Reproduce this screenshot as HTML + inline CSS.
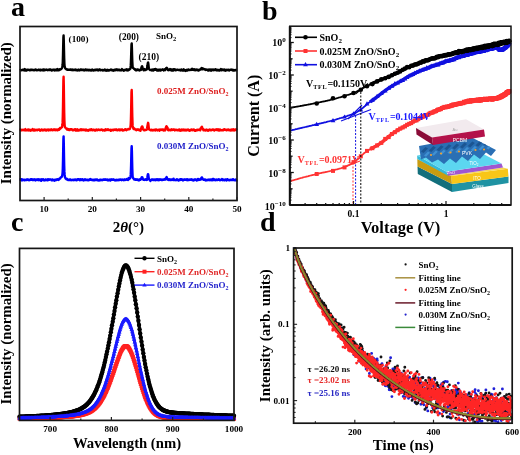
<!DOCTYPE html>
<html><head><meta charset="utf-8"><style>
html,body{margin:0;padding:0;background:#fff;}
svg{display:block;}
svg text{font-family:"Liberation Serif",serif;font-weight:bold;}
</style></head><body>
<svg width="520" height="455" viewBox="0 0 520 455">
<rect width="520" height="455" fill="#fff"/>
<text x="11" y="15.5" font-size="28" text-anchor="start" fill="#000" >a</text>
<path d="M20 70.2 L20.2 70.3 L20.4 70 L20.6 70 L20.8 70 L21 70.1 L21.2 70.1 L21.4 70.1 L21.5 70.2 L21.7 70.1 L21.9 70.2 L22.1 70 L22.3 69.9 L22.5 69.7 L22.7 70 L22.9 70 L23.1 70.1 L23.3 69.8 L23.5 69.8 L23.7 69.8 L23.9 69.9 L24.1 70.2 L24.2 70.4 L24.4 69.9 L24.6 69.3 L24.8 69.1 L25 69.5 L25.2 69.9 L25.4 70 L25.6 70.5 L25.8 70.2 L26 70.1 L26.2 70.1 L26.4 70.4 L26.6 70.6 L26.8 70.1 L26.9 69.7 L27.1 69.6 L27.3 69.7 L27.5 69.8 L27.7 69.7 L27.9 69.6 L28.1 69.7 L28.3 69.8 L28.5 69.8 L28.7 70 L28.9 69.9 L29.1 70 L29.3 70.2 L29.5 70.3 L29.6 70.1 L29.8 70 L30 69.9 L30.2 70.2 L30.4 69.9 L30.6 70.1 L30.8 70 L31 69.9 L31.2 69.7 L31.4 69.7 L31.6 70 L31.8 69.9 L32 69.7 L32.2 69.6 L32.3 69.7 L32.5 70 L32.7 70.1 L32.9 69.9 L33.1 69.9 L33.3 70 L33.5 70.2 L33.7 70 L33.9 69.9 L34.1 70 L34.3 70.3 L34.5 70.1 L34.7 69.8 L34.9 69.6 L35 69.6 L35.2 70 L35.4 70.1 L35.6 69.9 L35.8 69.5 L36 69.6 L36.2 70.1 L36.4 70.2 L36.6 70 L36.8 70 L37 70.2 L37.2 70.3 L37.4 70.3 L37.6 70.2 L37.7 70 L37.9 70.1 L38.1 69.7 L38.3 69.7 L38.5 69.6 L38.7 69.7 L38.9 69.8 L39.1 69.7 L39.3 70.1 L39.5 70 L39.7 70.2 L39.9 70.3 L40.1 70.4 L40.3 70.1 L40.4 69.6 L40.6 69.9 L40.8 70 L41 70.2 L41.2 69.9 L41.4 69.9 L41.6 70.1 L41.8 70.1 L42 70.2 L42.2 69.9 L42.4 69.9 L42.6 69.8 L42.8 70 L43 70.2 L43.1 70.1 L43.3 69.5 L43.5 69.4 L43.7 70.1 L43.9 70.4 L44.1 70 L44.3 69.7 L44.5 69.7 L44.7 69.8 L44.9 69.7 L45.1 69.9 L45.3 69.9 L45.5 70.1 L45.7 69.9 L45.8 69.8 L46 69.7 L46.2 69.6 L46.4 69.8 L46.6 69.6 L46.8 69.6 L47 69.8 L47.2 70 L47.4 70.2 L47.6 70.1 L47.8 70 L48 70 L48.2 69.9 L48.4 70.1 L48.5 69.9 L48.7 70 L48.9 69.8 L49.1 69.8 L49.3 69.5 L49.5 69.5 L49.7 70 L49.9 70 L50.1 70.1 L50.3 69.4 L50.5 69.6 L50.7 69.7 L50.9 70.1 L51.1 70 L51.2 69.8 L51.4 70 L51.6 70.3 L51.8 70.6 L52 70.5 L52.2 70.3 L52.4 69.9 L52.6 69.8 L52.8 69.9 L53 70 L53.2 70 L53.4 69.7 L53.6 69.8 L53.8 69.7 L53.9 69.8 L54.1 69.7 L54.3 70.1 L54.5 70.4 L54.7 70.3 L54.9 69.9 L55.1 70.3 L55.3 70.4 L55.5 70.4 L55.7 69.7 L55.9 69.6 L56.1 69.5 L56.3 69.7 L56.5 69.6 L56.6 70.1 L56.8 70.2 L57 69.8 L57.2 69.6 L57.4 69.1 L57.6 69.8 L57.8 69.8 L58 70.2 L58.2 69.8 L58.4 70 L58.6 70.3 L58.8 70.3 L59 70 L59.2 69.5 L59.3 69.7 L59.5 69.3 L59.7 69.8 L59.9 69.5 L60.1 69.7 L60.3 69.4 L60.5 69.4 L60.7 69.3 L60.9 69 L61.1 69 L61.3 68.7 L61.5 68.6 L61.7 68.4 L61.9 68.2 L62 67.9 L62.2 67.4 L62.4 66.7 L62.6 65 L62.8 61.5 L63 54.9 L63.2 45.8 L63.4 37.4 L63.6 35.5 L63.8 41.1 L64 50.5 L64.2 58.4 L64.4 63.5 L64.6 66 L64.8 66.8 L64.9 67.4 L65.1 68 L65.3 68.4 L65.5 68.7 L65.7 68.7 L65.9 68.9 L66.1 68.9 L66.3 69.1 L66.5 69.5 L66.7 69.2 L66.9 69.6 L67.1 69.5 L67.3 69.6 L67.5 69.4 L67.6 69.5 L67.8 69.8 L68 69.7 L68.2 69.8 L68.4 69.8 L68.6 69.7 L68.8 69.8 L69 69.7 L69.2 69.7 L69.4 69.6 L69.6 69.8 L69.8 69.9 L70 69.8 L70.2 69.8 L70.3 69.5 L70.5 69.5 L70.7 69.4 L70.9 69.5 L71.1 69.7 L71.3 69.7 L71.5 70.1 L71.7 69.9 L71.9 69.8 L72.1 69.7 L72.3 69.4 L72.5 70.1 L72.7 69.9 L72.9 70.2 L73 69.8 L73.2 70 L73.4 69.8 L73.6 69.7 L73.8 69.9 L74 70.1 L74.2 70 L74.4 69.9 L74.6 69.8 L74.8 70 L75 69.9 L75.2 70 L75.4 69.6 L75.6 69.5 L75.7 69.5 L75.9 69.9 L76.1 70 L76.3 70.3 L76.5 70.2 L76.7 70.2 L76.9 69.9 L77.1 70 L77.3 70.3 L77.5 70.4 L77.7 70.1 L77.9 69.8 L78.1 69.7 L78.3 69.7 L78.4 69.8 L78.6 69.8 L78.8 70.2 L79 70.2 L79.2 70.3 L79.4 70.2 L79.6 70.2 L79.8 70.4 L80 70.1 L80.2 70 L80.4 69.6 L80.6 69.7 L80.8 69.6 L81 69.7 L81.1 69.4 L81.3 69.9 L81.5 69.9 L81.7 70.1 L81.9 69.7 L82.1 69.6 L82.3 69.7 L82.5 69.7 L82.7 69.6 L82.9 69.6 L83.1 69.7 L83.3 70 L83.5 70.3 L83.7 70.4 L83.8 70.3 L84 69.8 L84.2 69.9 L84.4 69.9 L84.6 70.2 L84.8 70.4 L85 70 L85.2 69.9 L85.4 69.4 L85.6 69.9 L85.8 69.7 L86 69.8 L86.2 69.7 L86.4 70 L86.5 70.2 L86.7 70 L86.9 69.8 L87.1 69.9 L87.3 70 L87.5 69.8 L87.7 69.8 L87.9 69.9 L88.1 70.4 L88.3 70.2 L88.5 70.2 L88.7 69.9 L88.9 70.1 L89.1 69.8 L89.2 70.1 L89.4 70.2 L89.6 70.2 L89.8 70 L90 69.9 L90.2 70.2 L90.4 70.3 L90.6 70.1 L90.8 70 L91 70 L91.2 70.6 L91.4 70.2 L91.6 70 L91.8 69.8 L91.9 69.9 L92.1 69.8 L92.3 69.6 L92.5 70.1 L92.7 70.2 L92.9 70.2 L93.1 70 L93.3 70.4 L93.5 70.3 L93.7 70.5 L93.9 70 L94.1 70 L94.3 69.8 L94.5 70.1 L94.6 70.3 L94.8 70.2 L95 70.1 L95.2 70.1 L95.4 70.2 L95.6 70.1 L95.8 69.9 L96 69.6 L96.2 69.7 L96.4 69.8 L96.6 69.9 L96.8 70 L97 69.7 L97.2 69.8 L97.3 69.6 L97.5 70.2 L97.7 70 L97.9 70.2 L98.1 70 L98.3 70.3 L98.5 70.5 L98.7 70.1 L98.9 69.6 L99.1 69.5 L99.3 69.5 L99.5 69.9 L99.7 69.5 L99.9 69.9 L100 70.1 L100.2 70.2 L100.4 70.2 L100.6 70 L100.8 70.2 L101 70 L101.2 69.9 L101.4 70.1 L101.6 70.1 L101.8 70.1 L102 70.2 L102.2 70 L102.4 70.1 L102.6 70 L102.7 70.4 L102.9 70.2 L103.1 70.5 L103.3 70.3 L103.5 70.3 L103.7 69.9 L103.9 69.9 L104.1 70 L104.3 69.9 L104.5 69.6 L104.7 69.5 L104.9 69.6 L105.1 70 L105.3 70.3 L105.4 70.6 L105.6 70.5 L105.8 70.1 L106 70 L106.2 70.1 L106.4 70.6 L106.6 70.7 L106.8 70.5 L107 70.1 L107.2 69.9 L107.4 69.8 L107.6 69.7 L107.8 69.8 L108 70.3 L108.2 70.4 L108.3 70.6 L108.5 70.6 L108.7 70.6 L108.9 70.6 L109.1 70.4 L109.3 70.3 L109.5 70.1 L109.7 70 L109.9 70 L110.1 69.9 L110.3 69.9 L110.5 70.1 L110.7 69.9 L110.9 69.9 L111 69.5 L111.2 69.8 L111.4 69.9 L111.6 70.2 L111.8 70.2 L112 70.2 L112.2 70 L112.4 69.9 L112.6 69.9 L112.8 70.2 L113 70.3 L113.2 70.7 L113.4 70.5 L113.6 70.6 L113.7 70.4 L113.9 70.4 L114.1 70 L114.3 69.6 L114.5 69.6 L114.7 70 L114.9 70.3 L115.1 70.3 L115.3 70 L115.5 70 L115.7 69.6 L115.9 69.7 L116.1 69.6 L116.3 69.8 L116.4 70.1 L116.6 69.9 L116.8 69.9 L117 69.3 L117.2 69.8 L117.4 69.8 L117.6 70.1 L117.8 70 L118 70.3 L118.2 69.9 L118.4 69.7 L118.6 69.9 L118.8 69.9 L119 69.9 L119.1 69.6 L119.3 69.9 L119.5 70.1 L119.7 70.3 L119.9 70 L120.1 70.1 L120.3 70 L120.5 70 L120.7 70.1 L120.9 70.4 L121.1 70.5 L121.3 70.3 L121.5 70.1 L121.7 70 L121.8 69.6 L122 69.1 L122.2 69.2 L122.4 69.5 L122.6 69.9 L122.8 70 L123 69.9 L123.2 69.9 L123.4 70.2 L123.6 70.6 L123.8 70.7 L124 70.3 L124.2 70.3 L124.4 69.9 L124.5 70.1 L124.7 69.9 L124.9 70.2 L125.1 70.2 L125.3 70 L125.5 69.8 L125.7 69.9 L125.9 69.9 L126.1 69.8 L126.3 69.4 L126.5 69.3 L126.7 69.6 L126.9 70 L127.1 70.4 L127.2 70.2 L127.4 70 L127.6 69.8 L127.8 69.6 L128 69.8 L128.2 69.9 L128.4 70.2 L128.6 69.8 L128.8 69.6 L129 69.3 L129.2 69.7 L129.4 69.6 L129.6 69.2 L129.8 68.7 L129.9 68.8 L130.1 69 L130.3 68.7 L130.5 67.7 L130.7 65.9 L130.9 62.6 L131.1 57.4 L131.3 50.6 L131.5 44.6 L131.7 43.4 L131.9 47.8 L132.1 55.2 L132.3 61.2 L132.5 64.9 L132.6 66.8 L132.8 67.6 L133 67.8 L133.2 67.8 L133.4 68.2 L133.6 68.3 L133.8 68.6 L134 68.6 L134.2 69 L134.4 68.9 L134.6 68.9 L134.8 69.1 L135 69.7 L135.2 69.9 L135.3 69.7 L135.5 69.4 L135.7 69.4 L135.9 70.1 L136.1 70.4 L136.3 70.3 L136.5 70.3 L136.7 70.2 L136.9 70.1 L137.1 69.5 L137.3 69.5 L137.5 69.9 L137.7 69.9 L137.9 70 L138 69.4 L138.2 69.7 L138.4 69.8 L138.6 70.1 L138.8 70.2 L139 70.1 L139.2 70.3 L139.4 70.5 L139.6 70.5 L139.8 70.3 L140 69.9 L140.2 69.6 L140.4 69.7 L140.6 69.7 L140.7 70.1 L140.9 70.1 L141.1 69.6 L141.3 68.4 L141.5 67.7 L141.7 66.8 L141.9 66.4 L142.1 66.3 L142.3 66.8 L142.5 67.4 L142.7 67.9 L142.9 68.8 L143.1 69.4 L143.3 69.9 L143.4 70 L143.6 70.1 L143.8 70.3 L144 70 L144.2 69.8 L144.4 69.3 L144.6 69.1 L144.8 69.3 L145 69.8 L145.2 70.1 L145.4 70.1 L145.6 69.7 L145.8 69.6 L146 69.6 L146.1 69.7 L146.3 69.5 L146.5 69.4 L146.7 69.5 L146.9 68.9 L147.1 68.2 L147.3 66.4 L147.5 65.3 L147.7 63.8 L147.9 62.8 L148.1 62.5 L148.3 63.6 L148.5 65.3 L148.7 67.1 L148.8 68.1 L149 68.7 L149.2 69.1 L149.4 69.4 L149.6 69.7 L149.8 69.8 L150 69.9 L150.2 70.1 L150.4 70.1 L150.6 69.9 L150.8 70.1 L151 69.8 L151.2 70 L151.4 69.7 L151.6 70.2 L151.7 70.1 L151.9 70.6 L152.1 70.1 L152.3 70 L152.5 69.9 L152.7 69.6 L152.9 69.4 L153.1 69.5 L153.3 70.1 L153.5 70.4 L153.7 70.2 L153.9 70.2 L154.1 69.9 L154.3 69.7 L154.4 69.3 L154.6 69.3 L154.8 69.5 L155 69.7 L155.2 69.1 L155.4 68.9 L155.6 68.9 L155.8 69.6 L156 69.8 L156.2 69.8 L156.4 69.3 L156.6 69.8 L156.8 69.7 L157 70.5 L157.1 70.4 L157.3 70.6 L157.5 70.2 L157.7 70 L157.9 69.7 L158.1 69.9 L158.3 69.8 L158.5 70.1 L158.7 70.3 L158.9 70.6 L159.1 70.4 L159.3 70.4 L159.5 70 L159.7 69.9 L159.8 69.6 L160 69.5 L160.2 69.9 L160.4 70.2 L160.6 70.6 L160.8 70.4 L161 70.3 L161.2 69.9 L161.4 69.7 L161.6 69.8 L161.8 69.9 L162 69.9 L162.2 69.9 L162.4 69.6 L162.5 69.8 L162.7 69.5 L162.9 69.7 L163.1 69.6 L163.3 69.9 L163.5 70.1 L163.7 70.5 L163.9 70.3 L164.1 70 L164.3 69.7 L164.5 69.4 L164.7 69.7 L164.9 70 L165.1 70.2 L165.2 69.8 L165.4 69.3 L165.6 69 L165.8 68.6 L166 68.3 L166.2 68.1 L166.4 68 L166.6 67.8 L166.8 67.9 L167 68.1 L167.2 68.3 L167.4 68.7 L167.6 69.2 L167.8 69.9 L167.9 69.8 L168.1 69.6 L168.3 69.5 L168.5 69.9 L168.7 70.2 L168.9 69.7 L169.1 69.6 L169.3 69.4 L169.5 69.6 L169.7 69.2 L169.9 69.5 L170.1 69.1 L170.3 69.5 L170.5 69.8 L170.6 70.2 L170.8 70.3 L171 70 L171.2 69.8 L171.4 69.4 L171.6 69.7 L171.8 69.9 L172 70.5 L172.2 70 L172.4 70 L172.6 69.7 L172.8 70.2 L173 70.6 L173.2 70.4 L173.3 70 L173.5 69.3 L173.7 69.7 L173.9 69.9 L174.1 70.1 L174.3 69.8 L174.5 69.4 L174.7 69.2 L174.9 69.4 L175.1 69.9 L175.3 70.2 L175.5 69.9 L175.7 69.9 L175.9 70.2 L176 70.2 L176.2 70.1 L176.4 69.7 L176.6 70 L176.8 70 L177 70 L177.2 69.8 L177.4 69.8 L177.6 69.7 L177.8 69.8 L178 69.8 L178.2 70 L178.4 70 L178.6 69.9 L178.7 70 L178.9 70.1 L179.1 70.1 L179.3 70 L179.5 70.1 L179.7 70.2 L179.9 70.1 L180.1 69.8 L180.3 69.9 L180.5 70.1 L180.7 70.4 L180.9 70 L181.1 69.8 L181.3 69.6 L181.4 69.8 L181.6 69.8 L181.8 69.7 L182 70 L182.2 70 L182.4 70.4 L182.6 70.2 L182.8 70.5 L183 70.6 L183.2 70.2 L183.4 69.9 L183.6 69.3 L183.8 69.5 L184 69.6 L184.1 70.2 L184.3 70.5 L184.5 70.3 L184.7 70.2 L184.9 70 L185.1 70.3 L185.3 70.5 L185.5 70.4 L185.7 70.9 L185.9 70.6 L186.1 70.6 L186.3 70 L186.5 70.2 L186.7 70.3 L186.8 70.1 L187 70.2 L187.2 70.1 L187.4 70.5 L187.6 70.5 L187.8 70.3 L188 69.8 L188.2 69.4 L188.4 69.7 L188.6 69.9 L188.8 70.1 L189 69.9 L189.2 69.9 L189.4 70.1 L189.5 70 L189.7 69.8 L189.9 69.6 L190.1 69.7 L190.3 69.6 L190.5 69.8 L190.7 69.9 L190.9 70 L191.1 69.4 L191.3 69.5 L191.5 69.3 L191.7 69.4 L191.9 68.9 L192.1 68.8 L192.2 69.4 L192.4 69.6 L192.6 69.8 L192.8 69.2 L193 69.4 L193.2 69.3 L193.4 69.5 L193.6 69.6 L193.8 69.6 L194 70 L194.2 70.2 L194.4 70 L194.6 69.8 L194.8 69.3 L195 69.7 L195.1 69.9 L195.3 69.9 L195.5 70.2 L195.7 70 L195.9 70 L196.1 69.7 L196.3 69.9 L196.5 69.9 L196.7 69.9 L196.9 69.5 L197.1 70 L197.3 70 L197.5 70.2 L197.7 70.1 L197.8 69.9 L198 69.9 L198.2 70 L198.4 70.2 L198.6 70.6 L198.8 70.2 L199 70.1 L199.2 69.8 L199.4 69.8 L199.6 69.9 L199.8 69.7 L200 69.5 L200.2 69.3 L200.4 69.3 L200.5 69.4 L200.7 69.6 L200.9 69 L201.1 68.8 L201.3 68.3 L201.5 68.2 L201.7 67.9 L201.9 68.1 L202.1 68.5 L202.3 68.8 L202.5 69 L202.7 69.3 L202.9 69.3 L203.1 68.9 L203.2 68.6 L203.4 68.7 L203.6 68.9 L203.8 69.1 L204 69.2 L204.2 69.3 L204.4 69.5 L204.6 69.2 L204.8 69.5 L205 69.2 L205.2 69.3 L205.4 69.4 L205.6 69.5 L205.8 69.9 L205.9 69.6 L206.1 69.8 L206.3 69.5 L206.5 69.7 L206.7 69.7 L206.9 69.7 L207.1 69.8 L207.3 69.7 L207.5 69.7 L207.7 69.7 L207.9 70.2 L208.1 70.5 L208.3 70.4 L208.5 70.6 L208.6 70.2 L208.8 70 L209 69.4 L209.2 69.8 L209.4 70 L209.6 70.4 L209.8 70.4 L210 70.3 L210.2 70 L210.4 69.6 L210.6 70.1 L210.8 70.4 L211 70.7 L211.2 70.2 L211.3 70 L211.5 69.8 L211.7 69.8 L211.9 69.4 L212.1 69.5 L212.3 69.5 L212.5 70 L212.7 70 L212.9 70.2 L213.1 70.2 L213.3 70.3 L213.5 69.7 L213.7 69.5 L213.9 69.6 L214 69.9 L214.2 70 L214.4 69.8 L214.6 69.9 L214.8 70.1 L215 69.7 L215.2 69.5 L215.4 69.1 L215.6 69.1 L215.8 69.4 L216 69.6 L216.2 70 L216.4 69.8 L216.6 70.3 L216.7 70.3 L216.9 70.4 L217.1 70 L217.3 70 L217.5 69.9 L217.7 69.8 L217.9 70.1 L218.1 70.3 L218.3 70.5 L218.5 70.2 L218.7 69.9 L218.9 70.1 L219.1 70.2 L219.3 70.4 L219.4 70.2 L219.6 70.5 L219.8 70.1 L220 69.9 L220.2 69.6 L220.4 69.8 L220.6 69.4 L220.8 69.5 L221 69 L221.2 69.5 L221.4 69.6 L221.6 70.3 L221.8 70 L222 70.1 L222.1 69.8 L222.3 69.8 L222.5 69.4 L222.7 69.4 L222.9 69.7 L223.1 70 L223.3 69.8 L223.5 69.7 L223.7 69.7 L223.9 70.1 L224.1 70.3 L224.3 69.9 L224.5 70 L224.7 69.6 L224.8 69.9 L225 70 L225.2 70.6 L225.4 70.7 L225.6 70.6 L225.8 70.1 L226 70 L226.2 70 L226.4 70.1 L226.6 70.2 L226.8 69.7 L227 69.7 L227.2 69.9 L227.4 70 L227.5 69.9 L227.7 70.1 L227.9 70.2 L228.1 70.3 L228.3 69.8 L228.5 69.6 L228.7 69.6 L228.9 70.1 L229.1 70.1 L229.3 70.5 L229.5 70 L229.7 70.1 L229.9 69.9 L230.1 70 L230.2 70 L230.4 69.8 L230.6 69.9 L230.8 69.7 L231 69.7 L231.2 69.6 L231.4 69.9 L231.6 70 L231.8 70 L232 70 L232.2 69.8 L232.4 70.1 L232.6 70.1 L232.8 70.4 L232.9 70.1 L233.1 70.3 L233.3 69.9 L233.5 70 L233.7 69.9 L233.9 70.4 L234.1 70.6 L234.3 70.5 L234.5 70.3 L234.7 70.1 L234.9 70.1 L235.1 69.9 L235.3 70 L235.5 70.3 L235.6 70.1 L235.8 70.1 L236 70.1 L236.2 70.2 L236.4 70.2 L236.6 69.9 L236.8 70 L237 70" fill="none" stroke="#000" stroke-width="2.4" stroke-linejoin="round"/>
<path d="M20 129.9 L20.2 129.9 L20.4 129.4 L20.6 129.8 L20.8 130.1 L21 130.5 L21.2 130.3 L21.4 130.1 L21.5 130.1 L21.7 130.1 L21.9 130 L22.1 130.1 L22.3 129.7 L22.5 129.9 L22.7 129.9 L22.9 130.2 L23.1 130 L23.3 130 L23.5 129.7 L23.7 130 L23.9 130 L24.1 130.2 L24.2 130.2 L24.4 129.9 L24.6 130 L24.8 130.3 L25 130.2 L25.2 129.8 L25.4 129.1 L25.6 129.6 L25.8 129.9 L26 130.4 L26.2 130.3 L26.4 130.4 L26.6 130.2 L26.8 130.1 L26.9 130.2 L27.1 129.9 L27.3 129.9 L27.5 129.8 L27.7 130.3 L27.9 130.2 L28.1 130 L28.3 129.6 L28.5 129.9 L28.7 130 L28.9 130.4 L29.1 129.8 L29.3 130.1 L29.5 130 L29.6 130.1 L29.8 130 L30 130 L30.2 130.3 L30.4 130.4 L30.6 130.6 L30.8 130.7 L31 130.4 L31.2 129.8 L31.4 129.9 L31.6 129.9 L31.8 130 L32 129.9 L32.2 130.1 L32.3 129.9 L32.5 129.6 L32.7 129.1 L32.9 129.5 L33.1 129.8 L33.3 130.5 L33.5 130.3 L33.7 130.1 L33.9 129.9 L34.1 129.9 L34.3 129.8 L34.5 129.6 L34.7 129.9 L34.9 130.2 L35 130.5 L35.2 130.1 L35.4 129.9 L35.6 130 L35.8 130 L36 130 L36.2 129.8 L36.4 129.7 L36.6 129.8 L36.8 130.1 L37 130.1 L37.2 130.3 L37.4 130 L37.6 130.2 L37.7 129.7 L37.9 129.8 L38.1 129.8 L38.3 129.9 L38.5 129.8 L38.7 129.7 L38.9 129.6 L39.1 129.4 L39.3 129.5 L39.5 129.7 L39.7 130.2 L39.9 130.3 L40.1 130.7 L40.3 130.6 L40.4 130.4 L40.6 130.3 L40.8 130.1 L41 130.3 L41.2 129.8 L41.4 130.1 L41.6 129.5 L41.8 129.9 L42 129.8 L42.2 129.9 L42.4 130.1 L42.6 130.3 L42.8 130.4 L43 130 L43.1 129.8 L43.3 129.8 L43.5 130.1 L43.7 130.2 L43.9 130.1 L44.1 129.9 L44.3 129.7 L44.5 129.5 L44.7 129.5 L44.9 129.6 L45.1 130 L45.3 130.3 L45.5 130.2 L45.7 130.2 L45.8 129.8 L46 130.4 L46.2 130.3 L46.4 130.4 L46.6 129.9 L46.8 129.7 L47 129.7 L47.2 129.8 L47.4 130 L47.6 129.7 L47.8 129.9 L48 129.6 L48.2 130.2 L48.4 130.1 L48.5 130.4 L48.7 129.9 L48.9 130 L49.1 129.6 L49.3 129.8 L49.5 129.7 L49.7 129.8 L49.9 130 L50.1 130.1 L50.3 130.3 L50.5 130.2 L50.7 129.8 L50.9 129.5 L51.1 129.5 L51.2 129.4 L51.4 129.7 L51.6 129.6 L51.8 130 L52 130 L52.2 130.2 L52.4 130.3 L52.6 129.9 L52.8 129.8 L53 129.9 L53.2 129.9 L53.4 130 L53.6 130 L53.8 129.8 L53.9 129.7 L54.1 129.3 L54.3 129.9 L54.5 130 L54.7 130.1 L54.9 129.7 L55.1 129.5 L55.3 129.7 L55.5 130.1 L55.7 130.2 L55.9 130.2 L56.1 130 L56.3 129.5 L56.5 129.6 L56.6 129.7 L56.8 130 L57 129.8 L57.2 129.7 L57.4 130.1 L57.6 130.3 L57.8 129.9 L58 129.8 L58.2 129.4 L58.4 129.7 L58.6 129.3 L58.8 129.7 L59 129.4 L59.2 129.7 L59.3 129.5 L59.5 129.2 L59.7 128.4 L59.9 128.1 L60.1 128.5 L60.3 128.7 L60.5 128.6 L60.7 128.1 L60.9 128 L61.1 127.9 L61.3 127.9 L61.5 127.4 L61.7 127.3 L61.9 127.2 L62 126.6 L62.2 126.1 L62.4 124.8 L62.6 122.4 L62.8 116.4 L63 106.5 L63.2 92.7 L63.4 80.3 L63.6 76.7 L63.8 85.6 L64 100 L64.2 112.5 L64.4 120.3 L64.6 124.6 L64.8 126.6 L64.9 127.1 L65.1 127.5 L65.3 127.4 L65.5 127.9 L65.7 127.9 L65.9 128.3 L66.1 128.2 L66.3 128.6 L66.5 128.9 L66.7 129.4 L66.9 129.5 L67.1 129.4 L67.3 129.2 L67.5 128.8 L67.6 128.9 L67.8 129.3 L68 129.7 L68.2 129.9 L68.4 129.5 L68.6 129.5 L68.8 129.3 L69 129.3 L69.2 129.7 L69.4 130 L69.6 130.1 L69.8 129.7 L70 129.5 L70.2 129.4 L70.3 129.6 L70.5 129.4 L70.7 129.6 L70.9 129.4 L71.1 129.5 L71.3 129.3 L71.5 129.3 L71.7 129.2 L71.9 129.3 L72.1 129.5 L72.3 129.7 L72.5 130.1 L72.7 130.3 L72.9 130.3 L73 130.1 L73.2 129.9 L73.4 130.2 L73.6 130.2 L73.8 130 L74 129.9 L74.2 130 L74.4 129.7 L74.6 129.5 L74.8 129.2 L75 129.4 L75.2 129.3 L75.4 129.2 L75.6 129.7 L75.7 129.9 L75.9 130.6 L76.1 130.4 L76.3 130.6 L76.5 130.1 L76.7 130.2 L76.9 129.8 L77.1 129.4 L77.3 129.3 L77.5 129.6 L77.7 130.2 L77.9 130.5 L78.1 130.5 L78.3 130 L78.4 130.2 L78.6 130.3 L78.8 130.4 L79 130.1 L79.2 129.7 L79.4 130 L79.6 130.1 L79.8 130.3 L80 130.1 L80.2 130.1 L80.4 130 L80.6 129.7 L80.8 129.4 L81 129.2 L81.1 129.5 L81.3 130.1 L81.5 130.2 L81.7 130.1 L81.9 129.8 L82.1 129.9 L82.3 129.9 L82.5 129.6 L82.7 130 L82.9 129.9 L83.1 130.1 L83.3 130 L83.5 130 L83.7 129.7 L83.8 129.5 L84 129.7 L84.2 130 L84.4 130.1 L84.6 129.8 L84.8 129.9 L85 129.9 L85.2 130.1 L85.4 130.5 L85.6 130.3 L85.8 130.1 L86 129.5 L86.2 129.7 L86.4 129.9 L86.5 130.4 L86.7 130.2 L86.9 130.5 L87.1 130.6 L87.3 130.4 L87.5 130.2 L87.7 130.2 L87.9 130 L88.1 130.2 L88.3 130.2 L88.5 130.7 L88.7 130.3 L88.9 130.2 L89.1 129.8 L89.2 129.8 L89.4 129.7 L89.6 129.9 L89.8 129.8 L90 130 L90.2 130.2 L90.4 130 L90.6 130.1 L90.8 129.6 L91 129.4 L91.2 129.2 L91.4 129.6 L91.6 130 L91.8 129.8 L91.9 129.8 L92.1 129.7 L92.3 130.2 L92.5 130.2 L92.7 130.3 L92.9 129.9 L93.1 129.9 L93.3 129.7 L93.5 130 L93.7 129.9 L93.9 129.8 L94.1 129.8 L94.3 130.3 L94.5 130.5 L94.6 130.4 L94.8 130 L95 130.2 L95.2 130.2 L95.4 130.6 L95.6 130.5 L95.8 130.2 L96 129.8 L96.2 129.5 L96.4 129.5 L96.6 129.8 L96.8 130.1 L97 130.1 L97.2 130.2 L97.3 130.1 L97.5 130.2 L97.7 129.9 L97.9 129.9 L98.1 129.9 L98.3 129.5 L98.5 129.5 L98.7 129.7 L98.9 129.6 L99.1 129.7 L99.3 129.7 L99.5 130.1 L99.7 130 L99.9 129.9 L100 129.8 L100.2 129.7 L100.4 130 L100.6 129.9 L100.8 130 L101 129.8 L101.2 129.9 L101.4 129.8 L101.6 129.5 L101.8 129.5 L102 129.6 L102.2 129.9 L102.4 129.9 L102.6 130.4 L102.7 130.3 L102.9 130.5 L103.1 129.9 L103.3 129.9 L103.5 130.1 L103.7 130.1 L103.9 130.4 L104.1 130.4 L104.3 130.2 L104.5 130.2 L104.7 129.9 L104.9 130.6 L105.1 130.3 L105.3 130.2 L105.4 129.4 L105.6 129.2 L105.8 129.3 L106 129.5 L106.2 129.5 L106.4 129.5 L106.6 129.6 L106.8 130.1 L107 129.9 L107.2 129.8 L107.4 129.4 L107.6 129.4 L107.8 129.3 L108 129.3 L108.2 129.7 L108.3 129.9 L108.5 130 L108.7 130 L108.9 130 L109.1 130.1 L109.3 130.1 L109.5 129.9 L109.7 130 L109.9 130 L110.1 130.1 L110.3 129.8 L110.5 130 L110.7 130.1 L110.9 130.8 L111 130.4 L111.2 130.6 L111.4 129.9 L111.6 130.1 L111.8 130.1 L112 130 L112.2 130 L112.4 129.8 L112.6 130 L112.8 130.1 L113 130.3 L113.2 130.4 L113.4 130.4 L113.6 130.1 L113.7 129.8 L113.9 129.6 L114.1 129.5 L114.3 129.9 L114.5 129.9 L114.7 129.8 L114.9 129.8 L115.1 129.7 L115.3 129.8 L115.5 129.6 L115.7 129.9 L115.9 129.6 L116.1 129.4 L116.3 129.4 L116.4 129.7 L116.6 129.8 L116.8 129.6 L117 130 L117.2 130 L117.4 130.3 L117.6 130.2 L117.8 130.2 L118 130.1 L118.2 129.9 L118.4 129.9 L118.6 129.6 L118.8 129.8 L119 129.8 L119.1 129.9 L119.3 129.6 L119.5 130 L119.7 130.2 L119.9 130.4 L120.1 129.9 L120.3 129.5 L120.5 129.6 L120.7 129.8 L120.9 129.8 L121.1 130 L121.3 130 L121.5 130.1 L121.7 129.8 L121.8 129.6 L122 129.8 L122.2 129.9 L122.4 129.6 L122.6 129.9 L122.8 129.9 L123 130.5 L123.2 130.4 L123.4 130.3 L123.6 130.2 L123.8 130.1 L124 130.2 L124.2 130.1 L124.4 129.9 L124.5 129.7 L124.7 129.6 L124.9 129.6 L125.1 129.2 L125.3 129.4 L125.5 129.3 L125.7 129.6 L125.9 129.5 L126.1 129.8 L126.3 130.2 L126.5 130.2 L126.7 129.9 L126.9 129.5 L127.1 129.4 L127.2 129.7 L127.4 129.5 L127.6 129.5 L127.8 129.2 L128 129.2 L128.2 129 L128.4 128.9 L128.6 128.9 L128.8 129.4 L129 129.4 L129.2 129.2 L129.4 128.9 L129.6 128.9 L129.8 129 L129.9 128.7 L130.1 128.1 L130.3 127.4 L130.5 126.6 L130.7 124.6 L130.9 120.3 L131.1 112.3 L131.3 101.8 L131.5 92.1 L131.7 90 L131.9 96.6 L132.1 107.5 L132.3 116.7 L132.5 122.5 L132.6 125.4 L132.8 126.7 L133 127.1 L133.2 127.8 L133.4 128.6 L133.6 129 L133.8 129.1 L134 128.7 L134.2 128.7 L134.4 128.6 L134.6 129.3 L134.8 129.4 L135 129.4 L135.2 129.5 L135.3 129.4 L135.5 129.7 L135.7 129.5 L135.9 129.9 L136.1 129.8 L136.3 130.2 L136.5 130.1 L136.7 130 L136.9 129.5 L137.1 129.6 L137.3 129.4 L137.5 129.7 L137.7 129.9 L137.9 129.9 L138 129.4 L138.2 129.5 L138.4 129.9 L138.6 129.8 L138.8 129.7 L139 129.7 L139.2 130 L139.4 130.1 L139.6 129.7 L139.8 130 L140 129.9 L140.2 130.6 L140.4 130.8 L140.6 130.6 L140.7 129.9 L140.9 129.2 L141.1 128.7 L141.3 128.2 L141.5 127.2 L141.7 126.9 L141.9 126.5 L142.1 126.5 L142.3 126.4 L142.5 126.9 L142.7 127.9 L142.9 128.6 L143.1 129.1 L143.3 129.5 L143.4 129.6 L143.6 130 L143.8 130.2 L144 130.2 L144.2 130 L144.4 129.8 L144.6 130 L144.8 130.2 L145 130.2 L145.2 130 L145.4 130 L145.6 130.1 L145.8 130 L146 129.9 L146.1 129.7 L146.3 129.7 L146.5 129.8 L146.7 129.6 L146.9 129.3 L147.1 128.4 L147.3 127 L147.5 125.8 L147.7 124.6 L147.9 123.5 L148.1 122.8 L148.3 123.6 L148.5 125.4 L148.7 127.1 L148.8 128.4 L149 128.8 L149.2 129.4 L149.4 129.6 L149.6 129.7 L149.8 129.6 L150 129.6 L150.2 130.2 L150.4 130.2 L150.6 130.1 L150.8 130.2 L151 130.3 L151.2 130 L151.4 129.7 L151.6 129.7 L151.7 130.1 L151.9 130.2 L152.1 130.1 L152.3 130.3 L152.5 130.2 L152.7 130.4 L152.9 130.1 L153.1 130.3 L153.3 130.3 L153.5 130.3 L153.7 130.1 L153.9 129.8 L154.1 129.7 L154.3 129.7 L154.4 129.9 L154.6 129.9 L154.8 129.9 L155 130.1 L155.2 130.4 L155.4 130.1 L155.6 129.9 L155.8 129.5 L156 129.4 L156.2 129.5 L156.4 129.5 L156.6 129.9 L156.8 129.7 L157 130 L157.1 130.3 L157.3 130.5 L157.5 130.4 L157.7 130.1 L157.9 130.1 L158.1 129.9 L158.3 129.9 L158.5 129.7 L158.7 129.9 L158.9 130.1 L159.1 130.3 L159.3 130.4 L159.5 130.8 L159.7 130.3 L159.8 130.1 L160 129.5 L160.2 129.8 L160.4 129.6 L160.6 129.7 L160.8 129.7 L161 129.8 L161.2 129.8 L161.4 129.7 L161.6 129.4 L161.8 129.7 L162 129.7 L162.2 130 L162.4 129.8 L162.5 129.8 L162.7 129.5 L162.9 129.6 L163.1 129.4 L163.3 129.8 L163.5 129.7 L163.7 130.2 L163.9 130.5 L164.1 130.5 L164.3 130.1 L164.5 129.8 L164.7 129.9 L164.9 130.4 L165.1 130.4 L165.2 129.9 L165.4 129.4 L165.6 128.8 L165.8 128.2 L166 127.2 L166.2 126.7 L166.4 126.3 L166.6 126.3 L166.8 126.6 L167 127.2 L167.2 127.3 L167.4 127.5 L167.6 128.1 L167.8 129 L167.9 130 L168.1 130.2 L168.3 130.3 L168.5 130.1 L168.7 130.3 L168.9 130.3 L169.1 130.2 L169.3 129.8 L169.5 129.7 L169.7 129.8 L169.9 129.8 L170.1 130.1 L170.3 130 L170.5 130.4 L170.6 130.4 L170.8 130.4 L171 129.9 L171.2 129.5 L171.4 129.3 L171.6 129.9 L171.8 129.8 L172 129.8 L172.2 129.6 L172.4 130 L172.6 129.9 L172.8 129.7 L173 129.6 L173.2 129.5 L173.3 129.8 L173.5 129.6 L173.7 129.7 L173.9 129.5 L174.1 129.4 L174.3 129.8 L174.5 129.9 L174.7 130.4 L174.9 130.3 L175.1 130.3 L175.3 129.9 L175.5 129.9 L175.7 130.1 L175.9 129.8 L176 130 L176.2 129.7 L176.4 130 L176.6 130 L176.8 130.2 L177 130.3 L177.2 130.1 L177.4 130 L177.6 130 L177.8 130 L178 130 L178.2 130.2 L178.4 130.2 L178.6 130.2 L178.7 129.8 L178.9 129.8 L179.1 129.4 L179.3 129.8 L179.5 129.6 L179.7 130.2 L179.9 130.6 L180.1 130.7 L180.3 130.7 L180.5 130.2 L180.7 130.2 L180.9 129.8 L181.1 129.8 L181.3 130.2 L181.4 130.4 L181.6 130 L181.8 129.6 L182 129.5 L182.2 130 L182.4 130.3 L182.6 130.4 L182.8 130.3 L183 130.2 L183.2 130.2 L183.4 129.9 L183.6 129.6 L183.8 129.7 L184 129.8 L184.1 130.3 L184.3 130 L184.5 129.8 L184.7 129.8 L184.9 130.1 L185.1 130.5 L185.3 130.2 L185.5 130.1 L185.7 129.8 L185.9 130 L186.1 129.8 L186.3 130.1 L186.5 130.2 L186.7 130.4 L186.8 130 L187 130 L187.2 129.9 L187.4 130.1 L187.6 129.7 L187.8 129.6 L188 129.9 L188.2 130 L188.4 129.7 L188.6 129.7 L188.8 129.8 L189 130.5 L189.2 130.2 L189.4 130.7 L189.5 130.5 L189.7 130.8 L189.9 130.7 L190.1 130.4 L190.3 130.5 L190.5 130.1 L190.7 130.1 L190.9 129.7 L191.1 129.5 L191.3 129.5 L191.5 129.5 L191.7 129.9 L191.9 130.2 L192.1 130.3 L192.2 130.2 L192.4 130 L192.6 129.7 L192.8 129.8 L193 129.7 L193.2 130 L193.4 129.8 L193.6 129.4 L193.8 129.4 L194 129.6 L194.2 130.3 L194.4 130.5 L194.6 130.7 L194.8 130.5 L195 130.5 L195.1 130.2 L195.3 130.3 L195.5 130.2 L195.7 130.8 L195.9 130.7 L196.1 130.3 L196.3 130.1 L196.5 129.9 L196.7 130.1 L196.9 129.8 L197.1 129.8 L197.3 130 L197.5 130.2 L197.7 130.2 L197.8 130 L198 129.8 L198.2 130 L198.4 130 L198.6 129.9 L198.8 129.7 L199 129.7 L199.2 129.8 L199.4 129.8 L199.6 129.8 L199.8 129.8 L200 130.4 L200.2 130.4 L200.4 129.6 L200.5 128.8 L200.7 128.3 L200.9 128.4 L201.1 128.3 L201.3 128.1 L201.5 127.2 L201.7 126.8 L201.9 126.7 L202.1 127.4 L202.3 127.9 L202.5 128.2 L202.7 128.8 L202.9 128.7 L203.1 129.2 L203.2 129.4 L203.4 130.3 L203.6 130.2 L203.8 129.9 L204 129.7 L204.2 129.7 L204.4 130.3 L204.6 130 L204.8 130 L205 129.9 L205.2 130.1 L205.4 130.4 L205.6 129.9 L205.8 130.2 L205.9 129.9 L206.1 130.3 L206.3 129.9 L206.5 129.7 L206.7 129.5 L206.9 129.7 L207.1 130.3 L207.3 130.4 L207.5 130.5 L207.7 130.3 L207.9 130.8 L208.1 130.5 L208.3 130.6 L208.5 130.1 L208.6 130.2 L208.8 129.9 L209 130.2 L209.2 129.9 L209.4 129.7 L209.6 129.5 L209.8 129.5 L210 129.9 L210.2 130.1 L210.4 130.2 L210.6 130.2 L210.8 129.9 L211 130 L211.2 129.9 L211.3 130.3 L211.5 130.3 L211.7 130.2 L211.9 129.7 L212.1 129.9 L212.3 129.7 L212.5 129.8 L212.7 129.5 L212.9 129.4 L213.1 129.4 L213.3 129.6 L213.5 130.1 L213.7 130.1 L213.9 130 L214 130.1 L214.2 130.6 L214.4 130.3 L214.6 130.2 L214.8 129.8 L215 129.9 L215.2 130 L215.4 130 L215.6 129.9 L215.8 129.6 L216 129.5 L216.2 129.3 L216.4 129.4 L216.6 129.5 L216.7 129.8 L216.9 130.1 L217.1 130.1 L217.3 130 L217.5 130 L217.7 130.2 L217.9 129.8 L218.1 129.3 L218.3 129.4 L218.5 129.9 L218.7 130.4 L218.9 130 L219.1 130.1 L219.3 130.3 L219.4 130.5 L219.6 130.2 L219.8 129.6 L220 129.7 L220.2 129.5 L220.4 130 L220.6 129.9 L220.8 130.3 L221 130.4 L221.2 130.2 L221.4 130.3 L221.6 130.2 L221.8 130.3 L222 130.1 L222.1 130.2 L222.3 130.2 L222.5 130.3 L222.7 130 L222.9 129.9 L223.1 130.4 L223.3 130.4 L223.5 130.4 L223.7 129.8 L223.9 129.5 L224.1 129.2 L224.3 129.5 L224.5 129.7 L224.7 129.8 L224.8 129.5 L225 129.5 L225.2 129.6 L225.4 129.6 L225.6 129.7 L225.8 129.8 L226 130.1 L226.2 130.1 L226.4 130 L226.6 130.3 L226.8 129.9 L227 130.1 L227.2 130 L227.4 130.1 L227.5 130.1 L227.7 129.8 L227.9 129.5 L228.1 129.4 L228.3 129.5 L228.5 129.9 L228.7 130 L228.9 130.2 L229.1 130.2 L229.3 130.2 L229.5 130.1 L229.7 130 L229.9 129.8 L230.1 130.2 L230.2 129.9 L230.4 130 L230.6 129.8 L230.8 130.2 L231 130.5 L231.2 130.4 L231.4 130.1 L231.6 129.8 L231.8 129.4 L232 129.8 L232.2 130.2 L232.4 130.3 L232.6 130.3 L232.8 129.9 L232.9 129.7 L233.1 129.6 L233.3 129.3 L233.5 129.5 L233.7 129.6 L233.9 130 L234.1 130.4 L234.3 130.3 L234.5 130.2 L234.7 130 L234.9 130.2 L235.1 129.6 L235.3 129.4 L235.5 129.5 L235.6 129.8 L235.8 130 L236 130 L236.2 129.8 L236.4 129.7 L236.6 129.6 L236.8 130 L237 130" fill="none" stroke="#f00" stroke-width="2.4" stroke-linejoin="round"/>
<path d="M20 179.7 L20.2 179.8 L20.4 179.3 L20.6 179.7 L20.8 179.6 L21 179.3 L21.2 179.3 L21.4 179.2 L21.5 180.2 L21.7 180.3 L21.9 180.4 L22.1 179.7 L22.3 179.6 L22.5 179.4 L22.7 179.4 L22.9 179.6 L23.1 179.8 L23.3 180 L23.5 179.9 L23.7 179.9 L23.9 180 L24.1 180.2 L24.2 180.1 L24.4 179.8 L24.6 179.8 L24.8 180.2 L25 180.2 L25.2 180.1 L25.4 179.9 L25.6 179.8 L25.8 179.8 L26 179.7 L26.2 180 L26.4 180.1 L26.6 180 L26.8 179.4 L26.9 179.6 L27.1 179.3 L27.3 179.5 L27.5 179.4 L27.7 179.7 L27.9 179.9 L28.1 179.6 L28.3 179.5 L28.5 179.6 L28.7 180 L28.9 180.2 L29.1 180.2 L29.3 180.2 L29.5 180 L29.6 179.8 L29.8 179.7 L30 179.8 L30.2 180 L30.4 179.7 L30.6 179.7 L30.8 179.2 L31 179.5 L31.2 179.6 L31.4 179.7 L31.6 179.6 L31.8 179.3 L32 179.8 L32.2 179.4 L32.3 179.4 L32.5 179.4 L32.7 180 L32.9 179.7 L33.1 179.5 L33.3 179.4 L33.5 179.6 L33.7 180 L33.9 179.8 L34.1 179.9 L34.3 179.4 L34.5 179.9 L34.7 179.9 L34.9 180 L35 179.4 L35.2 179.7 L35.4 179.9 L35.6 180.4 L35.8 180.3 L36 180.2 L36.2 179.9 L36.4 179.6 L36.6 179.4 L36.8 179.7 L37 179.6 L37.2 179.7 L37.4 179.4 L37.6 179.7 L37.7 179.9 L37.9 179.7 L38.1 179.3 L38.3 179.2 L38.5 179.7 L38.7 180.1 L38.9 180.2 L39.1 179.9 L39.3 179.8 L39.5 179.7 L39.7 179.9 L39.9 179.7 L40.1 179.8 L40.3 179.6 L40.4 179.9 L40.6 179.9 L40.8 180.4 L41 180.6 L41.2 180.8 L41.4 180 L41.6 179.6 L41.8 179.2 L42 179.7 L42.2 179.4 L42.4 179.7 L42.6 179.8 L42.8 180 L43 179.6 L43.1 179.2 L43.3 179.5 L43.5 179.8 L43.7 180.3 L43.9 180.2 L44.1 180.3 L44.3 179.9 L44.5 180.3 L44.7 180.3 L44.9 180.5 L45.1 180 L45.3 179.8 L45.5 179.4 L45.7 179.9 L45.8 180 L46 180.1 L46.2 179.8 L46.4 179.7 L46.6 179.7 L46.8 179.6 L47 179.6 L47.2 180.1 L47.4 180.3 L47.6 180.1 L47.8 179.4 L48 179.2 L48.2 179.4 L48.4 179.8 L48.5 180 L48.7 180 L48.9 179.9 L49.1 179.9 L49.3 179.5 L49.5 179.4 L49.7 179.4 L49.9 179.6 L50.1 179.6 L50.3 179.4 L50.5 179.5 L50.7 179.7 L50.9 179.8 L51.1 179.8 L51.2 179.8 L51.4 180 L51.6 180.3 L51.8 179.8 L52 179.8 L52.2 179.4 L52.4 179.8 L52.6 179.8 L52.8 180.1 L53 180.3 L53.2 180.2 L53.4 180.3 L53.6 180 L53.8 179.9 L53.9 179.8 L54.1 179.7 L54.3 180.2 L54.5 180.2 L54.7 180.7 L54.9 180.3 L55.1 180 L55.3 179.7 L55.5 179.8 L55.7 179.8 L55.9 179.8 L56.1 179.6 L56.3 180 L56.5 179.8 L56.6 180 L56.8 179.6 L57 179.5 L57.2 179.2 L57.4 179.1 L57.6 179.3 L57.8 179.6 L58 179.8 L58.2 179.9 L58.4 180 L58.6 179.9 L58.8 179.8 L59 179.4 L59.2 178.9 L59.3 178.9 L59.5 178.4 L59.7 178.7 L59.9 178.3 L60.1 178.6 L60.3 178.2 L60.5 177.8 L60.7 177.5 L60.9 177.2 L61.1 177.2 L61.3 177.1 L61.5 177 L61.7 176.9 L61.9 176.6 L62 176.3 L62.2 175.4 L62.4 174.6 L62.6 172.5 L62.8 168.8 L63 161.1 L63.2 149.7 L63.4 139.2 L63.6 136.4 L63.8 143.8 L64 155.5 L64.2 165.4 L64.4 171.4 L64.6 174.2 L64.8 175.8 L64.9 177 L65.1 177.4 L65.3 177.9 L65.5 178.3 L65.7 178.6 L65.9 178.5 L66.1 178.5 L66.3 178.7 L66.5 179.3 L66.7 179.4 L66.9 179.4 L67.1 179 L67.3 179 L67.5 179.7 L67.6 179.8 L67.8 179.9 L68 179.6 L68.2 179.6 L68.4 180 L68.6 179.9 L68.8 180 L69 179.7 L69.2 179.9 L69.4 179.5 L69.6 179.8 L69.8 179.7 L70 180 L70.2 179.5 L70.3 179.4 L70.5 179.5 L70.7 179.8 L70.9 180.1 L71.1 180.2 L71.3 180.2 L71.5 180.1 L71.7 180 L71.9 180 L72.1 180 L72.3 179.9 L72.5 180.1 L72.7 180.1 L72.9 179.9 L73 179.8 L73.2 180.1 L73.4 180.2 L73.6 180 L73.8 179.7 L74 179.9 L74.2 179.6 L74.4 179.7 L74.6 179.7 L74.8 179.9 L75 180.1 L75.2 180 L75.4 180 L75.6 179.8 L75.7 179.4 L75.9 179.4 L76.1 179.7 L76.3 179.8 L76.5 180.3 L76.7 179.9 L76.9 180.3 L77.1 179.9 L77.3 179.5 L77.5 179.3 L77.7 179.3 L77.9 179.5 L78.1 179.3 L78.3 179.4 L78.4 179.5 L78.6 179.4 L78.8 179.2 L79 179.5 L79.2 179.7 L79.4 180 L79.6 180.1 L79.8 180.2 L80 179.9 L80.2 179.3 L80.4 179.3 L80.6 179.7 L80.8 180 L81 180.1 L81.1 179.8 L81.3 179.9 L81.5 179.7 L81.7 179.7 L81.9 179.4 L82.1 179.2 L82.3 179.2 L82.5 179.2 L82.7 179.3 L82.9 179.5 L83.1 179.7 L83.3 180.4 L83.5 180.5 L83.7 180.4 L83.8 180 L84 179.9 L84.2 179.9 L84.4 179.9 L84.6 179.7 L84.8 179.3 L85 179.2 L85.2 179.3 L85.4 180.1 L85.6 179.8 L85.8 179.7 L86 179.7 L86.2 179.7 L86.4 179.9 L86.5 179.9 L86.7 180.1 L86.9 180.1 L87.1 179.8 L87.3 179.9 L87.5 179.8 L87.7 179.9 L87.9 179.9 L88.1 180.4 L88.3 180.3 L88.5 180 L88.7 179.7 L88.9 179.7 L89.1 179.9 L89.2 179.8 L89.4 180.1 L89.6 179.9 L89.8 179.9 L90 179.2 L90.2 179.1 L90.4 179.4 L90.6 179.8 L90.8 179.8 L91 179.3 L91.2 179.5 L91.4 179.7 L91.6 179.7 L91.8 179.7 L91.9 179.7 L92.1 180.1 L92.3 179.9 L92.5 180.1 L92.7 180.1 L92.9 180.2 L93.1 179.7 L93.3 179.6 L93.5 179.8 L93.7 179.9 L93.9 180.1 L94.1 180 L94.3 180.3 L94.5 180.3 L94.6 180.2 L94.8 179.6 L95 179.5 L95.2 179.6 L95.4 180 L95.6 180.1 L95.8 179.8 L96 179.7 L96.2 179.5 L96.4 179.8 L96.6 179.9 L96.8 180 L97 179.5 L97.2 179.4 L97.3 179.8 L97.5 180.1 L97.7 180 L97.9 180 L98.1 180.2 L98.3 180.5 L98.5 180.4 L98.7 180.3 L98.9 180.2 L99.1 180.2 L99.3 179.9 L99.5 180.1 L99.7 180 L99.9 180.5 L100 179.8 L100.2 179.9 L100.4 179.7 L100.6 180 L100.8 180 L101 179.9 L101.2 180.1 L101.4 179.9 L101.6 179.8 L101.8 179.9 L102 180.2 L102.2 180.2 L102.4 180.1 L102.6 179.9 L102.7 180 L102.9 179.8 L103.1 179.5 L103.3 179.4 L103.5 179.4 L103.7 179.5 L103.9 179.5 L104.1 179.8 L104.3 179.7 L104.5 179.8 L104.7 179.4 L104.9 179.7 L105.1 179.3 L105.3 179.4 L105.4 179.4 L105.6 179.6 L105.8 179.7 L106 179.5 L106.2 179.6 L106.4 179.8 L106.6 179.9 L106.8 180 L107 179.8 L107.2 179.8 L107.4 179.5 L107.6 179.8 L107.8 180.1 L108 180.4 L108.2 180.2 L108.3 180 L108.5 179.9 L108.7 179.8 L108.9 180 L109.1 180 L109.3 179.9 L109.5 179.8 L109.7 179.6 L109.9 180.1 L110.1 180.6 L110.3 180.6 L110.5 180.2 L110.7 179.4 L110.9 179.4 L111 179.4 L111.2 179.6 L111.4 179.7 L111.6 179.4 L111.8 179.6 L112 179.5 L112.2 179.5 L112.4 179.7 L112.6 179.9 L112.8 179.9 L113 179.5 L113.2 179.4 L113.4 179.6 L113.6 179.7 L113.7 179.5 L113.9 179.5 L114.1 179.7 L114.3 179.9 L114.5 180 L114.7 180.3 L114.9 180.4 L115.1 180.5 L115.3 180.4 L115.5 180.3 L115.7 180.3 L115.9 179.9 L116.1 179.8 L116.3 179.7 L116.4 180.2 L116.6 180.1 L116.8 180.2 L117 179.9 L117.2 180.2 L117.4 180.2 L117.6 180.1 L117.8 179.8 L118 179.7 L118.2 179.8 L118.4 179.7 L118.6 179.8 L118.8 180.2 L119 180.1 L119.1 180.1 L119.3 179.7 L119.5 179.9 L119.7 179.6 L119.9 179.5 L120.1 179.4 L120.3 179.7 L120.5 179.8 L120.7 179.8 L120.9 179.5 L121.1 179.6 L121.3 180 L121.5 180.2 L121.7 180.1 L121.8 179.9 L122 179.7 L122.2 179.6 L122.4 179.5 L122.6 179.7 L122.8 179.7 L123 179.6 L123.2 179.7 L123.4 180 L123.6 180.2 L123.8 180.1 L124 179.8 L124.2 180 L124.4 179.6 L124.5 179.9 L124.7 179.6 L124.9 180.1 L125.1 179.8 L125.3 179.8 L125.5 179.6 L125.7 179.7 L125.9 179.6 L126.1 179.6 L126.3 179.3 L126.5 179.1 L126.7 179.4 L126.9 179.6 L127.1 179.9 L127.2 179.9 L127.4 179.6 L127.6 179.5 L127.8 179.6 L128 179.9 L128.2 179.5 L128.4 178.5 L128.6 178.1 L128.8 178.6 L129 179 L129.2 179.1 L129.4 178.9 L129.6 178.6 L129.8 178.5 L129.9 178.3 L130.1 178.1 L130.3 177.7 L130.5 176.5 L130.7 174.9 L130.9 171.4 L131.1 165.4 L131.3 156.9 L131.5 148.8 L131.7 146.2 L131.9 151.2 L132.1 160.5 L132.3 168.9 L132.5 173.9 L132.6 176.1 L132.8 176.9 L133 177.6 L133.2 178 L133.4 178.6 L133.6 178.6 L133.8 179.1 L134 179.2 L134.2 179.5 L134.4 179.6 L134.6 179.4 L134.8 179.3 L135 179.2 L135.2 179.5 L135.3 179.7 L135.5 179.7 L135.7 179.6 L135.9 179.2 L136.1 179.2 L136.3 179.5 L136.5 179.5 L136.7 179.8 L136.9 179.7 L137.1 179.9 L137.3 179.4 L137.5 179.4 L137.7 179.6 L137.9 179.5 L138 179.7 L138.2 179.9 L138.4 180.3 L138.6 180.2 L138.8 180.3 L139 180.5 L139.2 180.2 L139.4 179.8 L139.6 179.5 L139.8 179.7 L140 179.2 L140.2 179.4 L140.4 179.3 L140.6 179.7 L140.7 179.3 L140.9 179.3 L141.1 178.8 L141.3 178.2 L141.5 177.5 L141.7 177.3 L141.9 177.1 L142.1 177.2 L142.3 177.3 L142.5 177.8 L142.7 178.5 L142.9 178.8 L143.1 179.5 L143.3 179.4 L143.4 179.8 L143.6 179.5 L143.8 179.4 L144 179.6 L144.2 179.8 L144.4 180 L144.6 179.7 L144.8 179.8 L145 179.5 L145.2 179.4 L145.4 179.3 L145.6 179.4 L145.8 179.5 L146 179.5 L146.1 179.6 L146.3 179.7 L146.5 179.9 L146.7 180 L146.9 179.9 L147.1 179.1 L147.3 177.9 L147.5 176.4 L147.7 175.3 L147.9 174.2 L148.1 174.2 L148.3 174.9 L148.5 176.5 L148.7 177.9 L148.8 178.6 L149 179.1 L149.2 179.2 L149.4 179.7 L149.6 179.7 L149.8 180.1 L150 180.4 L150.2 180.6 L150.4 180.9 L150.6 180.4 L150.8 180.2 L151 180 L151.2 180.3 L151.4 180.2 L151.6 180 L151.7 179.4 L151.9 179.5 L152.1 179.7 L152.3 179.9 L152.5 179.8 L152.7 179.4 L152.9 179.5 L153.1 179.7 L153.3 180.1 L153.5 180.1 L153.7 179.7 L153.9 179.9 L154.1 179.9 L154.3 180.1 L154.4 179.9 L154.6 179.5 L154.8 179.5 L155 179.4 L155.2 179.8 L155.4 180.1 L155.6 180.2 L155.8 179.8 L156 179.5 L156.2 179.4 L156.4 179.8 L156.6 179.6 L156.8 179.3 L157 179.4 L157.1 179.7 L157.3 180 L157.5 179.5 L157.7 179.8 L157.9 179.3 L158.1 179.5 L158.3 179.6 L158.5 180.1 L158.7 180.2 L158.9 179.6 L159.1 179.9 L159.3 179.6 L159.5 179.9 L159.7 179.6 L159.8 179.7 L160 179.8 L160.2 179.5 L160.4 179.6 L160.6 179.4 L160.8 179.6 L161 179.8 L161.2 180 L161.4 180 L161.6 179.8 L161.8 179.5 L162 179.5 L162.2 179.8 L162.4 179.8 L162.5 180 L162.7 179.8 L162.9 179.7 L163.1 179.8 L163.3 179.6 L163.5 179.8 L163.7 179.9 L163.9 179.9 L164.1 179.9 L164.3 179.3 L164.5 179.4 L164.7 179.1 L164.9 179.3 L165.1 179.2 L165.2 179.4 L165.4 179.6 L165.6 179.5 L165.8 179.2 L166 178.5 L166.2 178 L166.4 177.5 L166.6 177.1 L166.8 177.2 L167 178 L167.2 178.8 L167.4 179.1 L167.6 179.4 L167.8 179.5 L167.9 179.7 L168.1 179.3 L168.3 179.2 L168.5 179.3 L168.7 179.9 L168.9 180.1 L169.1 179.9 L169.3 179.5 L169.5 179.5 L169.7 179.3 L169.9 179.5 L170.1 179.6 L170.3 180 L170.5 180.1 L170.6 179.7 L170.8 179.4 L171 179.5 L171.2 179.9 L171.4 180 L171.6 179.8 L171.8 179.6 L172 179.9 L172.2 179.9 L172.4 179.8 L172.6 179.8 L172.8 179.8 L173 179.9 L173.2 179.5 L173.3 178.9 L173.5 178.8 L173.7 178.8 L173.9 179.4 L174.1 179.7 L174.3 180 L174.5 179.9 L174.7 179.8 L174.9 180 L175.1 179.9 L175.3 180 L175.5 180 L175.7 180.1 L175.9 180.2 L176 180 L176.2 180.1 L176.4 179.7 L176.6 179.7 L176.8 179.3 L177 179.5 L177.2 179.5 L177.4 179.7 L177.6 179.4 L177.8 179.8 L178 180.1 L178.2 180.4 L178.4 180.5 L178.6 180.2 L178.7 180.6 L178.9 180.3 L179.1 179.9 L179.3 179.8 L179.5 179.8 L179.7 179.9 L179.9 179.5 L180.1 179.2 L180.3 179.3 L180.5 179.3 L180.7 179.8 L180.9 180 L181.1 179.9 L181.3 179.3 L181.4 179.1 L181.6 179.1 L181.8 179.3 L182 179.4 L182.2 179.6 L182.4 179.5 L182.6 179.6 L182.8 180 L183 180.4 L183.2 180.3 L183.4 180.2 L183.6 179.8 L183.8 179.9 L184 179.6 L184.1 179.8 L184.3 179.5 L184.5 179.5 L184.7 179.4 L184.9 179.7 L185.1 179.6 L185.3 179.5 L185.5 179.5 L185.7 179.8 L185.9 179.7 L186.1 179.7 L186.3 179.6 L186.5 180 L186.7 180.1 L186.8 179.9 L187 179.3 L187.2 179.2 L187.4 179.6 L187.6 180.1 L187.8 180.2 L188 179.9 L188.2 179.6 L188.4 179.6 L188.6 179.7 L188.8 180.1 L189 179.7 L189.2 179.7 L189.4 179.5 L189.5 179.9 L189.7 179.7 L189.9 179.7 L190.1 179.5 L190.3 179.8 L190.5 179.9 L190.7 179.9 L190.9 179.5 L191.1 179.3 L191.3 179.7 L191.5 179.5 L191.7 179.6 L191.9 179.4 L192.1 180 L192.2 180.1 L192.4 180.1 L192.6 180.1 L192.8 180.3 L193 180.1 L193.2 180.3 L193.4 180.1 L193.6 180.4 L193.8 179.9 L194 180.1 L194.2 179.5 L194.4 179.5 L194.6 179.4 L194.8 179.5 L195 179.8 L195.1 179.5 L195.3 180 L195.5 179.9 L195.7 179.9 L195.9 179.6 L196.1 179.8 L196.3 179.9 L196.5 179.9 L196.7 180.2 L196.9 180.5 L197.1 180.4 L197.3 179.9 L197.5 179.8 L197.7 179.6 L197.8 179.1 L198 178.9 L198.2 178.9 L198.4 179.8 L198.6 180 L198.8 180 L199 179.5 L199.2 179.5 L199.4 179.5 L199.6 179.6 L199.8 179.5 L200 179.6 L200.2 179.7 L200.4 179.6 L200.5 179.6 L200.7 179.6 L200.9 178.9 L201.1 178.7 L201.3 178 L201.5 178.3 L201.7 177.5 L201.9 177.5 L202.1 177.5 L202.3 178 L202.5 178.4 L202.7 178.9 L202.9 179.1 L203.1 179.2 L203.2 179.4 L203.4 179.9 L203.6 179.9 L203.8 179.8 L204 179.7 L204.2 179.5 L204.4 179.4 L204.6 179.7 L204.8 179.8 L205 180.1 L205.2 179.6 L205.4 180 L205.6 180.3 L205.8 180.4 L205.9 180.2 L206.1 179.8 L206.3 180.1 L206.5 180.2 L206.7 180.2 L206.9 180.1 L207.1 180 L207.3 180.2 L207.5 180 L207.7 179.9 L207.9 179.7 L208.1 179.7 L208.3 179.8 L208.5 179.8 L208.6 180 L208.8 180 L209 180.1 L209.2 179.6 L209.4 179.7 L209.6 180 L209.8 180.2 L210 180.2 L210.2 179.8 L210.4 179.7 L210.6 179.4 L210.8 179.7 L211 179.8 L211.2 179.6 L211.3 180.1 L211.5 179.9 L211.7 180.3 L211.9 179.9 L212.1 180.2 L212.3 180.2 L212.5 179.5 L212.7 179.1 L212.9 179.2 L213.1 179.6 L213.3 179.6 L213.5 179 L213.7 179.4 L213.9 179.7 L214 180 L214.2 179.7 L214.4 179.6 L214.6 179.6 L214.8 179.5 L215 179.6 L215.2 179.9 L215.4 180.2 L215.6 180.2 L215.8 180 L216 179.8 L216.2 179.7 L216.4 179.5 L216.6 179.7 L216.7 179.7 L216.9 180 L217.1 179.9 L217.3 179.7 L217.5 179.8 L217.7 179.8 L217.9 180 L218.1 179.9 L218.3 179.7 L218.5 179.3 L218.7 179.2 L218.9 179.2 L219.1 179.7 L219.3 179.8 L219.4 179.9 L219.6 179.8 L219.8 180 L220 180.3 L220.2 180.3 L220.4 180.2 L220.6 179.9 L220.8 179.8 L221 179.8 L221.2 179.9 L221.4 179.9 L221.6 179.6 L221.8 179.4 L222 179 L222.1 179.1 L222.3 179.7 L222.5 180.2 L222.7 180.1 L222.9 179.6 L223.1 179.5 L223.3 179.8 L223.5 179.8 L223.7 179.8 L223.9 179.8 L224.1 180.3 L224.3 180.1 L224.5 180.3 L224.7 180.1 L224.8 179.9 L225 179.6 L225.2 179.5 L225.4 179.8 L225.6 179.7 L225.8 179.5 L226 179.5 L226.2 179.9 L226.4 180.4 L226.6 180.5 L226.8 180 L227 179.6 L227.2 179.3 L227.4 179.6 L227.5 179.3 L227.7 179.4 L227.9 179.5 L228.1 179.7 L228.3 179.7 L228.5 179.9 L228.7 180.1 L228.9 180.2 L229.1 180.2 L229.3 180.3 L229.5 180.1 L229.7 179.9 L229.9 180 L230.1 179.9 L230.2 179.8 L230.4 179.7 L230.6 179.7 L230.8 179.9 L231 179.9 L231.2 180.1 L231.4 180 L231.6 180 L231.8 180.1 L232 179.8 L232.2 179.4 L232.4 179.5 L232.6 179.9 L232.8 179.7 L232.9 179.2 L233.1 179.2 L233.3 179.4 L233.5 179.7 L233.7 179.7 L233.9 180 L234.1 179.7 L234.3 179.8 L234.5 180.1 L234.7 180.1 L234.9 180.3 L235.1 180.1 L235.3 180.3 L235.5 180.1 L235.6 179.7 L235.8 179.4 L236 179.6 L236.2 180 L236.4 180.4 L236.6 180.4 L236.8 180.4 L237 180.1" fill="none" stroke="#00f" stroke-width="2.4" stroke-linejoin="round"/>
<rect x="20" y="26.5" width="217" height="174.0" fill="none" stroke="#151515" stroke-width="1.7"/>
<line x1="44.1" y1="200.5" x2="44.1" y2="197.0" stroke="#222" stroke-width="1.2"/>
<text x="44.1" y="211.7" font-size="9.2" text-anchor="middle" fill="#000" >10</text>
<line x1="92.3" y1="200.5" x2="92.3" y2="197.0" stroke="#222" stroke-width="1.2"/>
<text x="92.3" y="211.7" font-size="9.2" text-anchor="middle" fill="#000" >20</text>
<line x1="140.6" y1="200.5" x2="140.6" y2="197.0" stroke="#222" stroke-width="1.2"/>
<text x="140.6" y="211.7" font-size="9.2" text-anchor="middle" fill="#000" >30</text>
<line x1="188.8" y1="200.5" x2="188.8" y2="197.0" stroke="#222" stroke-width="1.2"/>
<text x="188.8" y="211.7" font-size="9.2" text-anchor="middle" fill="#000" >40</text>
<line x1="237" y1="200.5" x2="237" y2="197.0" stroke="#222" stroke-width="1.2"/>
<text x="237" y="211.7" font-size="9.2" text-anchor="middle" fill="#000" >50</text>
<line x1="68.2" y1="200.5" x2="68.2" y2="198.5" stroke="#222" stroke-width="1.2"/>
<line x1="116.4" y1="200.5" x2="116.4" y2="198.5" stroke="#222" stroke-width="1.2"/>
<line x1="164.7" y1="200.5" x2="164.7" y2="198.5" stroke="#222" stroke-width="1.2"/>
<line x1="212.9" y1="200.5" x2="212.9" y2="198.5" stroke="#222" stroke-width="1.2"/>
<text x="68.6" y="41.8" font-size="9.2" text-anchor="start" fill="#000" >(100)</text>
<text x="118.8" y="40.2" font-size="9.3" text-anchor="start" fill="#000" >(200)</text>
<text x="138.6" y="60.2" font-size="9.5" text-anchor="start" fill="#000" >(210)</text>
<text x="156" y="39" font-size="9" text-anchor="start" fill="#000" >SnO<tspan font-size="6.5" dy="2">2</tspan></text>
<text x="157" y="93.5" font-size="9" text-anchor="start" fill="#dd1e1e" >0.025M ZnO/SnO<tspan font-size="6" dy="2">2</tspan></text>
<text x="157" y="149" font-size="9" text-anchor="start" fill="#1c1cc8" >0.030M ZnO/SnO<tspan font-size="6" dy="2">2</tspan></text>
<text x="128.3" y="231.8" font-size="15" text-anchor="middle" fill="#000" >2<tspan font-style="italic">θ</tspan>(°)</text>
<text x="11" y="113.2" font-size="15" text-anchor="middle" fill="#000" textLength="142" lengthAdjust="spacingAndGlyphs" transform="rotate(-90 11.0 113.2)">Intensity (normalized)</text>
<text x="262" y="19.5" font-size="28" text-anchor="start" fill="#000" >b</text>
<path d="M290 181.2 L290.7 181 L291.5 180.8 L292.2 180.5 L292.9 180.3 L293.7 180.1 L294.4 179.9 L295.2 179.7 L295.9 179.5 L296.6 179.3 L297.4 179.1 L298.1 178.8 L298.8 178.6 L299.6 178.4 L300.3 178.2 L301 178 L301.8 177.8 L302.5 177.6 L303.2 177.4 L304 177.2 L304.7 177 L305.5 176.8 L306.2 176.6 L306.9 176.5 L307.7 176.3 L308.4 176.1 L309.1 175.9 L309.9 175.7 L310.6 175.5 L311.3 175.3 L312.1 175.1 L312.8 175 L313.5 174.8 L314.3 174.6 L315 174.4 L315.8 174.2 L316.5 174.1 L317.2 173.9 L318 173.7 L318.7 173.5 L319.4 173.4 L320.2 173.2 L320.9 173.1 L321.6 172.9 L322.4 172.7 L323.1 172.6 L323.8 172.4 L324.6 172.3 L325.3 172.1 L326.1 172 L326.8 171.8 L327.5 171.7 L328.3 171.5 L329 171.3 L329.7 171.2 L330.5 171 L331.2 170.8 L331.9 170.7 L332.7 170.5 L333.4 170.3 L334.1 170.1 L334.9 169.9 L335.6 169.7 L336.4 169.5 L337.1 169.3 L337.8 169.1 L338.6 168.9 L339.3 168.7 L340 168.5 L340.8 168.3 L341.5 168 L342.2 167.8 L343 167.6 L343.7 167.3 L344.4 167 L345.2 166.7 L345.9 166.4 L346.7 166.1 L347.4 165.7 L348.1 165.4 L348.9 165 L349.6 164.6 L350.3 164.2 L351.1 163.8 L351.8 163.3 L352.5 162.9 L353.3 162.4 L354 161.9 L354.7 161.4 L355.5 160.9 L356.2 160.4 L357 159.8 L357.7 159.2 L358.4 158.7 L359.2 158 L359.9 157.3 L360.6 156.6 L361.4 155.8 L362.1 155.1 L362.8 154.4 L363.6 153.7 L364.3 153 L365.1 152.5 L365.8 151.9 L366.5 151.4 L367.3 150.9 L368 150.5 L368.7 150 L369.5 149.6 L370.2 149.2 L370.9 148.8 L371.7 148.4 L372.4 148 L373.1 147.6 L373.9 147.2 L374.6 146.8 L375.4 146.4 L376.1 146 L376.8 145.6 L377.6 145.2 L378.3 144.7 L379 144.2 L379.8 143.8 L380.5 143.3 L381.2 142.7 L382 142.2 L382.7 141.6 L383.4 141 L384.2 140.4 L384.9 139.7 L385.7 139.1 L386.4 138.5 L387.1 137.9 L387.9 137.2 L388.6 136.6 L389.3 136 L390.1 135.4 L390.8 134.8 L391.5 134.2 L392.3 133.7 L393 133.2 L393.7 132.7 L394.5 132.2 L395.2 131.7 L396 131.3 L396.7 130.8 L397.4 130.4 L398.2 129.9 L398.9 129.5 L399.6 129 L400.4 128.6 L401.1 128.2 L401.8 127.8 L402.6 127.4 L403.3 127 L404 126.6 L404.8 126.2 L405.5 125.8 L406.3 125.4 L407 125 L407.7 124.6 L408.5 124.2 L409.2 123.8 L409.9 123.5 L410.7 123.1 L411.4 122.7 L412.1 122.4 L412.9 122 L413.6 121.6 L414.3 121.3 L415.1 120.9 L415.8 120.6 L416.6 120.2 L417.3 119.8 L418 119.5 L418.8 119.1 L419.5 118.7 L420.2 118.4 L421 118 L421.7 117.6 L422.4 117.2 L423.2 116.9 L423.9 116.5 L424.6 116.1 L425.4 115.7 L426.1 115.3 L426.9 115 L427.6 114.6 L428.3 114.2 L429.1 113.9 L429.8 113.5 L430.5 113.2 L431.3 112.8 L432 112.5 L432.7 112.2 L433.5 111.8 L434.2 111.5 L434.9 111.2 L435.7 110.9 L436.4 110.6 L437.2 110.3 L437.9 109.9 L438.6 109.6 L439.4 109.3 L440.1 109 L440.8 108.8 L441.6 108.5 L442.3 108.2 L443 108 L443.8 107.7 L444.5 107.5 L445.3 107.2 L446 107 L446.7 106.8 L447.5 106.6 L448.2 106.4 L448.9 106.2 L449.7 106 L450.4 105.8 L451.1 105.6 L451.9 105.4 L452.6 105.2 L453.3 105 L454.1 104.9 L454.8 104.7 L455.6 104.5 L456.3 104.3 L457 104.1 L457.8 104 L458.5 103.8 L459.2 103.6 L460 103.4 L460.7 103.2 L461.4 103 L462.2 102.8 L462.9 102.6 L463.6 102.4 L464.4 102.2 L465.1 102 L465.9 101.8 L466.6 101.7 L467.3 101.5 L468.1 101.3 L468.8 101.2 L469.5 101 L470.3 100.9 L471 100.8 L471.7 100.7 L472.5 100.6 L473.2 100.5 L473.9 100.4 L474.7 100.4 L475.4 100.3 L476.2 100.2 L476.9 100.1 L477.6 100.1 L478.4 100 L479.1 99.9 L479.8 99.9 L480.6 99.8 L481.3 99.8 L482 99.7 L482.8 99.6 L483.5 99.5 L484.2 99.5 L485 99.4 L485.7 99.3 L486.5 99.3 L487.2 99.2 L487.9 99.2 L488.7 99.1 L489.4 99.1 L490.1 99 L490.9 98.9 L491.6 98.9 L492.3 98.8 L493.1 98.7 L493.8 98.7 L494.5 98.6 L495.3 98.5 L496 98.4 L496.8 98.2 L497.5 98.1 L498.2 97.9 L499 97.6 L499.7 97.3 L500.4 97 L501.2 96.6 L501.9 96.2 L502.6 95.7 L503.4 95.3 L504.1 94.8 L504.8 94.4 L505.6 93.9 L506.3 93.4 L507.1 92.9 L507.8 92.3 L508.5 91.7 L509.3 91.1 L510 90.5" fill="none" stroke="#f33" stroke-width="1.8" stroke-linejoin="round"/>
<rect x="314.7" y="172" width="4" height="4" fill="#f33"/>
<rect x="331" y="168.9" width="4" height="4" fill="#f33"/>
<rect x="342.5" y="165.4" width="4" height="4" fill="#f33"/>
<rect x="351.5" y="160.1" width="4" height="4" fill="#f33"/>
<rect x="358.8" y="154.3" width="4" height="4" fill="#f33"/>
<rect x="365" y="148.9" width="4" height="4" fill="#f33"/>
<rect x="370.4" y="146.2" width="4" height="4" fill="#f33"/>
<rect x="375.1" y="143.4" width="4" height="4" fill="#f33"/>
<rect x="379.3" y="140.9" width="4" height="4" fill="#f33"/>
<rect x="383.2" y="136.9" width="4" height="4" fill="#f33"/>
<rect x="386.7" y="135.1" width="4" height="4" fill="#f33"/>
<rect x="389.9" y="132" width="4" height="4" fill="#f33"/>
<rect x="392.9" y="130.2" width="4" height="4" fill="#f33"/>
<rect x="395.6" y="128.2" width="4" height="4" fill="#f33"/>
<rect x="398.2" y="126.6" width="4" height="4" fill="#f33"/>
<rect x="400.7" y="125.5" width="4" height="4" fill="#f33"/>
<rect x="403" y="124.4" width="4" height="4" fill="#f33"/>
<rect x="405.1" y="122.8" width="4" height="4" fill="#f33"/>
<rect x="407.2" y="121.8" width="4" height="4" fill="#f33"/>
<rect x="409.2" y="121.1" width="4" height="4" fill="#f33"/>
<rect x="411" y="119.6" width="4" height="4" fill="#f33"/>
<rect x="412.8" y="118.5" width="4" height="4" fill="#f33"/>
<rect x="414.5" y="118.4" width="4" height="4" fill="#f33"/>
<rect x="416.2" y="117.2" width="4" height="4" fill="#f33"/>
<rect x="417.7" y="116" width="4" height="4" fill="#f33"/>
<rect x="419.2" y="115.6" width="4" height="4" fill="#f33"/>
<rect x="420.7" y="114.9" width="4" height="4" fill="#f33"/>
<rect x="422.1" y="114" width="4" height="4" fill="#f33"/>
<rect x="423.5" y="113.1" width="4" height="4" fill="#f33"/>
<rect x="424.8" y="113" width="4" height="4" fill="#f33"/>
<rect x="426.1" y="112.7" width="4" height="4" fill="#f33"/>
<rect x="427.3" y="111.7" width="4" height="4" fill="#f33"/>
<rect x="428.5" y="110.9" width="4" height="4" fill="#f33"/>
<rect x="429.7" y="110.8" width="4" height="4" fill="#f33"/>
<rect x="430.8" y="110.4" width="4" height="4" fill="#f33"/>
<rect x="431.9" y="109.6" width="4" height="4" fill="#f33"/>
<rect x="433" y="109.4" width="4" height="4" fill="#f33"/>
<rect x="434" y="109.1" width="4" height="4" fill="#f33"/>
<rect x="435" y="108.2" width="4" height="4" fill="#f33"/>
<rect x="436" y="107.6" width="4" height="4" fill="#f33"/>
<rect x="437" y="107.6" width="4" height="4" fill="#f33"/>
<rect x="437.9" y="107.2" width="4" height="4" fill="#f33"/>
<rect x="438.9" y="107.1" width="4" height="4" fill="#f33"/>
<rect x="439.8" y="106" width="4" height="4" fill="#f33"/>
<rect x="440.7" y="105.9" width="4" height="4" fill="#f33"/>
<rect x="441.5" y="105.5" width="4" height="4" fill="#f33"/>
<rect x="442.4" y="104.9" width="4" height="4" fill="#f33"/>
<rect x="443.2" y="105.3" width="4" height="4" fill="#f33"/>
<rect x="444" y="105.2" width="4" height="4" fill="#f33"/>
<rect x="444.8" y="104.5" width="4" height="4" fill="#f33"/>
<rect x="445.6" y="105" width="4" height="4" fill="#f33"/>
<rect x="446.3" y="104.6" width="4" height="4" fill="#f33"/>
<rect x="447.1" y="104.3" width="4" height="4" fill="#f33"/>
<rect x="447.8" y="104.1" width="4" height="4" fill="#f33"/>
<rect x="448.6" y="104.1" width="4" height="4" fill="#f33"/>
<rect x="449.3" y="103.1" width="4" height="4" fill="#f33"/>
<rect x="450" y="103.6" width="4" height="4" fill="#f33"/>
<rect x="450.6" y="103.4" width="4" height="4" fill="#f33"/>
<rect x="451.3" y="102.4" width="4" height="4" fill="#f33"/>
<rect x="452" y="103" width="4" height="4" fill="#f33"/>
<rect x="452.6" y="102.6" width="4" height="4" fill="#f33"/>
<rect x="453.3" y="102.8" width="4" height="4" fill="#f33"/>
<rect x="453.9" y="102.3" width="4" height="4" fill="#f33"/>
<rect x="454.5" y="102.3" width="4" height="4" fill="#f33"/>
<rect x="455.2" y="102.2" width="4" height="4" fill="#f33"/>
<rect x="455.8" y="101.7" width="4" height="4" fill="#f33"/>
<rect x="456.4" y="102" width="4" height="4" fill="#f33"/>
<rect x="456.9" y="101.6" width="4" height="4" fill="#f33"/>
<rect x="457.5" y="101.7" width="4" height="4" fill="#f33"/>
<rect x="458.1" y="101.2" width="4" height="4" fill="#f33"/>
<rect x="458.6" y="101.6" width="4" height="4" fill="#f33"/>
<rect x="459.2" y="101.3" width="4" height="4" fill="#f33"/>
<rect x="459.7" y="100.8" width="4" height="4" fill="#f33"/>
<rect x="460.3" y="101" width="4" height="4" fill="#f33"/>
<rect x="460.8" y="101.1" width="4" height="4" fill="#f33"/>
<rect x="461.3" y="101.1" width="4" height="4" fill="#f33"/>
<rect x="461.9" y="99.8" width="4" height="4" fill="#f33"/>
<rect x="462.4" y="100.5" width="4" height="4" fill="#f33"/>
<rect x="462.9" y="100.2" width="4" height="4" fill="#f33"/>
<rect x="463.4" y="99.9" width="4" height="4" fill="#f33"/>
<rect x="463.9" y="99.5" width="4" height="4" fill="#f33"/>
<rect x="464.4" y="100.1" width="4" height="4" fill="#f33"/>
<rect x="464.8" y="99.2" width="4" height="4" fill="#f33"/>
<rect x="465.3" y="99.7" width="4" height="4" fill="#f33"/>
<rect x="465.8" y="99.8" width="4" height="4" fill="#f33"/>
<rect x="466.3" y="98.7" width="4" height="4" fill="#f33"/>
<rect x="466.7" y="99.1" width="4" height="4" fill="#f33"/>
<rect x="467.2" y="98.6" width="4" height="4" fill="#f33"/>
<rect x="467.6" y="99.1" width="4" height="4" fill="#f33"/>
<rect x="468.1" y="99.5" width="4" height="4" fill="#f33"/>
<rect x="468.5" y="99.6" width="4" height="4" fill="#f33"/>
<rect x="468.9" y="98.2" width="4" height="4" fill="#f33"/>
<rect x="469.4" y="98.5" width="4" height="4" fill="#f33"/>
<rect x="469.8" y="98.9" width="4" height="4" fill="#f33"/>
<rect x="470.2" y="99.2" width="4" height="4" fill="#f33"/>
<rect x="470.6" y="98.7" width="4" height="4" fill="#f33"/>
<rect x="471" y="98.3" width="4" height="4" fill="#f33"/>
<rect x="471.4" y="98.6" width="4" height="4" fill="#f33"/>
<rect x="471.8" y="98.4" width="4" height="4" fill="#f33"/>
<rect x="472.2" y="98.3" width="4" height="4" fill="#f33"/>
<rect x="472.6" y="98.1" width="4" height="4" fill="#f33"/>
<rect x="473" y="98.5" width="4" height="4" fill="#f33"/>
<rect x="473.4" y="98.4" width="4" height="4" fill="#f33"/>
<rect x="473.8" y="98.2" width="4" height="4" fill="#f33"/>
<rect x="474.2" y="98.1" width="4" height="4" fill="#f33"/>
<rect x="474.6" y="97.7" width="4" height="4" fill="#f33"/>
<rect x="474.9" y="98" width="4" height="4" fill="#f33"/>
<rect x="475.3" y="98.5" width="4" height="4" fill="#f33"/>
<rect x="475.7" y="98" width="4" height="4" fill="#f33"/>
<rect x="476" y="97.5" width="4" height="4" fill="#f33"/>
<rect x="476.4" y="98.5" width="4" height="4" fill="#f33"/>
<rect x="476.8" y="98.2" width="4" height="4" fill="#f33"/>
<rect x="477.1" y="98.7" width="4" height="4" fill="#f33"/>
<rect x="477.5" y="97.9" width="4" height="4" fill="#f33"/>
<rect x="477.8" y="97.7" width="4" height="4" fill="#f33"/>
<rect x="478.2" y="97.3" width="4" height="4" fill="#f33"/>
<rect x="478.5" y="98.3" width="4" height="4" fill="#f33"/>
<rect x="478.8" y="98.7" width="4" height="4" fill="#f33"/>
<rect x="479.2" y="97.5" width="4" height="4" fill="#f33"/>
<rect x="479.5" y="97.5" width="4" height="4" fill="#f33"/>
<rect x="479.8" y="97.9" width="4" height="4" fill="#f33"/>
<rect x="480.2" y="97.4" width="4" height="4" fill="#f33"/>
<rect x="480.5" y="97.6" width="4" height="4" fill="#f33"/>
<rect x="480.8" y="97.5" width="4" height="4" fill="#f33"/>
<rect x="481.1" y="97.7" width="4" height="4" fill="#f33"/>
<rect x="481.4" y="97.9" width="4" height="4" fill="#f33"/>
<rect x="481.8" y="97.5" width="4" height="4" fill="#f33"/>
<rect x="482.1" y="97.8" width="4" height="4" fill="#f33"/>
<rect x="482.4" y="97.3" width="4" height="4" fill="#f33"/>
<rect x="482.7" y="97.5" width="4" height="4" fill="#f33"/>
<rect x="483" y="96.7" width="4" height="4" fill="#f33"/>
<rect x="483.3" y="96.9" width="4" height="4" fill="#f33"/>
<rect x="483.6" y="97.6" width="4" height="4" fill="#f33"/>
<rect x="483.9" y="97.1" width="4" height="4" fill="#f33"/>
<rect x="484.2" y="97.5" width="4" height="4" fill="#f33"/>
<rect x="484.5" y="97.5" width="4" height="4" fill="#f33"/>
<rect x="484.8" y="97.7" width="4" height="4" fill="#f33"/>
<rect x="485.1" y="97.5" width="4" height="4" fill="#f33"/>
<rect x="485.4" y="97.6" width="4" height="4" fill="#f33"/>
<rect x="485.6" y="97.2" width="4" height="4" fill="#f33"/>
<rect x="485.9" y="96.9" width="4" height="4" fill="#f33"/>
<rect x="486.2" y="96.9" width="4" height="4" fill="#f33"/>
<rect x="486.5" y="97" width="4" height="4" fill="#f33"/>
<rect x="486.8" y="96.7" width="4" height="4" fill="#f33"/>
<rect x="487" y="96.9" width="4" height="4" fill="#f33"/>
<rect x="487.3" y="97" width="4" height="4" fill="#f33"/>
<rect x="487.6" y="97.1" width="4" height="4" fill="#f33"/>
<rect x="487.9" y="96.9" width="4" height="4" fill="#f33"/>
<rect x="488.1" y="96.3" width="4" height="4" fill="#f33"/>
<rect x="488.4" y="97" width="4" height="4" fill="#f33"/>
<rect x="488.7" y="97" width="4" height="4" fill="#f33"/>
<rect x="488.9" y="97.3" width="4" height="4" fill="#f33"/>
<rect x="489.2" y="97.1" width="4" height="4" fill="#f33"/>
<rect x="489.5" y="96.7" width="4" height="4" fill="#f33"/>
<rect x="489.7" y="96.6" width="4" height="4" fill="#f33"/>
<rect x="490" y="97.5" width="4" height="4" fill="#f33"/>
<rect x="490.2" y="97.1" width="4" height="4" fill="#f33"/>
<rect x="490.5" y="97.4" width="4" height="4" fill="#f33"/>
<rect x="490.7" y="97.5" width="4" height="4" fill="#f33"/>
<rect x="491" y="96.5" width="4" height="4" fill="#f33"/>
<rect x="491.2" y="96.9" width="4" height="4" fill="#f33"/>
<rect x="491.5" y="96.9" width="4" height="4" fill="#f33"/>
<rect x="491.7" y="96.9" width="4" height="4" fill="#f33"/>
<rect x="492" y="96.8" width="4" height="4" fill="#f33"/>
<rect x="492.2" y="96.7" width="4" height="4" fill="#f33"/>
<rect x="492.4" y="96.6" width="4" height="4" fill="#f33"/>
<rect x="492.7" y="96" width="4" height="4" fill="#f33"/>
<rect x="492.9" y="96.5" width="4" height="4" fill="#f33"/>
<rect x="493.2" y="96.2" width="4" height="4" fill="#f33"/>
<rect x="493.4" y="96.5" width="4" height="4" fill="#f33"/>
<rect x="493.6" y="96.3" width="4" height="4" fill="#f33"/>
<rect x="493.9" y="96.6" width="4" height="4" fill="#f33"/>
<rect x="494.1" y="96.6" width="4" height="4" fill="#f33"/>
<rect x="494.3" y="96.4" width="4" height="4" fill="#f33"/>
<rect x="494.6" y="96.4" width="4" height="4" fill="#f33"/>
<rect x="494.8" y="96.3" width="4" height="4" fill="#f33"/>
<rect x="495" y="96" width="4" height="4" fill="#f33"/>
<rect x="495.2" y="96.1" width="4" height="4" fill="#f33"/>
<rect x="495.5" y="95.9" width="4" height="4" fill="#f33"/>
<rect x="495.7" y="96.2" width="4" height="4" fill="#f33"/>
<rect x="495.9" y="96" width="4" height="4" fill="#f33"/>
<rect x="496.1" y="96.1" width="4" height="4" fill="#f33"/>
<rect x="496.3" y="95.4" width="4" height="4" fill="#f33"/>
<rect x="496.6" y="96.1" width="4" height="4" fill="#f33"/>
<rect x="496.8" y="95.4" width="4" height="4" fill="#f33"/>
<rect x="497" y="95.4" width="4" height="4" fill="#f33"/>
<rect x="497.2" y="95.5" width="4" height="4" fill="#f33"/>
<rect x="497.4" y="95.3" width="4" height="4" fill="#f33"/>
<rect x="497.6" y="95.5" width="4" height="4" fill="#f33"/>
<rect x="497.8" y="95.1" width="4" height="4" fill="#f33"/>
<rect x="498.1" y="94.8" width="4" height="4" fill="#f33"/>
<rect x="498.3" y="94.8" width="4" height="4" fill="#f33"/>
<rect x="498.5" y="95.4" width="4" height="4" fill="#f33"/>
<rect x="498.7" y="94.9" width="4" height="4" fill="#f33"/>
<rect x="498.9" y="94.3" width="4" height="4" fill="#f33"/>
<rect x="499.1" y="94.6" width="4" height="4" fill="#f33"/>
<rect x="499.3" y="94" width="4" height="4" fill="#f33"/>
<rect x="499.5" y="95" width="4" height="4" fill="#f33"/>
<rect x="499.7" y="93.8" width="4" height="4" fill="#f33"/>
<rect x="499.9" y="94.3" width="4" height="4" fill="#f33"/>
<rect x="500.1" y="94.3" width="4" height="4" fill="#f33"/>
<rect x="500.3" y="93.4" width="4" height="4" fill="#f33"/>
<rect x="500.5" y="93.9" width="4" height="4" fill="#f33"/>
<rect x="500.7" y="94.1" width="4" height="4" fill="#f33"/>
<rect x="500.9" y="93.8" width="4" height="4" fill="#f33"/>
<rect x="501.1" y="93.6" width="4" height="4" fill="#f33"/>
<rect x="501.3" y="93.7" width="4" height="4" fill="#f33"/>
<rect x="501.5" y="93.3" width="4" height="4" fill="#f33"/>
<rect x="501.7" y="93.2" width="4" height="4" fill="#f33"/>
<rect x="501.8" y="93" width="4" height="4" fill="#f33"/>
<rect x="502" y="93.1" width="4" height="4" fill="#f33"/>
<rect x="502.2" y="92.4" width="4" height="4" fill="#f33"/>
<rect x="502.4" y="92.9" width="4" height="4" fill="#f33"/>
<rect x="502.6" y="92.4" width="4" height="4" fill="#f33"/>
<rect x="502.8" y="92.1" width="4" height="4" fill="#f33"/>
<rect x="503" y="92.4" width="4" height="4" fill="#f33"/>
<rect x="503.2" y="92.8" width="4" height="4" fill="#f33"/>
<rect x="503.3" y="92.4" width="4" height="4" fill="#f33"/>
<rect x="503.5" y="91.8" width="4" height="4" fill="#f33"/>
<rect x="503.7" y="92.1" width="4" height="4" fill="#f33"/>
<rect x="503.9" y="91.6" width="4" height="4" fill="#f33"/>
<rect x="504.1" y="91.6" width="4" height="4" fill="#f33"/>
<rect x="504.2" y="91.5" width="4" height="4" fill="#f33"/>
<rect x="504.4" y="90.6" width="4" height="4" fill="#f33"/>
<rect x="504.6" y="91.3" width="4" height="4" fill="#f33"/>
<rect x="504.8" y="90.7" width="4" height="4" fill="#f33"/>
<rect x="505" y="90.7" width="4" height="4" fill="#f33"/>
<rect x="505.1" y="90.3" width="4" height="4" fill="#f33"/>
<rect x="505.3" y="90.2" width="4" height="4" fill="#f33"/>
<rect x="505.5" y="90.2" width="4" height="4" fill="#f33"/>
<rect x="505.7" y="90.7" width="4" height="4" fill="#f33"/>
<rect x="505.8" y="90.9" width="4" height="4" fill="#f33"/>
<rect x="506" y="90.2" width="4" height="4" fill="#f33"/>
<rect x="506.2" y="90.4" width="4" height="4" fill="#f33"/>
<rect x="506.3" y="89.8" width="4" height="4" fill="#f33"/>
<rect x="506.5" y="89.1" width="4" height="4" fill="#f33"/>
<rect x="506.7" y="89.7" width="4" height="4" fill="#f33"/>
<rect x="506.8" y="89.6" width="4" height="4" fill="#f33"/>
<rect x="507" y="89.2" width="4" height="4" fill="#f33"/>
<rect x="507.2" y="89.3" width="4" height="4" fill="#f33"/>
<rect x="507.3" y="89.3" width="4" height="4" fill="#f33"/>
<path d="M370 149.3 L370.7 148.9 L371.4 148.5 L372.1 148.1 L372.8 147.8 L373.5 147.4 L374.2 147 L374.9 146.6 L375.6 146.3 L376.3 145.9 L377 145.5 L377.7 145 L378.4 144.6 L379.1 144.2 L379.8 143.7 L380.6 143.2 L381.3 142.7 L382 142.2 L382.7 141.6 L383.4 141 L384.1 140.5 L384.8 139.9 L385.5 139.3 L386.2 138.7 L386.9 138.1 L387.6 137.5 L388.3 136.9 L389 136.3 L389.7 135.7 L390.4 135.1 L391.1 134.6 L391.8 134 L392.5 133.5 L393.2 133.1 L393.9 132.6 L394.6 132.1 L395.3 131.7 L396 131.2 L396.7 130.8 L397.4 130.4 L398.1 129.9 L398.8 129.5 L399.5 129.1 L400.3 128.7 L401 128.3 L401.7 127.9 L402.4 127.5 L403.1 127.1 L403.8 126.7 L404.5 126.3 L405.2 125.9 L405.9 125.6 L406.6 125.2 L407.3 124.8 L408 124.4 L408.7 124.1 L409.4 123.7 L410.1 123.4 L410.8 123 L411.5 122.7 L412.2 122.3 L412.9 122 L413.6 121.6 L414.3 121.3 L415 121 L415.7 120.6 L416.4 120.3 L417.1 119.9 L417.8 119.6 L418.5 119.2 L419.2 118.9 L419.9 118.5 L420.7 118.2 L421.4 117.8 L422.1 117.4 L422.8 117.1 L423.5 116.7 L424.2 116.3 L424.9 116 L425.6 115.6 L426.3 115.3 L427 114.9 L427.7 114.5 L428.4 114.2 L429.1 113.9 L429.8 113.5 L430.5 113.2 L431.2 112.9 L431.9 112.5 L432.6 112.2 L433.3 111.9 L434 111.6 L434.7 111.3 L435.4 111 L436.1 110.7 L436.8 110.4 L437.5 110.1 L438.2 109.8 L438.9 109.5 L439.6 109.2 L440.4 109 L441.1 108.7 L441.8 108.4 L442.5 108.2 L443.2 107.9 L443.9 107.7 L444.6 107.4 L445.3 107.2 L446 107 L446.7 106.8 L447.4 106.6 L448.1 106.4 L448.8 106.2 L449.5 106 L450.2 105.8 L450.9 105.6 L451.6 105.5 L452.3 105.3 L453 105.1 L453.7 104.9 L454.4 104.8 L455.1 104.6 L455.8 104.4 L456.5 104.3 L457.2 104.1 L457.9 103.9 L458.6 103.7 L459.3 103.6 L460.1 103.4 L460.8 103.2 L461.5 103 L462.2 102.8 L462.9 102.6 L463.6 102.4 L464.3 102.2 L465 102.1 L465.7 101.9 L466.4 101.7 L467.1 101.5 L467.8 101.4 L468.5 101.2 L469.2 101.1 L469.9 101 L470.6 100.9 L471.3 100.8 L472 100.7 L472.7 100.6 L473.4 100.5 L474.1 100.4 L474.8 100.3 L475.5 100.3 L476.2 100.2 L476.9 100.1 L477.6 100.1 L478.3 100 L479 99.9 L479.7 99.9 L480.5 99.8 L481.2 99.8 L481.9 99.7 L482.6 99.6 L483.3 99.6 L484 99.5 L484.7 99.4 L485.4 99.4 L486.1 99.3 L486.8 99.3 L487.5 99.2 L488.2 99.1 L488.9 99.1 L489.6 99 L490.3 99 L491 98.9 L491.7 98.9 L492.4 98.8 L493.1 98.7 L493.8 98.7 L494.5 98.6 L495.2 98.5 L495.9 98.4 L496.6 98.3 L497.3 98.1 L498 98 L498.7 97.7 L499.4 97.4 L500.2 97.1 L500.9 96.8 L501.6 96.4 L502.3 96 L503 95.5 L503.7 95.1 L504.4 94.7 L505.1 94.3 L505.8 93.8 L506.5 93.3 L507.2 92.8 L507.9 92.3 L508.6 91.7 L509.3 91.1 L510 90.5" fill="none" stroke="#f33" stroke-width="3.4" stroke-linejoin="round"/>
<path d="M290 130.6 L290.7 130.4 L291.5 130.3 L292.2 130.1 L292.9 129.9 L293.7 129.8 L294.4 129.6 L295.2 129.4 L295.9 129.2 L296.6 129.1 L297.4 128.9 L298.1 128.7 L298.8 128.5 L299.6 128.4 L300.3 128.2 L301 128 L301.8 127.9 L302.5 127.7 L303.2 127.5 L304 127.3 L304.7 127.2 L305.5 127 L306.2 126.8 L306.9 126.6 L307.7 126.5 L308.4 126.3 L309.1 126.1 L309.9 125.9 L310.6 125.8 L311.3 125.6 L312.1 125.4 L312.8 125.2 L313.5 125.1 L314.3 124.9 L315 124.7 L315.8 124.5 L316.5 124.4 L317.2 124.2 L318 124 L318.7 123.8 L319.4 123.6 L320.2 123.5 L320.9 123.3 L321.6 123.1 L322.4 123 L323.1 122.8 L323.8 122.6 L324.6 122.4 L325.3 122.3 L326.1 122.1 L326.8 121.9 L327.5 121.7 L328.3 121.5 L329 121.3 L329.7 121.2 L330.5 121 L331.2 120.8 L331.9 120.6 L332.7 120.4 L333.4 120.2 L334.1 120 L334.9 119.8 L335.6 119.6 L336.4 119.3 L337.1 119.1 L337.8 118.9 L338.6 118.7 L339.3 118.5 L340 118.2 L340.8 118 L341.5 117.8 L342.2 117.5 L343 117.3 L343.7 117.1 L344.4 116.8 L345.2 116.6 L345.9 116.3 L346.7 116.1 L347.4 115.9 L348.1 115.6 L348.9 115.4 L349.6 115.1 L350.3 114.9 L351.1 114.6 L351.8 114.3 L352.5 114.1 L353.3 113.8 L354 113.4 L354.7 113.1 L355.5 112.8 L356.2 112.4 L357 112 L357.7 111.5 L358.4 111 L359.2 110.5 L359.9 110 L360.6 109.5 L361.4 109 L362.1 108.4 L362.8 107.9 L363.6 107.2 L364.3 106.6 L365.1 106 L365.8 105.3 L366.5 104.6 L367.3 104 L368 103.4 L368.7 102.8 L369.5 102.3 L370.2 101.8 L370.9 101.3 L371.7 100.8 L372.4 100.3 L373.1 99.8 L373.9 99.3 L374.6 98.8 L375.4 98.2 L376.1 97.6 L376.8 97.1 L377.6 96.5 L378.3 95.9 L379 95.3 L379.8 94.8 L380.5 94.2 L381.2 93.6 L382 93 L382.7 92.4 L383.4 91.9 L384.2 91.3 L384.9 90.8 L385.7 90.2 L386.4 89.7 L387.1 89.2 L387.9 88.7 L388.6 88.2 L389.3 87.7 L390.1 87.2 L390.8 86.7 L391.5 86.3 L392.3 85.8 L393 85.4 L393.7 85 L394.5 84.6 L395.2 84.1 L396 83.7 L396.7 83.3 L397.4 82.9 L398.2 82.5 L398.9 82.1 L399.6 81.7 L400.4 81.3 L401.1 80.8 L401.8 80.4 L402.6 79.9 L403.3 79.5 L404 79 L404.8 78.6 L405.5 78.1 L406.3 77.6 L407 77.2 L407.7 76.8 L408.5 76.3 L409.2 75.9 L409.9 75.5 L410.7 75.2 L411.4 74.8 L412.1 74.4 L412.9 74.1 L413.6 73.7 L414.3 73.4 L415.1 73.1 L415.8 72.8 L416.6 72.4 L417.3 72.1 L418 71.8 L418.8 71.5 L419.5 71.2 L420.2 70.9 L421 70.6 L421.7 70.3 L422.4 70 L423.2 69.7 L423.9 69.4 L424.6 69.1 L425.4 68.8 L426.1 68.6 L426.9 68.3 L427.6 68 L428.3 67.7 L429.1 67.4 L429.8 67.2 L430.5 66.9 L431.3 66.6 L432 66.3 L432.7 66.1 L433.5 65.8 L434.2 65.5 L434.9 65.3 L435.7 65 L436.4 64.8 L437.2 64.5 L437.9 64.2 L438.6 64 L439.4 63.7 L440.1 63.5 L440.8 63.2 L441.6 63 L442.3 62.7 L443 62.5 L443.8 62.2 L444.5 62 L445.3 61.7 L446 61.5 L446.7 61.2 L447.5 61 L448.2 60.7 L448.9 60.5 L449.7 60.2 L450.4 60 L451.1 59.7 L451.9 59.5 L452.6 59.3 L453.3 59 L454.1 58.8 L454.8 58.6 L455.6 58.3 L456.3 58.1 L457 57.9 L457.8 57.6 L458.5 57.4 L459.2 57.2 L460 56.9 L460.7 56.7 L461.4 56.5 L462.2 56.3 L462.9 56 L463.6 55.8 L464.4 55.6 L465.1 55.4 L465.9 55.2 L466.6 55 L467.3 54.8 L468.1 54.5 L468.8 54.3 L469.5 54.1 L470.3 53.9 L471 53.7 L471.7 53.5 L472.5 53.3 L473.2 53.1 L473.9 52.9 L474.7 52.7 L475.4 52.5 L476.2 52.4 L476.9 52.2 L477.6 52 L478.4 51.8 L479.1 51.6 L479.8 51.4 L480.6 51.2 L481.3 51.1 L482 50.9 L482.8 50.7 L483.5 50.5 L484.2 50.3 L485 50.2 L485.7 50 L486.5 49.8 L487.2 49.6 L487.9 49.5 L488.7 49.3 L489.4 49.1 L490.1 49 L490.9 48.8 L491.6 48.6 L492.3 48.4 L493.1 48.2 L493.8 48 L494.5 47.8 L495.3 47.7 L496 47.6 L496.8 47.5 L497.5 47.6 L498.2 48.1 L499 48.7 L499.7 49.4 L500.4 49.9 L501.2 50 L501.9 49.8 L502.6 49.4 L503.4 48.9 L504.1 48.2 L504.8 47.6 L505.6 47 L506.3 46.3 L507.1 45.6 L507.8 44.8 L508.5 43.9 L509.3 43 L510 42" fill="none" stroke="#1010e0" stroke-width="1.8" stroke-linejoin="round"/>
<path d="M316.7 121.7L319.1 125.9L314.3 125.9Z" fill="#1010e0"/>
<path d="M333 118.1L335.4 122.3L330.6 122.3Z" fill="#1010e0"/>
<path d="M344.5 114.4L346.9 118.6L342.1 118.6Z" fill="#1010e0"/>
<path d="M353.5 111.3L355.9 115.5L351.1 115.5Z" fill="#1010e0"/>
<path d="M360.8 107.3L363.2 111.5L358.4 111.5Z" fill="#1010e0"/>
<path d="M367 101.2L369.4 105.4L364.6 105.4Z" fill="#1010e0"/>
<path d="M372.4 97.5L374.8 101.7L370 101.7Z" fill="#1010e0"/>
<path d="M377.1 93.8L379.5 98L374.7 98Z" fill="#1010e0"/>
<path d="M381.3 90.9L383.7 95.1L378.9 95.1Z" fill="#1010e0"/>
<path d="M385.2 88.3L387.6 92.5L382.8 92.5Z" fill="#1010e0"/>
<path d="M388.7 85.5L391.1 89.7L386.3 89.7Z" fill="#1010e0"/>
<path d="M391.9 83.6L394.3 87.8L389.5 87.8Z" fill="#1010e0"/>
<path d="M394.9 81.1L397.3 85.3L392.5 85.3Z" fill="#1010e0"/>
<path d="M397.6 80.3L400 84.5L395.2 84.5Z" fill="#1010e0"/>
<path d="M400.2 78.5L402.6 82.7L397.8 82.7Z" fill="#1010e0"/>
<path d="M402.7 77.9L405.1 82.1L400.3 82.1Z" fill="#1010e0"/>
<path d="M405 76.2L407.4 80.4L402.6 80.4Z" fill="#1010e0"/>
<path d="M407.1 74.8L409.5 79L404.7 79Z" fill="#1010e0"/>
<path d="M409.2 73.3L411.6 77.5L406.8 77.5Z" fill="#1010e0"/>
<path d="M411.2 72.5L413.6 76.7L408.8 76.7Z" fill="#1010e0"/>
<path d="M413 71.7L415.4 75.9L410.6 75.9Z" fill="#1010e0"/>
<path d="M414.8 70.5L417.2 74.7L412.4 74.7Z" fill="#1010e0"/>
<path d="M416.5 69.7L418.9 73.9L414.1 73.9Z" fill="#1010e0"/>
<path d="M418.2 69.1L420.6 73.3L415.8 73.3Z" fill="#1010e0"/>
<path d="M419.7 68.3L422.1 72.5L417.3 72.5Z" fill="#1010e0"/>
<path d="M421.2 67.7L423.6 71.9L418.8 71.9Z" fill="#1010e0"/>
<path d="M422.7 67.2L425.1 71.4L420.3 71.4Z" fill="#1010e0"/>
<path d="M424.1 66.5L426.5 70.7L421.7 70.7Z" fill="#1010e0"/>
<path d="M425.5 66.5L427.9 70.7L423.1 70.7Z" fill="#1010e0"/>
<path d="M426.8 65.1L429.2 69.3L424.4 69.3Z" fill="#1010e0"/>
<path d="M428.1 65.5L430.5 69.7L425.7 69.7Z" fill="#1010e0"/>
<path d="M429.3 64.5L431.7 68.7L426.9 68.7Z" fill="#1010e0"/>
<path d="M430.5 64.1L432.9 68.3L428.1 68.3Z" fill="#1010e0"/>
<path d="M431.7 63.4L434.1 67.6L429.3 67.6Z" fill="#1010e0"/>
<path d="M432.8 63.4L435.2 67.6L430.4 67.6Z" fill="#1010e0"/>
<path d="M433.9 63L436.3 67.2L431.5 67.2Z" fill="#1010e0"/>
<path d="M435 62.7L437.4 66.9L432.6 66.9Z" fill="#1010e0"/>
<path d="M436 62.1L438.4 66.3L433.6 66.3Z" fill="#1010e0"/>
<path d="M437 62L439.4 66.2L434.6 66.2Z" fill="#1010e0"/>
<path d="M438 62.2L440.4 66.4L435.6 66.4Z" fill="#1010e0"/>
<path d="M439 61.4L441.4 65.6L436.6 65.6Z" fill="#1010e0"/>
<path d="M439.9 60.7L442.3 64.9L437.5 64.9Z" fill="#1010e0"/>
<path d="M440.9 60.9L443.3 65.1L438.5 65.1Z" fill="#1010e0"/>
<path d="M441.8 60.2L444.2 64.4L439.4 64.4Z" fill="#1010e0"/>
<path d="M442.7 60.2L445.1 64.4L440.3 64.4Z" fill="#1010e0"/>
<path d="M443.5 59.9L445.9 64.1L441.1 64.1Z" fill="#1010e0"/>
<path d="M444.4 59.3L446.8 63.5L442 63.5Z" fill="#1010e0"/>
<path d="M445.2 58.5L447.6 62.7L442.8 62.7Z" fill="#1010e0"/>
<path d="M446 58.7L448.4 62.9L443.6 62.9Z" fill="#1010e0"/>
<path d="M446.8 58.8L449.2 63L444.4 63Z" fill="#1010e0"/>
<path d="M447.6 58.2L450 62.4L445.2 62.4Z" fill="#1010e0"/>
<path d="M448.3 58.2L450.7 62.4L445.9 62.4Z" fill="#1010e0"/>
<path d="M449.1 58.2L451.5 62.4L446.7 62.4Z" fill="#1010e0"/>
<path d="M449.8 57.4L452.2 61.6L447.4 61.6Z" fill="#1010e0"/>
<path d="M450.6 57.8L453 62L448.2 62Z" fill="#1010e0"/>
<path d="M451.3 57.7L453.7 61.9L448.9 61.9Z" fill="#1010e0"/>
<path d="M452 57.3L454.4 61.5L449.6 61.5Z" fill="#1010e0"/>
<path d="M452.6 57.1L455 61.3L450.2 61.3Z" fill="#1010e0"/>
<path d="M453.3 56.8L455.7 61L450.9 61Z" fill="#1010e0"/>
<path d="M454 57L456.4 61.2L451.6 61.2Z" fill="#1010e0"/>
<path d="M454.6 56.1L457 60.3L452.2 60.3Z" fill="#1010e0"/>
<path d="M455.3 55.8L457.7 60L452.9 60Z" fill="#1010e0"/>
<path d="M455.9 55.8L458.3 60L453.5 60Z" fill="#1010e0"/>
<path d="M456.5 55.1L458.9 59.3L454.1 59.3Z" fill="#1010e0"/>
<path d="M457.2 54.7L459.6 58.9L454.8 58.9Z" fill="#1010e0"/>
<path d="M457.8 54.7L460.2 58.9L455.4 58.9Z" fill="#1010e0"/>
<path d="M458.4 55L460.8 59.2L456 59.2Z" fill="#1010e0"/>
<path d="M458.9 54.8L461.3 59L456.5 59Z" fill="#1010e0"/>
<path d="M459.5 53.9L461.9 58.1L457.1 58.1Z" fill="#1010e0"/>
<path d="M460.1 53.6L462.5 57.8L457.7 57.8Z" fill="#1010e0"/>
<path d="M460.6 54L463 58.2L458.2 58.2Z" fill="#1010e0"/>
<path d="M461.2 53.9L463.6 58.1L458.8 58.1Z" fill="#1010e0"/>
<path d="M461.7 53.8L464.1 58L459.3 58Z" fill="#1010e0"/>
<path d="M462.3 53.9L464.7 58.1L459.9 58.1Z" fill="#1010e0"/>
<path d="M462.8 53.9L465.2 58.1L460.4 58.1Z" fill="#1010e0"/>
<path d="M463.3 53.4L465.7 57.6L460.9 57.6Z" fill="#1010e0"/>
<path d="M463.9 53.4L466.3 57.6L461.5 57.6Z" fill="#1010e0"/>
<path d="M464.4 52.6L466.8 56.8L462 56.8Z" fill="#1010e0"/>
<path d="M464.9 52.4L467.3 56.6L462.5 56.6Z" fill="#1010e0"/>
<path d="M465.4 52.8L467.8 57L463 57Z" fill="#1010e0"/>
<path d="M465.9 52.8L468.3 57L463.5 57Z" fill="#1010e0"/>
<path d="M466.4 52.7L468.8 56.9L464 56.9Z" fill="#1010e0"/>
<path d="M466.8 52.5L469.2 56.7L464.4 56.7Z" fill="#1010e0"/>
<path d="M467.3 52.4L469.7 56.6L464.9 56.6Z" fill="#1010e0"/>
<path d="M467.8 52.3L470.2 56.5L465.4 56.5Z" fill="#1010e0"/>
<path d="M468.3 51.3L470.7 55.5L465.9 55.5Z" fill="#1010e0"/>
<path d="M468.7 51.5L471.1 55.7L466.3 55.7Z" fill="#1010e0"/>
<path d="M469.2 51.8L471.6 56L466.8 56Z" fill="#1010e0"/>
<path d="M469.6 51.7L472 55.9L467.2 55.9Z" fill="#1010e0"/>
<path d="M470.1 50.9L472.5 55.1L467.7 55.1Z" fill="#1010e0"/>
<path d="M470.5 51.7L472.9 55.9L468.1 55.9Z" fill="#1010e0"/>
<path d="M470.9 51L473.3 55.2L468.5 55.2Z" fill="#1010e0"/>
<path d="M471.4 50.9L473.8 55.1L469 55.1Z" fill="#1010e0"/>
<path d="M471.8 51L474.2 55.2L469.4 55.2Z" fill="#1010e0"/>
<path d="M472.2 51.1L474.6 55.3L469.8 55.3Z" fill="#1010e0"/>
<path d="M472.6 50.2L475 54.4L470.2 54.4Z" fill="#1010e0"/>
<path d="M473 50.9L475.4 55.1L470.6 55.1Z" fill="#1010e0"/>
<path d="M473.4 50.5L475.8 54.7L471 54.7Z" fill="#1010e0"/>
<path d="M473.8 50.1L476.2 54.3L471.4 54.3Z" fill="#1010e0"/>
<path d="M474.2 50.2L476.6 54.4L471.8 54.4Z" fill="#1010e0"/>
<path d="M474.6 49.4L477 53.6L472.2 53.6Z" fill="#1010e0"/>
<path d="M475 49.8L477.4 54L472.6 54Z" fill="#1010e0"/>
<path d="M475.4 50L477.8 54.2L473 54.2Z" fill="#1010e0"/>
<path d="M475.8 49.6L478.2 53.8L473.4 53.8Z" fill="#1010e0"/>
<path d="M476.2 49.6L478.6 53.8L473.8 53.8Z" fill="#1010e0"/>
<path d="M476.6 49.6L479 53.8L474.2 53.8Z" fill="#1010e0"/>
<path d="M476.9 49.6L479.3 53.8L474.5 53.8Z" fill="#1010e0"/>
<path d="M477.3 49.8L479.7 54L474.9 54Z" fill="#1010e0"/>
<path d="M477.7 49.4L480.1 53.6L475.3 53.6Z" fill="#1010e0"/>
<path d="M478 49.2L480.4 53.4L475.6 53.4Z" fill="#1010e0"/>
<path d="M478.4 49.4L480.8 53.6L476 53.6Z" fill="#1010e0"/>
<path d="M478.8 49.8L481.2 54L476.4 54Z" fill="#1010e0"/>
<path d="M479.1 48.9L481.5 53.1L476.7 53.1Z" fill="#1010e0"/>
<path d="M479.5 49.1L481.9 53.3L477.1 53.3Z" fill="#1010e0"/>
<path d="M479.8 48.3L482.2 52.5L477.4 52.5Z" fill="#1010e0"/>
<path d="M480.2 49.2L482.6 53.4L477.8 53.4Z" fill="#1010e0"/>
<path d="M480.5 48.9L482.9 53.1L478.1 53.1Z" fill="#1010e0"/>
<path d="M480.8 49L483.2 53.2L478.4 53.2Z" fill="#1010e0"/>
<path d="M481.2 48.5L483.6 52.7L478.8 52.7Z" fill="#1010e0"/>
<path d="M481.5 48L483.9 52.2L479.1 52.2Z" fill="#1010e0"/>
<path d="M481.8 48.6L484.2 52.8L479.4 52.8Z" fill="#1010e0"/>
<path d="M482.2 48.5L484.6 52.7L479.8 52.7Z" fill="#1010e0"/>
<path d="M482.5 47.9L484.9 52.1L480.1 52.1Z" fill="#1010e0"/>
<path d="M482.8 47.6L485.2 51.8L480.4 51.8Z" fill="#1010e0"/>
<path d="M483.1 48.2L485.5 52.4L480.7 52.4Z" fill="#1010e0"/>
<path d="M483.4 47.9L485.8 52.1L481 52.1Z" fill="#1010e0"/>
<path d="M483.8 48.8L486.2 53L481.4 53Z" fill="#1010e0"/>
<path d="M484.1 47.6L486.5 51.8L481.7 51.8Z" fill="#1010e0"/>
<path d="M484.4 47.5L486.8 51.7L482 51.7Z" fill="#1010e0"/>
<path d="M484.7 47.6L487.1 51.8L482.3 51.8Z" fill="#1010e0"/>
<path d="M485 47L487.4 51.2L482.6 51.2Z" fill="#1010e0"/>
<path d="M485.3 47.2L487.7 51.4L482.9 51.4Z" fill="#1010e0"/>
<path d="M485.6 48L488 52.2L483.2 52.2Z" fill="#1010e0"/>
<path d="M485.9 47.3L488.3 51.5L483.5 51.5Z" fill="#1010e0"/>
<path d="M486.2 47.1L488.6 51.3L483.8 51.3Z" fill="#1010e0"/>
<path d="M486.5 46.8L488.9 51L484.1 51Z" fill="#1010e0"/>
<path d="M486.8 47.3L489.2 51.5L484.4 51.5Z" fill="#1010e0"/>
<path d="M487.1 47.3L489.5 51.5L484.7 51.5Z" fill="#1010e0"/>
<path d="M487.4 47.1L489.8 51.3L485 51.3Z" fill="#1010e0"/>
<path d="M487.6 46.8L490 51L485.2 51Z" fill="#1010e0"/>
<path d="M487.9 47L490.3 51.2L485.5 51.2Z" fill="#1010e0"/>
<path d="M488.2 46.9L490.6 51.1L485.8 51.1Z" fill="#1010e0"/>
<path d="M488.5 46.5L490.9 50.7L486.1 50.7Z" fill="#1010e0"/>
<path d="M488.8 46.9L491.2 51.1L486.4 51.1Z" fill="#1010e0"/>
<path d="M489 45.9L491.4 50.1L486.6 50.1Z" fill="#1010e0"/>
<path d="M489.3 46.1L491.7 50.3L486.9 50.3Z" fill="#1010e0"/>
<path d="M489.6 46.4L492 50.6L487.2 50.6Z" fill="#1010e0"/>
<path d="M489.9 46.4L492.3 50.6L487.5 50.6Z" fill="#1010e0"/>
<path d="M490.1 46L492.5 50.2L487.7 50.2Z" fill="#1010e0"/>
<path d="M490.4 46.4L492.8 50.6L488 50.6Z" fill="#1010e0"/>
<path d="M490.7 46.6L493.1 50.8L488.3 50.8Z" fill="#1010e0"/>
<path d="M490.9 46.3L493.3 50.5L488.5 50.5Z" fill="#1010e0"/>
<path d="M491.2 46.2L493.6 50.4L488.8 50.4Z" fill="#1010e0"/>
<path d="M491.5 46.3L493.9 50.5L489.1 50.5Z" fill="#1010e0"/>
<path d="M491.7 46.1L494.1 50.3L489.3 50.3Z" fill="#1010e0"/>
<path d="M492 45.5L494.4 49.7L489.6 49.7Z" fill="#1010e0"/>
<path d="M492.2 45.7L494.6 49.9L489.8 49.9Z" fill="#1010e0"/>
<path d="M492.5 46.2L494.9 50.4L490.1 50.4Z" fill="#1010e0"/>
<path d="M492.7 45.3L495.1 49.5L490.3 49.5Z" fill="#1010e0"/>
<path d="M493 45.6L495.4 49.8L490.6 49.8Z" fill="#1010e0"/>
<path d="M493.2 45.4L495.6 49.6L490.8 49.6Z" fill="#1010e0"/>
<path d="M493.5 45.1L495.9 49.3L491.1 49.3Z" fill="#1010e0"/>
<path d="M493.7 45L496.1 49.2L491.3 49.2Z" fill="#1010e0"/>
<path d="M494 45.4L496.4 49.6L491.6 49.6Z" fill="#1010e0"/>
<path d="M494.2 45.4L496.6 49.6L491.8 49.6Z" fill="#1010e0"/>
<path d="M494.4 45.3L496.8 49.5L492 49.5Z" fill="#1010e0"/>
<path d="M494.7 44.7L497.1 48.9L492.3 48.9Z" fill="#1010e0"/>
<path d="M494.9 45L497.3 49.2L492.5 49.2Z" fill="#1010e0"/>
<path d="M495.2 45.2L497.6 49.4L492.8 49.4Z" fill="#1010e0"/>
<path d="M495.4 45.4L497.8 49.6L493 49.6Z" fill="#1010e0"/>
<path d="M495.6 45.2L498 49.4L493.2 49.4Z" fill="#1010e0"/>
<path d="M495.9 45.3L498.3 49.5L493.5 49.5Z" fill="#1010e0"/>
<path d="M496.1 45.3L498.5 49.5L493.7 49.5Z" fill="#1010e0"/>
<path d="M496.3 45.2L498.7 49.4L493.9 49.4Z" fill="#1010e0"/>
<path d="M496.6 44.6L499 48.8L494.2 48.8Z" fill="#1010e0"/>
<path d="M496.8 44.9L499.2 49.1L494.4 49.1Z" fill="#1010e0"/>
<path d="M497 44.7L499.4 48.9L494.6 48.9Z" fill="#1010e0"/>
<path d="M497.2 44.1L499.6 48.3L494.8 48.3Z" fill="#1010e0"/>
<path d="M497.5 44.4L499.9 48.6L495.1 48.6Z" fill="#1010e0"/>
<path d="M497.7 45.8L500.1 50L495.3 50Z" fill="#1010e0"/>
<path d="M497.9 44.8L500.3 49L495.5 49Z" fill="#1010e0"/>
<path d="M498.1 44.6L500.5 48.8L495.7 48.8Z" fill="#1010e0"/>
<path d="M498.3 45.3L500.7 49.5L495.9 49.5Z" fill="#1010e0"/>
<path d="M498.6 46.3L501 50.5L496.2 50.5Z" fill="#1010e0"/>
<path d="M498.8 45.9L501.2 50.1L496.4 50.1Z" fill="#1010e0"/>
<path d="M499 46.3L501.4 50.5L496.6 50.5Z" fill="#1010e0"/>
<path d="M499.2 46.2L501.6 50.4L496.8 50.4Z" fill="#1010e0"/>
<path d="M499.4 46.5L501.8 50.7L497 50.7Z" fill="#1010e0"/>
<path d="M499.6 47.2L502 51.4L497.2 51.4Z" fill="#1010e0"/>
<path d="M499.8 47.2L502.2 51.4L497.4 51.4Z" fill="#1010e0"/>
<path d="M500.1 47L502.5 51.2L497.7 51.2Z" fill="#1010e0"/>
<path d="M500.3 47.5L502.7 51.7L497.9 51.7Z" fill="#1010e0"/>
<path d="M500.5 47.7L502.9 51.9L498.1 51.9Z" fill="#1010e0"/>
<path d="M500.7 47.3L503.1 51.5L498.3 51.5Z" fill="#1010e0"/>
<path d="M500.9 47.5L503.3 51.7L498.5 51.7Z" fill="#1010e0"/>
<path d="M501.1 47.5L503.5 51.7L498.7 51.7Z" fill="#1010e0"/>
<path d="M501.3 47.1L503.7 51.3L498.9 51.3Z" fill="#1010e0"/>
<path d="M501.5 47.7L503.9 51.9L499.1 51.9Z" fill="#1010e0"/>
<path d="M501.7 47.2L504.1 51.4L499.3 51.4Z" fill="#1010e0"/>
<path d="M501.9 47L504.3 51.2L499.5 51.2Z" fill="#1010e0"/>
<path d="M502.1 46.5L504.5 50.7L499.7 50.7Z" fill="#1010e0"/>
<path d="M502.3 46.6L504.7 50.8L499.9 50.8Z" fill="#1010e0"/>
<path d="M502.5 47.4L504.9 51.6L500.1 51.6Z" fill="#1010e0"/>
<path d="M502.7 46.4L505.1 50.6L500.3 50.6Z" fill="#1010e0"/>
<path d="M502.9 46.8L505.3 51L500.5 51Z" fill="#1010e0"/>
<path d="M503.1 46.4L505.5 50.6L500.7 50.6Z" fill="#1010e0"/>
<path d="M503.3 46.5L505.7 50.7L500.9 50.7Z" fill="#1010e0"/>
<path d="M503.5 46.4L505.9 50.6L501.1 50.6Z" fill="#1010e0"/>
<path d="M503.7 45.8L506.1 50L501.3 50Z" fill="#1010e0"/>
<path d="M503.8 45.8L506.2 50L501.4 50Z" fill="#1010e0"/>
<path d="M504 45.7L506.4 49.9L501.6 49.9Z" fill="#1010e0"/>
<path d="M504.2 45.6L506.6 49.8L501.8 49.8Z" fill="#1010e0"/>
<path d="M504.4 45.4L506.8 49.6L502 49.6Z" fill="#1010e0"/>
<path d="M504.6 45.1L507 49.3L502.2 49.3Z" fill="#1010e0"/>
<path d="M504.8 45.3L507.2 49.5L502.4 49.5Z" fill="#1010e0"/>
<path d="M505 45.4L507.4 49.6L502.6 49.6Z" fill="#1010e0"/>
<path d="M505.2 45L507.6 49.2L502.8 49.2Z" fill="#1010e0"/>
<path d="M505.3 44.4L507.7 48.6L502.9 48.6Z" fill="#1010e0"/>
<path d="M505.5 44.6L507.9 48.8L503.1 48.8Z" fill="#1010e0"/>
<path d="M505.7 44.3L508.1 48.5L503.3 48.5Z" fill="#1010e0"/>
<path d="M505.9 44.3L508.3 48.5L503.5 48.5Z" fill="#1010e0"/>
<path d="M506.1 44.6L508.5 48.8L503.7 48.8Z" fill="#1010e0"/>
<path d="M506.2 43.7L508.6 47.9L503.8 47.9Z" fill="#1010e0"/>
<path d="M506.4 43.6L508.8 47.8L504 47.8Z" fill="#1010e0"/>
<path d="M506.6 43.2L509 47.4L504.2 47.4Z" fill="#1010e0"/>
<path d="M506.8 43.2L509.2 47.4L504.4 47.4Z" fill="#1010e0"/>
<path d="M507 42.9L509.4 47.1L504.6 47.1Z" fill="#1010e0"/>
<path d="M507.1 43.5L509.5 47.7L504.7 47.7Z" fill="#1010e0"/>
<path d="M507.3 42.8L509.7 47L504.9 47Z" fill="#1010e0"/>
<path d="M507.5 42.3L509.9 46.5L505.1 46.5Z" fill="#1010e0"/>
<path d="M507.7 43L510.1 47.2L505.3 47.2Z" fill="#1010e0"/>
<path d="M507.8 41.7L510.2 45.9L505.4 45.9Z" fill="#1010e0"/>
<path d="M508 42.2L510.4 46.4L505.6 46.4Z" fill="#1010e0"/>
<path d="M508.2 42.1L510.6 46.3L505.8 46.3Z" fill="#1010e0"/>
<path d="M508.3 41.7L510.7 45.9L505.9 45.9Z" fill="#1010e0"/>
<path d="M508.5 41.2L510.9 45.4L506.1 45.4Z" fill="#1010e0"/>
<path d="M508.7 41.1L511.1 45.3L506.3 45.3Z" fill="#1010e0"/>
<path d="M508.8 40.8L511.2 45L506.4 45Z" fill="#1010e0"/>
<path d="M509 41L511.4 45.2L506.6 45.2Z" fill="#1010e0"/>
<path d="M509.2 39.7L511.6 43.9L506.8 43.9Z" fill="#1010e0"/>
<path d="M509.3 40.1L511.7 44.3L506.9 44.3Z" fill="#1010e0"/>
<path d="M370 101.9 L370.7 101.4 L371.4 101 L372.1 100.5 L372.8 100 L373.5 99.5 L374.2 99 L374.9 98.5 L375.6 98 L376.3 97.5 L377 96.9 L377.7 96.4 L378.4 95.8 L379.1 95.3 L379.8 94.7 L380.6 94.1 L381.3 93.6 L382 93 L382.7 92.5 L383.4 91.9 L384.1 91.4 L384.8 90.9 L385.5 90.4 L386.2 89.9 L386.9 89.4 L387.6 88.9 L388.3 88.4 L389 87.9 L389.7 87.5 L390.4 87 L391.1 86.6 L391.8 86.1 L392.5 85.7 L393.2 85.3 L393.9 84.9 L394.6 84.5 L395.3 84.1 L396 83.7 L396.7 83.3 L397.4 82.9 L398.1 82.5 L398.8 82.2 L399.5 81.8 L400.3 81.4 L401 80.9 L401.7 80.5 L402.4 80.1 L403.1 79.6 L403.8 79.2 L404.5 78.7 L405.2 78.3 L405.9 77.9 L406.6 77.4 L407.3 77 L408 76.6 L408.7 76.2 L409.4 75.8 L410.1 75.4 L410.8 75.1 L411.5 74.7 L412.2 74.4 L412.9 74.1 L413.6 73.7 L414.3 73.4 L415 73.1 L415.7 72.8 L416.4 72.5 L417.1 72.2 L417.8 71.9 L418.5 71.6 L419.2 71.3 L419.9 71 L420.7 70.7 L421.4 70.4 L422.1 70.2 L422.8 69.9 L423.5 69.6 L424.2 69.3 L424.9 69 L425.6 68.8 L426.3 68.5 L427 68.2 L427.7 68 L428.4 67.7 L429.1 67.4 L429.8 67.2 L430.5 66.9 L431.2 66.6 L431.9 66.4 L432.6 66.1 L433.3 65.9 L434 65.6 L434.7 65.4 L435.4 65.1 L436.1 64.9 L436.8 64.6 L437.5 64.4 L438.2 64.1 L438.9 63.9 L439.6 63.6 L440.4 63.4 L441.1 63.1 L441.8 62.9 L442.5 62.7 L443.2 62.4 L443.9 62.2 L444.6 61.9 L445.3 61.7 L446 61.5 L446.7 61.2 L447.4 61 L448.1 60.8 L448.8 60.5 L449.5 60.3 L450.2 60.1 L450.9 59.8 L451.6 59.6 L452.3 59.4 L453 59.1 L453.7 58.9 L454.4 58.7 L455.1 58.5 L455.8 58.2 L456.5 58 L457.2 57.8 L457.9 57.6 L458.6 57.3 L459.3 57.1 L460.1 56.9 L460.8 56.7 L461.5 56.5 L462.2 56.3 L462.9 56.1 L463.6 55.8 L464.3 55.6 L465 55.4 L465.7 55.2 L466.4 55 L467.1 54.8 L467.8 54.6 L468.5 54.4 L469.2 54.2 L469.9 54 L470.6 53.8 L471.3 53.6 L472 53.4 L472.7 53.3 L473.4 53.1 L474.1 52.9 L474.8 52.7 L475.5 52.5 L476.2 52.3 L476.9 52.2 L477.6 52 L478.3 51.8 L479 51.6 L479.7 51.4 L480.5 51.3 L481.2 51.1 L481.9 50.9 L482.6 50.7 L483.3 50.6 L484 50.4 L484.7 50.2 L485.4 50.1 L486.1 49.9 L486.8 49.7 L487.5 49.6 L488.2 49.4 L488.9 49.3 L489.6 49.1 L490.3 48.9 L491 48.7 L491.7 48.6 L492.4 48.4 L493.1 48.2 L493.8 48 L494.5 47.8 L495.2 47.7 L495.9 47.6 L496.6 47.5 L497.3 47.6 L498 47.9 L498.7 48.5 L499.4 49.2 L500.2 49.7 L500.9 50 L501.6 49.9 L502.3 49.6 L503 49.2 L503.7 48.6 L504.4 48 L505.1 47.4 L505.8 46.8 L506.5 46.2 L507.2 45.5 L507.9 44.7 L508.6 43.8 L509.3 42.9 L510 42" fill="none" stroke="#1010e0" stroke-width="3.4" stroke-linejoin="round"/>
<path d="M290 107.8 L290.7 107.7 L291.5 107.6 L292.2 107.4 L292.9 107.3 L293.7 107.2 L294.4 107.1 L295.2 106.9 L295.9 106.8 L296.6 106.7 L297.4 106.6 L298.1 106.4 L298.8 106.3 L299.6 106.2 L300.3 106 L301 105.9 L301.8 105.8 L302.5 105.6 L303.2 105.5 L304 105.4 L304.7 105.2 L305.5 105.1 L306.2 105 L306.9 104.8 L307.7 104.7 L308.4 104.5 L309.1 104.4 L309.9 104.3 L310.6 104.1 L311.3 104 L312.1 103.8 L312.8 103.7 L313.5 103.5 L314.3 103.4 L315 103.2 L315.8 103.1 L316.5 102.9 L317.2 102.8 L318 102.6 L318.7 102.5 L319.4 102.3 L320.2 102.2 L320.9 102 L321.6 101.9 L322.4 101.7 L323.1 101.6 L323.8 101.4 L324.6 101.3 L325.3 101.1 L326.1 100.9 L326.8 100.8 L327.5 100.6 L328.3 100.4 L329 100.3 L329.7 100.1 L330.5 99.9 L331.2 99.7 L331.9 99.6 L332.7 99.4 L333.4 99.2 L334.1 99 L334.9 98.8 L335.6 98.6 L336.4 98.4 L337.1 98.2 L337.8 98 L338.6 97.7 L339.3 97.5 L340 97.3 L340.8 97.1 L341.5 96.8 L342.2 96.6 L343 96.4 L343.7 96.1 L344.4 95.9 L345.2 95.7 L345.9 95.5 L346.7 95.2 L347.4 95 L348.1 94.8 L348.9 94.6 L349.6 94.3 L350.3 94.1 L351.1 93.8 L351.8 93.6 L352.5 93.3 L353.3 93 L354 92.8 L354.7 92.5 L355.5 92.1 L356.2 91.8 L357 91.4 L357.7 91 L358.4 90.6 L359.2 90.2 L359.9 89.8 L360.6 89.4 L361.4 89 L362.1 88.6 L362.8 88.2 L363.6 87.8 L364.3 87.4 L365.1 87.1 L365.8 86.7 L366.5 86.3 L367.3 85.9 L368 85.6 L368.7 85.2 L369.5 84.8 L370.2 84.5 L370.9 84.1 L371.7 83.8 L372.4 83.4 L373.1 83.1 L373.9 82.7 L374.6 82.4 L375.4 82.1 L376.1 81.8 L376.8 81.5 L377.6 81.2 L378.3 80.9 L379 80.6 L379.8 80.2 L380.5 79.9 L381.2 79.6 L382 79.3 L382.7 79 L383.4 78.7 L384.2 78.5 L384.9 78.2 L385.7 77.9 L386.4 77.6 L387.1 77.4 L387.9 77.1 L388.6 76.8 L389.3 76.5 L390.1 76.2 L390.8 75.8 L391.5 75.5 L392.3 75.2 L393 74.8 L393.7 74.4 L394.5 74.1 L395.2 73.7 L396 73.3 L396.7 73 L397.4 72.6 L398.2 72.2 L398.9 71.9 L399.6 71.5 L400.4 71.1 L401.1 70.7 L401.8 70.4 L402.6 70 L403.3 69.6 L404 69.2 L404.8 68.9 L405.5 68.5 L406.3 68.1 L407 67.8 L407.7 67.4 L408.5 67.1 L409.2 66.8 L409.9 66.4 L410.7 66.1 L411.4 65.8 L412.1 65.5 L412.9 65.2 L413.6 64.9 L414.3 64.6 L415.1 64.3 L415.8 64 L416.6 63.7 L417.3 63.5 L418 63.2 L418.8 62.9 L419.5 62.7 L420.2 62.4 L421 62.2 L421.7 61.9 L422.4 61.7 L423.2 61.4 L423.9 61.2 L424.6 61 L425.4 60.7 L426.1 60.5 L426.9 60.3 L427.6 60 L428.3 59.8 L429.1 59.6 L429.8 59.3 L430.5 59.1 L431.3 58.9 L432 58.7 L432.7 58.5 L433.5 58.3 L434.2 58.1 L434.9 57.9 L435.7 57.7 L436.4 57.5 L437.2 57.3 L437.9 57.1 L438.6 56.9 L439.4 56.7 L440.1 56.5 L440.8 56.3 L441.6 56.1 L442.3 55.9 L443 55.7 L443.8 55.5 L444.5 55.4 L445.3 55.2 L446 55 L446.7 54.8 L447.5 54.7 L448.2 54.5 L448.9 54.3 L449.7 54.1 L450.4 54 L451.1 53.8 L451.9 53.6 L452.6 53.5 L453.3 53.3 L454.1 53.1 L454.8 53 L455.6 52.8 L456.3 52.7 L457 52.5 L457.8 52.3 L458.5 52.2 L459.2 52 L460 51.9 L460.7 51.7 L461.4 51.6 L462.2 51.4 L462.9 51.2 L463.6 51.1 L464.4 50.9 L465.1 50.8 L465.9 50.6 L466.6 50.5 L467.3 50.3 L468.1 50.1 L468.8 50 L469.5 49.8 L470.3 49.7 L471 49.5 L471.7 49.4 L472.5 49.2 L473.2 49 L473.9 48.9 L474.7 48.7 L475.4 48.6 L476.2 48.4 L476.9 48.3 L477.6 48.1 L478.4 48 L479.1 47.8 L479.8 47.7 L480.6 47.5 L481.3 47.4 L482 47.2 L482.8 47.1 L483.5 46.9 L484.2 46.8 L485 46.6 L485.7 46.5 L486.5 46.3 L487.2 46.2 L487.9 46 L488.7 45.9 L489.4 45.7 L490.1 45.6 L490.9 45.4 L491.6 45.3 L492.3 45.1 L493.1 44.9 L493.8 44.8 L494.5 44.6 L495.3 44.5 L496 44.3 L496.8 44.1 L497.5 44 L498.2 43.8 L499 43.7 L499.7 43.5 L500.4 43.3 L501.2 43.2 L501.9 43 L502.6 42.9 L503.4 42.7 L504.1 42.5 L504.8 42.4 L505.6 42.2 L506.3 42 L507.1 41.9 L507.8 41.7 L508.5 41.5 L509.3 41.4 L510 41.2" fill="none" stroke="#000" stroke-width="1.8" stroke-linejoin="round"/>
<circle cx="316.7" cy="103.5" r="2.3" fill="#000"/>
<circle cx="333" cy="98.2" r="2.3" fill="#000"/>
<circle cx="344.5" cy="96.2" r="2.3" fill="#000"/>
<circle cx="353.5" cy="93" r="2.3" fill="#000"/>
<circle cx="360.8" cy="89.7" r="2.3" fill="#000"/>
<circle cx="367" cy="86.2" r="2.3" fill="#000"/>
<circle cx="372.4" cy="84.1" r="2.3" fill="#000"/>
<circle cx="377.1" cy="81.4" r="2.3" fill="#000"/>
<circle cx="381.3" cy="79.4" r="2.3" fill="#000"/>
<circle cx="385.2" cy="78.3" r="2.3" fill="#000"/>
<circle cx="388.7" cy="76.9" r="2.3" fill="#000"/>
<circle cx="391.9" cy="75.2" r="2.3" fill="#000"/>
<circle cx="394.9" cy="73.8" r="2.3" fill="#000"/>
<circle cx="397.6" cy="72.7" r="2.3" fill="#000"/>
<circle cx="400.2" cy="71.4" r="2.3" fill="#000"/>
<circle cx="402.7" cy="69.8" r="2.3" fill="#000"/>
<circle cx="405" cy="68.6" r="2.3" fill="#000"/>
<circle cx="407.1" cy="67.1" r="2.3" fill="#000"/>
<circle cx="409.2" cy="67.3" r="2.3" fill="#000"/>
<circle cx="411.2" cy="65.8" r="2.3" fill="#000"/>
<circle cx="413" cy="65.6" r="2.3" fill="#000"/>
<circle cx="414.8" cy="64.6" r="2.3" fill="#000"/>
<circle cx="416.5" cy="64.4" r="2.3" fill="#000"/>
<circle cx="418.2" cy="63.7" r="2.3" fill="#000"/>
<circle cx="419.7" cy="62.7" r="2.3" fill="#000"/>
<circle cx="421.2" cy="62.6" r="2.3" fill="#000"/>
<circle cx="422.7" cy="61.3" r="2.3" fill="#000"/>
<circle cx="424.1" cy="61.6" r="2.3" fill="#000"/>
<circle cx="425.5" cy="60.2" r="2.3" fill="#000"/>
<circle cx="426.8" cy="60.4" r="2.3" fill="#000"/>
<circle cx="428.1" cy="60.2" r="2.3" fill="#000"/>
<circle cx="429.3" cy="59.6" r="2.3" fill="#000"/>
<circle cx="430.5" cy="59" r="2.3" fill="#000"/>
<circle cx="431.7" cy="58.5" r="2.3" fill="#000"/>
<circle cx="432.8" cy="58.3" r="2.3" fill="#000"/>
<circle cx="433.9" cy="58.5" r="2.3" fill="#000"/>
<circle cx="435" cy="58.2" r="2.3" fill="#000"/>
<circle cx="436" cy="57.5" r="2.3" fill="#000"/>
<circle cx="437" cy="56.9" r="2.3" fill="#000"/>
<circle cx="438" cy="57.3" r="2.3" fill="#000"/>
<circle cx="439" cy="56.3" r="2.3" fill="#000"/>
<circle cx="439.9" cy="56.3" r="2.3" fill="#000"/>
<circle cx="440.9" cy="56" r="2.3" fill="#000"/>
<circle cx="441.8" cy="56.3" r="2.3" fill="#000"/>
<circle cx="442.7" cy="55.9" r="2.3" fill="#000"/>
<circle cx="443.5" cy="55.8" r="2.3" fill="#000"/>
<circle cx="444.4" cy="55.5" r="2.3" fill="#000"/>
<circle cx="445.2" cy="55" r="2.3" fill="#000"/>
<circle cx="446" cy="55.2" r="2.3" fill="#000"/>
<circle cx="446.8" cy="55.3" r="2.3" fill="#000"/>
<circle cx="447.6" cy="54.6" r="2.3" fill="#000"/>
<circle cx="448.3" cy="54.7" r="2.3" fill="#000"/>
<circle cx="449.1" cy="54.2" r="2.3" fill="#000"/>
<circle cx="449.8" cy="54.5" r="2.3" fill="#000"/>
<circle cx="450.6" cy="54.2" r="2.3" fill="#000"/>
<circle cx="451.3" cy="54.1" r="2.3" fill="#000"/>
<circle cx="452" cy="53.7" r="2.3" fill="#000"/>
<circle cx="452.6" cy="54" r="2.3" fill="#000"/>
<circle cx="453.3" cy="53.2" r="2.3" fill="#000"/>
<circle cx="454" cy="53" r="2.3" fill="#000"/>
<circle cx="454.6" cy="52.8" r="2.3" fill="#000"/>
<circle cx="455.3" cy="53.1" r="2.3" fill="#000"/>
<circle cx="455.9" cy="52.5" r="2.3" fill="#000"/>
<circle cx="456.5" cy="52.4" r="2.3" fill="#000"/>
<circle cx="457.2" cy="52.7" r="2.3" fill="#000"/>
<circle cx="457.8" cy="52.7" r="2.3" fill="#000"/>
<circle cx="458.4" cy="52.4" r="2.3" fill="#000"/>
<circle cx="458.9" cy="51.1" r="2.3" fill="#000"/>
<circle cx="459.5" cy="51.6" r="2.3" fill="#000"/>
<circle cx="460.1" cy="51.5" r="2.3" fill="#000"/>
<circle cx="460.6" cy="51.3" r="2.3" fill="#000"/>
<circle cx="461.2" cy="51.5" r="2.3" fill="#000"/>
<circle cx="461.7" cy="52.1" r="2.3" fill="#000"/>
<circle cx="462.3" cy="51.3" r="2.3" fill="#000"/>
<circle cx="462.8" cy="51" r="2.3" fill="#000"/>
<circle cx="463.3" cy="51.4" r="2.3" fill="#000"/>
<circle cx="463.9" cy="51.1" r="2.3" fill="#000"/>
<circle cx="464.4" cy="51" r="2.3" fill="#000"/>
<circle cx="464.9" cy="50.6" r="2.3" fill="#000"/>
<circle cx="465.4" cy="50.7" r="2.3" fill="#000"/>
<circle cx="465.9" cy="50.8" r="2.3" fill="#000"/>
<circle cx="466.4" cy="49.8" r="2.3" fill="#000"/>
<circle cx="466.8" cy="49.8" r="2.3" fill="#000"/>
<circle cx="467.3" cy="50.7" r="2.3" fill="#000"/>
<circle cx="467.8" cy="50.5" r="2.3" fill="#000"/>
<circle cx="468.3" cy="49.9" r="2.3" fill="#000"/>
<circle cx="468.7" cy="49.6" r="2.3" fill="#000"/>
<circle cx="469.2" cy="49.8" r="2.3" fill="#000"/>
<circle cx="469.6" cy="49.4" r="2.3" fill="#000"/>
<circle cx="470.1" cy="49.6" r="2.3" fill="#000"/>
<circle cx="470.5" cy="50.2" r="2.3" fill="#000"/>
<circle cx="470.9" cy="49.6" r="2.3" fill="#000"/>
<circle cx="471.4" cy="49.8" r="2.3" fill="#000"/>
<circle cx="471.8" cy="49.3" r="2.3" fill="#000"/>
<circle cx="472.2" cy="49.4" r="2.3" fill="#000"/>
<circle cx="472.6" cy="49.7" r="2.3" fill="#000"/>
<circle cx="473" cy="48.6" r="2.3" fill="#000"/>
<circle cx="473.4" cy="48.9" r="2.3" fill="#000"/>
<circle cx="473.8" cy="48.9" r="2.3" fill="#000"/>
<circle cx="474.2" cy="48.9" r="2.3" fill="#000"/>
<circle cx="474.6" cy="49.3" r="2.3" fill="#000"/>
<circle cx="475" cy="48.9" r="2.3" fill="#000"/>
<circle cx="475.4" cy="48.1" r="2.3" fill="#000"/>
<circle cx="475.8" cy="48.4" r="2.3" fill="#000"/>
<circle cx="476.2" cy="48.1" r="2.3" fill="#000"/>
<circle cx="476.6" cy="48" r="2.3" fill="#000"/>
<circle cx="476.9" cy="49" r="2.3" fill="#000"/>
<circle cx="477.3" cy="47.8" r="2.3" fill="#000"/>
<circle cx="477.7" cy="48.2" r="2.3" fill="#000"/>
<circle cx="478" cy="47.8" r="2.3" fill="#000"/>
<circle cx="478.4" cy="48.3" r="2.3" fill="#000"/>
<circle cx="478.8" cy="48" r="2.3" fill="#000"/>
<circle cx="479.1" cy="47.9" r="2.3" fill="#000"/>
<circle cx="479.5" cy="47.7" r="2.3" fill="#000"/>
<circle cx="479.8" cy="48.1" r="2.3" fill="#000"/>
<circle cx="480.2" cy="47.3" r="2.3" fill="#000"/>
<circle cx="480.5" cy="47.3" r="2.3" fill="#000"/>
<circle cx="480.8" cy="47.1" r="2.3" fill="#000"/>
<circle cx="481.2" cy="47.9" r="2.3" fill="#000"/>
<circle cx="481.5" cy="47.2" r="2.3" fill="#000"/>
<circle cx="481.8" cy="46.9" r="2.3" fill="#000"/>
<circle cx="482.2" cy="47.1" r="2.3" fill="#000"/>
<circle cx="482.5" cy="48" r="2.3" fill="#000"/>
<circle cx="482.8" cy="47" r="2.3" fill="#000"/>
<circle cx="483.1" cy="47.3" r="2.3" fill="#000"/>
<circle cx="483.4" cy="47.1" r="2.3" fill="#000"/>
<circle cx="483.8" cy="46.9" r="2.3" fill="#000"/>
<circle cx="484.1" cy="46.6" r="2.3" fill="#000"/>
<circle cx="484.4" cy="46.6" r="2.3" fill="#000"/>
<circle cx="484.7" cy="46.6" r="2.3" fill="#000"/>
<circle cx="485" cy="45.9" r="2.3" fill="#000"/>
<circle cx="485.3" cy="47.5" r="2.3" fill="#000"/>
<circle cx="485.6" cy="46.8" r="2.3" fill="#000"/>
<circle cx="485.9" cy="46.5" r="2.3" fill="#000"/>
<circle cx="486.2" cy="46.3" r="2.3" fill="#000"/>
<circle cx="486.5" cy="46.1" r="2.3" fill="#000"/>
<circle cx="486.8" cy="46.6" r="2.3" fill="#000"/>
<circle cx="487.1" cy="46.1" r="2.3" fill="#000"/>
<circle cx="487.4" cy="46.3" r="2.3" fill="#000"/>
<circle cx="487.6" cy="45.6" r="2.3" fill="#000"/>
<circle cx="487.9" cy="46.2" r="2.3" fill="#000"/>
<circle cx="488.2" cy="46.7" r="2.3" fill="#000"/>
<circle cx="488.5" cy="45.8" r="2.3" fill="#000"/>
<circle cx="488.8" cy="46.1" r="2.3" fill="#000"/>
<circle cx="489" cy="45.8" r="2.3" fill="#000"/>
<circle cx="489.3" cy="46.1" r="2.3" fill="#000"/>
<circle cx="489.6" cy="46.1" r="2.3" fill="#000"/>
<circle cx="489.9" cy="45.7" r="2.3" fill="#000"/>
<circle cx="490.1" cy="45.4" r="2.3" fill="#000"/>
<circle cx="490.4" cy="45.6" r="2.3" fill="#000"/>
<circle cx="490.7" cy="45.5" r="2.3" fill="#000"/>
<circle cx="490.9" cy="45.2" r="2.3" fill="#000"/>
<circle cx="491.2" cy="45.5" r="2.3" fill="#000"/>
<circle cx="491.5" cy="45.4" r="2.3" fill="#000"/>
<circle cx="491.7" cy="44.9" r="2.3" fill="#000"/>
<circle cx="492" cy="45.1" r="2.3" fill="#000"/>
<circle cx="492.2" cy="46.1" r="2.3" fill="#000"/>
<circle cx="492.5" cy="45.4" r="2.3" fill="#000"/>
<circle cx="492.7" cy="45.1" r="2.3" fill="#000"/>
<circle cx="493" cy="45.8" r="2.3" fill="#000"/>
<circle cx="493.2" cy="44.8" r="2.3" fill="#000"/>
<circle cx="493.5" cy="44" r="2.3" fill="#000"/>
<circle cx="493.7" cy="44.1" r="2.3" fill="#000"/>
<circle cx="494" cy="44.2" r="2.3" fill="#000"/>
<circle cx="494.2" cy="44.8" r="2.3" fill="#000"/>
<circle cx="494.4" cy="45" r="2.3" fill="#000"/>
<circle cx="494.7" cy="43.8" r="2.3" fill="#000"/>
<circle cx="494.9" cy="44.9" r="2.3" fill="#000"/>
<circle cx="495.2" cy="44.1" r="2.3" fill="#000"/>
<circle cx="495.4" cy="44.5" r="2.3" fill="#000"/>
<circle cx="495.6" cy="44.6" r="2.3" fill="#000"/>
<circle cx="495.9" cy="44.5" r="2.3" fill="#000"/>
<circle cx="496.1" cy="44.3" r="2.3" fill="#000"/>
<circle cx="496.3" cy="44.3" r="2.3" fill="#000"/>
<circle cx="496.6" cy="43.8" r="2.3" fill="#000"/>
<circle cx="496.8" cy="44.2" r="2.3" fill="#000"/>
<circle cx="497" cy="44.4" r="2.3" fill="#000"/>
<circle cx="497.2" cy="44.4" r="2.3" fill="#000"/>
<circle cx="497.5" cy="44.9" r="2.3" fill="#000"/>
<circle cx="497.7" cy="44.3" r="2.3" fill="#000"/>
<circle cx="497.9" cy="44.1" r="2.3" fill="#000"/>
<circle cx="498.1" cy="44.4" r="2.3" fill="#000"/>
<circle cx="498.3" cy="43.9" r="2.3" fill="#000"/>
<circle cx="498.6" cy="43.3" r="2.3" fill="#000"/>
<circle cx="498.8" cy="42.9" r="2.3" fill="#000"/>
<circle cx="499" cy="44.1" r="2.3" fill="#000"/>
<circle cx="499.2" cy="43.8" r="2.3" fill="#000"/>
<circle cx="499.4" cy="43.9" r="2.3" fill="#000"/>
<circle cx="499.6" cy="43.4" r="2.3" fill="#000"/>
<circle cx="499.8" cy="43.6" r="2.3" fill="#000"/>
<circle cx="500.1" cy="44.1" r="2.3" fill="#000"/>
<circle cx="500.3" cy="43.5" r="2.3" fill="#000"/>
<circle cx="500.5" cy="42.9" r="2.3" fill="#000"/>
<circle cx="500.7" cy="43.1" r="2.3" fill="#000"/>
<circle cx="500.9" cy="43.7" r="2.3" fill="#000"/>
<circle cx="501.1" cy="42.8" r="2.3" fill="#000"/>
<circle cx="501.3" cy="42.2" r="2.3" fill="#000"/>
<circle cx="501.5" cy="42.3" r="2.3" fill="#000"/>
<circle cx="501.7" cy="42.6" r="2.3" fill="#000"/>
<circle cx="501.9" cy="43.3" r="2.3" fill="#000"/>
<circle cx="502.1" cy="43" r="2.3" fill="#000"/>
<circle cx="502.3" cy="42.7" r="2.3" fill="#000"/>
<circle cx="502.5" cy="42.4" r="2.3" fill="#000"/>
<circle cx="502.7" cy="42.8" r="2.3" fill="#000"/>
<circle cx="502.9" cy="42.7" r="2.3" fill="#000"/>
<circle cx="503.1" cy="42.6" r="2.3" fill="#000"/>
<circle cx="503.3" cy="42.6" r="2.3" fill="#000"/>
<circle cx="503.5" cy="42.4" r="2.3" fill="#000"/>
<circle cx="503.7" cy="43.3" r="2.3" fill="#000"/>
<circle cx="503.8" cy="41.8" r="2.3" fill="#000"/>
<circle cx="504" cy="42.6" r="2.3" fill="#000"/>
<circle cx="504.2" cy="42.1" r="2.3" fill="#000"/>
<circle cx="504.4" cy="42.7" r="2.3" fill="#000"/>
<circle cx="504.6" cy="42.3" r="2.3" fill="#000"/>
<circle cx="504.8" cy="42.5" r="2.3" fill="#000"/>
<circle cx="505" cy="42.5" r="2.3" fill="#000"/>
<circle cx="505.2" cy="42.4" r="2.3" fill="#000"/>
<circle cx="505.3" cy="42.6" r="2.3" fill="#000"/>
<circle cx="505.5" cy="41.7" r="2.3" fill="#000"/>
<circle cx="505.7" cy="42.5" r="2.3" fill="#000"/>
<circle cx="505.9" cy="42.1" r="2.3" fill="#000"/>
<circle cx="506.1" cy="42.2" r="2.3" fill="#000"/>
<circle cx="506.2" cy="42.6" r="2.3" fill="#000"/>
<circle cx="506.4" cy="42.4" r="2.3" fill="#000"/>
<circle cx="506.6" cy="42.7" r="2.3" fill="#000"/>
<circle cx="506.8" cy="41.1" r="2.3" fill="#000"/>
<circle cx="507" cy="41.6" r="2.3" fill="#000"/>
<circle cx="507.1" cy="42.2" r="2.3" fill="#000"/>
<circle cx="507.3" cy="41.4" r="2.3" fill="#000"/>
<circle cx="507.5" cy="41.7" r="2.3" fill="#000"/>
<circle cx="507.7" cy="42.3" r="2.3" fill="#000"/>
<circle cx="507.8" cy="42" r="2.3" fill="#000"/>
<circle cx="508" cy="41.3" r="2.3" fill="#000"/>
<circle cx="508.2" cy="41.8" r="2.3" fill="#000"/>
<circle cx="508.3" cy="41.8" r="2.3" fill="#000"/>
<circle cx="508.5" cy="41.6" r="2.3" fill="#000"/>
<circle cx="508.7" cy="41.5" r="2.3" fill="#000"/>
<circle cx="508.8" cy="41.5" r="2.3" fill="#000"/>
<circle cx="509" cy="40.9" r="2.3" fill="#000"/>
<circle cx="509.2" cy="41.4" r="2.3" fill="#000"/>
<circle cx="509.3" cy="41" r="2.3" fill="#000"/>
<path d="M370 84.6 L370.7 84.2 L371.4 83.9 L372.1 83.5 L372.8 83.2 L373.5 82.9 L374.2 82.6 L374.9 82.3 L375.6 82 L376.3 81.7 L377 81.4 L377.7 81.1 L378.4 80.8 L379.1 80.5 L379.8 80.2 L380.6 79.9 L381.3 79.6 L382 79.3 L382.7 79 L383.4 78.8 L384.1 78.5 L384.8 78.2 L385.5 78 L386.2 77.7 L386.9 77.4 L387.6 77.2 L388.3 76.9 L389 76.6 L389.7 76.3 L390.4 76 L391.1 75.7 L391.8 75.4 L392.5 75 L393.2 74.7 L393.9 74.3 L394.6 74 L395.3 73.6 L396 73.3 L396.7 72.9 L397.4 72.6 L398.1 72.2 L398.8 71.9 L399.5 71.5 L400.3 71.2 L401 70.8 L401.7 70.5 L402.4 70.1 L403.1 69.7 L403.8 69.4 L404.5 69 L405.2 68.7 L405.9 68.3 L406.6 68 L407.3 67.6 L408 67.3 L408.7 67 L409.4 66.7 L410.1 66.4 L410.8 66.1 L411.5 65.8 L412.2 65.5 L412.9 65.2 L413.6 64.9 L414.3 64.6 L415 64.3 L415.7 64.1 L416.4 63.8 L417.1 63.5 L417.8 63.3 L418.5 63 L419.2 62.8 L419.9 62.5 L420.7 62.3 L421.4 62 L422.1 61.8 L422.8 61.6 L423.5 61.3 L424.2 61.1 L424.9 60.9 L425.6 60.7 L426.3 60.4 L427 60.2 L427.7 60 L428.4 59.8 L429.1 59.6 L429.8 59.3 L430.5 59.1 L431.2 58.9 L431.9 58.7 L432.6 58.5 L433.3 58.3 L434 58.1 L434.7 57.9 L435.4 57.7 L436.1 57.5 L436.8 57.3 L437.5 57.2 L438.2 57 L438.9 56.8 L439.6 56.6 L440.4 56.4 L441.1 56.2 L441.8 56 L442.5 55.9 L443.2 55.7 L443.9 55.5 L444.6 55.3 L445.3 55.2 L446 55 L446.7 54.8 L447.4 54.7 L448.1 54.5 L448.8 54.3 L449.5 54.2 L450.2 54 L450.9 53.9 L451.6 53.7 L452.3 53.5 L453 53.4 L453.7 53.2 L454.4 53.1 L455.1 52.9 L455.8 52.8 L456.5 52.6 L457.2 52.5 L457.9 52.3 L458.6 52.1 L459.3 52 L460.1 51.8 L460.8 51.7 L461.5 51.5 L462.2 51.4 L462.9 51.2 L463.6 51.1 L464.3 50.9 L465 50.8 L465.7 50.6 L466.4 50.5 L467.1 50.4 L467.8 50.2 L468.5 50.1 L469.2 49.9 L469.9 49.8 L470.6 49.6 L471.3 49.4 L472 49.3 L472.7 49.2 L473.4 49 L474.1 48.9 L474.8 48.7 L475.5 48.6 L476.2 48.4 L476.9 48.3 L477.6 48.1 L478.3 48 L479 47.8 L479.7 47.7 L480.5 47.6 L481.2 47.4 L481.9 47.3 L482.6 47.1 L483.3 47 L484 46.9 L484.7 46.7 L485.4 46.6 L486.1 46.4 L486.8 46.3 L487.5 46.1 L488.2 46 L488.9 45.8 L489.6 45.7 L490.3 45.5 L491 45.4 L491.7 45.2 L492.4 45.1 L493.1 44.9 L493.8 44.8 L494.5 44.6 L495.2 44.5 L495.9 44.3 L496.6 44.2 L497.3 44 L498 43.9 L498.7 43.7 L499.4 43.6 L500.2 43.4 L500.9 43.2 L501.6 43.1 L502.3 42.9 L503 42.8 L503.7 42.6 L504.4 42.5 L505.1 42.3 L505.8 42.2 L506.5 42 L507.2 41.8 L507.9 41.7 L508.6 41.5 L509.3 41.4 L510 41.2" fill="none" stroke="#000" stroke-width="3.4" stroke-linejoin="round"/>
<line x1="355.5" y1="94" x2="368" y2="83.5" stroke="#000" stroke-width="1.1"/>
<line x1="341" y1="121" x2="371" y2="109.5" stroke="#1010e0" stroke-width="1.1"/>
<line x1="348" y1="119" x2="362" y2="105" stroke="#1010e0" stroke-width="1.1"/>
<line x1="343" y1="167.5" x2="360" y2="161" stroke="#f33" stroke-width="1.1"/>
<line x1="353" y1="163" x2="353" y2="205" stroke="#f33" stroke-width="1" stroke-dasharray="2 1.5"/>
<line x1="355.6" y1="112" x2="355.6" y2="205" stroke="#1010e0" stroke-width="1" stroke-dasharray="2 1.5"/>
<line x1="360.8" y1="92" x2="360.8" y2="205" stroke="#000" stroke-width="1" stroke-dasharray="2 1.5"/>
<text x="306" y="86.5" font-size="10" text-anchor="start" fill="#000" >V<tspan font-size="6.2" dy="2.3" letter-spacing="0.7">TFL</tspan><tspan dy="-2.3">=0.1150V</tspan></text>
<text x="368.5" y="120" font-size="10" text-anchor="start" fill="#1a1aff" >V<tspan font-size="6.2" dy="2.3" letter-spacing="0.7">TFL</tspan><tspan dy="-2.3">=0.1044V</tspan></text>
<text x="297.5" y="163" font-size="10" text-anchor="start" fill="#f33" >V<tspan font-size="6.2" dy="2.3" letter-spacing="0.7">TFL</tspan><tspan dy="-2.3">=0.0971V</tspan></text>
<line x1="295" y1="37.3" x2="317" y2="37.3" stroke="#000" stroke-width="1.6"/>
<circle cx="305.5" cy="37.3" r="2.3" fill="#000"/>
<text x="319.5" y="40.8" font-size="10" text-anchor="start" fill="#000" >SnO<tspan font-size="7" dy="2">2</tspan></text>
<line x1="295" y1="51" x2="317" y2="51" stroke="#f33" stroke-width="1.6"/>
<rect x="303.5" y="49" width="4" height="4" fill="#f33"/>
<text x="319.5" y="54.5" font-size="10" text-anchor="start" fill="#000" >0.025M ZnO/SnO<tspan font-size="7" dy="2">2</tspan></text>
<line x1="295" y1="64.7" x2="317" y2="64.7" stroke="#1010e0" stroke-width="1.6"/>
<path d="M305.5 62.1L307.9 66.3L303.1 66.3Z" fill="#1010e0"/>
<text x="319.5" y="68.2" font-size="10" text-anchor="start" fill="#000" >0.030M ZnO/SnO<tspan font-size="7" dy="2">2</tspan></text>
<g>
<polygon points="452,184 508.5,176.5 508.5,183 452,192" fill="#1f93a3"/>
<polygon points="417.5,166.5 452,184 452,192 417.8,174" fill="#136f7c"/>
<polygon points="451,176 507.8,168.8 508.5,176.5 452,184" fill="#f8c618"/>
<polygon points="417.3,159 451,176 452,184 417.5,166.5" fill="#c99c10"/>
<polygon points="448,175.7 503,167.6 507.8,168.8 451,176" fill="#f6d757"/>
<polygon points="446.5,171.8 501.5,163.6 503,167.6 448,175.7" fill="#a057d0"/>
<polygon points="417.2,155.4 446.5,171.8 448,175.7 417.3,159" fill="#36b9d6"/>
<polygon points="417.2,155.4 467,145.5 501.5,163.6 446.5,171.8" fill="#5cd6f0"/>
</g>
<clipPath id="pvk"><polygon points="419,146 470,136.5 496,150 491,156 486,152.5 480,159 474,154.5 468,161 462,156.5 456,163 450,158.5 444,164 438,159.5 432,162.5 426,157.5 421,159.5"/></clipPath>
<polygon points="419,146 470,136.5 496,150 491,156 486,152.5 480,159 474,154.5 468,161 462,156.5 456,163 450,158.5 444,164 438,159.5 432,162.5 426,157.5 421,159.5" fill="#2a6fb4"/>
<g clip-path="url(#pvk)">
<path d="M421 151.5 l4.5 -4.5 l2.5 1.5 l-4.5 4.5z" fill="#1b5592"/>
<path d="M424 155.5 l4 -4 l2 1.2 l-4 4z" fill="#3f90d2"/>
<path d="M428.8 150.6 l4.5 -4.5 l2.5 1.5 l-4.5 4.5z" fill="#1b5592"/>
<path d="M431.8 154.6 l4 -4 l2 1.2 l-4 4z" fill="#3f90d2"/>
<path d="M436.6 149.7 l4.5 -4.5 l2.5 1.5 l-4.5 4.5z" fill="#1b5592"/>
<path d="M439.6 153.7 l4 -4 l2 1.2 l-4 4z" fill="#3f90d2"/>
<path d="M444.4 148.8 l4.5 -4.5 l2.5 1.5 l-4.5 4.5z" fill="#1b5592"/>
<path d="M447.4 152.8 l4 -4 l2 1.2 l-4 4z" fill="#3f90d2"/>
<path d="M452.2 147.9 l4.5 -4.5 l2.5 1.5 l-4.5 4.5z" fill="#1b5592"/>
<path d="M455.2 151.9 l4 -4 l2 1.2 l-4 4z" fill="#3f90d2"/>
<path d="M460 147 l4.5 -4.5 l2.5 1.5 l-4.5 4.5z" fill="#1b5592"/>
<path d="M463 151 l4 -4 l2 1.2 l-4 4z" fill="#3f90d2"/>
<path d="M467.8 146.1 l4.5 -4.5 l2.5 1.5 l-4.5 4.5z" fill="#1b5592"/>
<path d="M470.8 150.1 l4 -4 l2 1.2 l-4 4z" fill="#3f90d2"/>
<path d="M475.6 145.2 l4.5 -4.5 l2.5 1.5 l-4.5 4.5z" fill="#1b5592"/>
<path d="M478.6 149.2 l4 -4 l2 1.2 l-4 4z" fill="#3f90d2"/>
<path d="M483.4 144.3 l4.5 -4.5 l2.5 1.5 l-4.5 4.5z" fill="#1b5592"/>
<path d="M486.4 148.3 l4 -4 l2 1.2 l-4 4z" fill="#3f90d2"/>
<path d="M491.2 143.4 l4.5 -4.5 l2.5 1.5 l-4.5 4.5z" fill="#1b5592"/>
<path d="M494.2 147.4 l4 -4 l2 1.2 l-4 4z" fill="#3f90d2"/>
</g>
<circle cx="441" cy="153.5" r="1.1" fill="#f0a030"/>
<circle cx="450.5" cy="152.5" r="1.1" fill="#f0a030"/>
<circle cx="459" cy="151.5" r="1.1" fill="#f0a030"/>
<circle cx="475.5" cy="150" r="1.1" fill="#f0a030"/>
<circle cx="484" cy="149.5" r="1.1" fill="#f0a030"/>
<circle cx="431" cy="155" r="1.1" fill="#f0a030"/>
<g>
<polygon points="416,128 466,119.3 484,129.5 432,137.5" fill="#f2eaee"/>
<polygon points="432,137.5 484,129.5 485,136.5 433,145" fill="#b3124a"/>
<polygon points="416,128 432,137.5 433,145 416.5,134.5" fill="#8a0c38"/>
</g>
<text x="455" y="130.5" font-size="4" text-anchor="middle" fill="#aaa"  style="font-family:Liberation Sans,sans-serif;font-weight:normal">Au</text>
<text x="460" y="141.5" font-size="5" text-anchor="middle" fill="#fff"  style="font-family:Liberation Sans,sans-serif;font-weight:normal">PCBM</text>
<text x="467" y="155.3" font-size="5" text-anchor="middle" fill="#fff"  style="font-family:Liberation Sans,sans-serif;font-weight:normal">PVK</text>
<text x="474" y="164.5" font-size="4.5" text-anchor="middle" fill="#fff"  style="font-family:Liberation Sans,sans-serif;font-weight:normal">TiO<tspan font-size="3" dy="1">2</tspan></text>
<text x="451" y="174.2" font-size="4.3" text-anchor="middle" fill="#fff"  style="font-family:Liberation Sans,sans-serif;font-weight:normal">ZnO</text>
<text x="477" y="180.3" font-size="4.5" text-anchor="middle" fill="#fff"  style="font-family:Liberation Sans,sans-serif;font-weight:normal">ITO</text>
<text x="478" y="187.6" font-size="4.5" text-anchor="middle" fill="#fff"  style="font-family:Liberation Sans,sans-serif;font-weight:normal">Glass</text>
<rect x="289.8" y="26.2" width="221.2" height="178.8" fill="none" stroke="#111" stroke-width="1.5"/>
<line x1="289.8" y1="26.2" x2="289.8" y2="205" stroke="#111" stroke-width="2"/>
<line x1="289.8" y1="205" x2="511" y2="205" stroke="#111" stroke-width="1.9"/>
<line x1="289.8" y1="205" x2="293.8" y2="205" stroke="#111" stroke-width="1.3"/>
<text x="285.8" y="209.7" font-size="10" text-anchor="end" fill="#000" >10<tspan font-size="7" dy="-3.8">−10</tspan></text>
<line x1="289.8" y1="200.1" x2="291.6" y2="200.1" stroke="#111" stroke-width="0.9"/>
<line x1="289.8" y1="197.2" x2="291.6" y2="197.2" stroke="#111" stroke-width="0.9"/>
<line x1="289.8" y1="195.2" x2="291.6" y2="195.2" stroke="#111" stroke-width="0.9"/>
<line x1="289.8" y1="193.6" x2="291.6" y2="193.6" stroke="#111" stroke-width="0.9"/>
<line x1="289.8" y1="192.4" x2="291.6" y2="192.4" stroke="#111" stroke-width="0.9"/>
<line x1="289.8" y1="191.3" x2="291.6" y2="191.3" stroke="#111" stroke-width="0.9"/>
<line x1="289.8" y1="190.3" x2="291.6" y2="190.3" stroke="#111" stroke-width="0.9"/>
<line x1="289.8" y1="189.5" x2="291.6" y2="189.5" stroke="#111" stroke-width="0.9"/>
<line x1="289.8" y1="188.8" x2="292.6" y2="188.8" stroke="#111" stroke-width="1.3"/>
<line x1="289.8" y1="183.9" x2="291.6" y2="183.9" stroke="#111" stroke-width="0.9"/>
<line x1="289.8" y1="181" x2="291.6" y2="181" stroke="#111" stroke-width="0.9"/>
<line x1="289.8" y1="179" x2="291.6" y2="179" stroke="#111" stroke-width="0.9"/>
<line x1="289.8" y1="177.4" x2="291.6" y2="177.4" stroke="#111" stroke-width="0.9"/>
<line x1="289.8" y1="176.1" x2="291.6" y2="176.1" stroke="#111" stroke-width="0.9"/>
<line x1="289.8" y1="175" x2="291.6" y2="175" stroke="#111" stroke-width="0.9"/>
<line x1="289.8" y1="174.1" x2="291.6" y2="174.1" stroke="#111" stroke-width="0.9"/>
<line x1="289.8" y1="173.2" x2="291.6" y2="173.2" stroke="#111" stroke-width="0.9"/>
<line x1="289.8" y1="172.5" x2="293.8" y2="172.5" stroke="#111" stroke-width="1.3"/>
<text x="285.8" y="176.9" font-size="10" text-anchor="end" fill="#000" >10<tspan font-size="7" dy="-3.8">−8</tspan></text>
<line x1="289.8" y1="167.6" x2="291.6" y2="167.6" stroke="#111" stroke-width="0.9"/>
<line x1="289.8" y1="164.7" x2="291.6" y2="164.7" stroke="#111" stroke-width="0.9"/>
<line x1="289.8" y1="162.7" x2="291.6" y2="162.7" stroke="#111" stroke-width="0.9"/>
<line x1="289.8" y1="161.1" x2="291.6" y2="161.1" stroke="#111" stroke-width="0.9"/>
<line x1="289.8" y1="159.9" x2="291.6" y2="159.9" stroke="#111" stroke-width="0.9"/>
<line x1="289.8" y1="158.8" x2="291.6" y2="158.8" stroke="#111" stroke-width="0.9"/>
<line x1="289.8" y1="157.8" x2="291.6" y2="157.8" stroke="#111" stroke-width="0.9"/>
<line x1="289.8" y1="157" x2="291.6" y2="157" stroke="#111" stroke-width="0.9"/>
<line x1="289.8" y1="156.2" x2="292.6" y2="156.2" stroke="#111" stroke-width="1.3"/>
<line x1="289.8" y1="151.4" x2="291.6" y2="151.4" stroke="#111" stroke-width="0.9"/>
<line x1="289.8" y1="148.5" x2="291.6" y2="148.5" stroke="#111" stroke-width="0.9"/>
<line x1="289.8" y1="146.5" x2="291.6" y2="146.5" stroke="#111" stroke-width="0.9"/>
<line x1="289.8" y1="144.9" x2="291.6" y2="144.9" stroke="#111" stroke-width="0.9"/>
<line x1="289.8" y1="143.6" x2="291.6" y2="143.6" stroke="#111" stroke-width="0.9"/>
<line x1="289.8" y1="142.5" x2="291.6" y2="142.5" stroke="#111" stroke-width="0.9"/>
<line x1="289.8" y1="141.6" x2="291.6" y2="141.6" stroke="#111" stroke-width="0.9"/>
<line x1="289.8" y1="140.7" x2="291.6" y2="140.7" stroke="#111" stroke-width="0.9"/>
<line x1="289.8" y1="140" x2="293.8" y2="140" stroke="#111" stroke-width="1.3"/>
<text x="285.8" y="144.2" font-size="10" text-anchor="end" fill="#000" >10<tspan font-size="7" dy="-3.8">−6</tspan></text>
<line x1="289.8" y1="135.1" x2="291.6" y2="135.1" stroke="#111" stroke-width="0.9"/>
<line x1="289.8" y1="132.2" x2="291.6" y2="132.2" stroke="#111" stroke-width="0.9"/>
<line x1="289.8" y1="130.2" x2="291.6" y2="130.2" stroke="#111" stroke-width="0.9"/>
<line x1="289.8" y1="128.6" x2="291.6" y2="128.6" stroke="#111" stroke-width="0.9"/>
<line x1="289.8" y1="127.4" x2="291.6" y2="127.4" stroke="#111" stroke-width="0.9"/>
<line x1="289.8" y1="126.3" x2="291.6" y2="126.3" stroke="#111" stroke-width="0.9"/>
<line x1="289.8" y1="125.3" x2="291.6" y2="125.3" stroke="#111" stroke-width="0.9"/>
<line x1="289.8" y1="124.5" x2="291.6" y2="124.5" stroke="#111" stroke-width="0.9"/>
<line x1="289.8" y1="123.8" x2="292.6" y2="123.8" stroke="#111" stroke-width="1.3"/>
<line x1="289.8" y1="118.9" x2="291.6" y2="118.9" stroke="#111" stroke-width="0.9"/>
<line x1="289.8" y1="116" x2="291.6" y2="116" stroke="#111" stroke-width="0.9"/>
<line x1="289.8" y1="114" x2="291.6" y2="114" stroke="#111" stroke-width="0.9"/>
<line x1="289.8" y1="112.4" x2="291.6" y2="112.4" stroke="#111" stroke-width="0.9"/>
<line x1="289.8" y1="111.1" x2="291.6" y2="111.1" stroke="#111" stroke-width="0.9"/>
<line x1="289.8" y1="110" x2="291.6" y2="110" stroke="#111" stroke-width="0.9"/>
<line x1="289.8" y1="109.1" x2="291.6" y2="109.1" stroke="#111" stroke-width="0.9"/>
<line x1="289.8" y1="108.2" x2="291.6" y2="108.2" stroke="#111" stroke-width="0.9"/>
<line x1="289.8" y1="107.5" x2="293.8" y2="107.5" stroke="#111" stroke-width="1.3"/>
<text x="285.8" y="111.5" font-size="10" text-anchor="end" fill="#000" >10<tspan font-size="7" dy="-3.8">−4</tspan></text>
<line x1="289.8" y1="102.6" x2="291.6" y2="102.6" stroke="#111" stroke-width="0.9"/>
<line x1="289.8" y1="99.7" x2="291.6" y2="99.7" stroke="#111" stroke-width="0.9"/>
<line x1="289.8" y1="97.7" x2="291.6" y2="97.7" stroke="#111" stroke-width="0.9"/>
<line x1="289.8" y1="96.1" x2="291.6" y2="96.1" stroke="#111" stroke-width="0.9"/>
<line x1="289.8" y1="94.9" x2="291.6" y2="94.9" stroke="#111" stroke-width="0.9"/>
<line x1="289.8" y1="93.8" x2="291.6" y2="93.8" stroke="#111" stroke-width="0.9"/>
<line x1="289.8" y1="92.8" x2="291.6" y2="92.8" stroke="#111" stroke-width="0.9"/>
<line x1="289.8" y1="92" x2="291.6" y2="92" stroke="#111" stroke-width="0.9"/>
<line x1="289.8" y1="91.2" x2="292.6" y2="91.2" stroke="#111" stroke-width="1.3"/>
<line x1="289.8" y1="86.4" x2="291.6" y2="86.4" stroke="#111" stroke-width="0.9"/>
<line x1="289.8" y1="83.5" x2="291.6" y2="83.5" stroke="#111" stroke-width="0.9"/>
<line x1="289.8" y1="81.5" x2="291.6" y2="81.5" stroke="#111" stroke-width="0.9"/>
<line x1="289.8" y1="79.9" x2="291.6" y2="79.9" stroke="#111" stroke-width="0.9"/>
<line x1="289.8" y1="78.6" x2="291.6" y2="78.6" stroke="#111" stroke-width="0.9"/>
<line x1="289.8" y1="77.5" x2="291.6" y2="77.5" stroke="#111" stroke-width="0.9"/>
<line x1="289.8" y1="76.6" x2="291.6" y2="76.6" stroke="#111" stroke-width="0.9"/>
<line x1="289.8" y1="75.7" x2="291.6" y2="75.7" stroke="#111" stroke-width="0.9"/>
<line x1="289.8" y1="75" x2="293.8" y2="75" stroke="#111" stroke-width="1.3"/>
<text x="285.8" y="78.8" font-size="10" text-anchor="end" fill="#000" >10<tspan font-size="7" dy="-3.8">−2</tspan></text>
<line x1="289.8" y1="70.1" x2="291.6" y2="70.1" stroke="#111" stroke-width="0.9"/>
<line x1="289.8" y1="67.2" x2="291.6" y2="67.2" stroke="#111" stroke-width="0.9"/>
<line x1="289.8" y1="65.2" x2="291.6" y2="65.2" stroke="#111" stroke-width="0.9"/>
<line x1="289.8" y1="63.6" x2="291.6" y2="63.6" stroke="#111" stroke-width="0.9"/>
<line x1="289.8" y1="62.4" x2="291.6" y2="62.4" stroke="#111" stroke-width="0.9"/>
<line x1="289.8" y1="61.3" x2="291.6" y2="61.3" stroke="#111" stroke-width="0.9"/>
<line x1="289.8" y1="60.3" x2="291.6" y2="60.3" stroke="#111" stroke-width="0.9"/>
<line x1="289.8" y1="59.5" x2="291.6" y2="59.5" stroke="#111" stroke-width="0.9"/>
<line x1="289.8" y1="58.8" x2="292.6" y2="58.8" stroke="#111" stroke-width="1.3"/>
<line x1="289.8" y1="53.9" x2="291.6" y2="53.9" stroke="#111" stroke-width="0.9"/>
<line x1="289.8" y1="51" x2="291.6" y2="51" stroke="#111" stroke-width="0.9"/>
<line x1="289.8" y1="49" x2="291.6" y2="49" stroke="#111" stroke-width="0.9"/>
<line x1="289.8" y1="47.4" x2="291.6" y2="47.4" stroke="#111" stroke-width="0.9"/>
<line x1="289.8" y1="46.1" x2="291.6" y2="46.1" stroke="#111" stroke-width="0.9"/>
<line x1="289.8" y1="45" x2="291.6" y2="45" stroke="#111" stroke-width="0.9"/>
<line x1="289.8" y1="44.1" x2="291.6" y2="44.1" stroke="#111" stroke-width="0.9"/>
<line x1="289.8" y1="43.2" x2="291.6" y2="43.2" stroke="#111" stroke-width="0.9"/>
<line x1="289.8" y1="42.5" x2="293.8" y2="42.5" stroke="#111" stroke-width="1.3"/>
<text x="285.8" y="46" font-size="10" text-anchor="end" fill="#000" >10<tspan font-size="7" dy="-3.8">0</tspan></text>
<line x1="289.8" y1="37.6" x2="291.6" y2="37.6" stroke="#111" stroke-width="0.9"/>
<line x1="289.8" y1="34.7" x2="291.6" y2="34.7" stroke="#111" stroke-width="0.9"/>
<line x1="289.8" y1="32.7" x2="291.6" y2="32.7" stroke="#111" stroke-width="0.9"/>
<line x1="289.8" y1="31.1" x2="291.6" y2="31.1" stroke="#111" stroke-width="0.9"/>
<line x1="289.8" y1="29.9" x2="291.6" y2="29.9" stroke="#111" stroke-width="0.9"/>
<line x1="289.8" y1="28.8" x2="291.6" y2="28.8" stroke="#111" stroke-width="0.9"/>
<line x1="289.8" y1="27.8" x2="291.6" y2="27.8" stroke="#111" stroke-width="0.9"/>
<line x1="305.1" y1="205" x2="305.1" y2="203" stroke="#111" stroke-width="1.2"/>
<line x1="316.7" y1="205" x2="316.7" y2="203" stroke="#111" stroke-width="1.2"/>
<line x1="325.7" y1="205" x2="325.7" y2="203" stroke="#111" stroke-width="1.2"/>
<line x1="333" y1="205" x2="333" y2="203" stroke="#111" stroke-width="1.2"/>
<line x1="339.2" y1="205" x2="339.2" y2="203" stroke="#111" stroke-width="1.2"/>
<line x1="344.5" y1="205" x2="344.5" y2="203" stroke="#111" stroke-width="1.2"/>
<line x1="349.3" y1="205" x2="349.3" y2="203" stroke="#111" stroke-width="1.2"/>
<line x1="353.5" y1="205" x2="353.5" y2="201" stroke="#111" stroke-width="1.2"/>
<line x1="381.3" y1="205" x2="381.3" y2="203" stroke="#111" stroke-width="1.2"/>
<line x1="397.6" y1="205" x2="397.6" y2="203" stroke="#111" stroke-width="1.2"/>
<line x1="409.2" y1="205" x2="409.2" y2="203" stroke="#111" stroke-width="1.2"/>
<line x1="418.2" y1="205" x2="418.2" y2="203" stroke="#111" stroke-width="1.2"/>
<line x1="425.5" y1="205" x2="425.5" y2="203" stroke="#111" stroke-width="1.2"/>
<line x1="431.7" y1="205" x2="431.7" y2="203" stroke="#111" stroke-width="1.2"/>
<line x1="437" y1="205" x2="437" y2="203" stroke="#111" stroke-width="1.2"/>
<line x1="441.8" y1="205" x2="441.8" y2="203" stroke="#111" stroke-width="1.2"/>
<line x1="446" y1="205" x2="446" y2="201" stroke="#111" stroke-width="1.2"/>
<line x1="473.8" y1="205" x2="473.8" y2="203" stroke="#111" stroke-width="1.2"/>
<line x1="490.1" y1="205" x2="490.1" y2="203" stroke="#111" stroke-width="1.2"/>
<line x1="501.7" y1="205" x2="501.7" y2="203" stroke="#111" stroke-width="1.2"/>
<text x="353.5" y="216.5" font-size="9.5" text-anchor="middle" fill="#000" >0.1</text>
<text x="446" y="216.5" font-size="9.5" text-anchor="middle" fill="#000" >1</text>
<text x="400.5" y="233.4" font-size="16.5" text-anchor="middle" fill="#000" >Voltage (V)</text>
<text x="258.6" y="115.7" font-size="16" text-anchor="middle" fill="#000" transform="rotate(-90 258.6 115.7)">Current (A)</text>
<text x="11" y="231" font-size="28" text-anchor="start" fill="#000" >c</text>
<path d="M19.5 418.4 L20.1 418.4 L20.7 418.4 L21.3 418.4 L22 418.4 L22.6 418.4 L23.2 418.4 L23.8 418.4 L24.4 418.4 L25 418.4 L25.6 418.4 L26.2 418.3 L26.9 418.3 L27.5 418.3 L28.1 418.3 L28.7 418.3 L29.3 418.3 L29.9 418.3 L30.5 418.3 L31.1 418.3 L31.8 418.2 L32.4 418.2 L33 418.2 L33.6 418.2 L34.2 418.2 L34.8 418.2 L35.4 418.2 L36 418.2 L36.7 418.1 L37.3 418.1 L37.9 418.1 L38.5 418.1 L39.1 418.1 L39.7 418.1 L40.3 418 L41 418 L41.6 418 L42.2 418 L42.8 418 L43.4 418 L44 417.9 L44.6 417.9 L45.2 417.9 L45.9 417.9 L46.5 417.9 L47.1 417.8 L47.7 417.8 L48.3 417.8 L48.9 417.8 L49.5 417.8 L50.1 417.7 L50.8 417.7 L51.4 417.7 L52 417.7 L52.6 417.6 L53.2 417.6 L53.8 417.6 L54.4 417.6 L55 417.5 L55.7 417.5 L56.3 417.5 L56.9 417.5 L57.5 417.4 L58.1 417.4 L58.7 417.4 L59.3 417.3 L59.9 417.3 L60.6 417.3 L61.2 417.2 L61.8 417.2 L62.4 417.1 L63 417.1 L63.6 417.1 L64.2 417 L64.9 417 L65.5 416.9 L66.1 416.9 L66.7 416.9 L67.3 416.8 L67.9 416.8 L68.5 416.7 L69.1 416.7 L69.8 416.6 L70.4 416.5 L71 416.5 L71.6 416.4 L72.2 416.4 L72.8 416.3 L73.4 416.2 L74 416.1 L74.7 416.1 L75.3 416 L75.9 415.9 L76.5 415.8 L77.1 415.7 L77.7 415.6 L78.3 415.5 L78.9 415.4 L79.6 415.3 L80.2 415.2 L80.8 415.1 L81.4 414.9 L82 414.8 L82.6 414.6 L83.2 414.5 L83.8 414.3 L84.5 414.1 L85.1 413.9 L85.7 413.7 L86.3 413.5 L86.9 413.3 L87.5 413 L88.1 412.8 L88.8 412.5 L89.4 412.2 L90 411.9 L90.6 411.5 L91.2 411.2 L91.8 410.8 L92.4 410.4 L93 409.9 L93.7 409.4 L94.3 408.9 L94.9 408.4 L95.5 407.8 L96.1 407.3 L96.7 406.6 L97.3 405.9 L97.9 405.2 L98.6 404.5 L99.2 403.7 L99.8 402.9 L100.4 402 L101 401.1 L101.6 400.1 L102.2 399.1 L102.8 398 L103.5 396.9 L104.1 395.8 L104.7 394.6 L105.3 393.3 L105.9 392 L106.5 390.7 L107.1 389.3 L107.8 387.9 L108.4 386.4 L109 384.8 L109.6 383.3 L110.2 381.7 L110.8 380 L111.4 378.3 L112 376.6 L112.7 374.8 L113.3 373 L113.9 371.2 L114.5 369.4 L115.1 367.6 L115.7 365.8 L116.3 364 L116.9 362.2 L117.6 360.4 L118.2 358.7 L118.8 357 L119.4 355.4 L120 353.8 L120.6 352.4 L121.2 351.1 L121.8 349.9 L122.5 348.8 L123.1 347.9 L123.7 347.1 L124.3 346.6 L124.9 346.2 L125.5 346 L126.1 346 L126.8 346.2 L127.4 346.6 L128 347.1 L128.6 347.8 L129.2 348.7 L129.8 349.8 L130.4 350.9 L131 352.3 L131.7 353.7 L132.3 355.3 L132.9 357 L133.5 358.8 L134.1 360.7 L134.7 362.7 L135.3 364.7 L135.9 366.8 L136.6 369 L137.2 371.1 L137.8 373.3 L138.4 375.5 L139 377.6 L139.6 379.8 L140.2 381.9 L140.8 384 L141.5 386.1 L142.1 388.1 L142.7 390 L143.3 391.9 L143.9 393.7 L144.5 395.5 L145.1 397.2 L145.7 398.8 L146.4 400.3 L147 401.7 L147.6 403.1 L148.2 404.3 L148.8 405.5 L149.4 406.7 L150 407.7 L150.7 408.7 L151.3 409.6 L151.9 410.4 L152.5 411.2 L153.1 411.9 L153.7 412.5 L154.3 413.1 L154.9 413.7 L155.6 414.1 L156.2 414.6 L156.8 415 L157.4 415.3 L158 415.7 L158.6 416 L159.2 416.2 L159.8 416.4 L160.5 416.7 L161.1 416.8 L161.7 417 L162.3 417.1 L162.9 417.3 L163.5 417.4 L164.1 417.5 L164.7 417.6 L165.4 417.6 L166 417.7 L166.6 417.8 L167.2 417.8 L167.8 417.9 L168.4 417.9 L169 417.9 L169.7 418 L170.3 418 L170.9 418 L171.5 418 L172.1 418 L172.7 418.1 L173.3 418.1 L173.9 418.1 L174.6 418.1 L175.2 418.1 L175.8 418.1 L176.4 418.1 L177 418.1 L177.6 418.2 L178.2 418.2 L178.8 418.2 L179.5 418.2 L180.1 418.2 L180.7 418.2 L181.3 418.2 L181.9 418.2 L182.5 418.2 L183.1 418.2 L183.7 418.2 L184.4 418.2 L185 418.3 L185.6 418.3 L186.2 418.3 L186.8 418.3 L187.4 418.3 L188 418.3 L188.6 418.3 L189.3 418.3 L189.9 418.3 L190.5 418.3 L191.1 418.3 L191.7 418.3 L192.3 418.3 L192.9 418.3 L193.6 418.3 L194.2 418.4 L194.8 418.4 L195.4 418.4 L196 418.4 L196.6 418.4 L197.2 418.4 L197.8 418.4 L198.5 418.4 L199.1 418.4 L199.7 418.4 L200.3 418.4 L200.9 418.4 L201.5 418.4 L202.1 418.4 L202.7 418.4 L203.4 418.4 L204 418.5 L204.6 418.5 L205.2 418.5 L205.8 418.5 L206.4 418.5 L207 418.5 L207.6 418.5 L208.3 418.5 L208.9 418.5 L209.5 418.5 L210.1 418.5 L210.7 418.5 L211.3 418.5 L211.9 418.5 L212.6 418.5 L213.2 418.5 L213.8 418.5 L214.4 418.5 L215 418.5 L215.6 418.6 L216.2 418.6 L216.8 418.6 L217.5 418.6 L218.1 418.6 L218.7 418.6 L219.3 418.6 L219.9 418.6 L220.5 418.6 L221.1 418.6 L221.7 418.6 L222.4 418.6 L223 418.6 L223.6 418.6 L224.2 418.6 L224.8 418.6 L225.4 418.6 L226 418.6 L226.6 418.6 L227.3 418.6 L227.9 418.6 L228.5 418.6 L229.1 418.7 L229.7 418.7 L230.3 418.7 L230.9 418.7 L231.5 418.7 L232.2 418.7 L232.8 418.7 L233.4 418.7 L234 418.7" fill="none" stroke="#f22" stroke-width="3" stroke-linejoin="round"/>
<rect x="17.5" y="416.4" width="4" height="4" fill="#f22"/>
<rect x="18.1" y="416.4" width="4" height="4" fill="#f22"/>
<rect x="18.7" y="416.4" width="4" height="4" fill="#f22"/>
<rect x="19.3" y="416.4" width="4" height="4" fill="#f22"/>
<rect x="20" y="416.4" width="4" height="4" fill="#f22"/>
<rect x="20.6" y="416.4" width="4" height="4" fill="#f22"/>
<rect x="21.2" y="416.4" width="4" height="4" fill="#f22"/>
<rect x="21.8" y="416.4" width="4" height="4" fill="#f22"/>
<rect x="22.4" y="416.4" width="4" height="4" fill="#f22"/>
<rect x="23" y="416.4" width="4" height="4" fill="#f22"/>
<rect x="23.6" y="416.4" width="4" height="4" fill="#f22"/>
<rect x="24.2" y="416.3" width="4" height="4" fill="#f22"/>
<rect x="24.9" y="416.3" width="4" height="4" fill="#f22"/>
<rect x="25.5" y="416.3" width="4" height="4" fill="#f22"/>
<rect x="26.1" y="416.3" width="4" height="4" fill="#f22"/>
<rect x="26.7" y="416.3" width="4" height="4" fill="#f22"/>
<rect x="27.3" y="416.3" width="4" height="4" fill="#f22"/>
<rect x="27.9" y="416.3" width="4" height="4" fill="#f22"/>
<rect x="28.5" y="416.3" width="4" height="4" fill="#f22"/>
<rect x="29.1" y="416.3" width="4" height="4" fill="#f22"/>
<rect x="29.8" y="416.2" width="4" height="4" fill="#f22"/>
<rect x="30.4" y="416.2" width="4" height="4" fill="#f22"/>
<rect x="31" y="416.2" width="4" height="4" fill="#f22"/>
<rect x="31.6" y="416.2" width="4" height="4" fill="#f22"/>
<rect x="32.2" y="416.2" width="4" height="4" fill="#f22"/>
<rect x="32.8" y="416.2" width="4" height="4" fill="#f22"/>
<rect x="33.4" y="416.2" width="4" height="4" fill="#f22"/>
<rect x="34" y="416.2" width="4" height="4" fill="#f22"/>
<rect x="34.7" y="416.1" width="4" height="4" fill="#f22"/>
<rect x="35.3" y="416.1" width="4" height="4" fill="#f22"/>
<rect x="35.9" y="416.1" width="4" height="4" fill="#f22"/>
<rect x="36.5" y="416.1" width="4" height="4" fill="#f22"/>
<rect x="37.1" y="416.1" width="4" height="4" fill="#f22"/>
<rect x="37.7" y="416.1" width="4" height="4" fill="#f22"/>
<rect x="38.3" y="416" width="4" height="4" fill="#f22"/>
<rect x="39" y="416" width="4" height="4" fill="#f22"/>
<rect x="39.6" y="416" width="4" height="4" fill="#f22"/>
<rect x="40.2" y="416" width="4" height="4" fill="#f22"/>
<rect x="40.8" y="416" width="4" height="4" fill="#f22"/>
<rect x="41.4" y="416" width="4" height="4" fill="#f22"/>
<rect x="42" y="415.9" width="4" height="4" fill="#f22"/>
<rect x="42.6" y="415.9" width="4" height="4" fill="#f22"/>
<rect x="43.2" y="415.9" width="4" height="4" fill="#f22"/>
<rect x="43.9" y="415.9" width="4" height="4" fill="#f22"/>
<rect x="44.5" y="415.9" width="4" height="4" fill="#f22"/>
<rect x="45.1" y="415.8" width="4" height="4" fill="#f22"/>
<rect x="45.7" y="415.8" width="4" height="4" fill="#f22"/>
<rect x="46.3" y="415.8" width="4" height="4" fill="#f22"/>
<rect x="46.9" y="415.8" width="4" height="4" fill="#f22"/>
<rect x="47.5" y="415.8" width="4" height="4" fill="#f22"/>
<rect x="48.1" y="415.7" width="4" height="4" fill="#f22"/>
<rect x="48.8" y="415.7" width="4" height="4" fill="#f22"/>
<rect x="49.4" y="415.7" width="4" height="4" fill="#f22"/>
<rect x="50" y="415.7" width="4" height="4" fill="#f22"/>
<rect x="50.6" y="415.6" width="4" height="4" fill="#f22"/>
<rect x="51.2" y="415.6" width="4" height="4" fill="#f22"/>
<rect x="51.8" y="415.6" width="4" height="4" fill="#f22"/>
<rect x="52.4" y="415.6" width="4" height="4" fill="#f22"/>
<rect x="53" y="415.5" width="4" height="4" fill="#f22"/>
<rect x="53.7" y="415.5" width="4" height="4" fill="#f22"/>
<rect x="54.3" y="415.5" width="4" height="4" fill="#f22"/>
<rect x="54.9" y="415.5" width="4" height="4" fill="#f22"/>
<rect x="55.5" y="415.4" width="4" height="4" fill="#f22"/>
<rect x="56.1" y="415.4" width="4" height="4" fill="#f22"/>
<rect x="56.7" y="415.4" width="4" height="4" fill="#f22"/>
<rect x="57.3" y="415.3" width="4" height="4" fill="#f22"/>
<rect x="57.9" y="415.3" width="4" height="4" fill="#f22"/>
<rect x="58.6" y="415.3" width="4" height="4" fill="#f22"/>
<rect x="59.2" y="415.2" width="4" height="4" fill="#f22"/>
<rect x="59.8" y="415.2" width="4" height="4" fill="#f22"/>
<rect x="60.4" y="415.1" width="4" height="4" fill="#f22"/>
<rect x="61" y="415.1" width="4" height="4" fill="#f22"/>
<rect x="61.6" y="415.1" width="4" height="4" fill="#f22"/>
<rect x="62.2" y="415" width="4" height="4" fill="#f22"/>
<rect x="62.9" y="415" width="4" height="4" fill="#f22"/>
<rect x="63.5" y="414.9" width="4" height="4" fill="#f22"/>
<rect x="64.1" y="414.9" width="4" height="4" fill="#f22"/>
<rect x="64.7" y="414.9" width="4" height="4" fill="#f22"/>
<rect x="65.3" y="414.8" width="4" height="4" fill="#f22"/>
<rect x="65.9" y="414.8" width="4" height="4" fill="#f22"/>
<rect x="66.5" y="414.7" width="4" height="4" fill="#f22"/>
<rect x="67.1" y="414.7" width="4" height="4" fill="#f22"/>
<rect x="67.8" y="414.6" width="4" height="4" fill="#f22"/>
<rect x="68.4" y="414.5" width="4" height="4" fill="#f22"/>
<rect x="69" y="414.5" width="4" height="4" fill="#f22"/>
<rect x="69.6" y="414.4" width="4" height="4" fill="#f22"/>
<rect x="70.2" y="414.4" width="4" height="4" fill="#f22"/>
<rect x="70.8" y="414.3" width="4" height="4" fill="#f22"/>
<rect x="71.4" y="414.2" width="4" height="4" fill="#f22"/>
<rect x="72" y="414.1" width="4" height="4" fill="#f22"/>
<rect x="72.7" y="414.1" width="4" height="4" fill="#f22"/>
<rect x="73.3" y="414" width="4" height="4" fill="#f22"/>
<rect x="73.9" y="413.9" width="4" height="4" fill="#f22"/>
<rect x="74.5" y="413.8" width="4" height="4" fill="#f22"/>
<rect x="75.1" y="413.7" width="4" height="4" fill="#f22"/>
<rect x="75.7" y="413.6" width="4" height="4" fill="#f22"/>
<rect x="76.3" y="413.5" width="4" height="4" fill="#f22"/>
<rect x="76.9" y="413.4" width="4" height="4" fill="#f22"/>
<rect x="77.6" y="413.3" width="4" height="4" fill="#f22"/>
<rect x="78.2" y="413.2" width="4" height="4" fill="#f22"/>
<rect x="78.8" y="413.1" width="4" height="4" fill="#f22"/>
<rect x="79.4" y="412.9" width="4" height="4" fill="#f22"/>
<rect x="80" y="412.8" width="4" height="4" fill="#f22"/>
<rect x="80.6" y="412.6" width="4" height="4" fill="#f22"/>
<rect x="81.2" y="412.5" width="4" height="4" fill="#f22"/>
<rect x="81.8" y="412.3" width="4" height="4" fill="#f22"/>
<rect x="82.5" y="412.1" width="4" height="4" fill="#f22"/>
<rect x="83.1" y="411.9" width="4" height="4" fill="#f22"/>
<rect x="83.7" y="411.7" width="4" height="4" fill="#f22"/>
<rect x="84.3" y="411.5" width="4" height="4" fill="#f22"/>
<rect x="84.9" y="411.3" width="4" height="4" fill="#f22"/>
<rect x="85.5" y="411" width="4" height="4" fill="#f22"/>
<rect x="86.1" y="410.8" width="4" height="4" fill="#f22"/>
<rect x="86.8" y="410.5" width="4" height="4" fill="#f22"/>
<rect x="87.4" y="410.2" width="4" height="4" fill="#f22"/>
<rect x="88" y="409.9" width="4" height="4" fill="#f22"/>
<rect x="88.6" y="409.5" width="4" height="4" fill="#f22"/>
<rect x="89.2" y="409.2" width="4" height="4" fill="#f22"/>
<rect x="89.8" y="408.8" width="4" height="4" fill="#f22"/>
<rect x="90.4" y="408.4" width="4" height="4" fill="#f22"/>
<rect x="91" y="407.9" width="4" height="4" fill="#f22"/>
<rect x="91.7" y="407.4" width="4" height="4" fill="#f22"/>
<rect x="92.3" y="406.9" width="4" height="4" fill="#f22"/>
<rect x="92.9" y="406.4" width="4" height="4" fill="#f22"/>
<rect x="93.5" y="405.8" width="4" height="4" fill="#f22"/>
<rect x="94.1" y="405.3" width="4" height="4" fill="#f22"/>
<rect x="94.7" y="404.6" width="4" height="4" fill="#f22"/>
<rect x="95.3" y="403.9" width="4" height="4" fill="#f22"/>
<rect x="95.9" y="403.2" width="4" height="4" fill="#f22"/>
<rect x="96.6" y="402.5" width="4" height="4" fill="#f22"/>
<rect x="97.2" y="401.7" width="4" height="4" fill="#f22"/>
<rect x="97.8" y="400.9" width="4" height="4" fill="#f22"/>
<rect x="98.4" y="400" width="4" height="4" fill="#f22"/>
<rect x="99" y="399.1" width="4" height="4" fill="#f22"/>
<rect x="99.6" y="398.1" width="4" height="4" fill="#f22"/>
<rect x="100.2" y="397.1" width="4" height="4" fill="#f22"/>
<rect x="100.8" y="396" width="4" height="4" fill="#f22"/>
<rect x="101.5" y="394.9" width="4" height="4" fill="#f22"/>
<rect x="102.1" y="393.8" width="4" height="4" fill="#f22"/>
<rect x="102.7" y="392.6" width="4" height="4" fill="#f22"/>
<rect x="103.3" y="391.3" width="4" height="4" fill="#f22"/>
<rect x="103.9" y="390" width="4" height="4" fill="#f22"/>
<rect x="104.5" y="388.7" width="4" height="4" fill="#f22"/>
<rect x="105.1" y="387.3" width="4" height="4" fill="#f22"/>
<rect x="105.8" y="385.9" width="4" height="4" fill="#f22"/>
<rect x="106.4" y="384.4" width="4" height="4" fill="#f22"/>
<rect x="107" y="382.8" width="4" height="4" fill="#f22"/>
<rect x="107.6" y="381.3" width="4" height="4" fill="#f22"/>
<rect x="108.2" y="379.7" width="4" height="4" fill="#f22"/>
<rect x="108.8" y="378" width="4" height="4" fill="#f22"/>
<rect x="109.4" y="376.3" width="4" height="4" fill="#f22"/>
<rect x="110" y="374.6" width="4" height="4" fill="#f22"/>
<rect x="110.7" y="372.8" width="4" height="4" fill="#f22"/>
<rect x="111.3" y="371" width="4" height="4" fill="#f22"/>
<rect x="111.9" y="369.2" width="4" height="4" fill="#f22"/>
<rect x="112.5" y="367.4" width="4" height="4" fill="#f22"/>
<rect x="113.1" y="365.6" width="4" height="4" fill="#f22"/>
<rect x="113.7" y="363.8" width="4" height="4" fill="#f22"/>
<rect x="114.3" y="362" width="4" height="4" fill="#f22"/>
<rect x="114.9" y="360.2" width="4" height="4" fill="#f22"/>
<rect x="115.6" y="358.4" width="4" height="4" fill="#f22"/>
<rect x="116.2" y="356.7" width="4" height="4" fill="#f22"/>
<rect x="116.8" y="355" width="4" height="4" fill="#f22"/>
<rect x="117.4" y="353.4" width="4" height="4" fill="#f22"/>
<rect x="118" y="351.8" width="4" height="4" fill="#f22"/>
<rect x="118.6" y="350.4" width="4" height="4" fill="#f22"/>
<rect x="119.2" y="349.1" width="4" height="4" fill="#f22"/>
<rect x="119.8" y="347.9" width="4" height="4" fill="#f22"/>
<rect x="120.5" y="346.8" width="4" height="4" fill="#f22"/>
<rect x="121.1" y="345.9" width="4" height="4" fill="#f22"/>
<rect x="121.7" y="345.1" width="4" height="4" fill="#f22"/>
<rect x="122.3" y="344.6" width="4" height="4" fill="#f22"/>
<rect x="122.9" y="344.2" width="4" height="4" fill="#f22"/>
<rect x="123.5" y="344" width="4" height="4" fill="#f22"/>
<rect x="124.1" y="344" width="4" height="4" fill="#f22"/>
<rect x="124.8" y="344.2" width="4" height="4" fill="#f22"/>
<rect x="125.4" y="344.6" width="4" height="4" fill="#f22"/>
<rect x="126" y="345.1" width="4" height="4" fill="#f22"/>
<rect x="126.6" y="345.8" width="4" height="4" fill="#f22"/>
<rect x="127.2" y="346.7" width="4" height="4" fill="#f22"/>
<rect x="127.8" y="347.8" width="4" height="4" fill="#f22"/>
<rect x="128.4" y="348.9" width="4" height="4" fill="#f22"/>
<rect x="129" y="350.3" width="4" height="4" fill="#f22"/>
<rect x="129.7" y="351.7" width="4" height="4" fill="#f22"/>
<rect x="130.3" y="353.3" width="4" height="4" fill="#f22"/>
<rect x="130.9" y="355" width="4" height="4" fill="#f22"/>
<rect x="131.5" y="356.8" width="4" height="4" fill="#f22"/>
<rect x="132.1" y="358.7" width="4" height="4" fill="#f22"/>
<rect x="132.7" y="360.7" width="4" height="4" fill="#f22"/>
<rect x="133.3" y="362.7" width="4" height="4" fill="#f22"/>
<rect x="133.9" y="364.8" width="4" height="4" fill="#f22"/>
<rect x="134.6" y="367" width="4" height="4" fill="#f22"/>
<rect x="135.2" y="369.1" width="4" height="4" fill="#f22"/>
<rect x="135.8" y="371.3" width="4" height="4" fill="#f22"/>
<rect x="136.4" y="373.5" width="4" height="4" fill="#f22"/>
<rect x="137" y="375.6" width="4" height="4" fill="#f22"/>
<rect x="137.6" y="377.8" width="4" height="4" fill="#f22"/>
<rect x="138.2" y="379.9" width="4" height="4" fill="#f22"/>
<rect x="138.8" y="382" width="4" height="4" fill="#f22"/>
<rect x="139.5" y="384.1" width="4" height="4" fill="#f22"/>
<rect x="140.1" y="386.1" width="4" height="4" fill="#f22"/>
<rect x="140.7" y="388" width="4" height="4" fill="#f22"/>
<rect x="141.3" y="389.9" width="4" height="4" fill="#f22"/>
<rect x="141.9" y="391.7" width="4" height="4" fill="#f22"/>
<rect x="142.5" y="393.5" width="4" height="4" fill="#f22"/>
<rect x="143.1" y="395.2" width="4" height="4" fill="#f22"/>
<rect x="143.7" y="396.8" width="4" height="4" fill="#f22"/>
<rect x="144.4" y="398.3" width="4" height="4" fill="#f22"/>
<rect x="145" y="399.7" width="4" height="4" fill="#f22"/>
<rect x="145.6" y="401.1" width="4" height="4" fill="#f22"/>
<rect x="146.2" y="402.3" width="4" height="4" fill="#f22"/>
<rect x="146.8" y="403.5" width="4" height="4" fill="#f22"/>
<rect x="147.4" y="404.7" width="4" height="4" fill="#f22"/>
<rect x="148" y="405.7" width="4" height="4" fill="#f22"/>
<rect x="148.7" y="406.7" width="4" height="4" fill="#f22"/>
<rect x="149.3" y="407.6" width="4" height="4" fill="#f22"/>
<rect x="149.9" y="408.4" width="4" height="4" fill="#f22"/>
<rect x="150.5" y="409.2" width="4" height="4" fill="#f22"/>
<rect x="151.1" y="409.9" width="4" height="4" fill="#f22"/>
<rect x="151.7" y="410.5" width="4" height="4" fill="#f22"/>
<rect x="152.3" y="411.1" width="4" height="4" fill="#f22"/>
<rect x="152.9" y="411.7" width="4" height="4" fill="#f22"/>
<rect x="153.6" y="412.1" width="4" height="4" fill="#f22"/>
<rect x="154.2" y="412.6" width="4" height="4" fill="#f22"/>
<rect x="154.8" y="413" width="4" height="4" fill="#f22"/>
<rect x="155.4" y="413.3" width="4" height="4" fill="#f22"/>
<rect x="156" y="413.7" width="4" height="4" fill="#f22"/>
<rect x="156.6" y="414" width="4" height="4" fill="#f22"/>
<rect x="157.2" y="414.2" width="4" height="4" fill="#f22"/>
<rect x="157.8" y="414.4" width="4" height="4" fill="#f22"/>
<rect x="158.5" y="414.7" width="4" height="4" fill="#f22"/>
<rect x="159.1" y="414.8" width="4" height="4" fill="#f22"/>
<rect x="159.7" y="415" width="4" height="4" fill="#f22"/>
<rect x="160.3" y="415.1" width="4" height="4" fill="#f22"/>
<rect x="160.9" y="415.3" width="4" height="4" fill="#f22"/>
<rect x="161.5" y="415.4" width="4" height="4" fill="#f22"/>
<rect x="162.1" y="415.5" width="4" height="4" fill="#f22"/>
<rect x="162.7" y="415.6" width="4" height="4" fill="#f22"/>
<rect x="163.4" y="415.6" width="4" height="4" fill="#f22"/>
<rect x="164" y="415.7" width="4" height="4" fill="#f22"/>
<rect x="164.6" y="415.8" width="4" height="4" fill="#f22"/>
<rect x="165.2" y="415.8" width="4" height="4" fill="#f22"/>
<rect x="165.8" y="415.9" width="4" height="4" fill="#f22"/>
<rect x="166.4" y="415.9" width="4" height="4" fill="#f22"/>
<rect x="167" y="415.9" width="4" height="4" fill="#f22"/>
<rect x="167.7" y="416" width="4" height="4" fill="#f22"/>
<rect x="168.3" y="416" width="4" height="4" fill="#f22"/>
<rect x="168.9" y="416" width="4" height="4" fill="#f22"/>
<rect x="169.5" y="416" width="4" height="4" fill="#f22"/>
<rect x="170.1" y="416" width="4" height="4" fill="#f22"/>
<rect x="170.7" y="416.1" width="4" height="4" fill="#f22"/>
<rect x="171.3" y="416.1" width="4" height="4" fill="#f22"/>
<rect x="171.9" y="416.1" width="4" height="4" fill="#f22"/>
<rect x="172.6" y="416.1" width="4" height="4" fill="#f22"/>
<rect x="173.2" y="416.1" width="4" height="4" fill="#f22"/>
<rect x="173.8" y="416.1" width="4" height="4" fill="#f22"/>
<rect x="174.4" y="416.1" width="4" height="4" fill="#f22"/>
<rect x="175" y="416.1" width="4" height="4" fill="#f22"/>
<rect x="175.6" y="416.2" width="4" height="4" fill="#f22"/>
<rect x="176.2" y="416.2" width="4" height="4" fill="#f22"/>
<rect x="176.8" y="416.2" width="4" height="4" fill="#f22"/>
<rect x="177.5" y="416.2" width="4" height="4" fill="#f22"/>
<rect x="178.1" y="416.2" width="4" height="4" fill="#f22"/>
<rect x="178.7" y="416.2" width="4" height="4" fill="#f22"/>
<rect x="179.3" y="416.2" width="4" height="4" fill="#f22"/>
<rect x="179.9" y="416.2" width="4" height="4" fill="#f22"/>
<rect x="180.5" y="416.2" width="4" height="4" fill="#f22"/>
<rect x="181.1" y="416.2" width="4" height="4" fill="#f22"/>
<rect x="181.7" y="416.2" width="4" height="4" fill="#f22"/>
<rect x="182.4" y="416.2" width="4" height="4" fill="#f22"/>
<rect x="183" y="416.3" width="4" height="4" fill="#f22"/>
<rect x="183.6" y="416.3" width="4" height="4" fill="#f22"/>
<rect x="184.2" y="416.3" width="4" height="4" fill="#f22"/>
<rect x="184.8" y="416.3" width="4" height="4" fill="#f22"/>
<rect x="185.4" y="416.3" width="4" height="4" fill="#f22"/>
<rect x="186" y="416.3" width="4" height="4" fill="#f22"/>
<rect x="186.6" y="416.3" width="4" height="4" fill="#f22"/>
<rect x="187.3" y="416.3" width="4" height="4" fill="#f22"/>
<rect x="187.9" y="416.3" width="4" height="4" fill="#f22"/>
<rect x="188.5" y="416.3" width="4" height="4" fill="#f22"/>
<rect x="189.1" y="416.3" width="4" height="4" fill="#f22"/>
<rect x="189.7" y="416.3" width="4" height="4" fill="#f22"/>
<rect x="190.3" y="416.3" width="4" height="4" fill="#f22"/>
<rect x="190.9" y="416.3" width="4" height="4" fill="#f22"/>
<rect x="191.6" y="416.3" width="4" height="4" fill="#f22"/>
<rect x="192.2" y="416.4" width="4" height="4" fill="#f22"/>
<rect x="192.8" y="416.4" width="4" height="4" fill="#f22"/>
<rect x="193.4" y="416.4" width="4" height="4" fill="#f22"/>
<rect x="194" y="416.4" width="4" height="4" fill="#f22"/>
<rect x="194.6" y="416.4" width="4" height="4" fill="#f22"/>
<rect x="195.2" y="416.4" width="4" height="4" fill="#f22"/>
<rect x="195.8" y="416.4" width="4" height="4" fill="#f22"/>
<rect x="196.5" y="416.4" width="4" height="4" fill="#f22"/>
<rect x="197.1" y="416.4" width="4" height="4" fill="#f22"/>
<rect x="197.7" y="416.4" width="4" height="4" fill="#f22"/>
<rect x="198.3" y="416.4" width="4" height="4" fill="#f22"/>
<rect x="198.9" y="416.4" width="4" height="4" fill="#f22"/>
<rect x="199.5" y="416.4" width="4" height="4" fill="#f22"/>
<rect x="200.1" y="416.4" width="4" height="4" fill="#f22"/>
<rect x="200.7" y="416.4" width="4" height="4" fill="#f22"/>
<rect x="201.4" y="416.4" width="4" height="4" fill="#f22"/>
<rect x="202" y="416.5" width="4" height="4" fill="#f22"/>
<rect x="202.6" y="416.5" width="4" height="4" fill="#f22"/>
<rect x="203.2" y="416.5" width="4" height="4" fill="#f22"/>
<rect x="203.8" y="416.5" width="4" height="4" fill="#f22"/>
<rect x="204.4" y="416.5" width="4" height="4" fill="#f22"/>
<rect x="205" y="416.5" width="4" height="4" fill="#f22"/>
<rect x="205.6" y="416.5" width="4" height="4" fill="#f22"/>
<rect x="206.3" y="416.5" width="4" height="4" fill="#f22"/>
<rect x="206.9" y="416.5" width="4" height="4" fill="#f22"/>
<rect x="207.5" y="416.5" width="4" height="4" fill="#f22"/>
<rect x="208.1" y="416.5" width="4" height="4" fill="#f22"/>
<rect x="208.7" y="416.5" width="4" height="4" fill="#f22"/>
<rect x="209.3" y="416.5" width="4" height="4" fill="#f22"/>
<rect x="209.9" y="416.5" width="4" height="4" fill="#f22"/>
<rect x="210.6" y="416.5" width="4" height="4" fill="#f22"/>
<rect x="211.2" y="416.5" width="4" height="4" fill="#f22"/>
<rect x="211.8" y="416.5" width="4" height="4" fill="#f22"/>
<rect x="212.4" y="416.5" width="4" height="4" fill="#f22"/>
<rect x="213" y="416.5" width="4" height="4" fill="#f22"/>
<rect x="213.6" y="416.6" width="4" height="4" fill="#f22"/>
<rect x="214.2" y="416.6" width="4" height="4" fill="#f22"/>
<rect x="214.8" y="416.6" width="4" height="4" fill="#f22"/>
<rect x="215.5" y="416.6" width="4" height="4" fill="#f22"/>
<rect x="216.1" y="416.6" width="4" height="4" fill="#f22"/>
<rect x="216.7" y="416.6" width="4" height="4" fill="#f22"/>
<rect x="217.3" y="416.6" width="4" height="4" fill="#f22"/>
<rect x="217.9" y="416.6" width="4" height="4" fill="#f22"/>
<rect x="218.5" y="416.6" width="4" height="4" fill="#f22"/>
<rect x="219.1" y="416.6" width="4" height="4" fill="#f22"/>
<rect x="219.7" y="416.6" width="4" height="4" fill="#f22"/>
<rect x="220.4" y="416.6" width="4" height="4" fill="#f22"/>
<rect x="221" y="416.6" width="4" height="4" fill="#f22"/>
<rect x="221.6" y="416.6" width="4" height="4" fill="#f22"/>
<rect x="222.2" y="416.6" width="4" height="4" fill="#f22"/>
<rect x="222.8" y="416.6" width="4" height="4" fill="#f22"/>
<rect x="223.4" y="416.6" width="4" height="4" fill="#f22"/>
<rect x="224" y="416.6" width="4" height="4" fill="#f22"/>
<rect x="224.6" y="416.6" width="4" height="4" fill="#f22"/>
<rect x="225.3" y="416.6" width="4" height="4" fill="#f22"/>
<rect x="225.9" y="416.6" width="4" height="4" fill="#f22"/>
<rect x="226.5" y="416.6" width="4" height="4" fill="#f22"/>
<rect x="227.1" y="416.7" width="4" height="4" fill="#f22"/>
<rect x="227.7" y="416.7" width="4" height="4" fill="#f22"/>
<rect x="228.3" y="416.7" width="4" height="4" fill="#f22"/>
<rect x="228.9" y="416.7" width="4" height="4" fill="#f22"/>
<rect x="229.5" y="416.7" width="4" height="4" fill="#f22"/>
<rect x="230.2" y="416.7" width="4" height="4" fill="#f22"/>
<rect x="230.8" y="416.7" width="4" height="4" fill="#f22"/>
<rect x="231.4" y="416.7" width="4" height="4" fill="#f22"/>
<rect x="232" y="416.7" width="4" height="4" fill="#f22"/>
<path d="M19.5 416.8 L20.1 416.7 L20.7 416.7 L21.3 416.7 L22 416.7 L22.6 416.7 L23.2 416.6 L23.8 416.6 L24.4 416.6 L25 416.6 L25.6 416.5 L26.2 416.5 L26.9 416.5 L27.5 416.5 L28.1 416.4 L28.7 416.4 L29.3 416.4 L29.9 416.4 L30.5 416.3 L31.1 416.3 L31.8 416.3 L32.4 416.3 L33 416.2 L33.6 416.2 L34.2 416.2 L34.8 416.1 L35.4 416.1 L36 416.1 L36.7 416 L37.3 416 L37.9 416 L38.5 415.9 L39.1 415.9 L39.7 415.9 L40.3 415.8 L41 415.8 L41.6 415.8 L42.2 415.7 L42.8 415.7 L43.4 415.6 L44 415.6 L44.6 415.6 L45.2 415.5 L45.9 415.5 L46.5 415.4 L47.1 415.4 L47.7 415.3 L48.3 415.3 L48.9 415.2 L49.5 415.2 L50.1 415.1 L50.8 415.1 L51.4 415 L52 415 L52.6 414.9 L53.2 414.9 L53.8 414.8 L54.4 414.7 L55 414.7 L55.7 414.6 L56.3 414.5 L56.9 414.5 L57.5 414.4 L58.1 414.3 L58.7 414.3 L59.3 414.2 L59.9 414.1 L60.6 414 L61.2 413.9 L61.8 413.9 L62.4 413.8 L63 413.7 L63.6 413.6 L64.2 413.5 L64.9 413.4 L65.5 413.3 L66.1 413.2 L66.7 413.1 L67.3 413 L67.9 412.9 L68.5 412.7 L69.1 412.6 L69.8 412.5 L70.4 412.3 L71 412.2 L71.6 412.1 L72.2 411.9 L72.8 411.7 L73.4 411.6 L74 411.4 L74.7 411.2 L75.3 411 L75.9 410.8 L76.5 410.6 L77.1 410.4 L77.7 410.2 L78.3 409.9 L78.9 409.6 L79.6 409.4 L80.2 409.1 L80.8 408.8 L81.4 408.4 L82 408.1 L82.6 407.7 L83.2 407.3 L83.8 406.9 L84.5 406.5 L85.1 406 L85.7 405.5 L86.3 404.9 L86.9 404.4 L87.5 403.8 L88.1 403.1 L88.8 402.4 L89.4 401.7 L90 400.9 L90.6 400.1 L91.2 399.3 L91.8 398.3 L92.4 397.4 L93 396.3 L93.7 395.2 L94.3 394.1 L94.9 392.8 L95.5 391.6 L96.1 390.2 L96.7 388.7 L97.3 387.2 L97.9 385.6 L98.6 384 L99.2 382.2 L99.8 380.4 L100.4 378.5 L101 376.4 L101.6 374.3 L102.2 372.2 L102.8 369.9 L103.5 367.5 L104.1 365.1 L104.7 362.5 L105.3 359.9 L105.9 357.1 L106.5 354.3 L107.1 351.4 L107.8 348.4 L108.4 345.3 L109 342.2 L109.6 338.9 L110.2 335.6 L110.8 332.2 L111.4 328.8 L112 325.3 L112.7 321.8 L113.3 318.2 L113.9 314.6 L114.5 311 L115.1 307.3 L115.7 303.7 L116.3 300.2 L116.9 296.6 L117.6 293.2 L118.2 289.8 L118.8 286.5 L119.4 283.4 L120 280.4 L120.6 277.7 L121.2 275.1 L121.8 272.8 L122.5 270.8 L123.1 269.1 L123.7 267.7 L124.3 266.6 L124.9 265.9 L125.5 265.5 L126.1 265.5 L126.8 265.9 L127.4 266.6 L128 267.6 L128.6 268.9 L129.2 270.5 L129.8 272.4 L130.4 274.6 L131 277 L131.7 279.8 L132.3 282.7 L132.9 285.9 L133.5 289.2 L134.1 292.8 L134.7 296.5 L135.3 300.3 L135.9 304.3 L136.6 308.3 L137.2 312.4 L137.8 316.6 L138.4 320.8 L139 325 L139.6 329.2 L140.2 333.4 L140.8 337.5 L141.5 341.6 L142.1 345.5 L142.7 349.5 L143.3 353.3 L143.9 357 L144.5 360.5 L145.1 364 L145.7 367.3 L146.4 370.5 L147 373.6 L147.6 376.5 L148.2 379.2 L148.8 381.8 L149.4 384.3 L150 386.6 L150.7 388.8 L151.3 390.8 L151.9 392.7 L152.5 394.5 L153.1 396.2 L153.7 397.7 L154.3 399.1 L154.9 400.4 L155.6 401.6 L156.2 402.7 L156.8 403.7 L157.4 404.6 L158 405.5 L158.6 406.2 L159.2 406.9 L159.8 407.6 L160.5 408.1 L161.1 408.6 L161.7 409.1 L162.3 409.5 L162.9 409.9 L163.5 410.2 L164.1 410.5 L164.7 410.8 L165.4 411 L166 411.3 L166.6 411.4 L167.2 411.6 L167.8 411.8 L168.4 411.9 L169 412.1 L169.7 412.2 L170.3 412.3 L170.9 412.4 L171.5 412.5 L172.1 412.5 L172.7 412.6 L173.3 412.7 L173.9 412.7 L174.6 412.8 L175.2 412.9 L175.8 412.9 L176.4 413 L177 413 L177.6 413.1 L178.2 413.1 L178.8 413.2 L179.5 413.2 L180.1 413.2 L180.7 413.3 L181.3 413.3 L181.9 413.4 L182.5 413.4 L183.1 413.4 L183.7 413.5 L184.4 413.5 L185 413.6 L185.6 413.6 L186.2 413.6 L186.8 413.7 L187.4 413.7 L188 413.7 L188.6 413.8 L189.3 413.8 L189.9 413.8 L190.5 413.9 L191.1 413.9 L191.7 413.9 L192.3 414 L192.9 414 L193.6 414 L194.2 414.1 L194.8 414.1 L195.4 414.1 L196 414.2 L196.6 414.2 L197.2 414.2 L197.8 414.3 L198.5 414.3 L199.1 414.3 L199.7 414.4 L200.3 414.4 L200.9 414.4 L201.5 414.5 L202.1 414.5 L202.7 414.5 L203.4 414.6 L204 414.6 L204.6 414.6 L205.2 414.6 L205.8 414.7 L206.4 414.7 L207 414.7 L207.6 414.8 L208.3 414.8 L208.9 414.8 L209.5 414.8 L210.1 414.9 L210.7 414.9 L211.3 414.9 L211.9 415 L212.6 415 L213.2 415 L213.8 415 L214.4 415.1 L215 415.1 L215.6 415.1 L216.2 415.1 L216.8 415.2 L217.5 415.2 L218.1 415.2 L218.7 415.2 L219.3 415.3 L219.9 415.3 L220.5 415.3 L221.1 415.3 L221.7 415.4 L222.4 415.4 L223 415.4 L223.6 415.4 L224.2 415.5 L224.8 415.5 L225.4 415.5 L226 415.5 L226.6 415.5 L227.3 415.6 L227.9 415.6 L228.5 415.6 L229.1 415.6 L229.7 415.7 L230.3 415.7 L230.9 415.7 L231.5 415.7 L232.2 415.7 L232.8 415.8 L233.4 415.8 L234 415.8" fill="none" stroke="#000" stroke-width="3" stroke-linejoin="round"/>
<circle cx="19.5" cy="416.8" r="2.2" fill="#000"/>
<circle cx="20.1" cy="416.7" r="2.2" fill="#000"/>
<circle cx="20.7" cy="416.7" r="2.2" fill="#000"/>
<circle cx="21.3" cy="416.7" r="2.2" fill="#000"/>
<circle cx="22" cy="416.7" r="2.2" fill="#000"/>
<circle cx="22.6" cy="416.7" r="2.2" fill="#000"/>
<circle cx="23.2" cy="416.6" r="2.2" fill="#000"/>
<circle cx="23.8" cy="416.6" r="2.2" fill="#000"/>
<circle cx="24.4" cy="416.6" r="2.2" fill="#000"/>
<circle cx="25" cy="416.6" r="2.2" fill="#000"/>
<circle cx="25.6" cy="416.5" r="2.2" fill="#000"/>
<circle cx="26.2" cy="416.5" r="2.2" fill="#000"/>
<circle cx="26.9" cy="416.5" r="2.2" fill="#000"/>
<circle cx="27.5" cy="416.5" r="2.2" fill="#000"/>
<circle cx="28.1" cy="416.4" r="2.2" fill="#000"/>
<circle cx="28.7" cy="416.4" r="2.2" fill="#000"/>
<circle cx="29.3" cy="416.4" r="2.2" fill="#000"/>
<circle cx="29.9" cy="416.4" r="2.2" fill="#000"/>
<circle cx="30.5" cy="416.3" r="2.2" fill="#000"/>
<circle cx="31.1" cy="416.3" r="2.2" fill="#000"/>
<circle cx="31.8" cy="416.3" r="2.2" fill="#000"/>
<circle cx="32.4" cy="416.3" r="2.2" fill="#000"/>
<circle cx="33" cy="416.2" r="2.2" fill="#000"/>
<circle cx="33.6" cy="416.2" r="2.2" fill="#000"/>
<circle cx="34.2" cy="416.2" r="2.2" fill="#000"/>
<circle cx="34.8" cy="416.1" r="2.2" fill="#000"/>
<circle cx="35.4" cy="416.1" r="2.2" fill="#000"/>
<circle cx="36" cy="416.1" r="2.2" fill="#000"/>
<circle cx="36.7" cy="416" r="2.2" fill="#000"/>
<circle cx="37.3" cy="416" r="2.2" fill="#000"/>
<circle cx="37.9" cy="416" r="2.2" fill="#000"/>
<circle cx="38.5" cy="415.9" r="2.2" fill="#000"/>
<circle cx="39.1" cy="415.9" r="2.2" fill="#000"/>
<circle cx="39.7" cy="415.9" r="2.2" fill="#000"/>
<circle cx="40.3" cy="415.8" r="2.2" fill="#000"/>
<circle cx="41" cy="415.8" r="2.2" fill="#000"/>
<circle cx="41.6" cy="415.8" r="2.2" fill="#000"/>
<circle cx="42.2" cy="415.7" r="2.2" fill="#000"/>
<circle cx="42.8" cy="415.7" r="2.2" fill="#000"/>
<circle cx="43.4" cy="415.6" r="2.2" fill="#000"/>
<circle cx="44" cy="415.6" r="2.2" fill="#000"/>
<circle cx="44.6" cy="415.6" r="2.2" fill="#000"/>
<circle cx="45.2" cy="415.5" r="2.2" fill="#000"/>
<circle cx="45.9" cy="415.5" r="2.2" fill="#000"/>
<circle cx="46.5" cy="415.4" r="2.2" fill="#000"/>
<circle cx="47.1" cy="415.4" r="2.2" fill="#000"/>
<circle cx="47.7" cy="415.3" r="2.2" fill="#000"/>
<circle cx="48.3" cy="415.3" r="2.2" fill="#000"/>
<circle cx="48.9" cy="415.2" r="2.2" fill="#000"/>
<circle cx="49.5" cy="415.2" r="2.2" fill="#000"/>
<circle cx="50.1" cy="415.1" r="2.2" fill="#000"/>
<circle cx="50.8" cy="415.1" r="2.2" fill="#000"/>
<circle cx="51.4" cy="415" r="2.2" fill="#000"/>
<circle cx="52" cy="415" r="2.2" fill="#000"/>
<circle cx="52.6" cy="414.9" r="2.2" fill="#000"/>
<circle cx="53.2" cy="414.9" r="2.2" fill="#000"/>
<circle cx="53.8" cy="414.8" r="2.2" fill="#000"/>
<circle cx="54.4" cy="414.7" r="2.2" fill="#000"/>
<circle cx="55" cy="414.7" r="2.2" fill="#000"/>
<circle cx="55.7" cy="414.6" r="2.2" fill="#000"/>
<circle cx="56.3" cy="414.5" r="2.2" fill="#000"/>
<circle cx="56.9" cy="414.5" r="2.2" fill="#000"/>
<circle cx="57.5" cy="414.4" r="2.2" fill="#000"/>
<circle cx="58.1" cy="414.3" r="2.2" fill="#000"/>
<circle cx="58.7" cy="414.3" r="2.2" fill="#000"/>
<circle cx="59.3" cy="414.2" r="2.2" fill="#000"/>
<circle cx="59.9" cy="414.1" r="2.2" fill="#000"/>
<circle cx="60.6" cy="414" r="2.2" fill="#000"/>
<circle cx="61.2" cy="413.9" r="2.2" fill="#000"/>
<circle cx="61.8" cy="413.9" r="2.2" fill="#000"/>
<circle cx="62.4" cy="413.8" r="2.2" fill="#000"/>
<circle cx="63" cy="413.7" r="2.2" fill="#000"/>
<circle cx="63.6" cy="413.6" r="2.2" fill="#000"/>
<circle cx="64.2" cy="413.5" r="2.2" fill="#000"/>
<circle cx="64.9" cy="413.4" r="2.2" fill="#000"/>
<circle cx="65.5" cy="413.3" r="2.2" fill="#000"/>
<circle cx="66.1" cy="413.2" r="2.2" fill="#000"/>
<circle cx="66.7" cy="413.1" r="2.2" fill="#000"/>
<circle cx="67.3" cy="413" r="2.2" fill="#000"/>
<circle cx="67.9" cy="412.9" r="2.2" fill="#000"/>
<circle cx="68.5" cy="412.7" r="2.2" fill="#000"/>
<circle cx="69.1" cy="412.6" r="2.2" fill="#000"/>
<circle cx="69.8" cy="412.5" r="2.2" fill="#000"/>
<circle cx="70.4" cy="412.3" r="2.2" fill="#000"/>
<circle cx="71" cy="412.2" r="2.2" fill="#000"/>
<circle cx="71.6" cy="412.1" r="2.2" fill="#000"/>
<circle cx="72.2" cy="411.9" r="2.2" fill="#000"/>
<circle cx="72.8" cy="411.7" r="2.2" fill="#000"/>
<circle cx="73.4" cy="411.6" r="2.2" fill="#000"/>
<circle cx="74" cy="411.4" r="2.2" fill="#000"/>
<circle cx="74.7" cy="411.2" r="2.2" fill="#000"/>
<circle cx="75.3" cy="411" r="2.2" fill="#000"/>
<circle cx="75.9" cy="410.8" r="2.2" fill="#000"/>
<circle cx="76.5" cy="410.6" r="2.2" fill="#000"/>
<circle cx="77.1" cy="410.4" r="2.2" fill="#000"/>
<circle cx="77.7" cy="410.2" r="2.2" fill="#000"/>
<circle cx="78.3" cy="409.9" r="2.2" fill="#000"/>
<circle cx="78.9" cy="409.6" r="2.2" fill="#000"/>
<circle cx="79.6" cy="409.4" r="2.2" fill="#000"/>
<circle cx="80.2" cy="409.1" r="2.2" fill="#000"/>
<circle cx="80.8" cy="408.8" r="2.2" fill="#000"/>
<circle cx="81.4" cy="408.4" r="2.2" fill="#000"/>
<circle cx="82" cy="408.1" r="2.2" fill="#000"/>
<circle cx="82.6" cy="407.7" r="2.2" fill="#000"/>
<circle cx="83.2" cy="407.3" r="2.2" fill="#000"/>
<circle cx="83.8" cy="406.9" r="2.2" fill="#000"/>
<circle cx="84.5" cy="406.5" r="2.2" fill="#000"/>
<circle cx="85.1" cy="406" r="2.2" fill="#000"/>
<circle cx="85.7" cy="405.5" r="2.2" fill="#000"/>
<circle cx="86.3" cy="404.9" r="2.2" fill="#000"/>
<circle cx="86.9" cy="404.4" r="2.2" fill="#000"/>
<circle cx="87.5" cy="403.8" r="2.2" fill="#000"/>
<circle cx="88.1" cy="403.1" r="2.2" fill="#000"/>
<circle cx="88.8" cy="402.4" r="2.2" fill="#000"/>
<circle cx="89.4" cy="401.7" r="2.2" fill="#000"/>
<circle cx="90" cy="400.9" r="2.2" fill="#000"/>
<circle cx="90.6" cy="400.1" r="2.2" fill="#000"/>
<circle cx="91.2" cy="399.3" r="2.2" fill="#000"/>
<circle cx="91.8" cy="398.3" r="2.2" fill="#000"/>
<circle cx="92.4" cy="397.4" r="2.2" fill="#000"/>
<circle cx="93" cy="396.3" r="2.2" fill="#000"/>
<circle cx="93.7" cy="395.2" r="2.2" fill="#000"/>
<circle cx="94.3" cy="394.1" r="2.2" fill="#000"/>
<circle cx="94.9" cy="392.8" r="2.2" fill="#000"/>
<circle cx="95.5" cy="391.6" r="2.2" fill="#000"/>
<circle cx="96.1" cy="390.2" r="2.2" fill="#000"/>
<circle cx="96.7" cy="388.7" r="2.2" fill="#000"/>
<circle cx="97.3" cy="387.2" r="2.2" fill="#000"/>
<circle cx="97.9" cy="385.6" r="2.2" fill="#000"/>
<circle cx="98.6" cy="384" r="2.2" fill="#000"/>
<circle cx="99.2" cy="382.2" r="2.2" fill="#000"/>
<circle cx="99.8" cy="380.4" r="2.2" fill="#000"/>
<circle cx="100.4" cy="378.5" r="2.2" fill="#000"/>
<circle cx="101" cy="376.4" r="2.2" fill="#000"/>
<circle cx="101.6" cy="374.3" r="2.2" fill="#000"/>
<circle cx="102.2" cy="372.2" r="2.2" fill="#000"/>
<circle cx="102.8" cy="369.9" r="2.2" fill="#000"/>
<circle cx="103.5" cy="367.5" r="2.2" fill="#000"/>
<circle cx="104.1" cy="365.1" r="2.2" fill="#000"/>
<circle cx="104.7" cy="362.5" r="2.2" fill="#000"/>
<circle cx="105.3" cy="359.9" r="2.2" fill="#000"/>
<circle cx="105.9" cy="357.1" r="2.2" fill="#000"/>
<circle cx="106.5" cy="354.3" r="2.2" fill="#000"/>
<circle cx="107.1" cy="351.4" r="2.2" fill="#000"/>
<circle cx="107.8" cy="348.4" r="2.2" fill="#000"/>
<circle cx="108.4" cy="345.3" r="2.2" fill="#000"/>
<circle cx="109" cy="342.2" r="2.2" fill="#000"/>
<circle cx="109.6" cy="338.9" r="2.2" fill="#000"/>
<circle cx="110.2" cy="335.6" r="2.2" fill="#000"/>
<circle cx="110.8" cy="332.2" r="2.2" fill="#000"/>
<circle cx="111.4" cy="328.8" r="2.2" fill="#000"/>
<circle cx="112" cy="325.3" r="2.2" fill="#000"/>
<circle cx="112.7" cy="321.8" r="2.2" fill="#000"/>
<circle cx="113.3" cy="318.2" r="2.2" fill="#000"/>
<circle cx="113.9" cy="314.6" r="2.2" fill="#000"/>
<circle cx="114.5" cy="311" r="2.2" fill="#000"/>
<circle cx="115.1" cy="307.3" r="2.2" fill="#000"/>
<circle cx="115.7" cy="303.7" r="2.2" fill="#000"/>
<circle cx="116.3" cy="300.2" r="2.2" fill="#000"/>
<circle cx="116.9" cy="296.6" r="2.2" fill="#000"/>
<circle cx="117.6" cy="293.2" r="2.2" fill="#000"/>
<circle cx="118.2" cy="289.8" r="2.2" fill="#000"/>
<circle cx="118.8" cy="286.5" r="2.2" fill="#000"/>
<circle cx="119.4" cy="283.4" r="2.2" fill="#000"/>
<circle cx="120" cy="280.4" r="2.2" fill="#000"/>
<circle cx="120.6" cy="277.7" r="2.2" fill="#000"/>
<circle cx="121.2" cy="275.1" r="2.2" fill="#000"/>
<circle cx="121.8" cy="272.8" r="2.2" fill="#000"/>
<circle cx="122.5" cy="270.8" r="2.2" fill="#000"/>
<circle cx="123.1" cy="269.1" r="2.2" fill="#000"/>
<circle cx="123.7" cy="267.7" r="2.2" fill="#000"/>
<circle cx="124.3" cy="266.6" r="2.2" fill="#000"/>
<circle cx="124.9" cy="265.9" r="2.2" fill="#000"/>
<circle cx="125.5" cy="265.5" r="2.2" fill="#000"/>
<circle cx="126.1" cy="265.5" r="2.2" fill="#000"/>
<circle cx="126.8" cy="265.9" r="2.2" fill="#000"/>
<circle cx="127.4" cy="266.6" r="2.2" fill="#000"/>
<circle cx="128" cy="267.6" r="2.2" fill="#000"/>
<circle cx="128.6" cy="268.9" r="2.2" fill="#000"/>
<circle cx="129.2" cy="270.5" r="2.2" fill="#000"/>
<circle cx="129.8" cy="272.4" r="2.2" fill="#000"/>
<circle cx="130.4" cy="274.6" r="2.2" fill="#000"/>
<circle cx="131" cy="277" r="2.2" fill="#000"/>
<circle cx="131.7" cy="279.8" r="2.2" fill="#000"/>
<circle cx="132.3" cy="282.7" r="2.2" fill="#000"/>
<circle cx="132.9" cy="285.9" r="2.2" fill="#000"/>
<circle cx="133.5" cy="289.2" r="2.2" fill="#000"/>
<circle cx="134.1" cy="292.8" r="2.2" fill="#000"/>
<circle cx="134.7" cy="296.5" r="2.2" fill="#000"/>
<circle cx="135.3" cy="300.3" r="2.2" fill="#000"/>
<circle cx="135.9" cy="304.3" r="2.2" fill="#000"/>
<circle cx="136.6" cy="308.3" r="2.2" fill="#000"/>
<circle cx="137.2" cy="312.4" r="2.2" fill="#000"/>
<circle cx="137.8" cy="316.6" r="2.2" fill="#000"/>
<circle cx="138.4" cy="320.8" r="2.2" fill="#000"/>
<circle cx="139" cy="325" r="2.2" fill="#000"/>
<circle cx="139.6" cy="329.2" r="2.2" fill="#000"/>
<circle cx="140.2" cy="333.4" r="2.2" fill="#000"/>
<circle cx="140.8" cy="337.5" r="2.2" fill="#000"/>
<circle cx="141.5" cy="341.6" r="2.2" fill="#000"/>
<circle cx="142.1" cy="345.5" r="2.2" fill="#000"/>
<circle cx="142.7" cy="349.5" r="2.2" fill="#000"/>
<circle cx="143.3" cy="353.3" r="2.2" fill="#000"/>
<circle cx="143.9" cy="357" r="2.2" fill="#000"/>
<circle cx="144.5" cy="360.5" r="2.2" fill="#000"/>
<circle cx="145.1" cy="364" r="2.2" fill="#000"/>
<circle cx="145.7" cy="367.3" r="2.2" fill="#000"/>
<circle cx="146.4" cy="370.5" r="2.2" fill="#000"/>
<circle cx="147" cy="373.6" r="2.2" fill="#000"/>
<circle cx="147.6" cy="376.5" r="2.2" fill="#000"/>
<circle cx="148.2" cy="379.2" r="2.2" fill="#000"/>
<circle cx="148.8" cy="381.8" r="2.2" fill="#000"/>
<circle cx="149.4" cy="384.3" r="2.2" fill="#000"/>
<circle cx="150" cy="386.6" r="2.2" fill="#000"/>
<circle cx="150.7" cy="388.8" r="2.2" fill="#000"/>
<circle cx="151.3" cy="390.8" r="2.2" fill="#000"/>
<circle cx="151.9" cy="392.7" r="2.2" fill="#000"/>
<circle cx="152.5" cy="394.5" r="2.2" fill="#000"/>
<circle cx="153.1" cy="396.2" r="2.2" fill="#000"/>
<circle cx="153.7" cy="397.7" r="2.2" fill="#000"/>
<circle cx="154.3" cy="399.1" r="2.2" fill="#000"/>
<circle cx="154.9" cy="400.4" r="2.2" fill="#000"/>
<circle cx="155.6" cy="401.6" r="2.2" fill="#000"/>
<circle cx="156.2" cy="402.7" r="2.2" fill="#000"/>
<circle cx="156.8" cy="403.7" r="2.2" fill="#000"/>
<circle cx="157.4" cy="404.6" r="2.2" fill="#000"/>
<circle cx="158" cy="405.5" r="2.2" fill="#000"/>
<circle cx="158.6" cy="406.2" r="2.2" fill="#000"/>
<circle cx="159.2" cy="406.9" r="2.2" fill="#000"/>
<circle cx="159.8" cy="407.6" r="2.2" fill="#000"/>
<circle cx="160.5" cy="408.1" r="2.2" fill="#000"/>
<circle cx="161.1" cy="408.6" r="2.2" fill="#000"/>
<circle cx="161.7" cy="409.1" r="2.2" fill="#000"/>
<circle cx="162.3" cy="409.5" r="2.2" fill="#000"/>
<circle cx="162.9" cy="409.9" r="2.2" fill="#000"/>
<circle cx="163.5" cy="410.2" r="2.2" fill="#000"/>
<circle cx="164.1" cy="410.5" r="2.2" fill="#000"/>
<circle cx="164.7" cy="410.8" r="2.2" fill="#000"/>
<circle cx="165.4" cy="411" r="2.2" fill="#000"/>
<circle cx="166" cy="411.3" r="2.2" fill="#000"/>
<circle cx="166.6" cy="411.4" r="2.2" fill="#000"/>
<circle cx="167.2" cy="411.6" r="2.2" fill="#000"/>
<circle cx="167.8" cy="411.8" r="2.2" fill="#000"/>
<circle cx="168.4" cy="411.9" r="2.2" fill="#000"/>
<circle cx="169" cy="412.1" r="2.2" fill="#000"/>
<circle cx="169.7" cy="412.2" r="2.2" fill="#000"/>
<circle cx="170.3" cy="412.3" r="2.2" fill="#000"/>
<circle cx="170.9" cy="412.4" r="2.2" fill="#000"/>
<circle cx="171.5" cy="412.5" r="2.2" fill="#000"/>
<circle cx="172.1" cy="412.5" r="2.2" fill="#000"/>
<circle cx="172.7" cy="412.6" r="2.2" fill="#000"/>
<circle cx="173.3" cy="412.7" r="2.2" fill="#000"/>
<circle cx="173.9" cy="412.7" r="2.2" fill="#000"/>
<circle cx="174.6" cy="412.8" r="2.2" fill="#000"/>
<circle cx="175.2" cy="412.9" r="2.2" fill="#000"/>
<circle cx="175.8" cy="412.9" r="2.2" fill="#000"/>
<circle cx="176.4" cy="413" r="2.2" fill="#000"/>
<circle cx="177" cy="413" r="2.2" fill="#000"/>
<circle cx="177.6" cy="413.1" r="2.2" fill="#000"/>
<circle cx="178.2" cy="413.1" r="2.2" fill="#000"/>
<circle cx="178.8" cy="413.2" r="2.2" fill="#000"/>
<circle cx="179.5" cy="413.2" r="2.2" fill="#000"/>
<circle cx="180.1" cy="413.2" r="2.2" fill="#000"/>
<circle cx="180.7" cy="413.3" r="2.2" fill="#000"/>
<circle cx="181.3" cy="413.3" r="2.2" fill="#000"/>
<circle cx="181.9" cy="413.4" r="2.2" fill="#000"/>
<circle cx="182.5" cy="413.4" r="2.2" fill="#000"/>
<circle cx="183.1" cy="413.4" r="2.2" fill="#000"/>
<circle cx="183.7" cy="413.5" r="2.2" fill="#000"/>
<circle cx="184.4" cy="413.5" r="2.2" fill="#000"/>
<circle cx="185" cy="413.6" r="2.2" fill="#000"/>
<circle cx="185.6" cy="413.6" r="2.2" fill="#000"/>
<circle cx="186.2" cy="413.6" r="2.2" fill="#000"/>
<circle cx="186.8" cy="413.7" r="2.2" fill="#000"/>
<circle cx="187.4" cy="413.7" r="2.2" fill="#000"/>
<circle cx="188" cy="413.7" r="2.2" fill="#000"/>
<circle cx="188.6" cy="413.8" r="2.2" fill="#000"/>
<circle cx="189.3" cy="413.8" r="2.2" fill="#000"/>
<circle cx="189.9" cy="413.8" r="2.2" fill="#000"/>
<circle cx="190.5" cy="413.9" r="2.2" fill="#000"/>
<circle cx="191.1" cy="413.9" r="2.2" fill="#000"/>
<circle cx="191.7" cy="413.9" r="2.2" fill="#000"/>
<circle cx="192.3" cy="414" r="2.2" fill="#000"/>
<circle cx="192.9" cy="414" r="2.2" fill="#000"/>
<circle cx="193.6" cy="414" r="2.2" fill="#000"/>
<circle cx="194.2" cy="414.1" r="2.2" fill="#000"/>
<circle cx="194.8" cy="414.1" r="2.2" fill="#000"/>
<circle cx="195.4" cy="414.1" r="2.2" fill="#000"/>
<circle cx="196" cy="414.2" r="2.2" fill="#000"/>
<circle cx="196.6" cy="414.2" r="2.2" fill="#000"/>
<circle cx="197.2" cy="414.2" r="2.2" fill="#000"/>
<circle cx="197.8" cy="414.3" r="2.2" fill="#000"/>
<circle cx="198.5" cy="414.3" r="2.2" fill="#000"/>
<circle cx="199.1" cy="414.3" r="2.2" fill="#000"/>
<circle cx="199.7" cy="414.4" r="2.2" fill="#000"/>
<circle cx="200.3" cy="414.4" r="2.2" fill="#000"/>
<circle cx="200.9" cy="414.4" r="2.2" fill="#000"/>
<circle cx="201.5" cy="414.5" r="2.2" fill="#000"/>
<circle cx="202.1" cy="414.5" r="2.2" fill="#000"/>
<circle cx="202.7" cy="414.5" r="2.2" fill="#000"/>
<circle cx="203.4" cy="414.6" r="2.2" fill="#000"/>
<circle cx="204" cy="414.6" r="2.2" fill="#000"/>
<circle cx="204.6" cy="414.6" r="2.2" fill="#000"/>
<circle cx="205.2" cy="414.6" r="2.2" fill="#000"/>
<circle cx="205.8" cy="414.7" r="2.2" fill="#000"/>
<circle cx="206.4" cy="414.7" r="2.2" fill="#000"/>
<circle cx="207" cy="414.7" r="2.2" fill="#000"/>
<circle cx="207.6" cy="414.8" r="2.2" fill="#000"/>
<circle cx="208.3" cy="414.8" r="2.2" fill="#000"/>
<circle cx="208.9" cy="414.8" r="2.2" fill="#000"/>
<circle cx="209.5" cy="414.8" r="2.2" fill="#000"/>
<circle cx="210.1" cy="414.9" r="2.2" fill="#000"/>
<circle cx="210.7" cy="414.9" r="2.2" fill="#000"/>
<circle cx="211.3" cy="414.9" r="2.2" fill="#000"/>
<circle cx="211.9" cy="415" r="2.2" fill="#000"/>
<circle cx="212.6" cy="415" r="2.2" fill="#000"/>
<circle cx="213.2" cy="415" r="2.2" fill="#000"/>
<circle cx="213.8" cy="415" r="2.2" fill="#000"/>
<circle cx="214.4" cy="415.1" r="2.2" fill="#000"/>
<circle cx="215" cy="415.1" r="2.2" fill="#000"/>
<circle cx="215.6" cy="415.1" r="2.2" fill="#000"/>
<circle cx="216.2" cy="415.1" r="2.2" fill="#000"/>
<circle cx="216.8" cy="415.2" r="2.2" fill="#000"/>
<circle cx="217.5" cy="415.2" r="2.2" fill="#000"/>
<circle cx="218.1" cy="415.2" r="2.2" fill="#000"/>
<circle cx="218.7" cy="415.2" r="2.2" fill="#000"/>
<circle cx="219.3" cy="415.3" r="2.2" fill="#000"/>
<circle cx="219.9" cy="415.3" r="2.2" fill="#000"/>
<circle cx="220.5" cy="415.3" r="2.2" fill="#000"/>
<circle cx="221.1" cy="415.3" r="2.2" fill="#000"/>
<circle cx="221.7" cy="415.4" r="2.2" fill="#000"/>
<circle cx="222.4" cy="415.4" r="2.2" fill="#000"/>
<circle cx="223" cy="415.4" r="2.2" fill="#000"/>
<circle cx="223.6" cy="415.4" r="2.2" fill="#000"/>
<circle cx="224.2" cy="415.5" r="2.2" fill="#000"/>
<circle cx="224.8" cy="415.5" r="2.2" fill="#000"/>
<circle cx="225.4" cy="415.5" r="2.2" fill="#000"/>
<circle cx="226" cy="415.5" r="2.2" fill="#000"/>
<circle cx="226.6" cy="415.5" r="2.2" fill="#000"/>
<circle cx="227.3" cy="415.6" r="2.2" fill="#000"/>
<circle cx="227.9" cy="415.6" r="2.2" fill="#000"/>
<circle cx="228.5" cy="415.6" r="2.2" fill="#000"/>
<circle cx="229.1" cy="415.6" r="2.2" fill="#000"/>
<circle cx="229.7" cy="415.7" r="2.2" fill="#000"/>
<circle cx="230.3" cy="415.7" r="2.2" fill="#000"/>
<circle cx="230.9" cy="415.7" r="2.2" fill="#000"/>
<circle cx="231.5" cy="415.7" r="2.2" fill="#000"/>
<circle cx="232.2" cy="415.7" r="2.2" fill="#000"/>
<circle cx="232.8" cy="415.8" r="2.2" fill="#000"/>
<circle cx="233.4" cy="415.8" r="2.2" fill="#000"/>
<circle cx="234" cy="415.8" r="2.2" fill="#000"/>
<path d="M19.5 418 L20.1 418 L20.7 418 L21.3 418 L22 417.9 L22.6 417.9 L23.2 417.9 L23.8 417.9 L24.4 417.9 L25 417.9 L25.6 417.9 L26.2 417.9 L26.9 417.8 L27.5 417.8 L28.1 417.8 L28.7 417.8 L29.3 417.8 L29.9 417.8 L30.5 417.8 L31.1 417.7 L31.8 417.7 L32.4 417.7 L33 417.7 L33.6 417.7 L34.2 417.7 L34.8 417.6 L35.4 417.6 L36 417.6 L36.7 417.6 L37.3 417.6 L37.9 417.5 L38.5 417.5 L39.1 417.5 L39.7 417.5 L40.3 417.5 L41 417.4 L41.6 417.4 L42.2 417.4 L42.8 417.4 L43.4 417.3 L44 417.3 L44.6 417.3 L45.2 417.3 L45.9 417.2 L46.5 417.2 L47.1 417.2 L47.7 417.2 L48.3 417.1 L48.9 417.1 L49.5 417.1 L50.1 417 L50.8 417 L51.4 417 L52 416.9 L52.6 416.9 L53.2 416.9 L53.8 416.8 L54.4 416.8 L55 416.8 L55.7 416.7 L56.3 416.7 L56.9 416.7 L57.5 416.6 L58.1 416.6 L58.7 416.5 L59.3 416.5 L59.9 416.4 L60.6 416.4 L61.2 416.4 L61.8 416.3 L62.4 416.3 L63 416.2 L63.6 416.2 L64.2 416.1 L64.9 416 L65.5 416 L66.1 415.9 L66.7 415.9 L67.3 415.8 L67.9 415.7 L68.5 415.7 L69.1 415.6 L69.8 415.5 L70.4 415.4 L71 415.4 L71.6 415.3 L72.2 415.2 L72.8 415.1 L73.4 415 L74 414.9 L74.7 414.8 L75.3 414.7 L75.9 414.6 L76.5 414.5 L77.1 414.4 L77.7 414.2 L78.3 414.1 L78.9 414 L79.6 413.8 L80.2 413.7 L80.8 413.5 L81.4 413.3 L82 413.1 L82.6 412.9 L83.2 412.7 L83.8 412.5 L84.5 412.3 L85.1 412 L85.7 411.7 L86.3 411.5 L86.9 411.1 L87.5 410.8 L88.1 410.5 L88.8 410.1 L89.4 409.7 L90 409.3 L90.6 408.8 L91.2 408.3 L91.8 407.8 L92.4 407.3 L93 406.7 L93.7 406 L94.3 405.4 L94.9 404.7 L95.5 403.9 L96.1 403.1 L96.7 402.3 L97.3 401.4 L97.9 400.4 L98.6 399.4 L99.2 398.3 L99.8 397.2 L100.4 396 L101 394.8 L101.6 393.5 L102.2 392.1 L102.8 390.7 L103.5 389.2 L104.1 387.6 L104.7 386 L105.3 384.3 L105.9 382.5 L106.5 380.7 L107.1 378.8 L107.8 376.8 L108.4 374.8 L109 372.7 L109.6 370.5 L110.2 368.3 L110.8 366 L111.4 363.7 L112 361.3 L112.7 358.9 L113.3 356.5 L113.9 354 L114.5 351.5 L115.1 349 L115.7 346.5 L116.3 344 L116.9 341.5 L117.6 339 L118.2 336.6 L118.8 334.3 L119.4 332 L120 329.9 L120.6 327.9 L121.2 326.1 L121.8 324.4 L122.5 322.9 L123.1 321.6 L123.7 320.6 L124.3 319.8 L124.9 319.3 L125.5 319 L126.1 319 L126.8 319.3 L127.4 319.8 L128 320.6 L128.6 321.5 L129.2 322.8 L129.8 324.2 L130.4 325.9 L131 327.7 L131.7 329.7 L132.3 331.9 L132.9 334.3 L133.5 336.8 L134.1 339.4 L134.7 342.1 L135.3 344.9 L135.9 347.8 L136.6 350.8 L137.2 353.7 L137.8 356.7 L138.4 359.7 L139 362.7 L139.6 365.6 L140.2 368.6 L140.8 371.4 L141.5 374.2 L142.1 377 L142.7 379.6 L143.3 382.2 L143.9 384.7 L144.5 387 L145.1 389.3 L145.7 391.5 L146.4 393.5 L147 395.4 L147.6 397.3 L148.2 399 L148.8 400.6 L149.4 402.1 L150 403.5 L150.7 404.8 L151.3 406 L151.9 407.1 L152.5 408.1 L153.1 409 L153.7 409.9 L154.3 410.7 L154.9 411.4 L155.6 412 L156.2 412.6 L156.8 413.1 L157.4 413.6 L158 414 L158.6 414.4 L159.2 414.7 L159.8 415 L160.5 415.3 L161.1 415.5 L161.7 415.7 L162.3 415.9 L162.9 416 L163.5 416.2 L164.1 416.3 L164.7 416.4 L165.4 416.5 L166 416.6 L166.6 416.7 L167.2 416.7 L167.8 416.8 L168.4 416.9 L169 416.9 L169.7 416.9 L170.3 417 L170.9 417 L171.5 417 L172.1 417.1 L172.7 417.1 L173.3 417.1 L173.9 417.1 L174.6 417.1 L175.2 417.2 L175.8 417.2 L176.4 417.2 L177 417.2 L177.6 417.2 L178.2 417.2 L178.8 417.3 L179.5 417.3 L180.1 417.3 L180.7 417.3 L181.3 417.3 L181.9 417.3 L182.5 417.3 L183.1 417.3 L183.7 417.4 L184.4 417.4 L185 417.4 L185.6 417.4 L186.2 417.4 L186.8 417.4 L187.4 417.4 L188 417.4 L188.6 417.5 L189.3 417.5 L189.9 417.5 L190.5 417.5 L191.1 417.5 L191.7 417.5 L192.3 417.5 L192.9 417.5 L193.6 417.5 L194.2 417.6 L194.8 417.6 L195.4 417.6 L196 417.6 L196.6 417.6 L197.2 417.6 L197.8 417.6 L198.5 417.6 L199.1 417.6 L199.7 417.7 L200.3 417.7 L200.9 417.7 L201.5 417.7 L202.1 417.7 L202.7 417.7 L203.4 417.7 L204 417.7 L204.6 417.7 L205.2 417.7 L205.8 417.8 L206.4 417.8 L207 417.8 L207.6 417.8 L208.3 417.8 L208.9 417.8 L209.5 417.8 L210.1 417.8 L210.7 417.8 L211.3 417.8 L211.9 417.8 L212.6 417.9 L213.2 417.9 L213.8 417.9 L214.4 417.9 L215 417.9 L215.6 417.9 L216.2 417.9 L216.8 417.9 L217.5 417.9 L218.1 417.9 L218.7 417.9 L219.3 417.9 L219.9 418 L220.5 418 L221.1 418 L221.7 418 L222.4 418 L223 418 L223.6 418 L224.2 418 L224.8 418 L225.4 418 L226 418 L226.6 418 L227.3 418 L227.9 418 L228.5 418.1 L229.1 418.1 L229.7 418.1 L230.3 418.1 L230.9 418.1 L231.5 418.1 L232.2 418.1 L232.8 418.1 L233.4 418.1 L234 418.1" fill="none" stroke="#1a1aff" stroke-width="3" stroke-linejoin="round"/>
<path d="M19.5 415.7L21.7 419.4L17.3 419.4Z" fill="#1a1aff"/>
<path d="M20.1 415.7L22.3 419.4L17.9 419.4Z" fill="#1a1aff"/>
<path d="M20.7 415.7L22.9 419.4L18.5 419.4Z" fill="#1a1aff"/>
<path d="M21.3 415.7L23.5 419.4L19.1 419.4Z" fill="#1a1aff"/>
<path d="M22 415.6L24.2 419.3L19.8 419.3Z" fill="#1a1aff"/>
<path d="M22.6 415.6L24.8 419.3L20.4 419.3Z" fill="#1a1aff"/>
<path d="M23.2 415.6L25.4 419.3L21 419.3Z" fill="#1a1aff"/>
<path d="M23.8 415.6L26 419.3L21.6 419.3Z" fill="#1a1aff"/>
<path d="M24.4 415.6L26.6 419.3L22.2 419.3Z" fill="#1a1aff"/>
<path d="M25 415.6L27.2 419.3L22.8 419.3Z" fill="#1a1aff"/>
<path d="M25.6 415.6L27.8 419.3L23.4 419.3Z" fill="#1a1aff"/>
<path d="M26.2 415.6L28.4 419.3L24 419.3Z" fill="#1a1aff"/>
<path d="M26.9 415.5L29.1 419.2L24.7 419.2Z" fill="#1a1aff"/>
<path d="M27.5 415.5L29.7 419.2L25.3 419.2Z" fill="#1a1aff"/>
<path d="M28.1 415.5L30.3 419.2L25.9 419.2Z" fill="#1a1aff"/>
<path d="M28.7 415.5L30.9 419.2L26.5 419.2Z" fill="#1a1aff"/>
<path d="M29.3 415.5L31.5 419.2L27.1 419.2Z" fill="#1a1aff"/>
<path d="M29.9 415.5L32.1 419.2L27.7 419.2Z" fill="#1a1aff"/>
<path d="M30.5 415.5L32.7 419.2L28.3 419.2Z" fill="#1a1aff"/>
<path d="M31.1 415.4L33.3 419.1L28.9 419.1Z" fill="#1a1aff"/>
<path d="M31.8 415.4L34 419.1L29.6 419.1Z" fill="#1a1aff"/>
<path d="M32.4 415.4L34.6 419.1L30.2 419.1Z" fill="#1a1aff"/>
<path d="M33 415.4L35.2 419.1L30.8 419.1Z" fill="#1a1aff"/>
<path d="M33.6 415.4L35.8 419.1L31.4 419.1Z" fill="#1a1aff"/>
<path d="M34.2 415.4L36.4 419.1L32 419.1Z" fill="#1a1aff"/>
<path d="M34.8 415.3L37 419L32.6 419Z" fill="#1a1aff"/>
<path d="M35.4 415.3L37.6 419L33.2 419Z" fill="#1a1aff"/>
<path d="M36 415.3L38.2 419L33.8 419Z" fill="#1a1aff"/>
<path d="M36.7 415.3L38.9 419L34.5 419Z" fill="#1a1aff"/>
<path d="M37.3 415.3L39.5 419L35.1 419Z" fill="#1a1aff"/>
<path d="M37.9 415.2L40.1 418.9L35.7 418.9Z" fill="#1a1aff"/>
<path d="M38.5 415.2L40.7 418.9L36.3 418.9Z" fill="#1a1aff"/>
<path d="M39.1 415.2L41.3 418.9L36.9 418.9Z" fill="#1a1aff"/>
<path d="M39.7 415.2L41.9 418.9L37.5 418.9Z" fill="#1a1aff"/>
<path d="M40.3 415.2L42.5 418.9L38.1 418.9Z" fill="#1a1aff"/>
<path d="M41 415.1L43.2 418.8L38.8 418.8Z" fill="#1a1aff"/>
<path d="M41.6 415.1L43.8 418.8L39.4 418.8Z" fill="#1a1aff"/>
<path d="M42.2 415.1L44.4 418.8L40 418.8Z" fill="#1a1aff"/>
<path d="M42.8 415.1L45 418.8L40.6 418.8Z" fill="#1a1aff"/>
<path d="M43.4 415L45.6 418.7L41.2 418.7Z" fill="#1a1aff"/>
<path d="M44 415L46.2 418.7L41.8 418.7Z" fill="#1a1aff"/>
<path d="M44.6 415L46.8 418.7L42.4 418.7Z" fill="#1a1aff"/>
<path d="M45.2 415L47.4 418.7L43 418.7Z" fill="#1a1aff"/>
<path d="M45.9 414.9L48.1 418.6L43.7 418.6Z" fill="#1a1aff"/>
<path d="M46.5 414.9L48.7 418.6L44.3 418.6Z" fill="#1a1aff"/>
<path d="M47.1 414.9L49.3 418.6L44.9 418.6Z" fill="#1a1aff"/>
<path d="M47.7 414.9L49.9 418.6L45.5 418.6Z" fill="#1a1aff"/>
<path d="M48.3 414.8L50.5 418.5L46.1 418.5Z" fill="#1a1aff"/>
<path d="M48.9 414.8L51.1 418.5L46.7 418.5Z" fill="#1a1aff"/>
<path d="M49.5 414.8L51.7 418.5L47.3 418.5Z" fill="#1a1aff"/>
<path d="M50.1 414.7L52.3 418.4L47.9 418.4Z" fill="#1a1aff"/>
<path d="M50.8 414.7L53 418.4L48.6 418.4Z" fill="#1a1aff"/>
<path d="M51.4 414.7L53.6 418.4L49.2 418.4Z" fill="#1a1aff"/>
<path d="M52 414.6L54.2 418.3L49.8 418.3Z" fill="#1a1aff"/>
<path d="M52.6 414.6L54.8 418.3L50.4 418.3Z" fill="#1a1aff"/>
<path d="M53.2 414.6L55.4 418.3L51 418.3Z" fill="#1a1aff"/>
<path d="M53.8 414.5L56 418.2L51.6 418.2Z" fill="#1a1aff"/>
<path d="M54.4 414.5L56.6 418.2L52.2 418.2Z" fill="#1a1aff"/>
<path d="M55 414.5L57.2 418.2L52.8 418.2Z" fill="#1a1aff"/>
<path d="M55.7 414.4L57.9 418.1L53.5 418.1Z" fill="#1a1aff"/>
<path d="M56.3 414.4L58.5 418.1L54.1 418.1Z" fill="#1a1aff"/>
<path d="M56.9 414.4L59.1 418.1L54.7 418.1Z" fill="#1a1aff"/>
<path d="M57.5 414.3L59.7 418L55.3 418Z" fill="#1a1aff"/>
<path d="M58.1 414.3L60.3 418L55.9 418Z" fill="#1a1aff"/>
<path d="M58.7 414.2L60.9 417.9L56.5 417.9Z" fill="#1a1aff"/>
<path d="M59.3 414.2L61.5 417.9L57.1 417.9Z" fill="#1a1aff"/>
<path d="M59.9 414.1L62.1 417.8L57.7 417.8Z" fill="#1a1aff"/>
<path d="M60.6 414.1L62.8 417.8L58.4 417.8Z" fill="#1a1aff"/>
<path d="M61.2 414.1L63.4 417.8L59 417.8Z" fill="#1a1aff"/>
<path d="M61.8 414L64 417.7L59.6 417.7Z" fill="#1a1aff"/>
<path d="M62.4 414L64.6 417.7L60.2 417.7Z" fill="#1a1aff"/>
<path d="M63 413.9L65.2 417.6L60.8 417.6Z" fill="#1a1aff"/>
<path d="M63.6 413.9L65.8 417.6L61.4 417.6Z" fill="#1a1aff"/>
<path d="M64.2 413.8L66.4 417.5L62 417.5Z" fill="#1a1aff"/>
<path d="M64.9 413.7L67.1 417.4L62.7 417.4Z" fill="#1a1aff"/>
<path d="M65.5 413.7L67.7 417.4L63.3 417.4Z" fill="#1a1aff"/>
<path d="M66.1 413.6L68.3 417.3L63.9 417.3Z" fill="#1a1aff"/>
<path d="M66.7 413.6L68.9 417.3L64.5 417.3Z" fill="#1a1aff"/>
<path d="M67.3 413.5L69.5 417.2L65.1 417.2Z" fill="#1a1aff"/>
<path d="M67.9 413.4L70.1 417.1L65.7 417.1Z" fill="#1a1aff"/>
<path d="M68.5 413.4L70.7 417.1L66.3 417.1Z" fill="#1a1aff"/>
<path d="M69.1 413.3L71.3 417L66.9 417Z" fill="#1a1aff"/>
<path d="M69.8 413.2L72 416.9L67.6 416.9Z" fill="#1a1aff"/>
<path d="M70.4 413.1L72.6 416.8L68.2 416.8Z" fill="#1a1aff"/>
<path d="M71 413.1L73.2 416.8L68.8 416.8Z" fill="#1a1aff"/>
<path d="M71.6 413L73.8 416.7L69.4 416.7Z" fill="#1a1aff"/>
<path d="M72.2 412.9L74.4 416.6L70 416.6Z" fill="#1a1aff"/>
<path d="M72.8 412.8L75 416.5L70.6 416.5Z" fill="#1a1aff"/>
<path d="M73.4 412.7L75.6 416.4L71.2 416.4Z" fill="#1a1aff"/>
<path d="M74 412.6L76.2 416.3L71.8 416.3Z" fill="#1a1aff"/>
<path d="M74.7 412.5L76.9 416.2L72.5 416.2Z" fill="#1a1aff"/>
<path d="M75.3 412.4L77.5 416.1L73.1 416.1Z" fill="#1a1aff"/>
<path d="M75.9 412.3L78.1 416L73.7 416Z" fill="#1a1aff"/>
<path d="M76.5 412.2L78.7 415.9L74.3 415.9Z" fill="#1a1aff"/>
<path d="M77.1 412.1L79.3 415.8L74.9 415.8Z" fill="#1a1aff"/>
<path d="M77.7 411.9L79.9 415.6L75.5 415.6Z" fill="#1a1aff"/>
<path d="M78.3 411.8L80.5 415.5L76.1 415.5Z" fill="#1a1aff"/>
<path d="M78.9 411.7L81.1 415.4L76.7 415.4Z" fill="#1a1aff"/>
<path d="M79.6 411.5L81.8 415.2L77.4 415.2Z" fill="#1a1aff"/>
<path d="M80.2 411.4L82.4 415.1L78 415.1Z" fill="#1a1aff"/>
<path d="M80.8 411.2L83 414.9L78.6 414.9Z" fill="#1a1aff"/>
<path d="M81.4 411L83.6 414.7L79.2 414.7Z" fill="#1a1aff"/>
<path d="M82 410.8L84.2 414.5L79.8 414.5Z" fill="#1a1aff"/>
<path d="M82.6 410.6L84.8 414.3L80.4 414.3Z" fill="#1a1aff"/>
<path d="M83.2 410.4L85.4 414.1L81 414.1Z" fill="#1a1aff"/>
<path d="M83.8 410.2L86 413.9L81.6 413.9Z" fill="#1a1aff"/>
<path d="M84.5 410L86.7 413.7L82.3 413.7Z" fill="#1a1aff"/>
<path d="M85.1 409.7L87.3 413.4L82.9 413.4Z" fill="#1a1aff"/>
<path d="M85.7 409.4L87.9 413.1L83.5 413.1Z" fill="#1a1aff"/>
<path d="M86.3 409.2L88.5 412.9L84.1 412.9Z" fill="#1a1aff"/>
<path d="M86.9 408.8L89.1 412.5L84.7 412.5Z" fill="#1a1aff"/>
<path d="M87.5 408.5L89.7 412.2L85.3 412.2Z" fill="#1a1aff"/>
<path d="M88.1 408.2L90.3 411.9L85.9 411.9Z" fill="#1a1aff"/>
<path d="M88.8 407.8L91 411.5L86.6 411.5Z" fill="#1a1aff"/>
<path d="M89.4 407.4L91.6 411.1L87.2 411.1Z" fill="#1a1aff"/>
<path d="M90 407L92.2 410.7L87.8 410.7Z" fill="#1a1aff"/>
<path d="M90.6 406.5L92.8 410.2L88.4 410.2Z" fill="#1a1aff"/>
<path d="M91.2 406L93.4 409.7L89 409.7Z" fill="#1a1aff"/>
<path d="M91.8 405.5L94 409.2L89.6 409.2Z" fill="#1a1aff"/>
<path d="M92.4 405L94.6 408.7L90.2 408.7Z" fill="#1a1aff"/>
<path d="M93 404.4L95.2 408.1L90.8 408.1Z" fill="#1a1aff"/>
<path d="M93.7 403.7L95.9 407.4L91.5 407.4Z" fill="#1a1aff"/>
<path d="M94.3 403.1L96.5 406.8L92.1 406.8Z" fill="#1a1aff"/>
<path d="M94.9 402.4L97.1 406.1L92.7 406.1Z" fill="#1a1aff"/>
<path d="M95.5 401.6L97.7 405.3L93.3 405.3Z" fill="#1a1aff"/>
<path d="M96.1 400.8L98.3 404.5L93.9 404.5Z" fill="#1a1aff"/>
<path d="M96.7 400L98.9 403.7L94.5 403.7Z" fill="#1a1aff"/>
<path d="M97.3 399.1L99.5 402.8L95.1 402.8Z" fill="#1a1aff"/>
<path d="M97.9 398.1L100.1 401.8L95.7 401.8Z" fill="#1a1aff"/>
<path d="M98.6 397.1L100.8 400.8L96.4 400.8Z" fill="#1a1aff"/>
<path d="M99.2 396L101.4 399.7L97 399.7Z" fill="#1a1aff"/>
<path d="M99.8 394.9L102 398.6L97.6 398.6Z" fill="#1a1aff"/>
<path d="M100.4 393.7L102.6 397.4L98.2 397.4Z" fill="#1a1aff"/>
<path d="M101 392.5L103.2 396.2L98.8 396.2Z" fill="#1a1aff"/>
<path d="M101.6 391.2L103.8 394.9L99.4 394.9Z" fill="#1a1aff"/>
<path d="M102.2 389.8L104.4 393.5L100 393.5Z" fill="#1a1aff"/>
<path d="M102.8 388.4L105 392.1L100.6 392.1Z" fill="#1a1aff"/>
<path d="M103.5 386.9L105.7 390.6L101.3 390.6Z" fill="#1a1aff"/>
<path d="M104.1 385.3L106.3 389L101.9 389Z" fill="#1a1aff"/>
<path d="M104.7 383.7L106.9 387.4L102.5 387.4Z" fill="#1a1aff"/>
<path d="M105.3 382L107.5 385.7L103.1 385.7Z" fill="#1a1aff"/>
<path d="M105.9 380.2L108.1 383.9L103.7 383.9Z" fill="#1a1aff"/>
<path d="M106.5 378.4L108.7 382.1L104.3 382.1Z" fill="#1a1aff"/>
<path d="M107.1 376.5L109.3 380.2L104.9 380.2Z" fill="#1a1aff"/>
<path d="M107.8 374.5L110 378.2L105.6 378.2Z" fill="#1a1aff"/>
<path d="M108.4 372.5L110.6 376.2L106.2 376.2Z" fill="#1a1aff"/>
<path d="M109 370.4L111.2 374.1L106.8 374.1Z" fill="#1a1aff"/>
<path d="M109.6 368.2L111.8 371.9L107.4 371.9Z" fill="#1a1aff"/>
<path d="M110.2 366L112.4 369.7L108 369.7Z" fill="#1a1aff"/>
<path d="M110.8 363.7L113 367.4L108.6 367.4Z" fill="#1a1aff"/>
<path d="M111.4 361.4L113.6 365.1L109.2 365.1Z" fill="#1a1aff"/>
<path d="M112 359L114.2 362.7L109.8 362.7Z" fill="#1a1aff"/>
<path d="M112.7 356.6L114.9 360.3L110.5 360.3Z" fill="#1a1aff"/>
<path d="M113.3 354.2L115.5 357.9L111.1 357.9Z" fill="#1a1aff"/>
<path d="M113.9 351.7L116.1 355.4L111.7 355.4Z" fill="#1a1aff"/>
<path d="M114.5 349.2L116.7 352.9L112.3 352.9Z" fill="#1a1aff"/>
<path d="M115.1 346.7L117.3 350.4L112.9 350.4Z" fill="#1a1aff"/>
<path d="M115.7 344.2L117.9 347.9L113.5 347.9Z" fill="#1a1aff"/>
<path d="M116.3 341.7L118.5 345.4L114.1 345.4Z" fill="#1a1aff"/>
<path d="M116.9 339.2L119.1 342.9L114.7 342.9Z" fill="#1a1aff"/>
<path d="M117.6 336.7L119.8 340.4L115.4 340.4Z" fill="#1a1aff"/>
<path d="M118.2 334.3L120.4 338L116 338Z" fill="#1a1aff"/>
<path d="M118.8 332L121 335.7L116.6 335.7Z" fill="#1a1aff"/>
<path d="M119.4 329.7L121.6 333.4L117.2 333.4Z" fill="#1a1aff"/>
<path d="M120 327.6L122.2 331.3L117.8 331.3Z" fill="#1a1aff"/>
<path d="M120.6 325.6L122.8 329.3L118.4 329.3Z" fill="#1a1aff"/>
<path d="M121.2 323.8L123.4 327.5L119 327.5Z" fill="#1a1aff"/>
<path d="M121.8 322.1L124 325.8L119.6 325.8Z" fill="#1a1aff"/>
<path d="M122.5 320.6L124.7 324.3L120.3 324.3Z" fill="#1a1aff"/>
<path d="M123.1 319.3L125.3 323L120.9 323Z" fill="#1a1aff"/>
<path d="M123.7 318.3L125.9 322L121.5 322Z" fill="#1a1aff"/>
<path d="M124.3 317.5L126.5 321.2L122.1 321.2Z" fill="#1a1aff"/>
<path d="M124.9 317L127.1 320.7L122.7 320.7Z" fill="#1a1aff"/>
<path d="M125.5 316.7L127.7 320.4L123.3 320.4Z" fill="#1a1aff"/>
<path d="M126.1 316.7L128.3 320.4L123.9 320.4Z" fill="#1a1aff"/>
<path d="M126.8 317L128.9 320.7L124.5 320.7Z" fill="#1a1aff"/>
<path d="M127.4 317.5L129.6 321.2L125.2 321.2Z" fill="#1a1aff"/>
<path d="M128 318.3L130.2 322L125.8 322Z" fill="#1a1aff"/>
<path d="M128.6 319.2L130.8 322.9L126.4 322.9Z" fill="#1a1aff"/>
<path d="M129.2 320.5L131.4 324.2L127 324.2Z" fill="#1a1aff"/>
<path d="M129.8 321.9L132 325.6L127.6 325.6Z" fill="#1a1aff"/>
<path d="M130.4 323.6L132.6 327.3L128.2 327.3Z" fill="#1a1aff"/>
<path d="M131 325.4L133.2 329.1L128.8 329.1Z" fill="#1a1aff"/>
<path d="M131.7 327.4L133.9 331.1L129.5 331.1Z" fill="#1a1aff"/>
<path d="M132.3 329.6L134.5 333.3L130.1 333.3Z" fill="#1a1aff"/>
<path d="M132.9 332L135.1 335.7L130.7 335.7Z" fill="#1a1aff"/>
<path d="M133.5 334.5L135.7 338.2L131.3 338.2Z" fill="#1a1aff"/>
<path d="M134.1 337.1L136.3 340.8L131.9 340.8Z" fill="#1a1aff"/>
<path d="M134.7 339.8L136.9 343.5L132.5 343.5Z" fill="#1a1aff"/>
<path d="M135.3 342.6L137.5 346.3L133.1 346.3Z" fill="#1a1aff"/>
<path d="M135.9 345.5L138.1 349.2L133.7 349.2Z" fill="#1a1aff"/>
<path d="M136.6 348.5L138.8 352.2L134.4 352.2Z" fill="#1a1aff"/>
<path d="M137.2 351.4L139.4 355.1L135 355.1Z" fill="#1a1aff"/>
<path d="M137.8 354.4L140 358.1L135.6 358.1Z" fill="#1a1aff"/>
<path d="M138.4 357.4L140.6 361.1L136.2 361.1Z" fill="#1a1aff"/>
<path d="M139 360.4L141.2 364.1L136.8 364.1Z" fill="#1a1aff"/>
<path d="M139.6 363.3L141.8 367L137.4 367Z" fill="#1a1aff"/>
<path d="M140.2 366.3L142.4 370L138 370Z" fill="#1a1aff"/>
<path d="M140.8 369.1L143 372.8L138.6 372.8Z" fill="#1a1aff"/>
<path d="M141.5 371.9L143.7 375.6L139.3 375.6Z" fill="#1a1aff"/>
<path d="M142.1 374.7L144.3 378.4L139.9 378.4Z" fill="#1a1aff"/>
<path d="M142.7 377.3L144.9 381L140.5 381Z" fill="#1a1aff"/>
<path d="M143.3 379.9L145.5 383.6L141.1 383.6Z" fill="#1a1aff"/>
<path d="M143.9 382.4L146.1 386.1L141.7 386.1Z" fill="#1a1aff"/>
<path d="M144.5 384.7L146.7 388.4L142.3 388.4Z" fill="#1a1aff"/>
<path d="M145.1 387L147.3 390.7L142.9 390.7Z" fill="#1a1aff"/>
<path d="M145.7 389.2L147.9 392.9L143.5 392.9Z" fill="#1a1aff"/>
<path d="M146.4 391.2L148.6 394.9L144.2 394.9Z" fill="#1a1aff"/>
<path d="M147 393.1L149.2 396.8L144.8 396.8Z" fill="#1a1aff"/>
<path d="M147.6 395L149.8 398.7L145.4 398.7Z" fill="#1a1aff"/>
<path d="M148.2 396.7L150.4 400.4L146 400.4Z" fill="#1a1aff"/>
<path d="M148.8 398.3L151 402L146.6 402Z" fill="#1a1aff"/>
<path d="M149.4 399.8L151.6 403.5L147.2 403.5Z" fill="#1a1aff"/>
<path d="M150 401.2L152.2 404.9L147.8 404.9Z" fill="#1a1aff"/>
<path d="M150.7 402.5L152.9 406.2L148.5 406.2Z" fill="#1a1aff"/>
<path d="M151.3 403.7L153.5 407.4L149.1 407.4Z" fill="#1a1aff"/>
<path d="M151.9 404.8L154.1 408.5L149.7 408.5Z" fill="#1a1aff"/>
<path d="M152.5 405.8L154.7 409.5L150.3 409.5Z" fill="#1a1aff"/>
<path d="M153.1 406.7L155.3 410.4L150.9 410.4Z" fill="#1a1aff"/>
<path d="M153.7 407.6L155.9 411.3L151.5 411.3Z" fill="#1a1aff"/>
<path d="M154.3 408.4L156.5 412.1L152.1 412.1Z" fill="#1a1aff"/>
<path d="M154.9 409.1L157.1 412.8L152.7 412.8Z" fill="#1a1aff"/>
<path d="M155.6 409.7L157.8 413.4L153.4 413.4Z" fill="#1a1aff"/>
<path d="M156.2 410.3L158.4 414L154 414Z" fill="#1a1aff"/>
<path d="M156.8 410.8L159 414.5L154.6 414.5Z" fill="#1a1aff"/>
<path d="M157.4 411.3L159.6 415L155.2 415Z" fill="#1a1aff"/>
<path d="M158 411.7L160.2 415.4L155.8 415.4Z" fill="#1a1aff"/>
<path d="M158.6 412.1L160.8 415.8L156.4 415.8Z" fill="#1a1aff"/>
<path d="M159.2 412.4L161.4 416.1L157 416.1Z" fill="#1a1aff"/>
<path d="M159.8 412.7L162 416.4L157.6 416.4Z" fill="#1a1aff"/>
<path d="M160.5 413L162.7 416.7L158.3 416.7Z" fill="#1a1aff"/>
<path d="M161.1 413.2L163.3 416.9L158.9 416.9Z" fill="#1a1aff"/>
<path d="M161.7 413.4L163.9 417.1L159.5 417.1Z" fill="#1a1aff"/>
<path d="M162.3 413.6L164.5 417.3L160.1 417.3Z" fill="#1a1aff"/>
<path d="M162.9 413.7L165.1 417.4L160.7 417.4Z" fill="#1a1aff"/>
<path d="M163.5 413.9L165.7 417.6L161.3 417.6Z" fill="#1a1aff"/>
<path d="M164.1 414L166.3 417.7L161.9 417.7Z" fill="#1a1aff"/>
<path d="M164.7 414.1L166.9 417.8L162.5 417.8Z" fill="#1a1aff"/>
<path d="M165.4 414.2L167.6 417.9L163.2 417.9Z" fill="#1a1aff"/>
<path d="M166 414.3L168.2 418L163.8 418Z" fill="#1a1aff"/>
<path d="M166.6 414.4L168.8 418.1L164.4 418.1Z" fill="#1a1aff"/>
<path d="M167.2 414.4L169.4 418.1L165 418.1Z" fill="#1a1aff"/>
<path d="M167.8 414.5L170 418.2L165.6 418.2Z" fill="#1a1aff"/>
<path d="M168.4 414.6L170.6 418.3L166.2 418.3Z" fill="#1a1aff"/>
<path d="M169 414.6L171.2 418.3L166.8 418.3Z" fill="#1a1aff"/>
<path d="M169.7 414.6L171.8 418.3L167.5 418.3Z" fill="#1a1aff"/>
<path d="M170.3 414.7L172.5 418.4L168.1 418.4Z" fill="#1a1aff"/>
<path d="M170.9 414.7L173.1 418.4L168.7 418.4Z" fill="#1a1aff"/>
<path d="M171.5 414.7L173.7 418.4L169.3 418.4Z" fill="#1a1aff"/>
<path d="M172.1 414.8L174.3 418.5L169.9 418.5Z" fill="#1a1aff"/>
<path d="M172.7 414.8L174.9 418.5L170.5 418.5Z" fill="#1a1aff"/>
<path d="M173.3 414.8L175.5 418.5L171.1 418.5Z" fill="#1a1aff"/>
<path d="M173.9 414.8L176.1 418.5L171.7 418.5Z" fill="#1a1aff"/>
<path d="M174.6 414.8L176.8 418.5L172.4 418.5Z" fill="#1a1aff"/>
<path d="M175.2 414.9L177.4 418.6L173 418.6Z" fill="#1a1aff"/>
<path d="M175.8 414.9L178 418.6L173.6 418.6Z" fill="#1a1aff"/>
<path d="M176.4 414.9L178.6 418.6L174.2 418.6Z" fill="#1a1aff"/>
<path d="M177 414.9L179.2 418.6L174.8 418.6Z" fill="#1a1aff"/>
<path d="M177.6 414.9L179.8 418.6L175.4 418.6Z" fill="#1a1aff"/>
<path d="M178.2 414.9L180.4 418.6L176 418.6Z" fill="#1a1aff"/>
<path d="M178.8 415L181 418.7L176.6 418.7Z" fill="#1a1aff"/>
<path d="M179.5 415L181.7 418.7L177.3 418.7Z" fill="#1a1aff"/>
<path d="M180.1 415L182.3 418.7L177.9 418.7Z" fill="#1a1aff"/>
<path d="M180.7 415L182.9 418.7L178.5 418.7Z" fill="#1a1aff"/>
<path d="M181.3 415L183.5 418.7L179.1 418.7Z" fill="#1a1aff"/>
<path d="M181.9 415L184.1 418.7L179.7 418.7Z" fill="#1a1aff"/>
<path d="M182.5 415L184.7 418.7L180.3 418.7Z" fill="#1a1aff"/>
<path d="M183.1 415L185.3 418.7L180.9 418.7Z" fill="#1a1aff"/>
<path d="M183.7 415.1L185.9 418.8L181.5 418.8Z" fill="#1a1aff"/>
<path d="M184.4 415.1L186.6 418.8L182.2 418.8Z" fill="#1a1aff"/>
<path d="M185 415.1L187.2 418.8L182.8 418.8Z" fill="#1a1aff"/>
<path d="M185.6 415.1L187.8 418.8L183.4 418.8Z" fill="#1a1aff"/>
<path d="M186.2 415.1L188.4 418.8L184 418.8Z" fill="#1a1aff"/>
<path d="M186.8 415.1L189 418.8L184.6 418.8Z" fill="#1a1aff"/>
<path d="M187.4 415.1L189.6 418.8L185.2 418.8Z" fill="#1a1aff"/>
<path d="M188 415.1L190.2 418.8L185.8 418.8Z" fill="#1a1aff"/>
<path d="M188.6 415.2L190.8 418.9L186.4 418.9Z" fill="#1a1aff"/>
<path d="M189.3 415.2L191.5 418.9L187.1 418.9Z" fill="#1a1aff"/>
<path d="M189.9 415.2L192.1 418.9L187.7 418.9Z" fill="#1a1aff"/>
<path d="M190.5 415.2L192.7 418.9L188.3 418.9Z" fill="#1a1aff"/>
<path d="M191.1 415.2L193.3 418.9L188.9 418.9Z" fill="#1a1aff"/>
<path d="M191.7 415.2L193.9 418.9L189.5 418.9Z" fill="#1a1aff"/>
<path d="M192.3 415.2L194.5 418.9L190.1 418.9Z" fill="#1a1aff"/>
<path d="M192.9 415.2L195.1 418.9L190.7 418.9Z" fill="#1a1aff"/>
<path d="M193.6 415.2L195.8 418.9L191.4 418.9Z" fill="#1a1aff"/>
<path d="M194.2 415.3L196.4 419L192 419Z" fill="#1a1aff"/>
<path d="M194.8 415.3L197 419L192.6 419Z" fill="#1a1aff"/>
<path d="M195.4 415.3L197.6 419L193.2 419Z" fill="#1a1aff"/>
<path d="M196 415.3L198.2 419L193.8 419Z" fill="#1a1aff"/>
<path d="M196.6 415.3L198.8 419L194.4 419Z" fill="#1a1aff"/>
<path d="M197.2 415.3L199.4 419L195 419Z" fill="#1a1aff"/>
<path d="M197.8 415.3L200 419L195.6 419Z" fill="#1a1aff"/>
<path d="M198.5 415.3L200.7 419L196.3 419Z" fill="#1a1aff"/>
<path d="M199.1 415.3L201.3 419L196.9 419Z" fill="#1a1aff"/>
<path d="M199.7 415.4L201.9 419.1L197.5 419.1Z" fill="#1a1aff"/>
<path d="M200.3 415.4L202.5 419.1L198.1 419.1Z" fill="#1a1aff"/>
<path d="M200.9 415.4L203.1 419.1L198.7 419.1Z" fill="#1a1aff"/>
<path d="M201.5 415.4L203.7 419.1L199.3 419.1Z" fill="#1a1aff"/>
<path d="M202.1 415.4L204.3 419.1L199.9 419.1Z" fill="#1a1aff"/>
<path d="M202.7 415.4L204.9 419.1L200.5 419.1Z" fill="#1a1aff"/>
<path d="M203.4 415.4L205.6 419.1L201.2 419.1Z" fill="#1a1aff"/>
<path d="M204 415.4L206.2 419.1L201.8 419.1Z" fill="#1a1aff"/>
<path d="M204.6 415.4L206.8 419.1L202.4 419.1Z" fill="#1a1aff"/>
<path d="M205.2 415.4L207.4 419.1L203 419.1Z" fill="#1a1aff"/>
<path d="M205.8 415.5L208 419.2L203.6 419.2Z" fill="#1a1aff"/>
<path d="M206.4 415.5L208.6 419.2L204.2 419.2Z" fill="#1a1aff"/>
<path d="M207 415.5L209.2 419.2L204.8 419.2Z" fill="#1a1aff"/>
<path d="M207.6 415.5L209.8 419.2L205.4 419.2Z" fill="#1a1aff"/>
<path d="M208.3 415.5L210.5 419.2L206.1 419.2Z" fill="#1a1aff"/>
<path d="M208.9 415.5L211.1 419.2L206.7 419.2Z" fill="#1a1aff"/>
<path d="M209.5 415.5L211.7 419.2L207.3 419.2Z" fill="#1a1aff"/>
<path d="M210.1 415.5L212.3 419.2L207.9 419.2Z" fill="#1a1aff"/>
<path d="M210.7 415.5L212.9 419.2L208.5 419.2Z" fill="#1a1aff"/>
<path d="M211.3 415.5L213.5 419.2L209.1 419.2Z" fill="#1a1aff"/>
<path d="M211.9 415.5L214.1 419.2L209.7 419.2Z" fill="#1a1aff"/>
<path d="M212.6 415.6L214.8 419.3L210.4 419.3Z" fill="#1a1aff"/>
<path d="M213.2 415.6L215.4 419.3L211 419.3Z" fill="#1a1aff"/>
<path d="M213.8 415.6L216 419.3L211.6 419.3Z" fill="#1a1aff"/>
<path d="M214.4 415.6L216.6 419.3L212.2 419.3Z" fill="#1a1aff"/>
<path d="M215 415.6L217.2 419.3L212.8 419.3Z" fill="#1a1aff"/>
<path d="M215.6 415.6L217.8 419.3L213.4 419.3Z" fill="#1a1aff"/>
<path d="M216.2 415.6L218.4 419.3L214 419.3Z" fill="#1a1aff"/>
<path d="M216.8 415.6L219 419.3L214.6 419.3Z" fill="#1a1aff"/>
<path d="M217.5 415.6L219.7 419.3L215.3 419.3Z" fill="#1a1aff"/>
<path d="M218.1 415.6L220.3 419.3L215.9 419.3Z" fill="#1a1aff"/>
<path d="M218.7 415.6L220.9 419.3L216.5 419.3Z" fill="#1a1aff"/>
<path d="M219.3 415.6L221.5 419.3L217.1 419.3Z" fill="#1a1aff"/>
<path d="M219.9 415.7L222.1 419.4L217.7 419.4Z" fill="#1a1aff"/>
<path d="M220.5 415.7L222.7 419.4L218.3 419.4Z" fill="#1a1aff"/>
<path d="M221.1 415.7L223.3 419.4L218.9 419.4Z" fill="#1a1aff"/>
<path d="M221.7 415.7L223.9 419.4L219.5 419.4Z" fill="#1a1aff"/>
<path d="M222.4 415.7L224.6 419.4L220.2 419.4Z" fill="#1a1aff"/>
<path d="M223 415.7L225.2 419.4L220.8 419.4Z" fill="#1a1aff"/>
<path d="M223.6 415.7L225.8 419.4L221.4 419.4Z" fill="#1a1aff"/>
<path d="M224.2 415.7L226.4 419.4L222 419.4Z" fill="#1a1aff"/>
<path d="M224.8 415.7L227 419.4L222.6 419.4Z" fill="#1a1aff"/>
<path d="M225.4 415.7L227.6 419.4L223.2 419.4Z" fill="#1a1aff"/>
<path d="M226 415.7L228.2 419.4L223.8 419.4Z" fill="#1a1aff"/>
<path d="M226.6 415.7L228.8 419.4L224.4 419.4Z" fill="#1a1aff"/>
<path d="M227.3 415.7L229.5 419.4L225.1 419.4Z" fill="#1a1aff"/>
<path d="M227.9 415.7L230.1 419.4L225.7 419.4Z" fill="#1a1aff"/>
<path d="M228.5 415.8L230.7 419.5L226.3 419.5Z" fill="#1a1aff"/>
<path d="M229.1 415.8L231.3 419.5L226.9 419.5Z" fill="#1a1aff"/>
<path d="M229.7 415.8L231.9 419.5L227.5 419.5Z" fill="#1a1aff"/>
<path d="M230.3 415.8L232.5 419.5L228.1 419.5Z" fill="#1a1aff"/>
<path d="M230.9 415.8L233.1 419.5L228.7 419.5Z" fill="#1a1aff"/>
<path d="M231.5 415.8L233.7 419.5L229.3 419.5Z" fill="#1a1aff"/>
<path d="M232.2 415.8L234.4 419.5L230 419.5Z" fill="#1a1aff"/>
<path d="M232.8 415.8L235 419.5L230.6 419.5Z" fill="#1a1aff"/>
<path d="M233.4 415.8L235.6 419.5L231.2 419.5Z" fill="#1a1aff"/>
<path d="M234 415.8L236.2 419.5L231.8 419.5Z" fill="#1a1aff"/>
<rect x="19.5" y="248.4" width="214.5" height="172" fill="none" stroke="#151515" stroke-width="1.7"/>
<line x1="50.1" y1="420.4" x2="50.1" y2="416.9" stroke="#222" stroke-width="1.2"/>
<text x="50.1" y="431.8" font-size="9.2" text-anchor="middle" fill="#000" >700</text>
<line x1="111.4" y1="420.4" x2="111.4" y2="416.9" stroke="#222" stroke-width="1.2"/>
<text x="111.4" y="431.8" font-size="9.2" text-anchor="middle" fill="#000" >800</text>
<line x1="172.7" y1="420.4" x2="172.7" y2="416.9" stroke="#222" stroke-width="1.2"/>
<text x="172.7" y="431.8" font-size="9.2" text-anchor="middle" fill="#000" >900</text>
<line x1="234" y1="420.4" x2="234" y2="416.9" stroke="#222" stroke-width="1.2"/>
<text x="234" y="431.8" font-size="9.2" text-anchor="middle" fill="#000" >1000</text>
<line x1="80.8" y1="420.4" x2="80.8" y2="418.4" stroke="#222" stroke-width="1.2"/>
<line x1="142.1" y1="420.4" x2="142.1" y2="418.4" stroke="#222" stroke-width="1.2"/>
<line x1="203.4" y1="420.4" x2="203.4" y2="418.4" stroke="#222" stroke-width="1.2"/>
<line x1="134.5" y1="258.3" x2="154.5" y2="258.3" stroke="#000" stroke-width="1.4"/>
<circle cx="144.5" cy="258.3" r="2.2" fill="#000"/>
<text x="157" y="261.5" font-size="9" text-anchor="start" fill="#000" >SnO<tspan font-size="6" dy="2">2</tspan></text>
<line x1="134.5" y1="271.7" x2="154.5" y2="271.7" stroke="#f22" stroke-width="1.4"/>
<rect x="142.5" y="269.7" width="4" height="4" fill="#f22"/>
<text x="157" y="274.9" font-size="9" text-anchor="start" fill="#e02828" >0.025M ZnO/SnO<tspan font-size="6" dy="2">2</tspan></text>
<line x1="134.5" y1="285.1" x2="154.5" y2="285.1" stroke="#1a1aff" stroke-width="1.4"/>
<path d="M144.5 282.8L146.7 286.5L142.3 286.5Z" fill="#1a1aff"/>
<text x="157" y="288.3" font-size="9" text-anchor="start" fill="#2424cc" >0.030M ZnO/SnO<tspan font-size="6" dy="2">2</tspan></text>
<text x="127" y="448" font-size="14.7" text-anchor="middle" fill="#000" >Wavelength (nm)</text>
<text x="11" y="333.9" font-size="15" text-anchor="middle" fill="#000" textLength="141" lengthAdjust="spacingAndGlyphs" transform="rotate(-90 11.0 333.9)">Intensity (normalized)</text>
<text x="260" y="231" font-size="28" text-anchor="start" fill="#000" >d</text>
<path d="M294.4 248.7h0M294.7 250.9h0M295 249.9h0M295.3 252.4h0M295.5 253.4h0M295.8 253.3h0M296.1 253.9h0M296.4 255.4h0M296.6 256.7h0M296.9 258.2h0M297.2 258.1h0M297.5 259.4h0M297.7 258.8h0M298 259.2h0M298.3 259.4h0M298.6 260.5h0M298.8 261.8h0M299.1 262.8h0M299.4 262.5h0M299.7 264.7h0M299.9 264.7h0M300.2 265h0M300.5 265.5h0M300.8 268.2h0M301 267.5h0M301.3 267.4h0M301.6 267.9h0M301.9 270.6h0M302.1 269.4h0M302.4 271.4h0M302.7 272.2h0M303 269.9h0M303.3 273.3h0M303.5 272.7h0M303.8 272.6h0M304.1 273.6h0M304.4 275h0M304.6 275.4h0M304.9 276h0M305.2 275.7h0M305.5 277.8h0M305.7 278.6h0M306 279.4h0M306.3 279.2h0M306.6 280.5h0M306.8 281.2h0M307.1 280.6h0M307.4 281.3h0M307.7 281.6h0M307.9 282.1h0M308.2 282.9h0M308.5 281.2h0M308.8 282.9h0M309 284.2h0M309.3 282.4h0M309.6 283.5h0M309.9 286.7h0M310.1 284.9h0M310.4 285.9h0M310.7 287.2h0M311 286.9h0M311.2 287h0M311.5 287.9h0M311.8 288.4h0M312.1 288.8h0M312.3 290h0M312.6 291.8h0M312.9 291.1h0M313.2 292.8h0M313.4 292.5h0M313.7 293.1h0M314 293.3h0M314.3 293h0M314.5 294.1h0M314.8 294.5h0M315.1 293.6h0M315.4 295.9h0M315.6 296.2h0M315.9 296.5h0M316.2 296h0M316.5 294.4h0M316.7 299h0M317 297.9h0M317.3 296.2h0M317.6 299.6h0M317.9 298.6h0M318.1 300.5h0M318.4 300.2h0M318.7 301.9h0M319 301.4h0M319.2 301.9h0M319.5 302.2h0M319.8 303.8h0M320.1 301.6h0M320.3 304.7h0M320.6 304.6h0M320.9 303.7h0M321.2 304.7h0M321.4 304.7h0M321.7 305.7h0M322 307.1h0M322.3 305.7h0M322.5 307.7h0M322.8 308.4h0M323.1 308.5h0M323.4 309.9h0M323.6 308.5h0M323.9 309.8h0M324.2 312.3h0M324.5 309.9h0M324.7 310.1h0M325 310.7h0M325.3 311.8h0M325.6 310.8h0M325.8 311.7h0M326.1 310.3h0M326.4 311.5h0M326.7 312h0M326.9 312.2h0M327.2 313.5h0M327.5 315.2h0M327.8 314.3h0M328 313.6h0M328.3 315.9h0M328.6 316.2h0M328.9 314.7h0M329.1 317h0M329.4 315.9h0M329.7 316.8h0M330 317.1h0M330.2 319.4h0M330.5 317.7h0M330.8 318.7h0M331.1 319.8h0M331.3 321.3h0M331.6 321.9h0M331.9 319.3h0M332.2 322.7h0M332.4 321.9h0M332.7 323.6h0M333 323.7h0M333.3 321.8h0M333.6 323h0M333.8 322.9h0M334.1 324.3h0M334.4 326.7h0M334.7 324.5h0M334.9 323.7h0M335.2 329.3h0M335.5 323.9h0M335.8 325.9h0M336 326.2h0M336.3 324.4h0M336.6 328.4h0M336.9 329.2h0M337.1 327.6h0M337.4 328.2h0M337.7 328.1h0M338 325.5h0M338.2 329.6h0M338.5 327.1h0M338.8 328h0M339.1 330.9h0M339.3 332.3h0M339.6 329.2h0M339.9 333.5h0M340.2 335.1h0M340.4 332.3h0M340.7 332.1h0M341 333h0M341.3 332.1h0M341.5 331.5h0M341.8 335h0M342.1 335.5h0M342.4 333.2h0M342.6 333.8h0M342.9 333.6h0M343.2 333.8h0M343.5 333.5h0M343.7 332.6h0M344 338.4h0M344.3 335.8h0M344.6 337.1h0M344.8 341.5h0M345.1 336.5h0M345.4 339.3h0M345.7 335h0M345.9 337.1h0M346.2 340.6h0M346.5 338.6h0M346.8 336h0M347 336h0M347.3 341.1h0M347.6 338.1h0M347.9 342.6h0M348.1 341.9h0M348.4 340.6h0M348.7 341.6h0M349 344.1h0M349.3 342.5h0M349.5 340.1h0M349.8 343.9h0M350.1 342.4h0M350.4 343h0M350.6 345.5h0M350.9 345.1h0M351.2 347.4h0M351.5 344.3h0M351.7 343.8h0M352 344.5h0M352.3 346.8h0M352.6 343.7h0M352.8 345.3h0M353.1 344.1h0M353.4 344.6h0M353.7 346.7h0M353.9 354.7h0M354.2 346.6h0M354.5 348.9h0M354.8 348.7h0M355 348.1h0M355.3 349h0M355.6 353.3h0M355.9 348.7h0M356.1 354.8h0M356.4 352.1h0M356.7 347.6h0M357 348.6h0M357.2 349.4h0M357.5 347.7h0M357.8 355.2h0M358.1 353.1h0M358.3 353.8h0M358.6 348.9h0M358.9 354.1h0M359.2 351.1h0M359.4 361.3h0M359.7 353.1h0M360 354.7h0M360.3 355.4h0M360.5 352.6h0M360.8 353.1h0M361.1 353.4h0M361.4 358.1h0M361.6 352.7h0M361.9 363.1h0M362.2 357h0M362.5 354.6h0M362.7 351.3h0M363 352.2h0M363.3 355.3h0M363.6 353.5h0M363.9 361h0M364.1 357.7h0M364.4 357.8h0M364.7 354.3h0M365 360.4h0M365.2 357.3h0M365.5 355.2h0M365.8 356.6h0M366.1 368.9h0M366.3 357.2h0M366.6 356.4h0M366.9 364.9h0M367.2 363.4h0M367.4 359.5h0M367.7 366.6h0M368 362.8h0M368.3 359.4h0M368.5 354.7h0M368.8 367.7h0M369.1 362.3h0M369.4 373.5h0M369.6 364.6h0M369.9 364.9h0M370.2 358.1h0M370.5 365.1h0M370.7 361.3h0M371 367.7h0M371.3 365.2h0M371.6 353.4h0M371.8 369.4h0M372.1 368.7h0M372.4 360.6h0M372.7 367h0M372.9 370.4h0M373.2 370.9h0M373.5 358.3h0M373.8 366.1h0M374 362.4h0M374.3 374.5h0M374.6 366.9h0M374.9 360.8h0M375.1 367.4h0M375.4 370h0M375.7 359.7h0M376 360.8h0M376.2 364.3h0M376.5 366.4h0M376.8 365.3h0M377.1 359h0M377.3 360.6h0M377.6 368.6h0M377.9 371.1h0M378.2 364.6h0M378.4 370.3h0M378.7 379.5h0M379 368.8h0M379.3 367.8h0M379.6 366.6h0M379.8 373.1h0M380.1 372h0M380.4 372.4h0M380.7 369.2h0M380.9 373.8h0M381.2 374h0M381.5 371.2h0M381.8 378.6h0M382 363.8h0M382.3 375.8h0M382.6 372.2h0M382.9 377.9h0M383.1 384.1h0M383.4 373.8h0M383.7 372.7h0M384 373.9h0M384.2 382.3h0M384.5 383.5h0M384.8 375.7h0M385.1 378.7h0M385.3 385.7h0M385.6 378.4h0M385.9 366.5h0M386.2 370.7h0M386.4 372.8h0M386.7 378.3h0M387 372.6h0M387.3 384.7h0M387.5 373.5h0M387.8 386.2h0M388.1 380.9h0M388.4 385.3h0M388.6 383.8h0M388.9 384.5h0M389.2 389.7h0M389.5 388.6h0M389.7 384.3h0M390 373.1h0M390.3 372.8h0M390.6 357.8h0M390.8 387.8h0M391.1 386.6h0M391.4 381.6h0M391.7 371.5h0M391.9 396.6h0M392.2 388.1h0M392.5 384.8h0M392.8 369h0M393 375.6h0M393.3 387.6h0M393.6 386.5h0M393.9 373h0M394.2 379.6h0M394.4 387.5h0M394.7 368.5h0M395 388.9h0M395.3 370.6h0M395.5 384.8h0M395.8 379.2h0M396.1 387.3h0M396.4 377.7h0M396.6 378.9h0M396.9 378.9h0M397.2 375.1h0M397.5 379.6h0M397.7 374.9h0M398 377.9h0M398.3 386.1h0M398.6 379.7h0M398.8 388.8h0M399.1 386.6h0M399.4 387.5h0M399.7 374.9h0M399.9 385h0M400.2 391.8h0M400.5 388.5h0M400.8 390.7h0M401 392.7h0M401.3 373.1h0M401.6 386.8h0M401.9 386.7h0M402.1 382h0M402.4 390h0M402.7 384.5h0M403 382.6h0M403.2 396.4h0M403.5 392.2h0M403.8 381.3h0M404.1 377.2h0M404.3 378.7h0M404.6 383.9h0M404.9 379.7h0M405.2 397.3h0M405.4 376.9h0M405.7 384.1h0M406 385.8h0M406.3 387.6h0M406.5 379h0M406.8 383.7h0M407.1 386.4h0M407.4 387.5h0M407.6 381.7h0M407.9 383.6h0M408.2 387.1h0M408.5 398.2h0M408.7 378.1h0M409 390.6h0M409.3 396.4h0M409.6 377.2h0M409.9 395.8h0M410.1 395.6h0M410.4 387h0M410.7 393h0M411 396.5h0M411.2 386h0M411.5 388.6h0M411.8 380.2h0M412.1 382.8h0M412.3 387.9h0M412.6 387h0M412.9 398.8h0M413.2 386.3h0M413.4 380h0M413.7 393.7h0M414 394h0M414.3 390.7h0M414.5 387.3h0M414.8 383.2h0M415.1 402.5h0M415.4 398.4h0M415.6 393.7h0M415.9 389.3h0M416.2 391.5h0M416.5 386.6h0M416.7 382.9h0M417 385.9h0M417.3 388.7h0M417.6 378.4h0M417.8 379.8h0M418.1 378h0M418.4 386.3h0M418.7 393.3h0M418.9 380.6h0M419.2 381.9h0M419.5 378.9h0M419.8 386.4h0M420 381.7h0M420.3 382.9h0M420.6 382.4h0M420.9 404.3h0M421.1 389.1h0M421.4 385.5h0M421.7 400.4h0M422 395.7h0M422.2 396.4h0M422.5 391.9h0M422.8 377.5h0M423.1 400.1h0M423.3 397.5h0M423.6 395.6h0M423.9 404.7h0M424.2 391.3h0M424.4 398.7h0M424.7 389h0M425 397.9h0M425.3 388.1h0M425.6 388.8h0M425.8 388.5h0M426.1 408h0M426.4 388.4h0M426.7 407.3h0M426.9 401.9h0M427.2 387.2h0M427.5 385.1h0M427.8 410.9h0M428 389.9h0M428.3 394h0M428.6 393.2h0M428.9 398.3h0M429.1 386.6h0M429.4 400h0M429.7 397.8h0M430 378.3h0M430.2 391.7h0M430.5 390.3h0M430.8 395.4h0M431.1 392.6h0M431.3 404.5h0M431.6 390.9h0M431.9 395.5h0M432.2 393.5h0M432.4 392.3h0M432.7 407.9h0M433 397h0M433.3 386.3h0M433.5 406.8h0M433.8 395.9h0M434.1 387.3h0M434.4 394.6h0M434.6 388.5h0M434.9 379.5h0M435.2 396.4h0M435.5 398.4h0M435.7 398.4h0M436 393.5h0M436.3 405.6h0M436.6 396.2h0M436.8 397.6h0M437.1 400.9h0M437.4 403.8h0M437.7 400.4h0M437.9 408.1h0M438.2 395h0M438.5 386.3h0M438.8 400.3h0M439 399.5h0M439.3 403.6h0M439.6 413.4h0M439.9 406.3h0M440.2 391.6h0M440.4 398.4h0M440.7 394.7h0M441 395h0M441.3 384.9h0M441.5 391.7h0M441.8 383.6h0M442.1 394.6h0M442.4 392.2h0M442.6 397.7h0M442.9 385h0M443.2 393.6h0M443.5 411.6h0M443.7 382.1h0M444 409.2h0M444.3 400.4h0M444.6 392.3h0M444.8 409.7h0M445.1 406.3h0M445.4 381.4h0M445.7 395.7h0M445.9 393.7h0M446.2 398.1h0M446.5 391.7h0M446.8 396.3h0M447 398.6h0M447.3 381.8h0M447.6 416.7h0M447.9 407.5h0M448.1 399.2h0M448.4 406.1h0M448.7 409h0M449 400.6h0M449.2 401.4h0M449.5 401.6h0M449.8 396.3h0M450.1 414.1h0M450.3 417.9h0M450.6 403.1h0M450.9 405.7h0M451.2 409.3h0M451.4 390.7h0M451.7 393h0M452 400.8h0M452.3 403.3h0M452.5 392h0M452.8 391h0M453.1 405.2h0M453.4 404.9h0M453.6 398.4h0M453.9 398.4h0M454.2 396.2h0M454.5 392.6h0M454.7 394.7h0M455 401.6h0M455.3 399.3h0M455.6 406.9h0M455.9 391.9h0M456.1 389.5h0M456.4 404.4h0M456.7 394.5h0M457 413.7h0M457.2 401h0M457.5 392.6h0M457.8 390.8h0M458.1 402.7h0M458.3 383.1h0M458.6 414.5h0M458.9 389.4h0M459.2 419.1h0M459.4 419.8h0M459.7 402.8h0M460 404.6h0M460.3 402.3h0M460.5 392.4h0M460.8 407h0M461.1 402.5h0M461.6 400.9h0M461.9 400.1h0M462.2 408h0M462.5 408.2h0M462.7 403.6h0M463 414.1h0M463.3 396h0M463.6 395.6h0M463.8 409.7h0M464.1 405.8h0M464.4 403h0M464.7 420.7h0M464.9 397.9h0M465.2 408.2h0M465.5 396.1h0M465.8 397.4h0M466 408.7h0M466.3 407.4h0M466.6 402.8h0M466.9 395h0M467.1 395.1h0M467.4 409.1h0M467.7 406.1h0M468 413.5h0M468.2 400.6h0M468.5 415.7h0M468.8 419.1h0M469.1 414.9h0M469.3 392.8h0M469.6 416h0M469.9 414.8h0M470.2 397.8h0M471 394.9h0M471.3 406.6h0M471.6 403.8h0M471.8 398.4h0M472.1 402.6h0M472.4 414.5h0M472.7 402.9h0M472.9 402h0M473.2 417.5h0M473.5 398.8h0M473.8 401.6h0M474 414.5h0M474.3 405h0M474.6 392.1h0M474.9 417h0M475.1 389.8h0M475.4 400.5h0M475.7 407h0M476 393.9h0M476.2 415.1h0M476.5 413.3h0M476.8 410.3h0M477.1 400.1h0M477.3 421h0M477.6 421.9h0M477.9 419.1h0M478.2 413.7h0M478.4 390.7h0M478.7 400.4h0M479 397.5h0M479.3 403h0M479.5 406.7h0M479.8 420.7h0M480.1 404.7h0M480.4 411.4h0M480.6 406.1h0M480.9 421.3h0M481.2 417.2h0M481.5 398.1h0M481.7 410.1h0M482 421.2h0M482.6 402.2h0M482.8 399.4h0M483.1 397.3h0M483.4 403h0M483.7 405.7h0M483.9 405.9h0M484.2 413.3h0M484.5 403.7h0M484.8 408h0M485 394.7h0M485.3 401.4h0M485.6 404.8h0M485.9 390h0M486.2 406.7h0M486.4 411.8h0M486.7 406.5h0M487 417.5h0M487.3 406h0M487.5 398h0M487.8 406.3h0M488.1 402.3h0M488.4 406.7h0M488.6 406.6h0M488.9 406.9h0M489.2 397.3h0M489.5 405.7h0M489.7 417.9h0M490.3 404.6h0M490.6 401.3h0M490.8 412.9h0M491.1 419.4h0M491.4 394.3h0M491.7 403.2h0M491.9 417.6h0M492.2 394.8h0M492.5 406.6h0M492.8 401.1h0M493 420.5h0M493.3 403.4h0M493.6 400.2h0M493.9 388.8h0M494.1 404.7h0M494.4 406.4h0M494.7 405.2h0M495 398.9h0M495.2 402h0M495.5 421.1h0M495.8 419.6h0M496.1 403.9h0M496.3 397.7h0M496.6 404.6h0M496.9 407.8h0M497.2 414.4h0M497.4 407.7h0M497.7 406.2h0M498 422h0M498.3 410.1h0M498.5 406h0M498.8 419h0M499.1 414.6h0M499.4 401.5h0M499.6 405.7h0M499.9 400.1h0M500.2 402.8h0M500.5 416.4h0M500.7 401.5h0M501 409.7h0M501.3 420.6h0M501.6 409.8h0M501.9 405.2h0M502.1 401h0M502.4 389h0M502.7 399.8h0M503 400h0M503.2 412.7h0M503.5 410.9h0M503.8 397.4h0M504.1 410.4h0M504.3 401.9h0M504.6 418.6h0M504.9 416.2h0M505.2 410.8h0M505.4 403.6h0M505.7 418.3h0M506 412.3h0M506.3 414.3h0M506.5 410.2h0M506.8 404.9h0M507.1 412h0M507.6 412.1h0M507.9 408h0M508.2 421.7h0M508.5 410h0M508.7 406.3h0M509.3 406.1h0M509.6 411.9h0M509.8 398.9h0M510.1 399.3h0M510.9 419.1h0M511.2 407.3h0" stroke="#2020d8" stroke-width="2.9" stroke-linecap="round" fill="none"/>
<path d="M295.3 248.8h0M295.5 250.2h0M295.7 251.7h0M296 252.3h0M296.2 253h0M296.4 251.9h0M296.7 252.6h0M296.9 255.8h0M297.2 256h0M297.4 257.7h0M297.6 257.5h0M297.9 256.3h0M298.1 258.9h0M298.3 259h0M298.6 259.2h0M298.8 259h0M299 260.3h0M299.3 260.7h0M299.5 262.2h0M299.7 262.1h0M300 264h0M300.2 262.5h0M300.5 264.1h0M300.7 264.7h0M300.9 264h0M301.2 264.3h0M301.4 266.8h0M301.6 266.9h0M301.9 266.8h0M302.1 267.8h0M302.3 267.4h0M302.6 268.7h0M302.8 268.4h0M303.1 269.7h0M303.3 270.9h0M303.5 270.2h0M303.8 271.8h0M304 270.5h0M304.2 271.7h0M304.5 271.1h0M304.7 272.8h0M304.9 273.4h0M305.2 273.6h0M305.4 274h0M305.7 276.1h0M305.9 276.6h0M306.1 274.5h0M306.4 277.3h0M306.6 274.8h0M306.8 276.3h0M307.1 277.3h0M307.3 278.1h0M307.5 277.3h0M307.8 278.1h0M308 279.4h0M308.2 279h0M308.5 279.5h0M308.7 281.3h0M309 282.1h0M309.2 281.4h0M309.4 282h0M309.7 282.4h0M309.9 282.3h0M310.1 282.7h0M310.4 282.5h0M310.6 284.8h0M310.8 284.4h0M311.1 284.8h0M311.3 285.6h0M311.6 286.4h0M311.8 287.8h0M312 286.3h0M312.3 286.6h0M312.5 287.7h0M312.7 286.9h0M313 289.8h0M313.2 289.8h0M313.4 290h0M313.7 289.4h0M313.9 290.8h0M314.2 291.6h0M314.4 291.4h0M314.6 290.9h0M314.9 289.6h0M315.1 293.1h0M315.3 292h0M315.6 291.8h0M315.8 294.3h0M316 294h0M316.3 292.3h0M316.5 294.3h0M316.7 294.4h0M317 296.4h0M317.2 293.2h0M317.5 295.5h0M317.7 296.2h0M317.9 298.5h0M318.2 295.7h0M318.4 293.8h0M318.6 296.1h0M318.9 298.6h0M319.1 299.7h0M319.3 301.2h0M319.6 299.9h0M319.8 298.7h0M320.1 301.3h0M320.3 300.5h0M320.5 300.6h0M320.8 301.3h0M321 303.3h0M321.2 300.8h0M321.5 301h0M321.7 302.6h0M321.9 303h0M322.2 302.4h0M322.4 302.6h0M322.7 304.7h0M322.9 306.4h0M323.1 305.9h0M323.4 306.2h0M323.6 307.3h0M323.8 303.2h0M324.1 304.3h0M324.3 305.7h0M324.5 305.4h0M324.8 306h0M325 307.8h0M325.2 306.3h0M325.5 307.8h0M325.7 305.9h0M326 307.8h0M326.2 311.4h0M326.4 309.1h0M326.7 310.6h0M326.9 311.5h0M327.1 310.2h0M327.4 312h0M327.6 311.9h0M327.8 312.9h0M328.1 311.3h0M328.3 310.4h0M328.6 311.4h0M328.8 312.4h0M329 314.4h0M329.3 313.6h0M329.5 313.6h0M329.7 314.3h0M330 316.5h0M330.2 314.4h0M330.4 317.9h0M330.7 314h0M330.9 315.3h0M331.2 317.9h0M331.4 317.7h0M331.6 315.9h0M331.9 317.4h0M332.1 316.8h0M332.3 319.7h0M332.6 319.5h0M332.8 317.7h0M333 319.9h0M333.3 318.9h0M333.5 319.8h0M333.7 320.3h0M334 319.6h0M334.2 321.6h0M334.5 322h0M334.7 322.3h0M334.9 323.9h0M335.2 321.7h0M335.4 319.7h0M335.6 321.9h0M335.9 323.5h0M336.1 323.5h0M336.3 324.9h0M336.6 325.6h0M336.8 324.2h0M337.1 324.5h0M337.3 323.1h0M337.5 327.4h0M337.8 325.1h0M338 323.8h0M338.2 324h0M338.5 325.7h0M338.7 330.1h0M338.9 328.8h0M339.2 323.9h0M339.4 327.5h0M339.7 328.7h0M339.9 329.8h0M340.1 329.5h0M340.4 327.6h0M340.6 330.2h0M340.8 328.4h0M341.1 324.9h0M341.3 328.6h0M341.5 329h0M341.8 333h0M342 333.6h0M342.2 329h0M342.5 332.1h0M342.7 332.2h0M343 328.9h0M343.2 327.7h0M343.4 332.7h0M343.7 333.5h0M343.9 332h0M344.1 327.2h0M344.4 334h0M344.6 332.9h0M344.8 332.4h0M345.1 334.1h0M345.3 332.4h0M345.6 336.9h0M345.8 335.8h0M346 334.6h0M346.3 337.1h0M346.5 336.6h0M346.7 333h0M347 336.8h0M347.2 336.3h0M347.4 333.1h0M347.7 336.3h0M347.9 339.5h0M348.1 336.9h0M348.4 342.7h0M348.6 343.8h0M348.9 338.6h0M349.1 341.2h0M349.3 345.5h0M349.6 339.3h0M349.8 338h0M350 339.6h0M350.3 337.2h0M350.5 337.5h0M350.7 342.2h0M351 340.7h0M351.2 342.9h0M351.5 343.8h0M351.7 340.4h0M351.9 342.4h0M352.2 342.4h0M352.4 341.5h0M352.6 341.2h0M352.9 345h0M353.1 343.8h0M353.3 345.5h0M353.6 347.9h0M353.8 348.2h0M354.1 341.9h0M354.3 342.9h0M354.5 345h0M354.8 346.5h0M355 349.3h0M355.2 343.5h0M355.5 345.5h0M355.7 347.9h0M355.9 351.3h0M356.2 352.1h0M356.4 344.6h0M356.6 347.4h0M356.9 345.7h0M357.1 351.4h0M357.4 350.4h0M357.6 347.9h0M357.8 347.3h0M358.1 350.6h0M358.3 353.2h0M358.5 347.5h0M358.8 349.3h0M359 351h0M359.2 350.9h0M359.5 352.3h0M359.7 347.9h0M360 349.5h0M360.2 344.4h0M360.4 352.3h0M360.7 356.1h0M360.9 345.2h0M361.1 350.5h0M361.4 356.3h0M361.6 352.7h0M361.8 346.5h0M362.1 358.1h0M362.3 348.7h0M362.6 359.4h0M362.8 352.2h0M363 352h0M363.3 355h0M363.5 355.1h0M363.7 357.7h0M364 357.6h0M364.2 355.3h0M364.4 361.3h0M364.7 359.1h0M364.9 357.6h0M365.1 357.3h0M365.4 356.6h0M365.6 356.9h0M365.9 360.2h0M366.1 359.6h0M366.3 358.1h0M366.6 362.3h0M366.8 357.3h0M367 360.4h0M367.3 362.4h0M367.5 354.3h0M367.7 358.1h0M368 366.6h0M368.2 355.5h0M368.5 364.9h0M368.7 355.5h0M368.9 362.1h0M369.2 355.9h0M369.4 358h0M369.6 359.3h0M369.9 358.8h0M370.1 368h0M370.3 367.6h0M370.6 365.8h0M370.8 363h0M371.1 369.8h0M371.3 367.3h0M371.5 364.2h0M371.8 358h0M372 366.4h0M372.2 366.4h0M372.5 364h0M372.7 367.2h0M372.9 367.7h0M373.2 362.8h0M373.4 367.1h0M373.6 366.3h0M373.9 366.4h0M374.1 363.4h0M374.4 363h0M374.6 366h0M374.8 372.8h0M375.1 377.5h0M375.3 364.2h0M375.5 360.9h0M375.8 364.7h0M376 362.4h0M376.2 364.7h0M376.5 369.1h0M376.7 372.7h0M377 370.6h0M377.2 371.8h0M377.4 373.1h0M377.7 377.7h0M377.9 373.6h0M378.1 380.5h0M378.4 366h0M378.6 370.4h0M378.8 370h0M379.1 371.6h0M379.3 375h0M379.6 367.9h0M379.8 379.2h0M380 377.1h0M380.3 372.2h0M380.5 376.2h0M380.7 365.3h0M381 357h0M381.2 370.6h0M381.4 373h0M381.7 372.7h0M381.9 365.4h0M382.1 369.3h0M382.4 382.1h0M382.6 380.7h0M382.9 376h0M383.1 370.8h0M383.3 377.1h0M383.6 380.5h0M383.8 377.6h0M384 371h0M384.3 375.2h0M384.5 368.5h0M384.7 372.1h0M385 377.6h0M385.2 371h0M385.5 373h0M385.7 383.2h0M385.9 373.6h0M386.2 379.4h0M386.4 373.1h0M386.6 368h0M386.9 375.2h0M387.1 373h0M387.3 362.9h0M387.6 368h0M387.8 373h0M388.1 385h0M388.3 372.3h0M388.5 375.8h0M388.8 380.1h0M389 378.1h0M389.2 374.2h0M389.5 387.4h0M389.7 385.2h0M389.9 361h0M390.2 383.1h0M390.4 380.5h0M390.6 383.4h0M390.9 377.8h0M391.1 382.7h0M391.4 389.9h0M391.6 388.6h0M391.8 389.2h0M392.1 384.6h0M392.3 383.9h0M392.5 383.3h0M392.8 370.9h0M393 390.6h0M393.2 379.9h0M393.5 380.6h0M393.7 379.4h0M394 381.8h0M394.2 390.6h0M394.4 380.4h0M394.7 370.9h0M394.9 372.8h0M395.1 367.3h0M395.4 384.8h0M395.6 383.3h0M395.8 376.4h0M396.1 379h0M396.3 389.1h0M396.6 372.4h0M396.8 375.4h0M397 372h0M397.3 378.2h0M397.5 366h0M397.7 377.9h0M398 386.4h0M398.2 388.4h0M398.4 388.1h0M398.7 384h0M398.9 374.4h0M399.1 386.9h0M399.4 384.5h0M399.6 382.9h0M399.9 373.5h0M400.1 384h0M400.3 390.7h0M400.6 386.4h0M400.8 380.2h0M401 391.4h0M401.3 381.9h0M401.5 383.2h0M401.7 387.6h0M402 384.4h0M402.2 382.8h0M402.5 384.9h0M402.7 377.2h0M402.9 376.1h0M403.2 385.8h0M403.4 378.9h0M403.6 386.5h0M403.9 371h0M404.1 390.8h0M404.3 382.5h0M404.6 394h0M404.8 367.3h0M405 393.9h0M405.3 392.6h0M405.5 384.6h0M405.8 385.7h0M406 384.6h0M406.2 384.9h0M406.5 387.5h0M406.7 377.5h0M406.9 383.1h0M407.2 392.7h0M407.4 385.5h0M407.6 380.4h0M407.9 385.1h0M408.1 391.4h0M408.4 383.4h0M408.6 383.6h0M408.8 388h0M409.1 390.4h0M409.3 394.6h0M409.5 396.3h0M409.8 387.4h0M410 392h0M410.2 373h0M410.5 386.4h0M410.7 388.5h0M411 385h0M411.2 380.1h0M411.4 389.6h0M411.7 393.9h0M411.9 394.6h0M412.1 400.4h0M412.4 384.7h0M412.6 396.3h0M412.8 394.3h0M413.1 386.6h0M413.3 379.3h0M413.5 378.2h0M413.8 384.5h0M414 384.6h0M414.3 388.5h0M414.5 379.4h0M414.7 386.1h0M415 390.4h0M415.2 376h0M415.4 402.1h0M415.7 390.9h0M415.9 396.7h0M416.1 378.8h0M416.4 380.7h0M416.6 403.9h0M416.9 393.4h0M417.1 371.7h0M417.3 395.3h0M417.6 392.5h0M417.8 403h0M418 380.7h0M418.3 389.7h0M418.5 384.1h0M418.7 391.8h0M419 400.3h0M419.2 392.5h0M419.5 395h0M419.7 386.4h0M419.9 381.8h0M420.2 388.7h0M420.4 395.5h0M420.6 398.4h0M420.9 388.5h0M421.1 390.6h0M421.3 386.4h0M421.6 377.9h0M421.8 389.8h0M422 391.6h0M422.3 386.7h0M422.5 403.1h0M422.8 377.8h0M423 390h0M423.2 398.8h0M423.5 389.7h0M423.7 393.8h0M423.9 392.9h0M424.2 385.1h0M424.4 391.5h0M424.6 384.8h0M424.9 409.4h0M425.1 391.7h0M425.4 383.3h0M425.6 380.5h0M425.8 400.4h0M426.1 394.7h0M426.3 393.4h0M426.5 406.9h0M426.8 406.2h0M427 383h0M427.2 398.3h0M427.5 387.7h0M427.7 403.9h0M428 394.7h0M428.2 389.3h0M428.4 400.3h0M428.7 377.7h0M428.9 386.1h0M429.1 389h0M429.4 398.8h0M429.6 398.9h0M429.8 394.2h0M430.1 380.3h0M430.3 388.5h0M430.5 384.8h0M430.8 400.4h0M431 389.3h0M431.3 411.4h0M431.5 404.3h0M431.7 404.2h0M432 397.1h0M432.2 390.1h0M432.4 393h0M432.7 393h0M432.9 392.9h0M433.1 393.3h0M433.4 390.3h0M433.6 409.4h0M433.9 388.8h0M434.1 394.7h0M434.3 391.2h0M434.6 378.3h0M434.8 411.8h0M435 394.9h0M435.3 384.4h0M435.5 388.7h0M435.7 408.3h0M436 395.6h0M436.2 404.1h0M436.5 401.9h0M436.7 385.4h0M436.9 382.7h0M437.2 397.6h0M437.4 405.3h0M437.6 394.7h0M437.9 401.3h0M438.1 385.3h0M438.3 393.8h0M438.6 397.6h0M438.8 392h0M439 393.3h0M439.3 399.4h0M439.5 390.9h0M439.8 388.5h0M440 400.1h0M440.2 396.8h0M440.5 388.7h0M440.7 398.3h0M440.9 391.8h0M441.2 399.8h0M441.4 395.6h0M441.6 393.8h0M441.9 390.7h0M442.1 397.2h0M442.4 395.7h0M442.6 416.1h0M442.8 395.9h0M443.1 387.3h0M443.3 410h0M443.5 382.9h0M443.8 409h0M444 390.8h0M444.2 405.8h0M444.5 395.5h0M444.7 400.4h0M445 397.1h0M445.2 396.2h0M445.4 400.5h0M445.7 392.8h0M445.9 400.3h0M446.1 390.1h0M446.4 412.4h0M446.6 394h0M446.8 396.8h0M447.1 417.1h0M447.3 392.1h0M447.5 392h0M447.8 390.3h0M448 395.1h0M448.3 401.6h0M448.5 393h0M448.7 416.9h0M449 394.2h0M449.2 398.7h0M449.4 384.9h0M449.7 402.2h0M449.9 404.5h0M450.1 392.9h0M450.4 398.1h0M450.6 392.6h0M450.9 405.3h0M451.1 402.9h0M451.3 418h0M451.6 411.3h0M451.8 393.2h0M452 395.9h0M452.3 390.8h0M452.5 400.6h0M452.7 401.3h0M453 405.5h0M453.2 402.1h0M453.5 396.7h0M453.7 408.1h0M453.9 403.5h0M454.2 405.2h0M454.4 392h0M454.6 394.3h0M454.9 395.7h0M455.1 397.4h0M455.3 385.6h0M455.6 408.1h0M455.8 418.2h0M456 405.9h0M456.3 405.5h0M456.5 412.9h0M456.8 404.3h0M457 403.1h0M457.2 395.7h0M457.5 401.5h0M457.7 412.5h0M457.9 389.2h0M458.2 396.3h0M458.4 402.9h0M458.6 411.8h0M458.9 393.9h0M459.1 398.3h0M459.4 402.4h0M459.8 395.7h0M460.1 400.5h0M460.3 414.1h0M460.5 397h0M460.8 404.3h0M461 404.6h0M461.2 399.5h0M461.5 404.3h0M461.7 413.5h0M462 402.9h0M462.2 399.3h0M462.4 397.3h0M462.7 403.8h0M462.9 409.3h0M463.1 403.4h0M463.4 415.2h0M463.6 420.2h0M463.8 397.5h0M464.1 395.5h0M464.3 404.5h0M464.5 401.3h0M464.8 406.6h0M465 411.1h0M465.3 405.3h0M465.5 401.7h0M465.7 406.5h0M466 406.3h0M466.4 399.3h0M466.7 407.7h0M466.9 401.9h0M467.1 416.6h0M467.4 416.6h0M467.6 399.9h0M467.9 399.8h0M468.1 407.8h0M468.3 398.3h0M468.6 419h0M468.8 397h0M469 393.5h0M469.3 405.6h0M469.5 414.1h0M469.7 397.9h0M470 411.5h0M470.2 410.9h0M470.4 413.9h0M470.7 396.8h0M470.9 399.6h0M471.2 414.9h0M471.4 403.7h0M471.6 404h0M471.9 408.8h0M472.1 419.3h0M472.3 400.6h0M472.6 402.9h0M472.8 408.6h0M473 419.4h0M473.3 399.6h0M473.5 417.9h0M473.8 410.2h0M474 402.4h0M474.2 400.9h0M474.5 410.8h0M474.7 421.9h0M474.9 405.4h0M475.2 400.8h0M475.4 400.3h0M475.6 410.7h0M475.9 406.9h0M476.4 403.6h0M476.6 407.5h0M476.8 395.8h0M477.1 411.9h0M477.3 401.2h0M477.5 406.7h0M477.8 413.9h0M478 413.2h0M478.2 408.6h0M478.5 413.9h0M478.7 402.5h0M478.9 399.3h0M479.4 409.2h0M479.7 418.7h0M479.9 403.4h0M480.1 405.7h0M480.4 403.5h0M480.6 408.9h0M480.8 393.5h0M481.1 411.4h0M481.3 413h0M481.8 399.1h0M482 399.9h0M482.3 409.5h0M482.5 415.5h0M482.7 399.2h0M483 395.6h0M483.2 406.6h0M483.7 410.7h0M483.9 401.4h0M484.1 410.9h0M484.4 413.4h0M484.6 395.1h0M485.1 410.1h0M485.3 418.3h0M485.6 402.4h0M485.8 393.1h0M486 400.9h0M486.3 396.6h0M486.5 402.6h0M487 401.9h0M487.2 406.7h0M487.4 398h0M487.7 420.2h0M487.9 401.9h0M488.2 399.2h0M488.4 418.7h0M488.6 408.4h0M488.9 410.8h0M489.1 392.9h0M489.3 415.8h0M489.6 417.7h0M489.8 405.3h0M490 404.2h0M490.3 402.4h0M490.5 419.9h0M490.8 395.8h0M491 408.5h0M491.2 419.7h0M491.5 407.2h0M491.7 419.6h0M491.9 421.1h0M492.2 404.3h0M492.4 412.5h0M492.6 405.9h0M492.9 407.1h0M493.1 403.7h0M493.4 398.3h0M493.6 404.4h0M494.1 413.7h0M494.3 406h0M494.5 408.6h0M494.8 400.3h0M495 405.3h0M495.2 405.5h0M495.5 405.6h0M495.7 407h0M495.9 408.9h0M496.2 414.8h0M496.4 411.8h0M496.7 410.1h0M496.9 398.4h0M497.1 401.2h0M497.4 406.9h0M497.6 407.3h0M497.8 411.6h0M498.1 394.9h0M498.3 407.9h0M498.5 407.5h0M498.8 404.4h0M499 401.4h0M499.3 408.2h0M499.5 405.6h0M499.7 409.9h0M500 393.3h0M500.2 400.7h0M500.4 417h0M500.7 408.3h0M500.9 401.6h0M501.1 404.6h0M501.4 398.1h0M501.6 416.3h0M501.9 416.4h0M502.1 412.7h0M502.3 414.9h0M502.6 410h0M502.8 415.7h0M503.3 416.3h0M503.5 406.7h0M503.7 406.3h0M504 403.1h0M504.2 418.6h0M504.4 396.4h0M504.7 415.8h0M504.9 416.3h0M505.2 411.8h0M505.4 413.6h0M505.6 408.4h0M505.9 410.2h0M506.1 397.9h0M506.3 406.4h0M506.6 394.8h0M506.8 402.4h0M507 405h0M507.3 404.8h0M507.5 399.8h0M507.8 415.5h0M508 413.5h0M508.2 403.3h0M508.5 398.6h0M508.7 403.6h0M508.9 413.1h0M509.2 394.1h0M509.4 412.2h0M509.6 405.9h0M509.9 404.1h0M510.1 413.6h0M510.4 406.9h0M510.6 404.4h0M510.8 415h0M511.1 396.1h0M511.3 417.5h0" stroke="#151515" stroke-width="2.9" stroke-linecap="round" fill="none"/>
<path d="M294.4 250.4h0M294.6 250.9h0M294.7 251.3h0M294.8 251.4h0M294.9 251.2h0M295 251.8h0M295.1 253.3h0M295.3 252.3h0M295.4 252.9h0M295.5 253h0M295.6 253.5h0M295.7 254h0M295.9 254.7h0M296 254.7h0M296.1 255.1h0M296.2 255.2h0M296.3 256.1h0M296.4 255.4h0M296.6 256.8h0M296.7 258h0M296.8 256.9h0M296.9 257.7h0M297 260.1h0M297.2 257.7h0M297.3 257.6h0M297.4 258.8h0M297.5 260.8h0M297.6 261.3h0M297.7 259.2h0M297.9 260.9h0M298 260.8h0M298.1 260.6h0M298.2 259.9h0M298.3 262.5h0M298.5 261.4h0M298.6 262.6h0M298.7 262.7h0M298.8 264.5h0M298.9 264.2h0M299 262.7h0M299.2 263.7h0M299.3 265h0M299.4 263.4h0M299.5 264.5h0M299.6 265.3h0M299.7 264h0M299.9 264.7h0M300 264.5h0M300.1 266.5h0M300.2 266.1h0M300.3 267.6h0M300.5 267.2h0M300.6 267.9h0M300.7 267.6h0M300.8 268.6h0M300.9 268.2h0M301 267.7h0M301.2 269.9h0M301.3 270h0M301.4 271.4h0M301.5 269.5h0M301.6 269.4h0M301.8 268.9h0M301.9 266.9h0M302 269.5h0M302.1 271.4h0M302.2 270.4h0M302.3 269.1h0M302.5 272.3h0M302.6 271.5h0M302.7 272h0M302.8 272.1h0M302.9 272.7h0M303.1 273.5h0M303.2 271.6h0M303.3 273.4h0M303.4 273.3h0M303.5 275.2h0M303.6 273.3h0M303.8 276.2h0M303.9 275.4h0M304 276.7h0M304.1 274.6h0M304.2 276.4h0M304.4 276.2h0M304.5 274.5h0M304.6 276.1h0M304.7 276.1h0M304.8 275.8h0M304.9 276.3h0M305.1 275.8h0M305.2 277h0M305.3 278.1h0M305.4 277.2h0M305.5 276.6h0M305.7 279.6h0M305.8 278.3h0M305.9 279h0M306 279h0M306.1 278.9h0M306.2 280.3h0M306.4 279.3h0M306.5 280.2h0M306.6 278.8h0M306.7 278.8h0M306.8 280.4h0M307 283.3h0M307.1 281.5h0M307.2 283.8h0M307.3 282.3h0M307.4 282.6h0M307.5 281.6h0M307.7 282.5h0M307.8 284.8h0M307.9 284.3h0M308 282.5h0M308.1 282.9h0M308.2 285.2h0M308.4 283.3h0M308.5 285.2h0M308.6 283.3h0M308.7 285.3h0M308.8 286.6h0M309 286h0M309.1 285.5h0M309.2 285.7h0M309.3 285.6h0M309.4 285.9h0M309.5 287.6h0M309.7 287.8h0M309.8 287.1h0M309.9 285.3h0M310 286.4h0M310.1 287.7h0M310.3 287.6h0M310.4 286h0M310.5 288.8h0M310.6 291.5h0M310.7 286.8h0M310.8 288.7h0M311 290.9h0M311.1 288.5h0M311.2 288.7h0M311.3 289.7h0M311.4 290.5h0M311.6 289.4h0M311.7 291.5h0M311.8 287.8h0M311.9 291.5h0M312 291.3h0M312.1 290.8h0M312.3 291.8h0M312.4 291.5h0M312.5 293.5h0M312.6 291.3h0M312.7 292.1h0M312.9 290.4h0M313 291h0M313.1 292.4h0M313.2 290.8h0M313.3 292h0M313.4 291.5h0M313.6 292.9h0M313.7 294h0M313.8 295.4h0M313.9 291.4h0M314 294.2h0M314.2 295.9h0M314.3 296.9h0M314.4 297.2h0M314.5 293.2h0M314.6 294.7h0M314.7 296.6h0M314.9 297.3h0M315 296.6h0M315.1 296.7h0M315.2 296.9h0M315.3 295.6h0M315.4 297.2h0M315.6 298.4h0M315.7 296.9h0M315.8 299.4h0M315.9 293.4h0M316 297.5h0M316.2 300.9h0M316.3 299.8h0M316.4 300.9h0M316.5 299h0M316.6 297.2h0M316.7 298.4h0M316.9 301.9h0M317 296.7h0M317.1 298.3h0M317.2 297.3h0M317.3 299.4h0M317.5 299.8h0M317.6 301.6h0M317.7 299.5h0M317.8 303.9h0M317.9 302.3h0M318 300.7h0M318.2 300h0M318.3 299.4h0M318.4 302.3h0M318.5 305.6h0M318.6 302.2h0M318.8 300.9h0M318.9 302.7h0M319 302.2h0M319.1 301.7h0M319.2 300.2h0M319.3 303.5h0M319.5 306.4h0M319.6 306.2h0M319.7 305.9h0M319.8 304.8h0M319.9 305.4h0M320.1 306.6h0M320.2 304.9h0M320.3 305.7h0M320.4 304.7h0M320.5 307.6h0M320.6 304.1h0M320.8 307.2h0M320.9 307.7h0M321 307.9h0M321.1 307.8h0M321.2 305.9h0M321.4 305.9h0M321.5 306.4h0M321.6 306.6h0M321.7 305.5h0M321.8 306.9h0M321.9 306.7h0M322.1 306.3h0M322.2 309h0M322.3 307.1h0M322.4 309.1h0M322.5 311.6h0M322.7 312.2h0M322.8 309.3h0M322.9 311.4h0M323 310.1h0M323.1 314.4h0M323.2 313.1h0M323.4 312.3h0M323.5 310.1h0M323.6 310.1h0M323.7 311.8h0M323.8 310.9h0M323.9 310.6h0M324.1 312.7h0M324.2 309h0M324.3 307.7h0M324.4 309.8h0M324.5 309.7h0M324.7 312h0M324.8 310.7h0M324.9 312.2h0M325 308.7h0M325.1 315.9h0M325.2 313.9h0M325.4 311.5h0M325.5 314.1h0M325.6 316.2h0M325.7 315.6h0M325.8 313.8h0M326 315.5h0M326.1 316.2h0M326.2 312.1h0M326.3 311.8h0M326.4 313.7h0M326.5 317.2h0M326.7 318.4h0M326.8 315.7h0M326.9 318.8h0M327 317.9h0M327.1 315.9h0M327.3 314.6h0M327.4 315h0M327.5 316.7h0M327.6 319.7h0M327.7 318.7h0M327.8 314.3h0M328 314.6h0M328.1 319.2h0M328.2 318h0M328.3 315.7h0M328.4 319.4h0M328.6 321.1h0M328.7 320.1h0M328.8 318.7h0M328.9 321.6h0M329 318h0M329.1 317.7h0M329.3 317.1h0M329.4 323.6h0M329.5 324.3h0M329.6 319.6h0M329.7 321.2h0M329.9 321.1h0M330 322.3h0M330.1 323.1h0M330.2 322.1h0M330.3 320.5h0M330.4 319.7h0M330.6 318.7h0M330.7 315.2h0M330.8 321.2h0M330.9 319.6h0M331 321.8h0M331.2 321.7h0M331.3 319.7h0M331.4 321.1h0M331.5 323.4h0M331.6 323h0M331.7 320.7h0M331.9 321.1h0M332 324.4h0M332.1 323.8h0M332.2 324.1h0M332.3 323.2h0M332.4 325.5h0M332.6 324.1h0M332.7 330.2h0M332.8 323.1h0M332.9 322.7h0M333 328.6h0M333.2 324.5h0M333.3 323h0M333.4 326.1h0M333.5 319.5h0M333.6 326.4h0M333.7 325.6h0M333.9 326.3h0M334 323.8h0M334.1 329.3h0M334.2 326.9h0M334.3 326.3h0M334.5 327.4h0M334.6 324.5h0M334.7 326.5h0M334.8 323.1h0M334.9 324.3h0M335 328h0M335.2 327.7h0M335.3 329.5h0M335.4 326h0M335.5 327.6h0M335.6 326.3h0M335.8 328.9h0M335.9 330.4h0M336 331.3h0M336.1 330.2h0M336.2 326.7h0M336.3 329.5h0M336.5 326.4h0M336.6 324.2h0M336.7 329.9h0M336.8 329.8h0M336.9 331.7h0M337.1 332.1h0M337.2 326.8h0M337.3 327.8h0M337.4 330.3h0M337.5 330.7h0M337.6 331.8h0M337.8 327.3h0M337.9 330.3h0M338 332.8h0M338.1 336.4h0M338.2 328h0M338.4 336h0M338.5 330.9h0M338.6 327.9h0M338.7 335.7h0M338.8 329.2h0M338.9 329.1h0M339.1 334.5h0M339.2 335.5h0M339.3 332.9h0M339.4 330.9h0M339.5 328.9h0M339.7 333.5h0M339.8 326.8h0M339.9 329.4h0M340 336.6h0M340.1 335.6h0M340.2 337.4h0M340.4 335.3h0M340.5 331h0M340.6 335.7h0M340.7 329.3h0M340.8 336.7h0M340.9 338.8h0M341.1 332.1h0M341.2 338.1h0M341.3 335.4h0M341.4 334.9h0M341.5 329.8h0M341.7 335.2h0M341.8 338.4h0M341.9 330.9h0M342 334.7h0M342.1 334.2h0M342.2 331.6h0M342.4 339.7h0M342.5 336.8h0M342.6 337h0M342.7 339.9h0M342.8 334.9h0M343 347.1h0M343.1 336h0M343.2 334.1h0M343.3 339.6h0M343.4 339h0M343.5 335.1h0M343.7 335.4h0M343.8 340.9h0M343.9 339.4h0M344 339.9h0M344.1 341.5h0M344.3 337.1h0M344.4 343h0M344.5 339.3h0M344.6 341.6h0M344.7 336.7h0M344.8 342h0M345 340.7h0M345.1 347.8h0M345.2 339.7h0M345.3 345.1h0M345.4 342.5h0M345.6 345.6h0M345.7 341.5h0M345.8 342.4h0M345.9 334h0M346 337.1h0M346.1 344.7h0M346.3 342.8h0M346.4 344.1h0M346.5 340.9h0M346.6 344.4h0M346.7 340.9h0M346.9 342h0M347 346.2h0M347.1 345.9h0M347.2 341.2h0M347.3 342.9h0M347.4 343.6h0M347.6 342.5h0M347.7 342.8h0M347.8 340.2h0M347.9 345.3h0M348 340.1h0M348.1 340.5h0M348.3 348h0M348.4 350h0M348.5 350.2h0M348.6 345.4h0M348.7 342.6h0M348.9 347h0M349 349.8h0M349.1 345.2h0M349.2 343.6h0M349.3 339.4h0M349.4 339.5h0M349.6 351.1h0M349.7 340.5h0M349.8 343.3h0M349.9 344.7h0M350 346.7h0M350.2 341.5h0M350.3 348h0M350.4 348.2h0M350.5 346.6h0M350.6 344.3h0M350.7 345.3h0M350.9 340h0M351 349h0M351.1 345.1h0M351.2 342.3h0M351.3 347h0M351.5 349h0M351.6 348.6h0M351.7 349.7h0M351.8 351.7h0M351.9 345.9h0M352 348.5h0M352.2 348.9h0M352.3 342.9h0M352.4 352h0M352.5 347.1h0M352.6 349.3h0M352.8 349.6h0M352.9 345.7h0M353 351.7h0M353.1 352.4h0M353.2 349.6h0M353.3 338.7h0M353.5 354.1h0M353.6 348.8h0M353.7 347.1h0M353.8 347.5h0M353.9 345.8h0M354.1 348.5h0M354.2 352.2h0M354.3 346h0M354.4 350.9h0M354.5 348.1h0M354.6 349.4h0M354.8 349.1h0M354.9 351.8h0M355 354.5h0M355.1 350.8h0M355.2 354.3h0M355.4 356.6h0M355.5 345.8h0M355.6 354.2h0M355.7 350.3h0M355.8 350.9h0M355.9 355.3h0M356.1 350.9h0M356.2 349.5h0M356.3 356.8h0M356.4 356.1h0M356.5 353.9h0M356.6 363.1h0M356.8 348.8h0M356.9 346.5h0M357 352h0M357.1 348.5h0M357.2 354.4h0M357.4 350.9h0M357.5 350.9h0M357.6 353.4h0M357.7 350.2h0M357.8 346.2h0M357.9 350.9h0M358.1 356.5h0M358.2 354.8h0M358.3 357.7h0M358.4 360.7h0M358.5 357.7h0M358.7 355.5h0M358.8 351.5h0M358.9 356.4h0M359 361h0M359.1 360.4h0M359.2 358.6h0M359.4 351.9h0M359.5 357.5h0M359.6 358.1h0M359.7 360.2h0M359.8 350.4h0M360 352.8h0M360.1 356.2h0M360.2 356.3h0M360.3 353.5h0M360.4 358h0M360.5 354.9h0M360.7 360.7h0M360.8 354.4h0M360.9 357.3h0M361 348.1h0M361.1 360h0M361.3 363.2h0M361.4 359.8h0M361.5 356.3h0M361.6 362.1h0M361.7 355h0M361.8 351.5h0M362 358.4h0M362.1 359.9h0M362.2 354.6h0M362.3 352.4h0M362.4 361h0M362.6 362.3h0M362.7 361.1h0M362.8 358.5h0M362.9 358.3h0M363 365.1h0M363.1 361.8h0M363.3 354.8h0M363.4 354.2h0M363.5 361.4h0M363.6 362h0M363.7 356.5h0M363.9 356h0M364 363.3h0M364.1 358h0M364.2 362.9h0M364.3 354.9h0M364.4 355.5h0M364.6 352.5h0M364.7 359.7h0M364.8 358.3h0M364.9 353h0M365 360.8h0M365.1 358h0M365.3 359.4h0M365.4 366.4h0M365.5 364.7h0M365.6 362.8h0M365.7 359.4h0M365.9 355.8h0M366 358.2h0M366.1 359.5h0M366.2 366.6h0M366.3 357.3h0M366.4 359h0M366.6 361.4h0M366.7 363.3h0M366.8 366.4h0M366.9 367.5h0M367 361.2h0M367.2 370.3h0M367.3 365h0M367.4 358.7h0M367.5 358h0M367.6 360.5h0M367.7 361.4h0M367.9 366h0M368 359.1h0M368.1 360.3h0M368.2 359.1h0M368.3 364.1h0M368.5 356.6h0M368.6 365.6h0M368.7 359.7h0M368.8 362.4h0M368.9 365.4h0M369 364.9h0M369.2 376h0M369.3 359.7h0M369.4 354.5h0M369.5 358.1h0M369.6 367.7h0M369.8 359.3h0M369.9 368.8h0M370 363.3h0M370.1 367.7h0M370.2 357.6h0M370.3 369.3h0M370.5 369.9h0M370.6 360.6h0M370.7 370.9h0M370.8 376.9h0M370.9 365.1h0M371.1 360.9h0M371.2 362.6h0M371.3 364.1h0M371.4 370.1h0M371.5 371.4h0M371.6 363.8h0M371.8 364.7h0M371.9 359.5h0M372 363.5h0M372.1 368.2h0M372.2 356.9h0M372.4 369.4h0M372.5 370.4h0M372.6 372h0M372.7 370.8h0M372.8 359.3h0M372.9 365.4h0M373.1 362h0M373.2 358.7h0M373.3 363.4h0M373.4 360.6h0M373.5 376.1h0M373.6 370.7h0M373.8 371.5h0M373.9 362.2h0M374 374h0M374.1 365.9h0M374.2 371.7h0M374.4 363h0M374.5 370.8h0M374.6 360.1h0M374.7 367.3h0M374.8 367h0M374.9 361.8h0M375.1 368.5h0M375.2 365.7h0M375.3 372.9h0M375.4 372.1h0M375.5 374.9h0M375.7 367.9h0M375.8 375h0M375.9 373.8h0M376 372.6h0M376.1 376.8h0M376.2 362h0M376.4 375.7h0M376.5 371.2h0M376.6 367.6h0M376.7 368.8h0M376.8 374.6h0M377 375.6h0M377.1 373.4h0M377.2 364.4h0M377.3 363h0M377.4 370.4h0M377.5 373.4h0M377.7 367h0M377.8 374.7h0M377.9 373.5h0M378 373h0M378.1 367h0M378.3 376.9h0M378.4 375.7h0M378.5 377.7h0M378.6 373h0M378.7 372.7h0M378.8 373.1h0M379 375.6h0M379.1 370.8h0M379.2 365.9h0M379.3 374.4h0M379.4 374.9h0M379.6 365.6h0M379.7 368.3h0M379.8 373.9h0M379.9 373.6h0M380 373h0M380.1 380.9h0M380.3 367.7h0M380.4 379h0M380.5 371.3h0M380.6 373.8h0M380.7 366.4h0M380.8 372.8h0M381 370.1h0M381.1 372.3h0M381.2 373.8h0M381.3 375.4h0M381.4 377.3h0M381.6 373.1h0M381.7 368.7h0M381.8 378.5h0M381.9 373.8h0M382 370.4h0M382.1 380.6h0M382.3 375.1h0M382.4 377.5h0M382.5 365.2h0M382.6 370.7h0M382.7 384.3h0M382.9 376.7h0M383 376.7h0M383.1 370.6h0M383.2 373.6h0M383.3 376.3h0M383.4 374.1h0M383.6 374h0M383.7 383.4h0M383.8 370.6h0M383.9 372.5h0M384 378h0M384.2 377.6h0M384.3 375h0M384.4 371.3h0M384.5 371.4h0M384.6 376.5h0M384.7 368.3h0M384.9 374.2h0M385 373.8h0M385.1 374.2h0M385.2 384.3h0M385.3 374.9h0M385.5 380.2h0M385.6 384.1h0M385.7 378.5h0M385.8 375.9h0M385.9 369.4h0M386 384.5h0M386.2 370.3h0M386.3 365.4h0M386.4 381.7h0M386.5 368.5h0M386.6 370h0M386.8 372.6h0M386.9 370.1h0M387 365h0M387.1 377.4h0M387.2 379h0M387.3 380.5h0M387.5 376.4h0M387.6 374.5h0M387.7 373.9h0M387.8 383.1h0M387.9 381.2h0M388.1 374.5h0M388.2 378.5h0M388.3 370.8h0M388.4 379.6h0M388.5 371.4h0M388.6 376.3h0M388.8 375.9h0M388.9 363.2h0M389 380.7h0M389.1 377.1h0M389.2 373.2h0M389.3 373.6h0M389.5 376.9h0M389.6 376.6h0M389.7 379.9h0M389.8 378.3h0M389.9 380.8h0M390.1 379h0M390.2 370.5h0M390.3 370.5h0M390.4 380.3h0M390.5 380h0M390.6 378h0M390.8 382.2h0M390.9 374.4h0M391 374h0M391.1 381.7h0M391.2 374.1h0M391.4 371.3h0M391.5 374.3h0M391.6 380.1h0M391.7 386.8h0M391.8 376h0M391.9 384.5h0M392.1 376.4h0M392.2 376.5h0M392.3 374.4h0M392.4 383h0M392.5 376.4h0M392.7 384h0M392.8 382.4h0M392.9 388.2h0M393 384.1h0M393.1 379.6h0M393.2 373.2h0M393.4 390.4h0M393.5 381.1h0M393.6 380h0M393.7 379.8h0M393.8 377.2h0M394 377.1h0M394.1 381.6h0M394.2 375.8h0M394.3 379.2h0M394.4 391.8h0M394.5 379.4h0M394.7 378.7h0M394.8 384.9h0M394.9 375.2h0M395 387.6h0M395.1 380.4h0M395.3 374.4h0M395.4 379.7h0M395.5 376.9h0M395.6 384.2h0M395.7 378.2h0M395.8 384.4h0M396 370.7h0M396.1 378.5h0M396.2 383.8h0M396.3 383.5h0M396.4 387.6h0M396.6 384.9h0M396.7 385.1h0M396.8 381.1h0M396.9 382.3h0M397 385.9h0M397.1 382.1h0M397.3 368h0M397.4 373.2h0M397.5 378h0M397.6 385h0M397.7 381.8h0M397.8 384.9h0M398 386.8h0M398.1 384.5h0M398.2 376.8h0M398.3 386.1h0M398.4 374.7h0M398.6 375.1h0M398.7 379.5h0M398.8 370h0M398.9 390.6h0M399 394.2h0M399.1 381h0M399.3 379.9h0M399.4 371.1h0M399.5 384.7h0M399.6 378.3h0M399.7 375.7h0M399.9 374.8h0M400 392.7h0M400.1 380.9h0M400.2 381.4h0M400.3 378.9h0M400.4 373.2h0M400.6 389.7h0M400.7 386.5h0M400.8 379.2h0M400.9 375.3h0M401 377.1h0M401.2 386h0M401.3 385.1h0M401.4 384h0M401.5 388.8h0M401.6 379.7h0M401.7 390.1h0M401.9 383.6h0M402 378.9h0M402.1 385.5h0M402.2 384.5h0M402.3 379.3h0M402.5 392.3h0M402.6 374.5h0M402.7 384.4h0M402.8 385.3h0M402.9 379.5h0M403 383.5h0M403.2 390.1h0M403.3 377.5h0M403.4 377.7h0M403.5 381.7h0M403.6 386.2h0M403.8 389.4h0M403.9 386.6h0M404 377.8h0M404.1 389.5h0M404.2 387.5h0M404.3 389.2h0M404.5 398.5h0M404.6 375h0M404.7 380.3h0M404.8 381.5h0M404.9 383.8h0M405 378.2h0M405.2 378.3h0M405.3 386.2h0M405.4 372.9h0M405.5 377.8h0M405.6 384.2h0M405.8 388h0M405.9 385.6h0M406 393.8h0M406.1 385.8h0M406.2 387.9h0M406.3 388.5h0M406.5 384.6h0M406.6 377.5h0M406.7 382.9h0M406.8 395.5h0M406.9 379.9h0M407.1 387.9h0M407.2 381.7h0M407.3 376.7h0M407.4 384.5h0M407.5 379.3h0M407.6 387.4h0M407.8 371h0M407.9 375.8h0M408 384.7h0M408.1 396.3h0M408.2 385.2h0M408.4 392.7h0M408.5 383.6h0M408.6 382.2h0M408.7 389.3h0M408.8 383.3h0M408.9 387.1h0M409.1 391.7h0M409.2 384.3h0M409.3 384.6h0M409.4 382.1h0M409.5 387.3h0M409.7 388.6h0M409.8 390.8h0M409.9 389h0M410 396h0M410.1 386.4h0M410.2 386.4h0M410.4 394.2h0M410.5 392.5h0M410.6 386.3h0M410.7 384.4h0M410.8 379.2h0M411 385.4h0M411.1 390.6h0M411.2 372.7h0M411.3 380.4h0M411.4 381.5h0M411.5 382h0M411.7 386.6h0M411.8 384.4h0M411.9 387.1h0M412 388h0M412.1 393.6h0M412.3 385.3h0M412.4 388.4h0M412.5 385.5h0M412.6 387.6h0M412.7 385h0M412.8 380.9h0M413 388.9h0M413.1 392.5h0M413.2 382.1h0M413.3 386.8h0M413.4 386.9h0M413.5 376.1h0M413.7 397.2h0M413.8 394.7h0M413.9 393.3h0M414 392.4h0M414.1 382.8h0M414.3 374.6h0M414.4 387h0M414.5 387.8h0M414.6 386h0M414.7 385.2h0M414.8 399.1h0M415 391.6h0M415.1 387.4h0M415.2 385h0M415.3 399.4h0M415.4 392h0M415.6 388.2h0M415.7 381h0M415.8 379.7h0M415.9 373.5h0M416 386.5h0M416.1 389.4h0M416.3 387h0M416.4 387.9h0M416.5 389.2h0M416.6 392.3h0M416.7 378.8h0M416.9 381.6h0M417 392.7h0M417.1 389.6h0M417.2 390.8h0M417.3 383h0M417.4 396.1h0M417.6 388.9h0M417.7 387.1h0M417.8 383.8h0M417.9 389.4h0M418 389.3h0M418.2 387.9h0M418.3 397h0M418.4 394.8h0M418.5 388.6h0M418.6 385.7h0M418.7 386.5h0M418.9 390.6h0M419 374.4h0M419.1 390.5h0M419.2 387.8h0M419.3 400.1h0M419.5 391.3h0M419.6 388.2h0M419.7 389.4h0M419.8 385.9h0M419.9 385.6h0M420 388.9h0M420.2 378.9h0M420.3 389.4h0M420.4 380.7h0M420.5 385.7h0M420.6 385.7h0M420.8 393.2h0M420.9 397.7h0M421 397h0M421.1 387.1h0M421.2 388.5h0M421.3 389.9h0M421.5 390.6h0M421.6 395.7h0M421.7 393.4h0M421.8 389.9h0M421.9 400h0M422 394.7h0M422.2 399.6h0M422.3 389.8h0M422.4 393.2h0M422.5 391.9h0M422.6 402.8h0M422.8 384.9h0M422.9 391.7h0M423 382.8h0M423.1 392.4h0M423.2 399.5h0M423.3 396.5h0M423.5 392.1h0M423.6 389.1h0M423.7 394.6h0M423.8 385.3h0M423.9 384.4h0M424.1 384h0M424.2 392.8h0M424.3 383.9h0M424.4 393.9h0M424.5 396.2h0M424.6 394.5h0M424.8 390.4h0M424.9 393.2h0M425 384.8h0M425.1 392.1h0M425.2 399.8h0M425.4 398.7h0M425.5 382.9h0M425.6 390.8h0M425.7 389.4h0M425.8 396h0M425.9 392.7h0M426.1 390.8h0M426.2 388h0M426.3 392.1h0M426.4 390.6h0M426.5 391.7h0M426.7 405.5h0M426.8 385h0M426.9 393.6h0M427 393.9h0M427.1 402h0M427.2 392.9h0M427.4 398h0M427.5 397.3h0M427.6 400.3h0M427.7 395.4h0M427.8 396.2h0M428 392.1h0M428.1 386.4h0M428.2 385.8h0M428.3 394.6h0M428.4 392.6h0M428.5 394.8h0M428.7 380h0M428.8 390.8h0M428.9 392.5h0M429 390h0M429.1 390.6h0M429.3 382.6h0M429.4 391.4h0M429.5 398.5h0M429.6 386h0M429.7 394.8h0M429.8 388.2h0M430 393h0M430.1 399.5h0M430.2 392.4h0M430.3 394.1h0M430.4 395.5h0M430.5 392.1h0M430.7 398.8h0M430.8 381.9h0M430.9 390.7h0M431 382.4h0M431.1 384.5h0M431.3 392.4h0M431.4 386.2h0M431.5 390.4h0M431.6 399.6h0M431.7 395.4h0M431.8 412.2h0M432 392.1h0M432.1 393h0M432.2 379.8h0M432.3 405.9h0M432.4 390.4h0M432.6 395.3h0M432.7 393h0M432.8 389.5h0M432.9 382.7h0M433 396.9h0M433.1 389.3h0M433.3 383.9h0M433.4 395h0M433.5 382.5h0M433.6 389.7h0M433.7 382.1h0M433.9 391.4h0M434 384.1h0M434.1 408.2h0M434.2 398.9h0M434.3 395.5h0M434.4 394.8h0M434.6 396.5h0M434.7 397.5h0M434.8 394.5h0M434.9 387.4h0M435 394h0M435.2 385h0M435.3 391.3h0M435.4 395.4h0M435.5 387.6h0M435.6 395.7h0M435.7 390.9h0M435.9 406h0M436 406.1h0M436.1 396.2h0M436.2 396.9h0M436.3 394.4h0M436.5 395.4h0M436.6 392.4h0M436.7 412.4h0M436.8 394.9h0M436.9 398.3h0M437 400.8h0M437.2 394.1h0M437.3 401.7h0M437.4 394.3h0M437.5 389.4h0M437.6 392.2h0M437.7 391.1h0M437.9 411.8h0M438 395h0M438.1 415h0M438.2 401h0M438.3 398.8h0M438.5 392.6h0M438.6 397.8h0M438.7 394.6h0M438.8 399.1h0M438.9 401.6h0M439 394.5h0M439.2 399.2h0M439.3 402.5h0M439.4 397.2h0M439.5 389.6h0M439.6 394.8h0M439.8 390.7h0M439.9 400.7h0M440 396.6h0M440.1 397.2h0M440.2 404.9h0M440.3 399.5h0M440.5 396.4h0M440.6 386.2h0M440.7 393h0M440.8 392.1h0M440.9 394.8h0M441.1 389.3h0M441.2 399.2h0M441.3 402.5h0M441.4 394.1h0M441.5 388.3h0M441.6 396.6h0M441.8 394.8h0M441.9 414.1h0M442 410.1h0M442.1 392.3h0M442.2 389h0M442.4 396.3h0M442.5 384h0M442.6 390.5h0M442.7 400.1h0M442.8 395.6h0M442.9 396.2h0M443.1 395.2h0M443.2 389.3h0M443.3 394.5h0M443.4 399h0M443.5 399.4h0M443.7 391.2h0M443.8 397.1h0M443.9 401.6h0M444 398.1h0M444.1 404.8h0M444.2 397h0M444.4 388.4h0M444.5 396.9h0M444.6 397.8h0M444.7 400.6h0M444.8 399.7h0M445 405.1h0M445.1 400.4h0M445.2 398.3h0M445.3 394.6h0M445.4 396.1h0M445.5 404.2h0M445.7 407.4h0M445.8 399.3h0M445.9 398.5h0M446 396.5h0M446.1 398.8h0M446.2 397.9h0M446.4 395.1h0M446.5 402.4h0M446.6 392h0M446.7 398.6h0M446.8 398.7h0M447 401.3h0M447.1 397.1h0M447.2 392.9h0M447.3 397.4h0M447.4 392.6h0M447.5 396.2h0M447.7 394.1h0M447.8 410.8h0M447.9 386.8h0M448 391.9h0M448.1 404.6h0M448.3 397.1h0M448.4 391.1h0M448.5 401.6h0M448.6 409.3h0M448.7 398.5h0M448.8 403h0M449 391.4h0M449.1 395.4h0M449.2 399.6h0M449.3 399.5h0M449.4 395.1h0M449.6 395.6h0M449.7 395.4h0M449.8 394.6h0M449.9 395.9h0M450 395.8h0M450.1 401.2h0M450.3 391.4h0M450.4 401.5h0M450.5 408h0M450.6 399.8h0M450.7 396.5h0M450.9 394.1h0M451 396.3h0M451.1 392.8h0M451.2 400.4h0M451.3 398.6h0M451.4 403.2h0M451.6 400.6h0M451.7 403.5h0M451.8 407.2h0M451.9 404.5h0M452 413.5h0M452.2 405.6h0M452.3 397.3h0M452.4 402.9h0M452.5 403.8h0M452.6 400.4h0M452.7 403.8h0M452.9 416.4h0M453 407h0M453.1 399.5h0M453.2 395.2h0M453.3 397.9h0M453.5 390.1h0M453.6 386.2h0M453.7 394.6h0M453.8 397.3h0M453.9 396.4h0M454 406.3h0M454.2 394.4h0M454.3 393.7h0M454.4 410.6h0M454.5 392.1h0M454.6 404.2h0M454.7 399.7h0M454.9 386.9h0M455 405.5h0M455.1 398.6h0M455.2 402.4h0M455.3 401.6h0M455.5 402.3h0M455.6 405.3h0M455.7 412h0M455.8 402h0M455.9 399.6h0M456 405.4h0M456.2 403.1h0M456.3 387.4h0M456.4 403.1h0M456.5 398.7h0M456.6 399.5h0M456.8 419.4h0M456.9 410.8h0M457 403.5h0M457.1 398.5h0M457.2 398.7h0M457.3 414.2h0M457.5 400.4h0M457.6 405.1h0M457.7 403.1h0M457.8 398.4h0M457.9 399.8h0M458.1 404.3h0M458.2 396h0M458.3 399h0M458.4 406.2h0M458.5 401.2h0M458.6 408.8h0M458.8 418h0M458.9 399h0M459 397.2h0M459.1 396.9h0M459.2 405.5h0M459.4 407.1h0M459.5 402.1h0M459.6 401.1h0M459.7 411.1h0M459.8 410.2h0M459.9 391h0M460.1 401.4h0M460.2 391.3h0M460.3 393.8h0M460.4 398.5h0M460.5 395.9h0M460.7 405.1h0M460.8 399.8h0M460.9 400.8h0M461 401.6h0M461.1 411.2h0M461.2 403.7h0M461.4 407h0M461.5 405h0M461.6 408.6h0M461.7 419.4h0M461.8 402h0M462 409h0M462.1 403.2h0M462.2 394h0M462.3 395.8h0M462.4 400.1h0M462.5 405h0M462.7 398.4h0M462.8 410.3h0M462.9 404.7h0M463 401.2h0M463.1 396.2h0M463.2 406.3h0M463.4 405.8h0M463.5 396.5h0M463.6 409.6h0M463.7 409.1h0M463.8 410.4h0M464 402.5h0M464.1 407.6h0M464.2 392h0M464.3 404.9h0M464.4 400.5h0M464.5 402.2h0M464.7 405.1h0M464.8 399.1h0M464.9 401.8h0M465 397.6h0M465.1 398.6h0M465.3 396.9h0M465.4 420.7h0M465.5 409.4h0M465.6 397.8h0M465.7 394.5h0M465.8 401.7h0M466 404.9h0M466.1 404.2h0M466.2 396.8h0M466.3 402.9h0M466.4 398.5h0M466.6 400.7h0M466.7 402.2h0M466.8 400.7h0M466.9 405.3h0M467 400.3h0M467.1 410.9h0M467.3 403.6h0M467.4 397.1h0M467.5 408.2h0M467.6 407.6h0M467.7 404.5h0M467.9 403.1h0M468 404.9h0M468.1 407.6h0M468.2 402.5h0M468.3 407.5h0M468.4 400.3h0M468.6 405.9h0M468.7 398.1h0M468.8 405.1h0M468.9 416.3h0M469 400.6h0M469.2 405.3h0M469.3 418.7h0M469.4 402.9h0M469.5 402.1h0M469.6 406.7h0M469.7 403.3h0M469.9 420.3h0M470 413.4h0M470.1 404.1h0M470.2 408.2h0M470.3 412.3h0M470.4 408.6h0M470.6 409.4h0M470.7 402.7h0M470.8 405.8h0M470.9 398.6h0M471 408.4h0M471.2 406.1h0M471.3 406.2h0M471.4 394.4h0M471.5 409.3h0M471.6 412h0M471.7 411.3h0M471.9 406.6h0M472 411.1h0M472.1 404.5h0M472.2 401h0M472.3 404.1h0M472.5 400.7h0M472.6 413.4h0M472.7 391.7h0M472.8 405.7h0M472.9 400h0M473 401.6h0M473.2 408.1h0M473.3 404.1h0M473.4 410.1h0M473.5 403.7h0M473.6 403.8h0M473.8 404.9h0M473.9 410.8h0M474 400.9h0M474.1 402.8h0M474.2 401.6h0M474.3 402h0M474.5 398.1h0M474.6 402.8h0M474.7 406.7h0M474.8 411.7h0M474.9 406.8h0M475.1 401.4h0M475.2 411.8h0M475.3 395.6h0M475.4 407h0M475.5 398.3h0M475.6 403.8h0M475.8 397.6h0M475.9 396.7h0M476 401.7h0M476.1 413.6h0M476.2 406.4h0M476.4 409.2h0M476.5 402.9h0M476.6 404.7h0M476.7 400.7h0M476.8 401.7h0M476.9 403h0M477.1 419.7h0M477.2 406.4h0M477.3 401h0M477.4 403.9h0M477.5 400.3h0M477.7 407.5h0M477.8 406.2h0M477.9 406.1h0M478 408.5h0M478.1 407.8h0M478.2 412.4h0M478.4 401.2h0M478.5 408.8h0M478.6 404.1h0M478.7 409.8h0M478.8 402.5h0M478.9 396.7h0M479.1 403h0M479.2 401.9h0M479.3 399.6h0M479.4 403.2h0M479.5 411h0M479.8 408.7h0M479.9 412.2h0M480 410.5h0M480.1 407.7h0M480.2 410h0M480.4 403.1h0M480.5 398.7h0M480.6 397.6h0M480.7 410.1h0M480.8 412.3h0M481 403.8h0M481.1 405.5h0M481.2 393.6h0M481.3 409.1h0M481.4 404.8h0M481.5 395.9h0M481.7 407.9h0M481.8 408.5h0M481.9 409.7h0M482 404.9h0M482.1 406.8h0M482.3 401h0M482.4 412.7h0M482.6 412h0M482.7 408.3h0M482.8 404.5h0M483 412.3h0M483.1 402.3h0M483.2 407.6h0M483.3 406.5h0M483.4 405.1h0M483.6 406.7h0M483.7 409.4h0M483.8 403.9h0M483.9 403.3h0M484 404.8h0M484.3 400.8h0M484.4 407.2h0M484.5 396.9h0M484.6 405.3h0M484.7 403.3h0M484.9 406.4h0M485 408h0M485.1 406.9h0M485.2 405.5h0M485.3 412.3h0M485.4 402.9h0M485.6 399.5h0M485.7 404.4h0M485.8 409.2h0M485.9 414.9h0M486 416.4h0M486.2 407.7h0M486.3 411.7h0M486.4 414.1h0M486.5 403.5h0M486.6 413.5h0M486.7 408.2h0M486.9 405.4h0M487 408.8h0M487.1 409.4h0M487.2 395.8h0M487.3 406.4h0M487.4 407.1h0M487.6 402.4h0M487.7 406.9h0M487.8 404h0M487.9 401.9h0M488 405.4h0M488.2 395.8h0M488.3 408.1h0M488.4 408.7h0M488.5 407.6h0M488.6 408.8h0M488.7 403.7h0M488.9 403.1h0M489 397h0M489.1 397.1h0M489.2 402.1h0M489.3 410.6h0M489.5 405.8h0M489.6 412.8h0M489.7 409.9h0M489.9 402.9h0M490 400.4h0M490.2 398.5h0M490.3 407.2h0M490.4 409.4h0M490.5 418.4h0M490.8 410.5h0M490.9 403.1h0M491 407.8h0M491.1 401.1h0M491.2 406.2h0M491.3 408.8h0M491.5 396.6h0M491.6 413.6h0M491.7 397.4h0M491.8 406.6h0M491.9 403.7h0M492.1 410.7h0M492.2 401.7h0M492.3 403.7h0M492.5 415h0M492.6 410.7h0M492.8 402.7h0M492.9 408.1h0M493 397.8h0M493.1 402.3h0M493.2 408.5h0M493.4 410.4h0M493.5 404.5h0M493.6 410.1h0M493.7 410.6h0M493.8 401.3h0M493.9 407.6h0M494.1 406.1h0M494.2 413.7h0M494.3 399.9h0M494.4 408.6h0M494.5 405.5h0M494.6 416.8h0M494.8 394.5h0M494.9 415.1h0M495 405.3h0M495.1 409.1h0M495.2 398.6h0M495.4 399.5h0M495.5 405h0M495.6 406.7h0M495.7 393.6h0M495.8 402.8h0M495.9 403.9h0M496.1 405.4h0M496.3 407.8h0M496.4 404.9h0M496.5 399.9h0M496.7 397.9h0M496.8 406.7h0M496.9 413.8h0M497 406.3h0M497.1 411h0M497.2 400.4h0M497.4 411.1h0M497.5 405.2h0M497.6 406.9h0M497.7 409.7h0M497.8 410.3h0M498 407.7h0M498.1 408.3h0M498.2 408h0M498.3 402.7h0M498.4 404.8h0M498.5 406.4h0M498.7 414.8h0M498.8 400.2h0M498.9 406.9h0M499 411.5h0M499.1 409.9h0M499.3 401.6h0M499.4 399.9h0M499.5 403.6h0M499.6 407.9h0M499.7 410.6h0M499.8 405.3h0M500 407h0M500.1 404.3h0M500.2 402.1h0M500.3 412.7h0M500.4 415.4h0M500.6 405.6h0M500.7 402.1h0M500.8 409.7h0M500.9 398.8h0M501 399.5h0M501.1 407.1h0M501.3 415.8h0M501.4 404.4h0M501.5 406.7h0M501.6 414.4h0M501.7 400.3h0M501.9 398.3h0M502 417.6h0M502.1 411.6h0M502.2 404.4h0M502.3 409.1h0M502.4 411.1h0M502.6 405h0M502.7 419.5h0M502.8 397.9h0M502.9 414.8h0M503 408.4h0M503.1 407.4h0M503.3 407.8h0M503.4 403.1h0M503.5 405.4h0M503.6 403.8h0M503.7 398.9h0M503.9 409.5h0M504 399.5h0M504.1 401.4h0M504.2 416.5h0M504.3 403.7h0M504.4 414.3h0M504.6 413.2h0M504.7 407.5h0M504.8 414.4h0M504.9 403.4h0M505 401.7h0M505.2 403.9h0M505.3 404.4h0M505.4 408.9h0M505.5 416.5h0M505.6 401.9h0M505.7 404.8h0M505.9 406.1h0M506 407.6h0M506.1 404.5h0M506.2 413.4h0M506.3 404.2h0M506.5 401.3h0M506.6 415h0M506.7 413.6h0M506.8 420.9h0M506.9 401.6h0M507 407.1h0M507.2 410h0M507.3 414.4h0M507.4 414.9h0M507.5 404.8h0M507.6 406.8h0M507.9 421.9h0M508 404h0M508.1 404.5h0M508.2 405.5h0M508.3 407h0M508.5 396.9h0M508.6 404.3h0M508.7 410.2h0M508.8 408.7h0M508.9 410h0M509.1 410.2h0M509.2 409.2h0M509.3 411.8h0M509.4 406.5h0M509.5 419.6h0M509.6 412.9h0M509.8 408.2h0M509.9 397.4h0M510 410.8h0M510.1 410.4h0M510.2 399.5h0M510.4 408.6h0M510.5 406.1h0M510.6 408.2h0M510.7 403.3h0M510.8 415h0M510.9 401.3h0M511.1 400.7h0M511.2 403.9h0M511.3 405.9h0" stroke="#ff2525" stroke-width="2.9" stroke-linecap="round" fill="none"/>
<path d="M294.5 249.5 L295.4 252.4 L296.3 255.2 L297.2 257.8 L298.1 260.3 L299 262.7 L299.9 264.9 L300.8 267.1 L301.7 269.2 L302.7 271.2 L303.6 273.1 L304.5 275 L305.4 276.8 L306.3 278.6 L307.2 280.4 L308.1 282.1 L309 283.9 L309.9 285.6 L310.8 287.2 L311.7 288.9 L312.6 290.5 L313.5 292.1 L314.4 293.7 L315.3 295.3 L316.2 296.8 L317.1 298.4 L318.1 299.9 L319 301.4 L319.9 302.9 L320.8 304.3 L321.7 305.8 L322.6 307.2 L323.5 308.6 L324.4 310 L325.3 311.3 L326.2 312.7 L327.1 314 L328 315.4 L328.9 316.7 L329.8 318 L330.7 319.3 L331.6 320.5 L332.5 321.8 L333.5 323.1 L334.4 324.3 L335.3 325.5 L336.2 326.7 L337.1 327.9 L338 329.1 L338.9 330.3 L339.8 331.5 L340.7 332.6 L341.6 333.7 L342.5 334.9 L343.4 336 L344.3 337.1 L345.2 338.2 L346.1 339.3 L347 340.3 L347.9 341.4 L348.9 342.4 L349.8 343.5 L350.7 344.5 L351.6 345.5 L352.5 346.5 L353.4 347.5 L354.3 348.5 L355.2 349.5 L356.1 350.4 L357 351.4 L357.9 352.3 L358.8 353.3 L359.7 354.2 L360.6 355.1 L361.5 356 L362.4 356.9 L363.3 357.8 L364.3 358.7 L365.2 359.6 L366.1 360.4 L367 361.3 L367.9 362.1 L368.8 362.9 L369.7 363.8 L370.6 364.6 L371.5 365.4 L372.4 366.2 L373.3 367 L374.2 367.8 L375.1 368.5 L376 369.3 L376.9 370.1 L377.8 370.8 L378.7 371.6 L379.7 372.3 L380.6 373.1 L381.5 373.8 L382.4 374.5 L383.3 375.2 L384.2 375.9 L385.1 376.6 L386 377.3 L386.9 378 L387.8 378.7 L388.7 379.3 L389.6 380 L390.5 380.7 L391.4 381.3 L392.3 382 L393.2 382.6 L394.1 383.2 L395.1 383.9 L396 384.5 L396.9 385.1 L397.8 385.7 L398.7 386.3 L399.6 386.9 L400.5 387.5 L401.4 388.1 L402.3 388.7 L403.2 389.2 L404.1 389.8 L405 390.4 L405.9 390.9 L406.8 391.5 L407.7 392 L408.6 392.5 L409.5 393.1 L410.4 393.6 L411.4 394.1 L412.3 394.6 L413.2 395.1 L414.1 395.6 L415 396.1 L415.9 396.6 L416.8 397.1 L417.7 397.6 L418.6 398 L419.5 398.5 L420.4 399 L421.3 399.4 L422.2 399.9 L423.1 400.3 L424 400.7 L424.9 401.2 L425.8 401.6 L426.8 402 L427.7 402.4 L428.6 402.8 L429.5 403.2 L430.4 403.6 L431.3 404 L432.2 404.4 L433.1 404.8 L434 405.2 L434.9 405.5 L435.8 405.9 L436.7 406.2 L437.6 406.6 L438.5 406.9 L439.4 407.3 L440.3 407.6 L441.2 407.9 L442.2 408.3 L443.1 408.6 L444 408.9 L444.9 409.2 L445.8 409.5 L446.7 409.8 L447.6 410.1 L448.5 410.4 L449.4 410.7 L450.3 411 L451.2 411.2 L452.1 411.5 L453 411.8 L453.9 412 L454.8 412.3 L455.7 412.5 L456.6 412.8 L457.6 413 L458.5 413.2 L459.4 413.4 L460.3 413.7 L461.2 413.9 L462.1 414.1 L463 414.3 L463.9 414.5 L464.8 414.7 L465.7 414.9 L466.6 415.1 L467.5 415.3 L468.4 415.4 L469.3 415.6 L470.2 415.8 L471.1 415.9 L472 416.1 L473 416.2 L473.9 416.4 L474.8 416.5 L475.7 416.7 L476.6 416.8 L477.5 416.9 L478.4 417.1 L479.3 417.2 L480.2 417.3 L481.1 417.4 L482 417.5 L482.9 417.6 L483.8 417.7 L484.7 417.8 L485.6 417.9 L486.5 418 L487.4 418.1 L488.4 418.1 L489.3 418.2 L490.2 418.3 L491.1 418.3 L492 418.4 L492.9 418.4 L493.8 418.5 L494.7 418.5 L495.6 418.6 L496.5 418.6 L497.4 418.6 L498.3 418.7 L499.2 418.7 L500.1 418.7 L501 418.7 L501.9 418.7 L502.8 418.7 L503.8 418.8 L504.7 418.7 L505.6 418.7 L506.5 418.7 L507.4 418.7 L508.3 418.7 L509.2 418.7 L510.1 418.7 L511 418.6" fill="none" stroke="#5a1420" stroke-width="2.8"/>
<path d="M294.5 249 L295.4 251.9 L296.3 254.7 L297.2 257.3 L298.1 259.8 L299 262.2 L299.9 264.4 L300.8 266.6 L301.7 268.7 L302.7 270.7 L303.6 272.6 L304.5 274.5 L305.4 276.3 L306.3 278.1 L307.2 279.9 L308.1 281.6 L309 283.4 L309.9 285.1 L310.8 286.7 L311.7 288.4 L312.6 290 L313.5 291.6 L314.4 293.2 L315.3 294.8 L316.2 296.3 L317.1 297.9 L318.1 299.4 L319 300.9 L319.9 302.4 L320.8 303.8 L321.7 305.3 L322.6 306.7 L323.5 308.1 L324.4 309.5 L325.3 310.8 L326.2 312.2 L327.1 313.5 L328 314.9 L328.9 316.2 L329.8 317.5 L330.7 318.8 L331.6 320 L332.5 321.3 L333.5 322.6 L334.4 323.8 L335.3 325 L336.2 326.2 L337.1 327.4 L338 328.6 L338.9 329.8 L339.8 331 L340.7 332.1 L341.6 333.2 L342.5 334.4 L343.4 335.5 L344.3 336.6 L345.2 337.7 L346.1 338.8 L347 339.8 L347.9 340.9 L348.9 341.9 L349.8 343 L350.7 344 L351.6 345 L352.5 346 L353.4 347 L354.3 348 L355.2 349 L356.1 349.9 L357 350.9 L357.9 351.8 L358.8 352.8 L359.7 353.7 L360.6 354.6 L361.5 355.5 L362.4 356.4 L363.3 357.3 L364.3 358.2 L365.2 359.1 L366.1 359.9 L367 360.8 L367.9 361.6 L368.8 362.4 L369.7 363.3 L370.6 364.1 L371.5 364.9 L372.4 365.7 L373.3 366.5 L374.2 367.3 L375.1 368 L376 368.8 L376.9 369.6 L377.8 370.3 L378.7 371.1 L379.7 371.8 L380.6 372.6 L381.5 373.3 L382.4 374 L383.3 374.7 L384.2 375.4 L385.1 376.1 L386 376.8 L386.9 377.5 L387.8 378.2 L388.7 378.8 L389.6 379.5 L390.5 380.2 L391.4 380.8 L392.3 381.5 L393.2 382.1 L394.1 382.7 L395.1 383.4 L396 384 L396.9 384.6 L397.8 385.2 L398.7 385.8 L399.6 386.4 L400.5 387 L401.4 387.6 L402.3 388.2 L403.2 388.7 L404.1 389.3 L405 389.9 L405.9 390.4 L406.8 391 L407.7 391.5 L408.6 392 L409.5 392.6 L410.4 393.1 L411.4 393.6 L412.3 394.1 L413.2 394.6 L414.1 395.1 L415 395.6 L415.9 396.1 L416.8 396.6 L417.7 397.1 L418.6 397.5 L419.5 398 L420.4 398.5 L421.3 398.9 L422.2 399.4 L423.1 399.8 L424 400.2 L424.9 400.7 L425.8 401.1 L426.8 401.5 L427.7 401.9 L428.6 402.3 L429.5 402.7 L430.4 403.1 L431.3 403.5 L432.2 403.9 L433.1 404.3 L434 404.7 L434.9 405 L435.8 405.4 L436.7 405.7 L437.6 406.1 L438.5 406.4 L439.4 406.8 L440.3 407.1 L441.2 407.4 L442.2 407.8 L443.1 408.1 L444 408.4 L444.9 408.7 L445.8 409 L446.7 409.3 L447.6 409.6 L448.5 409.9 L449.4 410.2 L450.3 410.5 L451.2 410.7 L452.1 411 L453 411.3 L453.9 411.5 L454.8 411.8 L455.7 412 L456.6 412.3 L457.6 412.5 L458.5 412.7 L459.4 412.9 L460.3 413.2 L461.2 413.4 L462.1 413.6 L463 413.8 L463.9 414 L464.8 414.2 L465.7 414.4 L466.6 414.6 L467.5 414.8 L468.4 414.9 L469.3 415.1 L470.2 415.3 L471.1 415.4 L472 415.6 L473 415.7 L473.9 415.9 L474.8 416 L475.7 416.2 L476.6 416.3 L477.5 416.4 L478.4 416.6 L479.3 416.7 L480.2 416.8 L481.1 416.9 L482 417 L482.9 417.1 L483.8 417.2 L484.7 417.3 L485.6 417.4 L486.5 417.5 L487.4 417.6 L488.4 417.6 L489.3 417.7 L490.2 417.8 L491.1 417.8 L492 417.9 L492.9 417.9 L493.8 418 L494.7 418 L495.6 418.1 L496.5 418.1 L497.4 418.1 L498.3 418.2 L499.2 418.2 L500.1 418.2 L501 418.2 L501.9 418.2 L502.8 418.2 L503.8 418.3 L504.7 418.2 L505.6 418.2 L506.5 418.2 L507.4 418.2 L508.3 418.2 L509.2 418.2 L510.1 418.2 L511 418.1" fill="none" stroke="#978a30" stroke-width="1.9"/>
<path d="M294.5 248.8 L295.4 251.7 L296.3 254.5 L297.2 257.1 L298.1 259.6 L299 262 L299.9 264.2 L300.8 266.4 L301.7 268.5 L302.7 270.5 L303.6 272.4 L304.5 274.3 L305.4 276.1 L306.3 277.9 L307.2 279.7 L308.1 281.4 L309 283.2 L309.9 284.9 L310.8 286.5 L311.7 288.2 L312.6 289.8 L313.5 291.4 L314.4 293 L315.3 294.6 L316.2 296.1 L317.1 297.7 L318.1 299.2 L319 300.7 L319.9 302.2 L320.8 303.6 L321.7 305.1 L322.6 306.5 L323.5 307.9 L324.4 309.3 L325.3 310.6 L326.2 312 L327.1 313.3 L328 314.7 L328.9 316 L329.8 317.3 L330.7 318.6 L331.6 319.8 L332.5 321.1 L333.5 322.4 L334.4 323.6 L335.3 324.8 L336.2 326 L337.1 327.2 L338 328.4 L338.9 329.6 L339.8 330.8 L340.7 331.9 L341.6 333 L342.5 334.2 L343.4 335.3 L344.3 336.4 L345.2 337.5 L346.1 338.6 L347 339.6 L347.9 340.7 L348.9 341.7 L349.8 342.8 L350.7 343.8 L351.6 344.8 L352.5 345.8 L353.4 346.8 L354.3 347.8 L355.2 348.8 L356.1 349.7 L357 350.7 L357.9 351.6 L358.8 352.6 L359.7 353.5 L360.6 354.4 L361.5 355.3 L362.4 356.2 L363.3 357.1 L364.3 358 L365.2 358.9 L366.1 359.7 L367 360.6 L367.9 361.4 L368.8 362.2 L369.7 363.1 L370.6 363.9 L371.5 364.7 L372.4 365.5 L373.3 366.3 L374.2 367.1 L375.1 367.8 L376 368.6 L376.9 369.4 L377.8 370.1 L378.7 370.9 L379.7 371.6 L380.6 372.4 L381.5 373.1 L382.4 373.8 L383.3 374.5 L384.2 375.2 L385.1 375.9 L386 376.6 L386.9 377.3 L387.8 378 L388.7 378.6 L389.6 379.3 L390.5 380 L391.4 380.6 L392.3 381.3 L393.2 381.9 L394.1 382.5 L395.1 383.2 L396 383.8 L396.9 384.4 L397.8 385 L398.7 385.6 L399.6 386.2 L400.5 386.8 L401.4 387.4 L402.3 388 L403.2 388.5 L404.1 389.1 L405 389.7 L405.9 390.2 L406.8 390.8 L407.7 391.3 L408.6 391.8 L409.5 392.4 L410.4 392.9 L411.4 393.4 L412.3 393.9 L413.2 394.4 L414.1 394.9 L415 395.4 L415.9 395.9 L416.8 396.4 L417.7 396.9 L418.6 397.3 L419.5 397.8 L420.4 398.3 L421.3 398.7 L422.2 399.2 L423.1 399.6 L424 400 L424.9 400.5 L425.8 400.9 L426.8 401.3 L427.7 401.7 L428.6 402.1 L429.5 402.5 L430.4 402.9 L431.3 403.3 L432.2 403.7 L433.1 404.1 L434 404.5 L434.9 404.8 L435.8 405.2 L436.7 405.5 L437.6 405.9 L438.5 406.2 L439.4 406.6 L440.3 406.9 L441.2 407.2 L442.2 407.6 L443.1 407.9 L444 408.2 L444.9 408.5 L445.8 408.8 L446.7 409.1 L447.6 409.4 L448.5 409.7 L449.4 410 L450.3 410.3 L451.2 410.5 L452.1 410.8 L453 411.1 L453.9 411.3 L454.8 411.6 L455.7 411.8 L456.6 412.1 L457.6 412.3 L458.5 412.5 L459.4 412.7 L460.3 413 L461.2 413.2 L462.1 413.4 L463 413.6 L463.9 413.8 L464.8 414 L465.7 414.2 L466.6 414.4 L467.5 414.6 L468.4 414.7 L469.3 414.9 L470.2 415.1 L471.1 415.2 L472 415.4 L473 415.5 L473.9 415.7 L474.8 415.8 L475.7 416 L476.6 416.1 L477.5 416.2 L478.4 416.4 L479.3 416.5 L480.2 416.6 L481.1 416.7 L482 416.8 L482.9 416.9 L483.8 417 L484.7 417.1 L485.6 417.2 L486.5 417.3 L487.4 417.4 L488.4 417.4 L489.3 417.5 L490.2 417.6 L491.1 417.6 L492 417.7 L492.9 417.7 L493.8 417.8 L494.7 417.8 L495.6 417.9 L496.5 417.9 L497.4 417.9 L498.3 418 L499.2 418 L500.1 418 L501 418 L501.9 418 L502.8 418 L503.8 418.1 L504.7 418 L505.6 418 L506.5 418 L507.4 418 L508.3 418 L509.2 418 L510.1 418 L511 417.9" fill="none" stroke="#7d8a2c" stroke-width="0.8"/>
<rect x="293.6" y="248" width="218.6" height="175.2" fill="none" stroke="#151515" stroke-width="1.7"/>
<line x1="315.4" y1="423.2" x2="315.4" y2="421.2" stroke="#222" stroke-width="1.2"/>
<line x1="354.8" y1="423.2" x2="354.8" y2="419.7" stroke="#222" stroke-width="1.2"/>
<text x="354.8" y="435.2" font-size="9.2" text-anchor="middle" fill="#000" >200</text>
<line x1="394.2" y1="423.2" x2="394.2" y2="421.2" stroke="#222" stroke-width="1.2"/>
<line x1="433.5" y1="423.2" x2="433.5" y2="419.7" stroke="#222" stroke-width="1.2"/>
<text x="433.5" y="435.2" font-size="9.2" text-anchor="middle" fill="#000" >400</text>
<line x1="472.9" y1="423.2" x2="472.9" y2="421.2" stroke="#222" stroke-width="1.2"/>
<line x1="512.2" y1="423.2" x2="512.2" y2="419.7" stroke="#222" stroke-width="1.2"/>
<text x="512.2" y="435.2" font-size="9.2" text-anchor="middle" fill="#000" >600</text>
<line x1="293.6" y1="417.5" x2="295.6" y2="417.5" stroke="#222" stroke-width="1.1"/>
<line x1="293.6" y1="412.4" x2="295.6" y2="412.4" stroke="#222" stroke-width="1.1"/>
<line x1="293.6" y1="408" x2="295.6" y2="408" stroke="#222" stroke-width="1.1"/>
<line x1="293.6" y1="404.1" x2="295.6" y2="404.1" stroke="#222" stroke-width="1.1"/>
<line x1="293.6" y1="400.6" x2="297.1" y2="400.6" stroke="#222" stroke-width="1.1"/>
<line x1="293.6" y1="377.6" x2="295.6" y2="377.6" stroke="#222" stroke-width="1.1"/>
<line x1="293.6" y1="364.2" x2="295.6" y2="364.2" stroke="#222" stroke-width="1.1"/>
<line x1="293.6" y1="354.7" x2="295.6" y2="354.7" stroke="#222" stroke-width="1.1"/>
<line x1="293.6" y1="347.3" x2="295.6" y2="347.3" stroke="#222" stroke-width="1.1"/>
<line x1="293.6" y1="341.2" x2="295.6" y2="341.2" stroke="#222" stroke-width="1.1"/>
<line x1="293.6" y1="336.1" x2="295.6" y2="336.1" stroke="#222" stroke-width="1.1"/>
<line x1="293.6" y1="331.7" x2="295.6" y2="331.7" stroke="#222" stroke-width="1.1"/>
<line x1="293.6" y1="327.8" x2="295.6" y2="327.8" stroke="#222" stroke-width="1.1"/>
<line x1="293.6" y1="324.3" x2="297.1" y2="324.3" stroke="#222" stroke-width="1.1"/>
<line x1="293.6" y1="301.3" x2="295.6" y2="301.3" stroke="#222" stroke-width="1.1"/>
<line x1="293.6" y1="287.9" x2="295.6" y2="287.9" stroke="#222" stroke-width="1.1"/>
<line x1="293.6" y1="278.4" x2="295.6" y2="278.4" stroke="#222" stroke-width="1.1"/>
<line x1="293.6" y1="271" x2="295.6" y2="271" stroke="#222" stroke-width="1.1"/>
<line x1="293.6" y1="264.9" x2="295.6" y2="264.9" stroke="#222" stroke-width="1.1"/>
<line x1="293.6" y1="259.8" x2="295.6" y2="259.8" stroke="#222" stroke-width="1.1"/>
<line x1="293.6" y1="255.4" x2="295.6" y2="255.4" stroke="#222" stroke-width="1.1"/>
<line x1="293.6" y1="251.5" x2="295.6" y2="251.5" stroke="#222" stroke-width="1.1"/>
<text x="290" y="250.6" font-size="9.2" text-anchor="end" fill="#000" >1</text>
<text x="289.5" y="327.2" font-size="9.2" text-anchor="end" fill="#000" >0.1</text>
<text x="289.5" y="403.5" font-size="9.2" text-anchor="end" fill="#000" >0.01</text>
<circle cx="405.6" cy="264.4" r="1.1" fill="#111"/>
<text x="418.4" y="267.6" font-size="9" text-anchor="start" fill="#000" >SnO<tspan font-size="6" dy="2">2</tspan></text>
<line x1="395.3" y1="277.8" x2="415.2" y2="277.8" stroke="#a89040" stroke-width="1.5"/>
<text x="418.4" y="281" font-size="9" text-anchor="start" fill="#000" >Fitting line</text>
<circle cx="405.6" cy="289.8" r="1.1" fill="#f22"/>
<text x="418.4" y="293" font-size="9" text-anchor="start" fill="#000" >0.025M ZnO/SnO<tspan font-size="6" dy="2">2</tspan></text>
<line x1="395.3" y1="302.9" x2="415.2" y2="302.9" stroke="#6a1a2a" stroke-width="1.5"/>
<text x="418.4" y="306.1" font-size="9" text-anchor="start" fill="#000" >Fitting line</text>
<circle cx="405.6" cy="314.6" r="1.1" fill="#22c"/>
<text x="418.4" y="317.8" font-size="9" text-anchor="start" fill="#000" >0.030M ZnO/SnO<tspan font-size="6" dy="2">2</tspan></text>
<line x1="395.3" y1="327.4" x2="415.2" y2="327.4" stroke="#3a8a3a" stroke-width="1.5"/>
<text x="418.4" y="330.6" font-size="9" text-anchor="start" fill="#000" >Fitting line</text>
<text x="307.5" y="372" font-size="9" text-anchor="start" fill="#111" >τ =26.20 ns</text>
<text x="307.5" y="382.7" font-size="9" text-anchor="start" fill="#e62a2a" >τ =23.02 ns</text>
<text x="307.5" y="396.2" font-size="9" text-anchor="start" fill="#2828c4" >τ =25.16 ns</text>
<text x="403.3" y="450.3" font-size="15" text-anchor="middle" fill="#000" >Time (ns)</text>
<text x="269.6" y="335.7" font-size="15" text-anchor="middle" fill="#000" textLength="133" lengthAdjust="spacingAndGlyphs" transform="rotate(-90 269.6 335.7)">Intensity (arb. units)</text>
</svg></body></html>
